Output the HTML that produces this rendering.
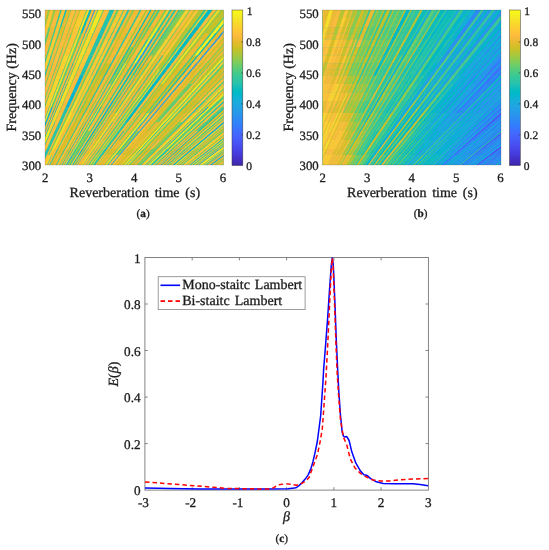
<!DOCTYPE html>
<html><head><meta charset="utf-8"><title>Figure</title>
<style>
html,body{margin:0;padding:0;background:#fff;}
svg{display:block;font-family:"Liberation Serif",serif;fill:#1c1c1c;}
text{stroke:#1c1c1c;stroke-width:0.3px;text-rendering:geometricPrecision}
.t{font-size:12.8px}
.t2{font-size:13.2px}
.tc{font-size:11.5px}
.l{font-size:14px}
.cap{font-size:11.2px}
.cap tspan{font-weight:bold}
</style></head><body>
<svg width="549" height="550" viewBox="0 0 549 550">
<defs>
<linearGradient id="pg" x1="0" y1="1" x2="0" y2="0">
<stop offset="0.0000" stop-color="#3e26a8"/>
<stop offset="0.0159" stop-color="#402ab4"/>
<stop offset="0.0317" stop-color="#422ec0"/>
<stop offset="0.0476" stop-color="#4332cb"/>
<stop offset="0.0635" stop-color="#4537d5"/>
<stop offset="0.0794" stop-color="#463cde"/>
<stop offset="0.0952" stop-color="#4741e5"/>
<stop offset="0.1111" stop-color="#4747eb"/>
<stop offset="0.1270" stop-color="#484df0"/>
<stop offset="0.1429" stop-color="#4852f4"/>
<stop offset="0.1587" stop-color="#4758f8"/>
<stop offset="0.1746" stop-color="#465efb"/>
<stop offset="0.1905" stop-color="#4563fd"/>
<stop offset="0.2063" stop-color="#4269fe"/>
<stop offset="0.2222" stop-color="#3e6fff"/>
<stop offset="0.2381" stop-color="#3875fe"/>
<stop offset="0.2540" stop-color="#327cfc"/>
<stop offset="0.2698" stop-color="#2f81fa"/>
<stop offset="0.2857" stop-color="#2e87f7"/>
<stop offset="0.3016" stop-color="#2d8cf3"/>
<stop offset="0.3175" stop-color="#2b91ef"/>
<stop offset="0.3333" stop-color="#2797eb"/>
<stop offset="0.3492" stop-color="#259be8"/>
<stop offset="0.3651" stop-color="#23a0e5"/>
<stop offset="0.3810" stop-color="#20a5e3"/>
<stop offset="0.3968" stop-color="#1ca9df"/>
<stop offset="0.4127" stop-color="#18addb"/>
<stop offset="0.4286" stop-color="#12b1d6"/>
<stop offset="0.4444" stop-color="#08b5d0"/>
<stop offset="0.4603" stop-color="#01b8ca"/>
<stop offset="0.4762" stop-color="#02bac3"/>
<stop offset="0.4921" stop-color="#0bbdbd"/>
<stop offset="0.5079" stop-color="#19bfb6"/>
<stop offset="0.5238" stop-color="#24c1ae"/>
<stop offset="0.5397" stop-color="#2cc4a7"/>
<stop offset="0.5556" stop-color="#31c69f"/>
<stop offset="0.5714" stop-color="#37c897"/>
<stop offset="0.5873" stop-color="#3fca8e"/>
<stop offset="0.6032" stop-color="#4acb84"/>
<stop offset="0.6190" stop-color="#57cc7a"/>
<stop offset="0.6349" stop-color="#64cd6f"/>
<stop offset="0.6508" stop-color="#72cd64"/>
<stop offset="0.6667" stop-color="#81cc59"/>
<stop offset="0.6825" stop-color="#8fcb4e"/>
<stop offset="0.6984" stop-color="#9dc943"/>
<stop offset="0.7143" stop-color="#abc739"/>
<stop offset="0.7302" stop-color="#b9c431"/>
<stop offset="0.7460" stop-color="#c5c22a"/>
<stop offset="0.7619" stop-color="#d1bf27"/>
<stop offset="0.7778" stop-color="#dcbd29"/>
<stop offset="0.7937" stop-color="#e6bb2d"/>
<stop offset="0.8095" stop-color="#f0ba36"/>
<stop offset="0.8254" stop-color="#f8ba3d"/>
<stop offset="0.8413" stop-color="#febe3c"/>
<stop offset="0.8571" stop-color="#fec338"/>
<stop offset="0.8730" stop-color="#fec934"/>
<stop offset="0.8889" stop-color="#fccf30"/>
<stop offset="0.9048" stop-color="#fad62d"/>
<stop offset="0.9206" stop-color="#f7dc2a"/>
<stop offset="0.9365" stop-color="#f5e327"/>
<stop offset="0.9524" stop-color="#f5e924"/>
<stop offset="0.9683" stop-color="#f6ef20"/>
<stop offset="0.9841" stop-color="#f7f51b"/>
<stop offset="1.0000" stop-color="#f9fb15"/>
</linearGradient>
<filter id="bl" x="-5%" y="-5%" width="110%" height="110%"><feGaussianBlur stdDeviation="0.55"/></filter>
<clipPath id="c1"><rect x="45.0" y="10" width="178.5" height="155.0"/></clipPath>
<clipPath id="c2"><rect x="322.5" y="10" width="178.5" height="155.0"/></clipPath>
</defs>
<rect width="549" height="550" fill="#fff"/>
<rect x="45.0" y="10.0" width="178.5" height="155.0" fill="#c8c129"/>
<g clip-path="url(#c1)" filter="url(#bl)">
<path fill="#f6f020" d="M232.1 8.0L236.0 8.0L227.8 18.3L224.0 18.3z"/>
<path fill="#5ccc76" d="M230.0 8.0L232.5 8.0L224.4 18.3L221.9 18.3z"/>
<path fill="#c0c32d" d="M224.2 8.0L230.4 8.0L222.3 18.3L216.3 18.3z"/>
<path fill="#9ec942" d="M221.3 8.0L224.6 8.0L216.7 18.3L213.5 18.3z"/>
<path fill="#f8da2b" d="M218.9 8.0L221.7 8.0L213.9 18.3L211.2 18.3z"/>
<path fill="#7bcc5d" d="M217.3 8.0L219.3 8.0L211.6 18.3L209.6 18.3z"/>
<path fill="#f7ba3d" d="M213.5 8.0L217.7 8.0L210.0 18.3L206.0 18.3z"/>
<path fill="#02bac4" d="M208.9 8.0L213.9 8.0L206.4 18.3L201.5 18.3z"/>
<path fill="#fdce31" d="M207.4 8.0L209.3 8.0L201.9 18.3L200.0 18.3z"/>
<path fill="#3fca8e" d="M204.6 8.0L207.8 8.0L200.4 18.3L197.3 18.3z"/>
<path fill="#c8c129" d="M202.6 8.0L205.0 8.0L197.7 18.3L195.3 18.3z"/>
<path fill="#aac73a" d="M199.8 8.0L203.0 8.0L195.7 18.3L192.6 18.3z"/>
<path fill="#fec438" d="M196.8 8.0L200.2 8.0L193.0 18.3L189.7 18.3z"/>
<path fill="#c2c22c" d="M195.1 8.0L197.2 8.0L190.1 18.3L188.1 18.3z"/>
<path fill="#fcbc3d" d="M191.6 8.0L195.5 8.0L188.5 18.3L184.7 18.3z"/>
<path fill="#7ecc5b" d="M190.2 8.0L192.0 8.0L185.1 18.3L183.4 18.3z"/>
<path fill="#fcd030" d="M186.7 8.0L190.6 8.0L183.8 18.3L179.9 18.3z"/>
<path fill="#85cb55" d="M184.8 8.0L187.1 8.0L180.3 18.3L178.1 18.3z"/>
<path fill="#70cd65" d="M180.6 8.0L185.2 8.0L178.5 18.3L174.0 18.3z"/>
<path fill="#05bbc1" d="M179.6 8.0L181.0 8.0L174.4 18.3L173.1 18.3z"/>
<path fill="#f8ba3d" d="M177.2 8.0L180.0 8.0L173.5 18.3L170.7 18.3z"/>
<path fill="#34c79c" d="M174.8 8.0L177.6 8.0L171.1 18.3L168.4 18.3z"/>
<path fill="#f6ba3b" d="M172.7 8.0L175.2 8.0L168.8 18.3L166.3 18.3z"/>
<path fill="#32c69f" d="M170.3 8.0L173.1 8.0L166.7 18.3L164.0 18.3z"/>
<path fill="#fdce31" d="M167.7 8.0L170.7 8.0L164.4 18.3L161.5 18.3z"/>
<path fill="#87cb54" d="M165.6 8.0L168.1 8.0L161.9 18.3L159.4 18.3z"/>
<path fill="#eeba34" d="M161.0 8.0L166.0 8.0L159.8 18.3L155.0 18.3z"/>
<path fill="#41ca8c" d="M158.8 8.0L161.4 8.0L155.4 18.3L152.9 18.3z"/>
<path fill="#d5be28" d="M156.9 8.0L159.2 8.0L153.3 18.3L151.0 18.3z"/>
<path fill="#31c6a0" d="M155.6 8.0L157.3 8.0L151.4 18.3L149.7 18.3z"/>
<path fill="#e8bb2e" d="M152.2 8.0L156.0 8.0L150.1 18.3L146.5 18.3z"/>
<path fill="#05bbc1" d="M150.7 8.0L152.6 8.0L146.9 18.3L144.9 18.3z"/>
<path fill="#febd3c" d="M148.3 8.0L151.1 8.0L145.3 18.3L142.7 18.3z"/>
<path fill="#a7c73c" d="M146.4 8.0L148.7 8.0L143.1 18.3L140.8 18.3z"/>
<path fill="#fec03b" d="M142.1 8.0L146.8 8.0L141.2 18.3L136.7 18.3z"/>
<path fill="#33c69e" d="M140.3 8.0L142.5 8.0L137.1 18.3L134.9 18.3z"/>
<path fill="#f0ba36" d="M135.0 8.0L140.7 8.0L135.3 18.3L129.7 18.3z"/>
<path fill="#94ca4a" d="M132.7 8.0L135.4 8.0L130.1 18.3L127.5 18.3z"/>
<path fill="#f4ba3a" d="M130.2 8.0L133.1 8.0L127.9 18.3L125.1 18.3z"/>
<path fill="#2cc4a7" d="M128.0 8.0L130.6 8.0L125.5 18.3L123.0 18.3z"/>
<path fill="#fec13a" d="M124.8 8.0L128.4 8.0L123.4 18.3L119.8 18.3z"/>
<path fill="#41ca8d" d="M123.8 8.0L125.2 8.0L120.2 18.3L118.8 18.3z"/>
<path fill="#fec636" d="M119.5 8.0L124.2 8.0L119.2 18.3L114.7 18.3z"/>
<path fill="#69cd6b" d="M117.1 8.0L119.9 8.0L115.1 18.3L112.4 18.3z"/>
<path fill="#fdbd3d" d="M114.8 8.0L117.5 8.0L112.8 18.3L110.2 18.3z"/>
<path fill="#22c1b0" d="M109.9 8.0L115.2 8.0L110.6 18.3L105.4 18.3z"/>
<path fill="#fdbd3d" d="M104.4 8.0L110.3 8.0L105.8 18.3L100.0 18.3z"/>
<path fill="#4ccb82" d="M103.4 8.0L104.8 8.0L100.4 18.3L99.1 18.3z"/>
<path fill="#f5e227" d="M98.9 8.0L103.8 8.0L99.5 18.3L94.7 18.3z"/>
<path fill="#54cc7c" d="M97.8 8.0L99.3 8.0L95.1 18.3L93.7 18.3z"/>
<path fill="#fec735" d="M95.7 8.0L98.2 8.0L94.1 18.3L91.6 18.3z"/>
<path fill="#2994ed" d="M94.6 8.0L96.1 8.0L92.0 18.3L90.6 18.3z"/>
<path fill="#f9ba3d" d="M92.0 8.0L95.0 8.0L91.0 18.3L88.0 18.3z"/>
<path fill="#01bac5" d="M89.8 8.0L92.4 8.0L88.4 18.3L85.8 18.3z"/>
<path fill="#f7db2a" d="M87.5 8.0L90.2 8.0L86.2 18.3L83.7 18.3z"/>
<path fill="#60cd72" d="M86.6 8.0L87.9 8.0L84.1 18.3L82.7 18.3z"/>
<path fill="#fec735" d="M81.0 8.0L87.0 8.0L83.1 18.3L77.3 18.3z"/>
<path fill="#bbc430" d="M79.7 8.0L81.4 8.0L77.7 18.3L76.1 18.3z"/>
<path fill="#f9ba3d" d="M76.8 8.0L80.1 8.0L76.5 18.3L73.3 18.3z"/>
<path fill="#87cb54" d="M75.9 8.0L77.2 8.0L73.7 18.3L72.4 18.3z"/>
<path fill="#fdbd3d" d="M71.4 8.0L76.3 8.0L72.8 18.3L68.1 18.3z"/>
<path fill="#73cd62" d="M70.5 8.0L71.8 8.0L68.5 18.3L67.1 18.3z"/>
<path fill="#e5bb2d" d="M67.1 8.0L70.9 8.0L67.5 18.3L63.8 18.3z"/>
<path fill="#10beba" d="M65.5 8.0L67.5 8.0L64.2 18.3L62.3 18.3z"/>
<path fill="#fec338" d="M62.0 8.0L65.9 8.0L62.7 18.3L58.9 18.3z"/>
<path fill="#37c897" d="M60.4 8.0L62.4 8.0L59.3 18.3L57.3 18.3z"/>
<path fill="#f3ba39" d="M55.8 8.0L60.8 8.0L57.7 18.3L52.9 18.3z"/>
<path fill="#95ca49" d="M53.6 8.0L56.2 8.0L53.3 18.3L50.8 18.3z"/>
<path fill="#fec437" d="M50.1 8.0L54.0 8.0L51.2 18.3L47.4 18.3z"/>
<path fill="#98ca47" d="M48.0 8.0L50.5 8.0L47.8 18.3L45.3 18.3z"/>
<path fill="#fabb3d" d="M45.6 8.0L48.4 8.0L45.7 18.3L43.0 18.3z"/>
<path fill="#9ec942" d="M44.4 8.0L46.0 8.0L43.4 18.3L41.8 18.3z"/>
<path fill="#fec339" d="M40.2 8.0L44.8 8.0L42.2 18.3L37.7 18.3z"/>
<path fill="#249fe5" d="M233.7 18.0L236.2 18.0L228.1 27.8L225.8 27.8z"/>
<path fill="#fec537" d="M229.4 18.0L234.1 18.0L226.2 27.8L221.5 27.8z"/>
<path fill="#31c6a0" d="M227.4 18.0L229.8 18.0L221.9 27.8L219.6 27.8z"/>
<path fill="#f6f020" d="M224.0 18.0L227.8 18.0L220.0 27.8L216.3 27.8z"/>
<path fill="#65cd6e" d="M221.9 18.0L224.4 18.0L216.7 27.8L214.3 27.8z"/>
<path fill="#c8c129" d="M216.3 18.0L222.3 18.0L214.7 27.8L208.8 27.8z"/>
<path fill="#a8c73b" d="M213.5 18.0L216.7 18.0L209.2 27.8L206.1 27.8z"/>
<path fill="#f6df29" d="M211.2 18.0L213.9 18.0L206.5 27.8L203.9 27.8z"/>
<path fill="#86cb55" d="M209.6 18.0L211.6 18.0L204.3 27.8L202.3 27.8z"/>
<path fill="#fcbc3d" d="M206.0 18.0L210.0 18.0L202.7 27.8L198.8 27.8z"/>
<path fill="#07bcbf" d="M201.5 18.0L206.4 18.0L199.2 27.8L194.4 27.8z"/>
<path fill="#fbd32f" d="M200.0 18.0L201.9 18.0L194.8 27.8L192.9 27.8z"/>
<path fill="#46cb87" d="M197.3 18.0L200.4 18.0L193.3 27.8L190.3 27.8z"/>
<path fill="#d1bf27" d="M195.3 18.0L197.7 18.0L190.7 27.8L188.5 27.8z"/>
<path fill="#b4c534" d="M192.6 18.0L195.7 18.0L188.9 27.8L185.8 27.8z"/>
<path fill="#fec835" d="M189.7 18.0L193.0 18.0L186.2 27.8L183.0 27.8z"/>
<path fill="#cbc129" d="M188.1 18.0L190.1 18.0L183.4 27.8L181.4 27.8z"/>
<path fill="#febf3b" d="M184.7 18.0L188.5 18.0L181.8 27.8L178.1 27.8z"/>
<path fill="#88cb53" d="M183.4 18.0L185.1 18.0L178.5 27.8L176.8 27.8z"/>
<path fill="#fad52e" d="M179.9 18.0L183.8 18.0L177.2 27.8L173.5 27.8z"/>
<path fill="#8fca4d" d="M178.1 18.0L180.3 18.0L173.9 27.8L171.7 27.8z"/>
<path fill="#7acc5d" d="M174.0 18.0L178.5 18.0L172.1 27.8L167.8 27.8z"/>
<path fill="#0bbdbc" d="M173.1 18.0L174.4 18.0L168.2 27.8L166.8 27.8z"/>
<path fill="#fcbd3d" d="M170.7 18.0L173.5 18.0L167.2 27.8L164.5 27.8z"/>
<path fill="#38c896" d="M168.4 18.0L171.1 18.0L164.9 27.8L162.3 27.8z"/>
<path fill="#fabc3d" d="M166.3 18.0L168.8 18.0L162.7 27.8L160.3 27.8z"/>
<path fill="#36c799" d="M164.0 18.0L166.7 18.0L160.7 27.8L158.0 27.8z"/>
<path fill="#fbd22f" d="M161.5 18.0L164.4 18.0L158.4 27.8L155.6 27.8z"/>
<path fill="#91ca4c" d="M159.4 18.0L161.9 18.0L156.0 27.8L153.6 27.8z"/>
<path fill="#f4ba39" d="M155.0 18.0L159.8 18.0L154.0 27.8L149.3 27.8z"/>
<path fill="#49cb86" d="M152.9 18.0L155.4 18.0L149.7 27.8L147.2 27.8z"/>
<path fill="#ddbd29" d="M151.0 18.0L153.3 18.0L147.6 27.8L145.4 27.8z"/>
<path fill="#35c79a" d="M149.7 18.0L151.4 18.0L145.8 27.8L144.1 27.8z"/>
<path fill="#eeba34" d="M146.5 18.0L150.1 18.0L144.5 27.8L141.0 27.8z"/>
<path fill="#0cbdbc" d="M144.9 18.0L146.9 18.0L141.4 27.8L139.5 27.8z"/>
<path fill="#fec13a" d="M142.7 18.0L145.3 18.0L139.9 27.8L137.3 27.8z"/>
<path fill="#b1c636" d="M140.8 18.0L143.1 18.0L137.7 27.8L135.5 27.8z"/>
<path fill="#fec438" d="M136.7 18.0L141.2 18.0L135.9 27.8L131.5 27.8z"/>
<path fill="#37c898" d="M134.9 18.0L137.1 18.0L131.9 27.8L129.7 27.8z"/>
<path fill="#f6ba3b" d="M129.7 18.0L135.3 18.0L130.1 27.8L124.7 27.8z"/>
<path fill="#9ec942" d="M127.5 18.0L130.1 18.0L125.1 27.8L122.6 27.8z"/>
<path fill="#fabb3d" d="M125.1 18.0L127.9 18.0L123.0 27.8L120.3 27.8z"/>
<path fill="#30c5a2" d="M123.0 18.0L125.5 18.0L120.7 27.8L118.2 27.8z"/>
<path fill="#fec537" d="M119.8 18.0L123.4 18.0L118.6 27.8L115.1 27.8z"/>
<path fill="#48cb86" d="M118.8 18.0L120.2 18.0L115.5 27.8L114.2 27.8z"/>
<path fill="#feca33" d="M114.7 18.0L119.2 18.0L114.6 27.8L110.2 27.8z"/>
<path fill="#73cd63" d="M112.4 18.0L115.1 18.0L110.6 27.8L107.9 27.8z"/>
<path fill="#fec13a" d="M110.2 18.0L112.8 18.0L108.3 27.8L105.7 27.8z"/>
<path fill="#28c3aa" d="M105.4 18.0L110.6 18.0L106.1 27.8L101.1 27.8z"/>
<path fill="#fec13a" d="M100.0 18.0L105.8 18.0L101.5 27.8L95.9 27.8z"/>
<path fill="#55cc7b" d="M99.1 18.0L100.4 18.0L96.3 27.8L95.0 27.8z"/>
<path fill="#f5e625" d="M94.7 18.0L99.5 18.0L95.4 27.8L90.7 27.8z"/>
<path fill="#5dcc74" d="M93.7 18.0L95.1 18.0L91.1 27.8L89.7 27.8z"/>
<path fill="#fdcb32" d="M91.6 18.0L94.1 18.0L90.1 27.8L87.7 27.8z"/>
<path fill="#2797ea" d="M90.6 18.0L92.0 18.0L88.1 27.8L86.7 27.8z"/>
<path fill="#fdbd3d" d="M88.0 18.0L91.0 18.0L87.1 27.8L84.2 27.8z"/>
<path fill="#06bcc0" d="M85.8 18.0L88.4 18.0L84.6 27.8L82.1 27.8z"/>
<path fill="#f6e028" d="M83.7 18.0L86.2 18.0L82.5 27.8L80.0 27.8z"/>
<path fill="#6acd6a" d="M82.7 18.0L84.1 18.0L80.4 27.8L79.1 27.8z"/>
<path fill="#fdcb33" d="M77.3 18.0L83.1 18.0L79.5 27.8L73.8 27.8z"/>
<path fill="#c4c22b" d="M76.1 18.0L77.7 18.0L74.2 27.8L72.6 27.8z"/>
<path fill="#fdbd3d" d="M73.3 18.0L76.5 18.0L73.0 27.8L69.9 27.8z"/>
<path fill="#91ca4c" d="M72.4 18.0L73.7 18.0L70.3 27.8L69.1 27.8z"/>
<path fill="#fec03a" d="M68.1 18.0L72.8 18.0L69.5 27.8L64.8 27.8z"/>
<path fill="#7ecc5b" d="M67.1 18.0L68.5 18.0L65.2 27.8L63.9 27.8z"/>
<path fill="#ebba32" d="M63.8 18.0L67.5 18.0L64.3 27.8L60.7 27.8z"/>
<path fill="#19bfb5" d="M62.3 18.0L64.2 18.0L61.1 27.8L59.2 27.8z"/>
<path fill="#fec735" d="M58.9 18.0L62.7 18.0L59.6 27.8L55.9 27.8z"/>
<path fill="#3dc990" d="M57.3 18.0L59.3 18.0L56.3 27.8L54.4 27.8z"/>
<path fill="#f9ba3d" d="M52.9 18.0L57.7 18.0L54.8 27.8L50.1 27.8z"/>
<path fill="#9fc942" d="M50.8 18.0L53.3 18.0L50.5 27.8L48.0 27.8z"/>
<path fill="#fec934" d="M47.4 18.0L51.2 18.0L48.4 27.8L44.7 27.8z"/>
<path fill="#a2c840" d="M45.3 18.0L47.8 18.0L45.1 27.8L42.8 27.8z"/>
<path fill="#febe3c" d="M43.0 18.0L45.7 18.0L43.2 27.8L40.5 27.8z"/>
<path fill="#a8c73b" d="M41.8 18.0L43.4 18.0L40.9 27.8L39.4 27.8z"/>
<path fill="#fec736" d="M37.7 18.0L42.2 18.0L39.8 27.8L35.3 27.8z"/>
<path fill="#c1c32c" d="M231.2 27.5L233.9 27.5L228.7 33.8L226.0 33.8z"/>
<path fill="#fabb3d" d="M227.7 27.5L231.6 27.5L226.4 33.8L222.7 33.8z"/>
<path fill="#259be8" d="M225.8 27.5L228.1 27.5L223.1 33.8L220.7 33.8z"/>
<path fill="#eabb30" d="M221.5 27.5L226.2 27.5L221.1 33.8L216.5 33.8z"/>
<path fill="#2cc4a7" d="M219.6 27.5L221.9 27.5L216.9 33.8L214.7 33.8z"/>
<path fill="#f6f020" d="M216.3 27.5L220.0 27.5L215.1 33.8L211.4 33.8z"/>
<path fill="#59cc78" d="M214.3 27.5L216.7 27.5L211.8 33.8L209.5 33.8z"/>
<path fill="#bdc32f" d="M208.8 27.5L214.7 27.5L209.9 33.8L204.1 33.8z"/>
<path fill="#9bc945" d="M206.1 27.5L209.2 27.5L204.5 33.8L201.4 33.8z"/>
<path fill="#f6df29" d="M203.9 27.5L206.5 27.5L201.8 33.8L199.2 33.8z"/>
<path fill="#78cc5f" d="M202.3 27.5L204.3 27.5L199.6 33.8L197.7 33.8z"/>
<path fill="#f6ba3b" d="M198.8 27.5L202.7 27.5L198.1 33.8L194.2 33.8z"/>
<path fill="#01b9c6" d="M194.4 27.5L199.2 27.5L194.6 33.8L189.9 33.8z"/>
<path fill="#fdcd32" d="M192.9 27.5L194.8 27.5L190.3 33.8L188.5 33.8z"/>
<path fill="#3dc990" d="M190.3 27.5L193.3 27.5L188.9 33.8L185.9 33.8z"/>
<path fill="#c6c22a" d="M188.5 27.5L190.7 27.5L186.3 33.8L184.1 33.8z"/>
<path fill="#a7c73c" d="M185.8 27.5L188.9 27.5L184.5 33.8L181.5 33.8z"/>
<path fill="#fec339" d="M183.0 27.5L186.2 27.5L181.9 33.8L178.7 33.8z"/>
<path fill="#bfc32d" d="M181.4 27.5L183.4 27.5L179.1 33.8L177.2 33.8z"/>
<path fill="#fabb3d" d="M178.1 27.5L181.8 27.5L177.6 33.8L173.9 33.8z"/>
<path fill="#7bcc5d" d="M176.8 27.5L178.5 27.5L174.3 33.8L172.7 33.8z"/>
<path fill="#feca33" d="M173.5 27.5L177.2 27.5L173.1 33.8L169.4 33.8z"/>
<path fill="#82cc58" d="M171.7 27.5L173.9 27.5L169.8 33.8L167.7 33.8z"/>
<path fill="#6dcd68" d="M167.8 27.5L172.1 27.5L168.1 33.8L163.8 33.8z"/>
<path fill="#03bbc3" d="M166.8 27.5L168.2 27.5L164.2 33.8L162.9 33.8z"/>
<path fill="#f6ba3c" d="M164.5 27.5L167.2 27.5L163.3 33.8L160.6 33.8z"/>
<path fill="#32c69e" d="M162.3 27.5L164.9 27.5L161.0 33.8L158.4 33.8z"/>
<path fill="#f4ba39" d="M160.3 27.5L162.7 27.5L158.8 33.8L156.5 33.8z"/>
<path fill="#30c5a1" d="M158.0 27.5L160.7 27.5L156.9 33.8L154.2 33.8z"/>
<path fill="#f5eb23" d="M155.6 27.5L158.4 27.5L154.6 33.8L151.9 33.8z"/>
<path fill="#84cc56" d="M153.6 27.5L156.0 27.5L152.3 33.8L149.9 33.8z"/>
<path fill="#ecba32" d="M149.3 27.5L154.0 27.5L150.3 33.8L145.7 33.8z"/>
<path fill="#6bcd69" d="M147.2 27.5L149.7 27.5L146.1 33.8L143.6 33.8z"/>
<path fill="#d3bf27" d="M145.4 27.5L147.6 27.5L144.0 33.8L141.8 33.8z"/>
<path fill="#30c5a2" d="M144.1 27.5L145.8 27.5L142.2 33.8L140.6 33.8z"/>
<path fill="#e6bb2d" d="M141.0 27.5L144.5 27.5L141.0 33.8L137.5 33.8z"/>
<path fill="#03bbc2" d="M139.5 27.5L141.4 27.5L137.9 33.8L136.1 33.8z"/>
<path fill="#fcbd3d" d="M137.3 27.5L139.9 27.5L136.5 33.8L133.9 33.8z"/>
<path fill="#a4c83e" d="M135.5 27.5L137.7 27.5L134.3 33.8L132.1 33.8z"/>
<path fill="#febf3c" d="M131.5 27.5L135.9 27.5L132.5 33.8L128.2 33.8z"/>
<path fill="#31c69f" d="M129.7 27.5L131.9 27.5L128.6 33.8L126.5 33.8z"/>
<path fill="#eeba34" d="M124.7 27.5L130.1 27.5L126.9 33.8L121.6 33.8z"/>
<path fill="#c8c129" d="M122.6 27.5L125.1 27.5L122.0 33.8L119.5 33.8z"/>
<path fill="#f2ba38" d="M120.3 27.5L123.0 27.5L119.9 33.8L117.2 33.8z"/>
<path fill="#2ac3a9" d="M118.2 27.5L120.7 27.5L117.6 33.8L115.1 33.8z"/>
<path fill="#fec03b" d="M115.1 27.5L118.6 27.5L115.5 33.8L112.2 33.8z"/>
<path fill="#3eca8f" d="M114.2 27.5L115.5 27.5L112.6 33.8L111.2 33.8z"/>
<path fill="#fec537" d="M110.2 27.5L114.6 27.5L111.6 33.8L107.3 33.8z"/>
<path fill="#66cd6d" d="M107.9 27.5L110.6 27.5L107.7 33.8L105.1 33.8z"/>
<path fill="#fcbc3d" d="M105.7 27.5L108.3 27.5L105.5 33.8L102.9 33.8z"/>
<path fill="#20c1b1" d="M101.1 27.5L106.1 27.5L103.3 33.8L98.4 33.8z"/>
<path fill="#fcbc3d" d="M95.9 27.5L101.5 27.5L98.8 33.8L93.3 33.8z"/>
<path fill="#4acb85" d="M95.0 27.5L96.3 27.5L93.7 33.8L92.4 33.8z"/>
<path fill="#f6e128" d="M90.7 27.5L95.4 27.5L92.8 33.8L88.2 33.8z"/>
<path fill="#52cc7e" d="M89.7 27.5L91.1 27.5L88.6 33.8L87.2 33.8z"/>
<path fill="#fec636" d="M87.7 27.5L90.1 27.5L87.6 33.8L85.2 33.8z"/>
<path fill="#2a93ee" d="M86.7 27.5L88.1 27.5L85.6 33.8L84.3 33.8z"/>
<path fill="#f7ba3c" d="M84.2 27.5L87.1 27.5L84.7 33.8L81.8 33.8z"/>
<path fill="#01b9c7" d="M82.1 27.5L84.6 27.5L82.2 33.8L79.8 33.8z"/>
<path fill="#f8da2b" d="M80.0 27.5L82.5 27.5L80.2 33.8L77.7 33.8z"/>
<path fill="#5dcc75" d="M79.1 27.5L80.4 27.5L78.1 33.8L76.8 33.8z"/>
<path fill="#fec636" d="M73.8 27.5L79.5 27.5L77.2 33.8L71.6 33.8z"/>
<path fill="#b8c431" d="M72.6 27.5L74.2 27.5L72.0 33.8L70.4 33.8z"/>
<path fill="#f7ba3c" d="M69.9 27.5L73.0 27.5L70.8 33.8L67.8 33.8z"/>
<path fill="#84cc57" d="M69.1 27.5L70.3 27.5L68.2 33.8L67.0 33.8z"/>
<path fill="#fabb3d" d="M64.8 27.5L69.5 27.5L67.4 33.8L62.8 33.8z"/>
<path fill="#70cd65" d="M63.9 27.5L65.2 27.5L63.2 33.8L61.9 33.8z"/>
<path fill="#e3bc2c" d="M60.7 27.5L64.3 27.5L62.3 33.8L58.8 33.8z"/>
<path fill="#52cc7e" d="M59.2 27.5L61.1 27.5L59.2 33.8L57.3 33.8z"/>
<path fill="#fec239" d="M55.9 27.5L59.6 27.5L57.7 33.8L54.0 33.8z"/>
<path fill="#3fca8f" d="M54.4 27.5L56.3 27.5L54.4 33.8L52.6 33.8z"/>
<path fill="#f1ba37" d="M50.1 27.5L54.8 27.5L53.0 33.8L48.3 33.8z"/>
<path fill="#5dcc75" d="M48.0 27.5L50.5 27.5L48.7 33.8L46.3 33.8z"/>
<path fill="#fec338" d="M44.7 27.5L48.4 27.5L46.7 33.8L43.1 33.8z"/>
<path fill="#95ca49" d="M42.8 27.5L45.1 27.5L43.5 33.8L41.1 33.8z"/>
<path fill="#f9ba3d" d="M40.5 27.5L43.2 27.5L41.5 33.8L38.9 33.8z"/>
<path fill="#9bc945" d="M39.4 27.5L40.9 27.5L39.3 33.8L37.8 33.8z"/>
<path fill="#7bcc5d" d="M231.6 33.5L234.1 33.5L228.8 39.8L226.3 39.8z"/>
<path fill="#e5bb2d" d="M228.3 33.5L232.0 33.5L226.7 39.8L223.1 39.8z"/>
<path fill="#bac430" d="M226.0 33.5L228.7 33.5L223.5 39.8L220.9 39.8z"/>
<path fill="#f8ba3d" d="M222.7 33.5L226.4 33.5L221.3 39.8L217.6 39.8z"/>
<path fill="#2699e9" d="M220.7 33.5L223.1 33.5L218.0 39.8L215.7 39.8z"/>
<path fill="#e6bb2d" d="M216.5 33.5L221.1 33.5L216.1 39.8L211.6 39.8z"/>
<path fill="#01b8c8" d="M214.7 33.5L216.9 33.5L212.0 39.8L209.7 39.8z"/>
<path fill="#f6f020" d="M211.4 33.5L215.1 33.5L210.1 39.8L206.6 39.8z"/>
<path fill="#34c79b" d="M209.5 33.5L211.8 33.5L207.0 39.8L204.6 39.8z"/>
<path fill="#e3bb2c" d="M204.1 33.5L209.9 33.5L205.0 39.8L199.3 39.8z"/>
<path fill="#96ca49" d="M201.4 33.5L204.5 33.5L199.7 39.8L196.8 39.8z"/>
<path fill="#f7dd2a" d="M199.2 33.5L201.8 33.5L197.2 39.8L194.6 39.8z"/>
<path fill="#73cd63" d="M197.7 33.5L199.6 33.5L195.0 39.8L193.1 39.8z"/>
<path fill="#f2ba38" d="M194.2 33.5L198.1 33.5L193.5 39.8L189.7 39.8z"/>
<path fill="#01b8c8" d="M189.9 33.5L194.6 33.5L190.1 39.8L185.5 39.8z"/>
<path fill="#fdcb33" d="M188.5 33.5L190.3 33.5L185.9 39.8L184.1 39.8z"/>
<path fill="#3ac994" d="M185.9 33.5L188.9 33.5L184.5 39.8L181.6 39.8z"/>
<path fill="#c1c32c" d="M184.1 33.5L186.3 33.5L182.0 39.8L179.8 39.8z"/>
<path fill="#a4c83e" d="M181.5 33.5L184.5 33.5L180.2 39.8L177.2 39.8z"/>
<path fill="#fec13a" d="M178.7 33.5L181.9 33.5L177.6 39.8L174.5 39.8z"/>
<path fill="#bbc430" d="M177.2 33.5L179.1 33.5L174.9 39.8L173.0 39.8z"/>
<path fill="#f8ba3d" d="M173.9 33.5L177.6 33.5L173.4 39.8L169.8 39.8z"/>
<path fill="#75cc61" d="M172.7 33.5L174.3 33.5L170.2 39.8L168.6 39.8z"/>
<path fill="#fec835" d="M169.4 33.5L173.1 33.5L169.0 39.8L165.4 39.8z"/>
<path fill="#7dcc5c" d="M167.7 33.5L169.8 33.5L165.8 39.8L163.6 39.8z"/>
<path fill="#68cd6c" d="M163.8 33.5L168.1 33.5L164.0 39.8L159.8 39.8z"/>
<path fill="#02bac5" d="M162.9 33.5L164.2 33.5L160.2 39.8L158.9 39.8z"/>
<path fill="#f3ba39" d="M160.6 33.5L163.3 33.5L159.3 39.8L156.7 39.8z"/>
<path fill="#30c5a1" d="M158.4 33.5L161.0 33.5L157.1 39.8L154.6 39.8z"/>
<path fill="#f1ba37" d="M156.5 33.5L158.8 33.5L155.0 39.8L152.6 39.8z"/>
<path fill="#2ec5a4" d="M154.2 33.5L156.9 33.5L153.0 39.8L150.4 39.8z"/>
<path fill="#f5e924" d="M151.9 33.5L154.6 33.5L150.8 39.8L148.1 39.8z"/>
<path fill="#7fcc5a" d="M149.9 33.5L152.3 33.5L148.5 39.8L146.2 39.8z"/>
<path fill="#eeba35" d="M145.7 33.5L150.3 33.5L146.6 39.8L142.1 39.8z"/>
<path fill="#66cd6d" d="M143.6 33.5L146.1 33.5L142.5 39.8L140.1 39.8z"/>
<path fill="#cec028" d="M141.8 33.5L144.0 33.5L140.5 39.8L138.3 39.8z"/>
<path fill="#2dc4a5" d="M140.6 33.5L142.2 33.5L138.7 39.8L137.1 39.8z"/>
<path fill="#e2bc2b" d="M137.5 33.5L141.0 33.5L137.5 39.8L134.1 39.8z"/>
<path fill="#02bac5" d="M136.1 33.5L137.9 33.5L134.5 39.8L132.7 39.8z"/>
<path fill="#fabb3d" d="M133.9 33.5L136.5 33.5L133.1 39.8L130.5 39.8z"/>
<path fill="#9fc942" d="M132.1 33.5L134.3 33.5L130.9 39.8L128.7 39.8z"/>
<path fill="#fdbd3d" d="M128.2 33.5L132.5 33.5L129.1 39.8L124.9 39.8z"/>
<path fill="#2fc5a2" d="M126.5 33.5L128.6 33.5L125.3 39.8L123.2 39.8z"/>
<path fill="#e8bb2f" d="M121.6 33.5L126.9 33.5L123.6 39.8L118.4 39.8z"/>
<path fill="#c3c22b" d="M119.5 33.5L122.0 33.5L118.8 39.8L116.4 39.8z"/>
<path fill="#efba35" d="M117.2 33.5L119.9 33.5L116.8 39.8L114.1 39.8z"/>
<path fill="#3cc991" d="M115.1 33.5L117.6 33.5L114.5 39.8L112.1 39.8z"/>
<path fill="#febe3c" d="M112.2 33.5L115.5 33.5L112.5 39.8L109.2 39.8z"/>
<path fill="#3bc992" d="M111.2 33.5L112.6 33.5L109.6 39.8L108.2 39.8z"/>
<path fill="#fec239" d="M107.3 33.5L111.6 33.5L108.6 39.8L104.4 39.8z"/>
<path fill="#61cd71" d="M105.1 33.5L107.7 33.5L104.8 39.8L102.2 39.8z"/>
<path fill="#fabb3d" d="M102.9 33.5L105.5 33.5L102.6 39.8L100.1 39.8z"/>
<path fill="#1cc0b4" d="M98.4 33.5L103.3 33.5L100.5 39.8L95.7 39.8z"/>
<path fill="#fabb3d" d="M93.3 33.5L98.8 33.5L96.1 39.8L90.6 39.8z"/>
<path fill="#46cb88" d="M92.4 33.5L93.7 33.5L91.0 39.8L89.8 39.8z"/>
<path fill="#fad52d" d="M88.2 33.5L92.8 33.5L90.2 39.8L85.7 39.8z"/>
<path fill="#4dcc82" d="M87.2 33.5L88.6 33.5L86.1 39.8L84.7 39.8z"/>
<path fill="#fec438" d="M85.2 33.5L87.6 33.5L85.1 39.8L82.7 39.8z"/>
<path fill="#0bbdbd" d="M84.3 33.5L85.6 33.5L83.1 39.8L81.8 39.8z"/>
<path fill="#f4ba39" d="M81.8 33.5L84.7 33.5L82.2 39.8L79.4 39.8z"/>
<path fill="#55cc7c" d="M79.8 33.5L82.2 33.5L79.8 39.8L77.4 39.8z"/>
<path fill="#f9d82c" d="M77.7 33.5L80.2 33.5L77.8 39.8L75.4 39.8z"/>
<path fill="#59cc79" d="M76.8 33.5L78.1 33.5L75.8 39.8L74.5 39.8z"/>
<path fill="#fec438" d="M71.6 33.5L77.2 33.5L74.9 39.8L69.4 39.8z"/>
<path fill="#65cd6e" d="M70.4 33.5L72.0 33.5L69.8 39.8L68.3 39.8z"/>
<path fill="#f4ba3a" d="M67.8 33.5L70.8 33.5L68.7 39.8L65.7 39.8z"/>
<path fill="#adc638" d="M67.0 33.5L68.2 33.5L66.1 39.8L64.8 39.8z"/>
<path fill="#f7ba3c" d="M62.8 33.5L67.4 33.5L65.2 39.8L60.8 39.8z"/>
<path fill="#6bcd69" d="M61.9 33.5L63.2 33.5L61.2 39.8L59.9 39.8z"/>
<path fill="#ebba31" d="M58.8 33.5L62.3 33.5L60.3 39.8L56.8 39.8z"/>
<path fill="#4ecc81" d="M57.3 33.5L59.2 33.5L57.2 39.8L55.4 39.8z"/>
<path fill="#fec03b" d="M54.0 33.5L57.7 33.5L55.8 39.8L52.2 39.8z"/>
<path fill="#3cc992" d="M52.6 33.5L54.4 33.5L52.6 39.8L50.7 39.8z"/>
<path fill="#eeba34" d="M48.3 33.5L53.0 33.5L51.1 39.8L46.6 39.8z"/>
<path fill="#58cc79" d="M46.3 33.5L48.7 33.5L47.0 39.8L44.6 39.8z"/>
<path fill="#fec13a" d="M43.1 33.5L46.7 33.5L45.0 39.8L41.4 39.8z"/>
<path fill="#8fca4d" d="M41.1 33.5L43.5 33.5L41.8 39.8L39.5 39.8z"/>
<path fill="#fec338" d="M38.9 33.5L41.5 33.5L39.9 39.8L37.3 39.8z"/>
<path fill="#96ca49" d="M37.8 33.5L39.3 33.5L37.7 39.8L36.2 39.8z"/>
<path fill="#fabb3d" d="M232.3 39.5L235.2 39.5L228.0 47.8L225.1 47.8z"/>
<path fill="#78cc5f" d="M231.1 39.5L232.7 39.5L225.5 47.8L224.0 47.8z"/>
<path fill="#edba33" d="M228.4 39.5L231.5 39.5L224.4 47.8L221.3 47.8z"/>
<path fill="#8acb52" d="M226.3 39.5L228.8 39.5L221.7 47.8L219.3 47.8z"/>
<path fill="#eeba34" d="M223.1 39.5L226.7 39.5L219.7 47.8L216.2 47.8z"/>
<path fill="#c6c22a" d="M220.9 39.5L223.5 39.5L216.6 47.8L214.0 47.8z"/>
<path fill="#febe3c" d="M217.6 39.5L221.3 39.5L214.4 47.8L210.8 47.8z"/>
<path fill="#249ee6" d="M215.7 39.5L218.0 39.5L211.2 47.8L208.9 47.8z"/>
<path fill="#f0ba36" d="M211.6 39.5L216.1 39.5L209.3 47.8L204.9 47.8z"/>
<path fill="#04bbc2" d="M209.7 39.5L212.0 39.5L205.3 47.8L203.2 47.8z"/>
<path fill="#f6f020" d="M206.6 39.5L210.1 39.5L203.6 47.8L200.1 47.8z"/>
<path fill="#3bc993" d="M204.6 39.5L207.0 39.5L200.5 47.8L198.2 47.8z"/>
<path fill="#edba33" d="M199.3 39.5L205.0 39.5L198.6 47.8L193.0 47.8z"/>
<path fill="#a4c83e" d="M196.8 39.5L199.7 39.5L193.4 47.8L190.5 47.8z"/>
<path fill="#f5e427" d="M194.6 39.5L197.2 39.5L190.9 47.8L188.4 47.8z"/>
<path fill="#82cc58" d="M193.1 39.5L195.0 39.5L188.8 47.8L187.0 47.8z"/>
<path fill="#fabb3d" d="M189.7 39.5L193.5 39.5L187.4 47.8L183.6 47.8z"/>
<path fill="#05bbc1" d="M185.5 39.5L190.1 39.5L184.0 47.8L179.5 47.8z"/>
<path fill="#fcd12f" d="M184.1 39.5L185.9 39.5L179.9 47.8L178.2 47.8z"/>
<path fill="#43ca8a" d="M181.6 39.5L184.5 39.5L178.6 47.8L175.7 47.8z"/>
<path fill="#cdc028" d="M179.8 39.5L182.0 39.5L176.1 47.8L174.0 47.8z"/>
<path fill="#b1c635" d="M177.2 39.5L180.2 39.5L174.4 47.8L171.5 47.8z"/>
<path fill="#fec736" d="M174.5 39.5L177.6 39.5L171.9 47.8L168.8 47.8z"/>
<path fill="#c7c129" d="M173.0 39.5L174.9 39.5L169.2 47.8L167.4 47.8z"/>
<path fill="#febe3c" d="M169.8 39.5L173.4 39.5L167.8 47.8L164.2 47.8z"/>
<path fill="#84cb56" d="M168.6 39.5L170.2 39.5L164.6 47.8L163.0 47.8z"/>
<path fill="#fdce31" d="M165.4 39.5L169.0 39.5L163.4 47.8L159.9 47.8z"/>
<path fill="#8bcb50" d="M163.6 39.5L165.8 39.5L160.3 47.8L158.3 47.8z"/>
<path fill="#76cc60" d="M159.8 39.5L164.0 39.5L158.7 47.8L154.6 47.8z"/>
<path fill="#09bcbe" d="M158.9 39.5L160.2 39.5L155.0 47.8L153.7 47.8z"/>
<path fill="#fbbc3d" d="M156.7 39.5L159.3 39.5L154.1 47.8L151.5 47.8z"/>
<path fill="#36c898" d="M154.6 39.5L157.1 39.5L151.9 47.8L149.4 47.8z"/>
<path fill="#f4ba3a" d="M152.6 39.5L155.0 39.5L149.8 47.8L147.6 47.8z"/>
<path fill="#249fe5" d="M150.4 39.5L153.0 39.5L148.0 47.8L145.4 47.8z"/>
<path fill="#f6ef20" d="M148.1 39.5L150.8 39.5L145.8 47.8L143.2 47.8z"/>
<path fill="#31c6a0" d="M146.2 39.5L148.5 39.5L143.6 47.8L141.3 47.8z"/>
<path fill="#f7ba3c" d="M142.1 39.5L146.6 39.5L141.7 47.8L137.2 47.8z"/>
<path fill="#91ca4d" d="M140.1 39.5L142.5 39.5L137.6 47.8L135.3 47.8z"/>
<path fill="#dabd28" d="M138.3 39.5L140.5 39.5L135.7 47.8L133.6 47.8z"/>
<path fill="#33c69d" d="M137.1 39.5L138.7 39.5L134.0 47.8L132.4 47.8z"/>
<path fill="#ecba32" d="M134.1 39.5L137.5 39.5L132.8 47.8L129.5 47.8z"/>
<path fill="#09bcbe" d="M132.7 39.5L134.5 39.5L129.9 47.8L128.1 47.8z"/>
<path fill="#fec03b" d="M130.5 39.5L133.1 39.5L128.5 47.8L126.0 47.8z"/>
<path fill="#adc638" d="M128.7 39.5L130.9 39.5L126.4 47.8L124.3 47.8z"/>
<path fill="#fec239" d="M124.9 39.5L129.1 39.5L124.7 47.8L120.5 47.8z"/>
<path fill="#29c3aa" d="M123.2 39.5L125.3 39.5L120.9 47.8L118.9 47.8z"/>
<path fill="#f1ba37" d="M118.4 39.5L123.6 39.5L119.3 47.8L114.2 47.8z"/>
<path fill="#cfc028" d="M116.4 39.5L118.8 39.5L114.6 47.8L112.2 47.8z"/>
<path fill="#f8ba3d" d="M114.1 39.5L116.8 39.5L112.6 47.8L110.0 47.8z"/>
<path fill="#47cb87" d="M112.1 39.5L114.5 39.5L110.4 47.8L108.1 47.8z"/>
<path fill="#fec338" d="M109.2 39.5L112.5 39.5L108.5 47.8L105.2 47.8z"/>
<path fill="#45cb88" d="M108.2 39.5L109.6 39.5L105.6 47.8L104.3 47.8z"/>
<path fill="#fec934" d="M104.4 39.5L108.6 39.5L104.7 47.8L100.6 47.8z"/>
<path fill="#6fcd66" d="M102.2 39.5L104.8 39.5L101.0 47.8L98.4 47.8z"/>
<path fill="#febe3c" d="M100.1 39.5L102.6 39.5L98.8 47.8L96.4 47.8z"/>
<path fill="#26c2ac" d="M95.7 39.5L100.5 39.5L96.8 47.8L92.0 47.8z"/>
<path fill="#febf3b" d="M90.6 39.5L96.1 39.5L92.4 47.8L87.2 47.8z"/>
<path fill="#52cc7e" d="M89.8 39.5L91.0 39.5L87.6 47.8L86.3 47.8z"/>
<path fill="#f7dc2a" d="M85.7 39.5L90.2 39.5L86.7 47.8L82.3 47.8z"/>
<path fill="#5acc77" d="M84.7 39.5L86.1 39.5L82.7 47.8L81.4 47.8z"/>
<path fill="#feca33" d="M82.7 39.5L85.1 39.5L81.8 47.8L79.5 47.8z"/>
<path fill="#19bfb5" d="M81.8 39.5L83.1 39.5L79.9 47.8L78.6 47.8z"/>
<path fill="#fbbc3d" d="M79.4 39.5L82.2 39.5L79.0 47.8L76.3 47.8z"/>
<path fill="#62cd70" d="M77.4 39.5L79.8 39.5L76.7 47.8L74.3 47.8z"/>
<path fill="#f6de29" d="M75.4 39.5L77.8 39.5L74.7 47.8L72.3 47.8z"/>
<path fill="#66cd6d" d="M74.5 39.5L75.8 39.5L72.7 47.8L71.4 47.8z"/>
<path fill="#fec438" d="M69.4 39.5L74.9 39.5L71.8 47.8L66.5 47.8z"/>
<path fill="#73cd63" d="M68.3 39.5L69.8 39.5L66.9 47.8L65.4 47.8z"/>
<path fill="#fbbc3d" d="M65.7 39.5L68.7 39.5L65.8 47.8L62.8 47.8z"/>
<path fill="#bac430" d="M64.8 39.5L66.1 39.5L63.2 47.8L62.0 47.8z"/>
<path fill="#fdbd3d" d="M60.8 39.5L65.2 39.5L62.4 47.8L58.1 47.8z"/>
<path fill="#7acc5e" d="M59.9 39.5L61.2 39.5L58.5 47.8L57.2 47.8z"/>
<path fill="#f4ba39" d="M56.8 39.5L60.3 39.5L57.6 47.8L54.2 47.8z"/>
<path fill="#5bcc77" d="M55.4 39.5L57.2 39.5L54.6 47.8L52.8 47.8z"/>
<path fill="#fdca33" d="M52.2 39.5L55.8 39.5L53.2 47.8L49.7 47.8z"/>
<path fill="#46cb88" d="M50.7 39.5L52.6 39.5L50.1 47.8L48.3 47.8z"/>
<path fill="#f8ba3d" d="M46.6 39.5L51.1 39.5L48.7 47.8L44.2 47.8z"/>
<path fill="#66cd6e" d="M44.6 39.5L47.0 39.5L44.6 47.8L42.3 47.8z"/>
<path fill="#fec735" d="M41.4 39.5L45.0 39.5L42.7 47.8L39.2 47.8z"/>
<path fill="#9ec942" d="M39.5 39.5L41.8 39.5L39.6 47.8L37.4 47.8z"/>
<path fill="#fec934" d="M37.3 39.5L39.9 39.5L37.8 47.8L35.2 47.8z"/>
<path fill="#35c79b" d="M233.8 47.5L235.6 47.5L228.2 55.8L226.4 55.8z"/>
<path fill="#f5e924" d="M231.2 47.5L234.2 47.5L226.8 55.8L223.9 55.8z"/>
<path fill="#bec32e" d="M227.6 47.5L231.6 47.5L224.3 55.8L220.3 55.8z"/>
<path fill="#fcbc3d" d="M225.1 47.5L228.0 47.5L220.7 55.8L218.0 55.8z"/>
<path fill="#7dcc5c" d="M224.0 47.5L225.5 47.5L218.4 55.8L216.9 55.8z"/>
<path fill="#e2bc2b" d="M221.3 47.5L224.4 47.5L217.3 55.8L214.2 55.8z"/>
<path fill="#8fcb4e" d="M219.3 47.5L221.7 47.5L214.6 55.8L212.3 55.8z"/>
<path fill="#f1ba37" d="M216.2 47.5L219.7 47.5L212.7 55.8L209.3 55.8z"/>
<path fill="#cac129" d="M214.0 47.5L216.6 47.5L209.7 55.8L207.2 55.8z"/>
<path fill="#fec03b" d="M210.8 47.5L214.4 47.5L207.6 55.8L204.0 55.8z"/>
<path fill="#23a0e5" d="M208.9 47.5L211.2 47.5L204.4 55.8L202.2 55.8z"/>
<path fill="#f2ba38" d="M204.9 47.5L209.3 47.5L202.6 55.8L198.3 55.8z"/>
<path fill="#07bcbf" d="M203.2 47.5L205.3 47.5L198.7 55.8L196.6 55.8z"/>
<path fill="#f6f020" d="M200.1 47.5L203.6 47.5L197.0 55.8L193.6 55.8z"/>
<path fill="#4acb84" d="M198.2 47.5L200.5 47.5L194.0 55.8L191.8 55.8z"/>
<path fill="#f0ba36" d="M193.0 47.5L198.6 47.5L192.2 55.8L186.7 55.8z"/>
<path fill="#a9c73b" d="M190.5 47.5L193.4 47.5L187.1 55.8L184.3 55.8z"/>
<path fill="#f5e626" d="M188.4 47.5L190.9 47.5L184.7 55.8L182.2 55.8z"/>
<path fill="#87cb54" d="M187.0 47.5L188.8 47.5L182.6 55.8L180.8 55.8z"/>
<path fill="#fcbd3d" d="M183.6 47.5L187.4 47.5L181.2 55.8L177.6 55.8z"/>
<path fill="#08bcbf" d="M179.5 47.5L184.0 47.5L178.0 55.8L173.6 55.8z"/>
<path fill="#fbd32e" d="M178.2 47.5L179.9 47.5L174.0 55.8L172.3 55.8z"/>
<path fill="#47cb87" d="M175.7 47.5L178.6 47.5L172.7 55.8L169.9 55.8z"/>
<path fill="#d1bf27" d="M174.0 47.5L176.1 47.5L170.3 55.8L168.2 55.8z"/>
<path fill="#b6c532" d="M171.5 47.5L174.4 47.5L168.6 55.8L165.8 55.8z"/>
<path fill="#fec934" d="M168.8 47.5L171.9 47.5L166.2 55.8L163.2 55.8z"/>
<path fill="#ccc028" d="M167.4 47.5L169.2 47.5L163.6 55.8L161.8 55.8z"/>
<path fill="#fec03b" d="M164.2 47.5L167.8 47.5L162.2 55.8L158.7 55.8z"/>
<path fill="#89cb52" d="M163.0 47.5L164.6 47.5L159.1 55.8L157.5 55.8z"/>
<path fill="#fcd130" d="M159.9 47.5L163.4 47.5L157.9 55.8L154.5 55.8z"/>
<path fill="#90ca4d" d="M158.3 47.5L160.3 47.5L154.9 55.8L152.9 55.8z"/>
<path fill="#7bcc5d" d="M154.6 47.5L158.7 47.5L153.3 55.8L149.3 55.8z"/>
<path fill="#0cbdbc" d="M153.7 47.5L155.0 47.5L149.7 55.8L148.4 55.8z"/>
<path fill="#f0ba36" d="M151.5 47.5L154.1 47.5L148.8 55.8L146.3 55.8z"/>
<path fill="#39c895" d="M149.4 47.5L151.9 47.5L146.7 55.8L144.3 55.8z"/>
<path fill="#f7ba3c" d="M147.6 47.5L149.8 47.5L144.7 55.8L142.5 55.8z"/>
<path fill="#23a1e4" d="M145.4 47.5L148.0 47.5L142.9 55.8L140.4 55.8z"/>
<path fill="#f6f020" d="M143.2 47.5L145.8 47.5L140.8 55.8L138.2 55.8z"/>
<path fill="#33c69e" d="M141.3 47.5L143.6 47.5L138.6 55.8L136.3 55.8z"/>
<path fill="#f9bb3d" d="M137.2 47.5L141.7 47.5L136.7 55.8L132.4 55.8z"/>
<path fill="#96ca49" d="M135.3 47.5L137.6 47.5L132.8 55.8L130.5 55.8z"/>
<path fill="#ddbd29" d="M133.6 47.5L135.7 47.5L130.9 55.8L128.8 55.8z"/>
<path fill="#35c79a" d="M132.4 47.5L134.0 47.5L129.2 55.8L127.7 55.8z"/>
<path fill="#92ca4b" d="M129.5 47.5L132.8 47.5L128.1 55.8L124.8 55.8z"/>
<path fill="#0dbdbc" d="M128.1 47.5L129.9 47.5L125.2 55.8L123.5 55.8z"/>
<path fill="#fec239" d="M126.0 47.5L128.5 47.5L123.9 55.8L121.5 55.8z"/>
<path fill="#b2c635" d="M124.3 47.5L126.4 47.5L121.9 55.8L119.8 55.8z"/>
<path fill="#fec437" d="M120.5 47.5L124.7 47.5L120.2 55.8L116.2 55.8z"/>
<path fill="#2cc4a7" d="M118.9 47.5L120.9 47.5L116.6 55.8L114.6 55.8z"/>
<path fill="#f4ba39" d="M114.2 47.5L119.3 47.5L115.0 55.8L110.0 55.8z"/>
<path fill="#abc739" d="M112.2 47.5L114.6 47.5L110.4 55.8L108.1 55.8z"/>
<path fill="#fabb3d" d="M110.0 47.5L112.6 47.5L108.5 55.8L105.9 55.8z"/>
<path fill="#4bcb84" d="M108.1 47.5L110.4 47.5L106.3 55.8L104.0 55.8z"/>
<path fill="#fec537" d="M105.2 47.5L108.5 47.5L104.4 55.8L101.2 55.8z"/>
<path fill="#49cb85" d="M104.3 47.5L105.6 47.5L101.6 55.8L100.4 55.8z"/>
<path fill="#fdcb33" d="M100.6 47.5L104.7 47.5L100.8 55.8L96.7 55.8z"/>
<path fill="#74cc62" d="M98.4 47.5L101.0 47.5L97.1 55.8L94.7 55.8z"/>
<path fill="#fec03b" d="M96.4 47.5L98.8 47.5L95.1 55.8L92.7 55.8z"/>
<path fill="#29c3aa" d="M92.0 47.5L96.8 47.5L93.1 55.8L88.4 55.8z"/>
<path fill="#fec835" d="M87.2 47.5L92.4 47.5L88.8 55.8L83.7 55.8z"/>
<path fill="#56cc7b" d="M86.3 47.5L87.6 47.5L84.1 55.8L82.9 55.8z"/>
<path fill="#f6de29" d="M82.3 47.5L86.7 47.5L83.3 55.8L79.0 55.8z"/>
<path fill="#68cd6b" d="M81.4 47.5L82.7 47.5L79.4 55.8L78.1 55.8z"/>
<path fill="#fdcc32" d="M79.5 47.5L81.8 47.5L78.5 55.8L76.2 55.8z"/>
<path fill="#1dc0b3" d="M78.6 47.5L79.9 47.5L76.6 55.8L75.3 55.8z"/>
<path fill="#fdbd3d" d="M76.3 47.5L79.0 47.5L75.7 55.8L73.1 55.8z"/>
<path fill="#67cd6d" d="M74.3 47.5L76.7 47.5L73.5 55.8L71.1 55.8z"/>
<path fill="#f6e028" d="M72.3 47.5L74.7 47.5L71.5 55.8L69.2 55.8z"/>
<path fill="#6bcd69" d="M71.4 47.5L72.7 47.5L69.6 55.8L68.4 55.8z"/>
<path fill="#fec636" d="M66.5 47.5L71.8 47.5L68.8 55.8L63.5 55.8z"/>
<path fill="#78cc5f" d="M65.4 47.5L66.9 47.5L63.9 55.8L62.4 55.8z"/>
<path fill="#f9bb3d" d="M62.8 47.5L65.8 47.5L62.8 55.8L60.0 55.8z"/>
<path fill="#4dcc82" d="M62.0 47.5L63.2 47.5L60.4 55.8L59.2 55.8z"/>
<path fill="#febf3b" d="M58.1 47.5L62.4 47.5L59.6 55.8L55.3 55.8z"/>
<path fill="#5ecd74" d="M57.2 47.5L58.5 47.5L55.7 55.8L54.5 55.8z"/>
<path fill="#f7ba3c" d="M54.2 47.5L57.6 47.5L54.9 55.8L51.6 55.8z"/>
<path fill="#5fcd73" d="M52.8 47.5L54.6 47.5L52.0 55.8L50.2 55.8z"/>
<path fill="#fdcd32" d="M49.7 47.5L53.2 47.5L50.6 55.8L47.2 55.8z"/>
<path fill="#49cb85" d="M48.3 47.5L50.1 47.5L47.6 55.8L45.8 55.8z"/>
<path fill="#fabb3d" d="M44.2 47.5L48.7 47.5L46.2 55.8L41.9 55.8z"/>
<path fill="#6acd6a" d="M42.3 47.5L44.6 47.5L42.3 55.8L40.0 55.8z"/>
<path fill="#f7ba3c" d="M39.2 47.5L42.7 47.5L40.4 55.8L37.0 55.8z"/>
<path fill="#a3c83f" d="M37.4 47.5L39.6 47.5L37.4 55.8L35.2 55.8z"/>
<path fill="#6ccd68" d="M230.4 55.5L233.8 55.5L226.2 63.8L222.9 63.8z"/>
<path fill="#fbd22f" d="M227.8 55.5L230.8 55.5L223.3 63.8L220.3 63.8z"/>
<path fill="#34c79c" d="M226.4 55.5L228.2 55.5L220.7 63.8L219.0 63.8z"/>
<path fill="#f5e825" d="M223.9 55.5L226.8 55.5L219.4 63.8L216.6 63.8z"/>
<path fill="#bdc42f" d="M220.3 55.5L224.3 55.5L217.0 63.8L213.1 63.8z"/>
<path fill="#fbbc3d" d="M218.0 55.5L220.7 55.5L213.5 63.8L210.8 63.8z"/>
<path fill="#7bcc5d" d="M216.9 55.5L218.4 55.5L211.2 63.8L209.7 63.8z"/>
<path fill="#e0bc2b" d="M214.2 55.5L217.3 55.5L210.1 63.8L207.2 63.8z"/>
<path fill="#8dcb4f" d="M212.3 55.5L214.6 55.5L207.6 63.8L205.3 63.8z"/>
<path fill="#f8ba3d" d="M209.3 55.5L212.7 55.5L205.7 63.8L202.3 63.8z"/>
<path fill="#c9c129" d="M207.2 55.5L209.7 55.5L202.7 63.8L200.3 63.8z"/>
<path fill="#f6ba3b" d="M204.0 55.5L207.6 55.5L200.7 63.8L197.2 63.8z"/>
<path fill="#249fe5" d="M202.2 55.5L204.4 55.5L197.6 63.8L195.5 63.8z"/>
<path fill="#fec13a" d="M198.3 55.5L202.6 55.5L195.9 63.8L191.7 63.8z"/>
<path fill="#06bcc0" d="M196.6 55.5L198.7 55.5L192.1 63.8L190.0 63.8z"/>
<path fill="#ccc028" d="M193.6 55.5L197.0 55.5L190.4 63.8L187.1 63.8z"/>
<path fill="#49cb85" d="M191.8 55.5L194.0 55.5L187.5 63.8L185.3 63.8z"/>
<path fill="#efba35" d="M186.7 55.5L192.2 55.5L185.7 63.8L180.4 63.8z"/>
<path fill="#b3c534" d="M184.3 55.5L187.1 55.5L180.8 63.8L178.0 63.8z"/>
<path fill="#f5e526" d="M182.2 55.5L184.7 55.5L178.4 63.8L176.0 63.8z"/>
<path fill="#85cb55" d="M180.8 55.5L182.6 55.5L176.4 63.8L174.7 63.8z"/>
<path fill="#fbbc3d" d="M177.6 55.5L181.2 55.5L175.1 63.8L171.5 63.8z"/>
<path fill="#07bcc0" d="M173.6 55.5L178.0 55.5L171.9 63.8L167.7 63.8z"/>
<path fill="#fbd22f" d="M172.3 55.5L174.0 55.5L168.1 63.8L166.4 63.8z"/>
<path fill="#63cd6f" d="M169.9 55.5L172.7 55.5L166.8 63.8L164.0 63.8z"/>
<path fill="#d0bf27" d="M168.2 55.5L170.3 55.5L164.4 63.8L162.4 63.8z"/>
<path fill="#b4c533" d="M165.8 55.5L168.6 55.5L162.8 63.8L160.0 63.8z"/>
<path fill="#fec835" d="M163.2 55.5L166.2 55.5L160.4 63.8L157.5 63.8z"/>
<path fill="#34c79b" d="M161.8 55.5L163.6 55.5L157.9 63.8L156.1 63.8z"/>
<path fill="#f0ba36" d="M158.7 55.5L162.2 55.5L156.5 63.8L153.2 63.8z"/>
<path fill="#a1c840" d="M157.5 55.5L159.1 55.5L153.6 63.8L152.0 63.8z"/>
<path fill="#fcd030" d="M154.5 55.5L157.9 55.5L152.4 63.8L149.1 63.8z"/>
<path fill="#8fcb4e" d="M152.9 55.5L154.9 55.5L149.5 63.8L147.5 63.8z"/>
<path fill="#ebba31" d="M149.3 55.5L153.3 55.5L147.9 63.8L144.0 63.8z"/>
<path fill="#0abdbd" d="M148.4 55.5L149.7 55.5L144.4 63.8L143.2 63.8z"/>
<path fill="#eeba35" d="M146.3 55.5L148.8 55.5L143.6 63.8L141.1 63.8z"/>
<path fill="#38c897" d="M144.3 55.5L146.7 55.5L141.5 63.8L139.1 63.8z"/>
<path fill="#f6ba3b" d="M142.5 55.5L144.7 55.5L139.5 63.8L137.4 63.8z"/>
<path fill="#23a0e5" d="M140.4 55.5L142.9 55.5L137.8 63.8L135.3 63.8z"/>
<path fill="#f6f020" d="M138.2 55.5L140.8 55.5L135.7 63.8L133.2 63.8z"/>
<path fill="#32c69f" d="M136.3 55.5L138.6 55.5L133.6 63.8L131.4 63.8z"/>
<path fill="#f9ba3d" d="M132.4 55.5L136.7 55.5L131.8 63.8L127.6 63.8z"/>
<path fill="#94ca4a" d="M130.5 55.5L132.8 55.5L128.0 63.8L125.8 63.8z"/>
<path fill="#dcbd29" d="M128.8 55.5L130.9 55.5L126.2 63.8L124.1 63.8z"/>
<path fill="#34c79b" d="M127.7 55.5L129.2 55.5L124.5 63.8L123.0 63.8z"/>
<path fill="#90ca4d" d="M124.8 55.5L128.1 55.5L123.4 63.8L120.2 63.8z"/>
<path fill="#0bbdbd" d="M123.5 55.5L125.2 55.5L120.6 63.8L118.9 63.8z"/>
<path fill="#febe3c" d="M121.5 55.5L123.9 55.5L119.3 63.8L117.0 63.8z"/>
<path fill="#b0c636" d="M119.8 55.5L121.9 55.5L117.4 63.8L115.3 63.8z"/>
<path fill="#f9bb3d" d="M116.2 55.5L120.2 55.5L115.7 63.8L111.8 63.8z"/>
<path fill="#2bc3a8" d="M114.6 55.5L116.6 55.5L112.2 63.8L110.2 63.8z"/>
<path fill="#f3ba38" d="M110.0 55.5L115.0 55.5L110.6 63.8L105.8 63.8z"/>
<path fill="#aac73a" d="M108.1 55.5L110.4 55.5L106.2 63.8L103.9 63.8z"/>
<path fill="#f9bb3d" d="M105.9 55.5L108.5 55.5L104.3 63.8L101.8 63.8z"/>
<path fill="#49cb85" d="M104.0 55.5L106.3 55.5L102.2 63.8L100.0 63.8z"/>
<path fill="#fec835" d="M101.2 55.5L104.4 55.5L100.4 63.8L97.3 63.8z"/>
<path fill="#48cb86" d="M100.4 55.5L101.6 55.5L97.7 63.8L96.4 63.8z"/>
<path fill="#feca33" d="M96.7 55.5L100.8 55.5L96.8 63.8L92.9 63.8z"/>
<path fill="#72cd63" d="M94.7 55.5L97.1 55.5L93.3 63.8L90.9 63.8z"/>
<path fill="#febf3b" d="M92.7 55.5L95.1 55.5L91.3 63.8L88.9 63.8z"/>
<path fill="#28c2ab" d="M88.4 55.5L93.1 55.5L89.3 63.8L84.8 63.8z"/>
<path fill="#fec735" d="M83.7 55.5L88.8 55.5L85.2 63.8L80.2 63.8z"/>
<path fill="#55cc7c" d="M82.9 55.5L84.1 55.5L80.6 63.8L79.4 63.8z"/>
<path fill="#f7dd2a" d="M79.0 55.5L83.3 55.5L79.8 63.8L75.6 63.8z"/>
<path fill="#67cd6d" d="M78.1 55.5L79.4 55.5L76.0 63.8L74.7 63.8z"/>
<path fill="#fdcb33" d="M76.2 55.5L78.5 55.5L75.1 63.8L72.9 63.8z"/>
<path fill="#1bc0b4" d="M75.3 55.5L76.6 55.5L73.3 63.8L72.1 63.8z"/>
<path fill="#fcbd3d" d="M73.1 55.5L75.7 55.5L72.5 63.8L69.9 63.8z"/>
<path fill="#65cd6e" d="M71.1 55.5L73.5 55.5L70.3 63.8L68.0 63.8z"/>
<path fill="#f6e028" d="M69.2 55.5L71.5 55.5L68.4 63.8L66.1 63.8z"/>
<path fill="#69cd6b" d="M68.4 55.5L69.6 55.5L66.5 63.8L65.3 63.8z"/>
<path fill="#fad42e" d="M63.5 55.5L68.8 55.5L65.7 63.8L60.6 63.8z"/>
<path fill="#76cc60" d="M62.4 55.5L63.9 55.5L61.0 63.8L59.5 63.8z"/>
<path fill="#f8ba3d" d="M60.0 55.5L62.8 55.5L59.9 63.8L57.2 63.8z"/>
<path fill="#4bcb83" d="M59.2 55.5L60.4 55.5L57.6 63.8L56.4 63.8z"/>
<path fill="#febe3c" d="M55.3 55.5L59.6 55.5L56.8 63.8L52.6 63.8z"/>
<path fill="#5dcc75" d="M54.5 55.5L55.7 55.5L53.0 63.8L51.8 63.8z"/>
<path fill="#f6ba3b" d="M51.6 55.5L54.9 55.5L52.2 63.8L49.0 63.8z"/>
<path fill="#30c5a1" d="M50.2 55.5L52.0 55.5L49.4 63.8L47.7 63.8z"/>
<path fill="#fcd030" d="M47.2 55.5L50.6 55.5L48.1 63.8L44.7 63.8z"/>
<path fill="#48cb86" d="M45.8 55.5L47.6 55.5L45.1 63.8L43.4 63.8z"/>
<path fill="#fabb3d" d="M41.9 55.5L46.2 55.5L43.8 63.8L39.6 63.8z"/>
<path fill="#69cd6b" d="M40.0 55.5L42.3 55.5L40.0 63.8L37.7 63.8z"/>
<path fill="#f6ba3c" d="M37.0 55.5L40.4 55.5L38.1 63.8L34.8 63.8z"/>
<path fill="#ecba32" d="M231.3 63.5L236.1 63.5L230.2 69.8L225.5 69.8z"/>
<path fill="#60cd72" d="M230.3 63.5L231.7 63.5L225.9 69.8L224.6 69.8z"/>
<path fill="#dbbd29" d="M225.8 63.5L230.7 63.5L225.0 69.8L220.1 69.8z"/>
<path fill="#61cd71" d="M222.9 63.5L226.2 63.5L220.5 69.8L217.3 69.8z"/>
<path fill="#fdcd31" d="M220.3 63.5L223.3 63.5L217.7 69.8L214.8 69.8z"/>
<path fill="#2fc5a2" d="M219.0 63.5L220.7 63.5L215.2 69.8L213.4 69.8z"/>
<path fill="#f5e327" d="M216.6 63.5L219.4 63.5L213.8 69.8L211.1 69.8z"/>
<path fill="#b2c635" d="M213.1 63.5L217.0 63.5L211.5 69.8L207.7 69.8z"/>
<path fill="#f6ba3b" d="M210.8 63.5L213.5 63.5L208.1 69.8L205.4 69.8z"/>
<path fill="#51cc7f" d="M209.7 63.5L211.2 63.5L205.8 69.8L204.4 69.8z"/>
<path fill="#d8be28" d="M207.2 63.5L210.1 63.5L204.8 69.8L201.9 69.8z"/>
<path fill="#81cc58" d="M205.3 63.5L207.6 63.5L202.3 69.8L200.1 69.8z"/>
<path fill="#f1ba37" d="M202.3 63.5L205.7 63.5L200.5 69.8L197.2 69.8z"/>
<path fill="#bfc32d" d="M200.3 63.5L202.7 63.5L197.6 69.8L195.1 69.8z"/>
<path fill="#efba35" d="M197.2 63.5L200.7 63.5L195.5 69.8L192.2 69.8z"/>
<path fill="#259be8" d="M195.5 63.5L197.6 63.5L192.6 69.8L190.4 69.8z"/>
<path fill="#fdbd3d" d="M191.7 63.5L195.9 63.5L190.8 69.8L186.7 69.8z"/>
<path fill="#01b9c6" d="M190.0 63.5L192.1 63.5L187.1 69.8L185.1 69.8z"/>
<path fill="#c2c22c" d="M187.1 63.5L190.4 63.5L185.5 69.8L182.2 69.8z"/>
<path fill="#40ca8d" d="M185.3 63.5L187.5 63.5L182.6 69.8L180.5 69.8z"/>
<path fill="#e8bb2e" d="M180.4 63.5L185.7 63.5L180.9 69.8L175.7 69.8z"/>
<path fill="#a8c73b" d="M178.0 63.5L180.8 63.5L176.1 69.8L173.4 69.8z"/>
<path fill="#f6e028" d="M176.0 63.5L178.4 63.5L173.8 69.8L171.4 69.8z"/>
<path fill="#58cc79" d="M174.7 63.5L176.4 63.5L171.8 69.8L170.1 69.8z"/>
<path fill="#f6ba3b" d="M171.5 63.5L175.1 63.5L170.5 69.8L167.0 69.8z"/>
<path fill="#01bac5" d="M167.7 63.5L171.9 63.5L167.4 69.8L163.2 69.8z"/>
<path fill="#fdcd31" d="M166.4 63.5L168.1 63.5L163.6 69.8L161.9 69.8z"/>
<path fill="#59cc78" d="M164.0 63.5L166.8 63.5L162.3 69.8L159.6 69.8z"/>
<path fill="#c6c22a" d="M162.4 63.5L164.4 63.5L160.0 69.8L158.0 69.8z"/>
<path fill="#aac73a" d="M160.0 63.5L162.8 63.5L158.4 69.8L155.7 69.8z"/>
<path fill="#fec338" d="M157.5 63.5L160.4 63.5L156.1 69.8L153.3 69.8z"/>
<path fill="#30c5a2" d="M156.1 63.5L157.9 63.5L153.7 69.8L151.9 69.8z"/>
<path fill="#e9bb2f" d="M153.2 63.5L156.5 63.5L152.3 69.8L149.0 69.8z"/>
<path fill="#96ca49" d="M152.0 63.5L153.6 63.5L149.4 69.8L147.9 69.8z"/>
<path fill="#fdcb33" d="M149.1 63.5L152.4 63.5L148.3 69.8L145.0 69.8z"/>
<path fill="#58cc79" d="M147.5 63.5L149.5 63.5L145.4 69.8L143.5 69.8z"/>
<path fill="#e3bc2c" d="M144.0 63.5L147.9 63.5L143.9 69.8L140.0 69.8z"/>
<path fill="#02bbc3" d="M143.2 63.5L144.4 63.5L140.4 69.8L139.2 69.8z"/>
<path fill="#e7bb2e" d="M141.1 63.5L143.6 63.5L139.6 69.8L137.2 69.8z"/>
<path fill="#33c69d" d="M139.1 63.5L141.5 63.5L137.6 69.8L135.3 69.8z"/>
<path fill="#efba35" d="M137.4 63.5L139.5 63.5L135.7 69.8L133.5 69.8z"/>
<path fill="#05bbc1" d="M135.3 63.5L137.8 63.5L133.9 69.8L131.5 69.8z"/>
<path fill="#fabc3d" d="M133.2 63.5L135.7 63.5L131.9 69.8L129.5 69.8z"/>
<path fill="#2dc4a5" d="M131.4 63.5L133.6 63.5L129.9 69.8L127.7 69.8z"/>
<path fill="#f2ba38" d="M127.6 63.5L131.8 63.5L128.1 69.8L124.0 69.8z"/>
<path fill="#88cb53" d="M125.8 63.5L128.0 63.5L124.4 69.8L122.2 69.8z"/>
<path fill="#f8da2b" d="M124.1 63.5L126.2 63.5L122.6 69.8L120.6 69.8z"/>
<path fill="#30c5a2" d="M123.0 63.5L124.5 63.5L121.0 69.8L119.5 69.8z"/>
<path fill="#84cb56" d="M120.2 63.5L123.4 63.5L119.9 69.8L116.8 69.8z"/>
<path fill="#04bbc2" d="M118.9 63.5L120.6 63.5L117.2 69.8L115.5 69.8z"/>
<path fill="#fabb3d" d="M117.0 63.5L119.3 63.5L115.9 69.8L113.6 69.8z"/>
<path fill="#8ecb4e" d="M115.3 63.5L117.4 63.5L114.0 69.8L112.0 69.8z"/>
<path fill="#f2ba38" d="M111.8 63.5L115.7 63.5L112.4 69.8L108.5 69.8z"/>
<path fill="#24c1ae" d="M110.2 63.5L112.2 63.5L108.9 69.8L107.0 69.8z"/>
<path fill="#ccc028" d="M105.8 63.5L110.6 63.5L107.4 69.8L102.6 69.8z"/>
<path fill="#9ec942" d="M103.9 63.5L106.2 63.5L103.0 69.8L100.8 69.8z"/>
<path fill="#f3ba39" d="M101.8 63.5L104.3 63.5L101.2 69.8L98.8 69.8z"/>
<path fill="#40ca8d" d="M100.0 63.5L102.2 63.5L99.2 69.8L97.0 69.8z"/>
<path fill="#fec338" d="M97.3 63.5L100.4 63.5L97.4 69.8L94.3 69.8z"/>
<path fill="#3fca8e" d="M96.4 63.5L97.7 63.5L94.7 69.8L93.5 69.8z"/>
<path fill="#fec835" d="M92.9 63.5L96.8 63.5L93.9 69.8L90.0 69.8z"/>
<path fill="#71cd64" d="M90.9 63.5L93.3 63.5L90.4 69.8L88.0 69.8z"/>
<path fill="#fbbc3d" d="M88.9 63.5L91.3 63.5L88.4 69.8L86.1 69.8z"/>
<path fill="#20c1b1" d="M84.8 63.5L89.3 63.5L86.5 69.8L82.1 69.8z"/>
<path fill="#fec339" d="M80.2 63.5L85.2 63.5L82.5 69.8L77.6 69.8z"/>
<path fill="#4acb84" d="M79.4 63.5L80.6 63.5L78.0 69.8L76.8 69.8z"/>
<path fill="#f9d82c" d="M75.6 63.5L79.8 63.5L77.2 69.8L73.1 69.8z"/>
<path fill="#5ccc76" d="M74.7 63.5L76.0 63.5L73.5 69.8L72.2 69.8z"/>
<path fill="#f6ba3b" d="M72.9 63.5L75.1 63.5L72.6 69.8L70.4 69.8z"/>
<path fill="#01b8c8" d="M72.1 63.5L73.3 63.5L70.8 69.8L69.6 69.8z"/>
<path fill="#f7ba3d" d="M69.9 63.5L72.5 63.5L70.0 69.8L67.5 69.8z"/>
<path fill="#5acc77" d="M68.0 63.5L70.3 63.5L67.9 69.8L65.6 69.8z"/>
<path fill="#f8da2b" d="M66.1 63.5L68.4 63.5L66.0 69.8L63.8 69.8z"/>
<path fill="#5ecd74" d="M65.3 63.5L66.5 63.5L64.2 69.8L63.0 69.8z"/>
<path fill="#fccf31" d="M60.6 63.5L65.7 63.5L63.4 69.8L58.4 69.8z"/>
<path fill="#6bcd69" d="M59.5 63.5L61.0 63.5L58.8 69.8L57.4 69.8z"/>
<path fill="#f2ba38" d="M57.2 63.5L59.9 63.5L57.8 69.8L55.0 69.8z"/>
<path fill="#42ca8b" d="M56.4 63.5L57.6 63.5L55.4 69.8L54.3 69.8z"/>
<path fill="#fabb3d" d="M52.6 63.5L56.8 63.5L54.7 69.8L50.6 69.8z"/>
<path fill="#52cc7e" d="M51.8 63.5L53.0 63.5L51.0 69.8L49.8 69.8z"/>
<path fill="#efba35" d="M49.0 63.5L52.2 63.5L50.2 69.8L47.0 69.8z"/>
<path fill="#2cc4a7" d="M47.7 63.5L49.4 63.5L47.4 69.8L45.7 69.8z"/>
<path fill="#fdcb33" d="M44.7 63.5L48.1 63.5L46.1 69.8L42.8 69.8z"/>
<path fill="#58cc79" d="M43.4 63.5L45.1 63.5L43.2 69.8L41.5 69.8z"/>
<path fill="#f3ba39" d="M39.6 63.5L43.8 63.5L41.9 69.8L37.8 69.8z"/>
<path fill="#5ecc74" d="M37.7 63.5L40.0 63.5L38.2 69.8L36.0 69.8z"/>
<path fill="#fec338" d="M231.1 69.5L234.8 69.5L228.8 75.8L225.2 75.8z"/>
<path fill="#4dcb82" d="M229.8 69.5L231.5 69.5L225.6 75.8L223.9 75.8z"/>
<path fill="#ebba31" d="M225.5 69.5L230.2 69.5L224.3 75.8L219.7 75.8z"/>
<path fill="#77cc60" d="M224.6 69.5L225.9 69.5L220.1 75.8L218.8 75.8z"/>
<path fill="#d9bd28" d="M220.1 69.5L225.0 69.5L219.2 75.8L214.5 75.8z"/>
<path fill="#5fcd73" d="M217.3 69.5L220.5 69.5L214.9 75.8L211.7 75.8z"/>
<path fill="#fec835" d="M214.8 69.5L217.7 69.5L212.1 75.8L209.2 75.8z"/>
<path fill="#2ec5a4" d="M213.4 69.5L215.2 69.5L209.6 75.8L207.9 75.8z"/>
<path fill="#f5e228" d="M211.1 69.5L213.8 69.5L208.3 75.8L205.6 75.8z"/>
<path fill="#b0c636" d="M207.7 69.5L211.5 69.5L206.0 75.8L202.3 75.8z"/>
<path fill="#fcbc3d" d="M205.4 69.5L208.1 69.5L202.7 75.8L200.1 75.8z"/>
<path fill="#4fcc81" d="M204.4 69.5L205.8 69.5L200.5 75.8L199.0 75.8z"/>
<path fill="#d6be28" d="M201.9 69.5L204.8 69.5L199.4 75.8L196.6 75.8z"/>
<path fill="#74cc62" d="M200.1 69.5L202.3 69.5L197.0 75.8L194.8 75.8z"/>
<path fill="#f0ba36" d="M197.2 69.5L200.5 69.5L195.2 75.8L192.0 75.8z"/>
<path fill="#d4bf28" d="M195.1 69.5L197.6 69.5L192.4 75.8L190.0 75.8z"/>
<path fill="#edba33" d="M192.2 69.5L195.5 69.5L190.4 75.8L187.1 75.8z"/>
<path fill="#1babde" d="M190.4 69.5L192.6 69.5L187.5 75.8L185.4 75.8z"/>
<path fill="#fcbc3d" d="M186.7 69.5L190.8 69.5L185.8 75.8L181.8 75.8z"/>
<path fill="#01b9c7" d="M185.1 69.5L187.1 69.5L182.2 75.8L180.1 75.8z"/>
<path fill="#c0c32d" d="M182.2 69.5L185.5 69.5L180.5 75.8L177.4 75.8z"/>
<path fill="#3eca8f" d="M180.5 69.5L182.6 69.5L177.8 75.8L175.6 75.8z"/>
<path fill="#dabd28" d="M175.7 69.5L180.9 69.5L176.0 75.8L171.0 75.8z"/>
<path fill="#a5c83d" d="M173.4 69.5L176.1 69.5L171.4 75.8L168.7 75.8z"/>
<path fill="#f6df29" d="M171.4 69.5L173.8 69.5L169.1 75.8L166.8 75.8z"/>
<path fill="#56cc7b" d="M170.1 69.5L171.8 69.5L167.2 75.8L165.5 75.8z"/>
<path fill="#f4ba3a" d="M167.0 69.5L170.5 69.5L165.9 75.8L162.4 75.8z"/>
<path fill="#01b8c8" d="M163.2 69.5L167.4 69.5L162.8 75.8L158.7 75.8z"/>
<path fill="#fdcc32" d="M161.9 69.5L163.6 69.5L159.1 75.8L157.5 75.8z"/>
<path fill="#58cc79" d="M159.6 69.5L162.3 69.5L157.9 75.8L155.3 75.8z"/>
<path fill="#fad52d" d="M158.0 69.5L160.0 69.5L155.7 75.8L153.7 75.8z"/>
<path fill="#a7c73c" d="M155.7 69.5L158.4 69.5L154.1 75.8L151.4 75.8z"/>
<path fill="#fec239" d="M153.3 69.5L156.1 69.5L151.8 75.8L149.0 75.8z"/>
<path fill="#2fc5a3" d="M151.9 69.5L153.7 69.5L149.4 75.8L147.7 75.8z"/>
<path fill="#e7bb2e" d="M149.0 69.5L152.3 69.5L148.1 75.8L144.9 75.8z"/>
<path fill="#93ca4b" d="M147.9 69.5L149.4 69.5L145.3 75.8L143.8 75.8z"/>
<path fill="#feca33" d="M145.0 69.5L148.3 69.5L144.2 75.8L140.9 75.8z"/>
<path fill="#56cc7b" d="M143.5 69.5L145.4 69.5L141.3 75.8L139.4 75.8z"/>
<path fill="#e1bc2b" d="M140.0 69.5L143.9 69.5L139.8 75.8L136.1 75.8z"/>
<path fill="#02bac4" d="M139.2 69.5L140.4 69.5L136.5 75.8L135.3 75.8z"/>
<path fill="#e6bb2d" d="M137.2 69.5L139.6 69.5L135.7 75.8L133.3 75.8z"/>
<path fill="#32c69f" d="M135.3 69.5L137.6 69.5L133.7 75.8L131.4 75.8z"/>
<path fill="#edba34" d="M133.5 69.5L135.7 69.5L131.8 75.8L129.7 75.8z"/>
<path fill="#04bbc2" d="M131.5 69.5L133.9 69.5L130.1 75.8L127.8 75.8z"/>
<path fill="#fabb3d" d="M129.5 69.5L131.9 69.5L128.2 75.8L125.8 75.8z"/>
<path fill="#2cc4a6" d="M127.7 69.5L129.9 69.5L126.2 75.8L124.0 75.8z"/>
<path fill="#ebba31" d="M124.0 69.5L128.1 69.5L124.4 75.8L120.4 75.8z"/>
<path fill="#86cb55" d="M122.2 69.5L124.4 69.5L120.8 75.8L118.6 75.8z"/>
<path fill="#f8d92c" d="M120.6 69.5L122.6 69.5L119.0 75.8L117.0 75.8z"/>
<path fill="#2fc5a3" d="M119.5 69.5L121.0 69.5L117.4 75.8L116.0 75.8z"/>
<path fill="#82cc58" d="M116.8 69.5L119.9 69.5L116.4 75.8L113.3 75.8z"/>
<path fill="#02bbc3" d="M115.5 69.5L117.2 69.5L113.7 75.8L112.1 75.8z"/>
<path fill="#f9ba3d" d="M113.6 69.5L115.9 69.5L112.5 75.8L110.2 75.8z"/>
<path fill="#8ccb50" d="M112.0 69.5L114.0 69.5L110.6 75.8L108.6 75.8z"/>
<path fill="#f1ba37" d="M108.5 69.5L112.4 69.5L109.0 75.8L105.2 75.8z"/>
<path fill="#23c1af" d="M107.0 69.5L108.9 69.5L105.6 75.8L103.7 75.8z"/>
<path fill="#cac129" d="M102.6 69.5L107.4 69.5L104.1 75.8L99.5 75.8z"/>
<path fill="#9cc944" d="M100.8 69.5L103.0 69.5L99.9 75.8L97.7 75.8z"/>
<path fill="#dcbd29" d="M98.8 69.5L101.2 69.5L98.1 75.8L95.7 75.8z"/>
<path fill="#3fca8e" d="M97.0 69.5L99.2 69.5L96.1 75.8L93.9 75.8z"/>
<path fill="#fec239" d="M94.3 69.5L97.4 69.5L94.3 75.8L91.3 75.8z"/>
<path fill="#3eca90" d="M93.5 69.5L94.7 69.5L91.7 75.8L90.5 75.8z"/>
<path fill="#fec735" d="M90.0 69.5L93.9 69.5L90.9 75.8L87.1 75.8z"/>
<path fill="#6fcd66" d="M88.0 69.5L90.4 69.5L87.5 75.8L85.2 75.8z"/>
<path fill="#e9bb30" d="M86.1 69.5L88.4 69.5L85.6 75.8L83.3 75.8z"/>
<path fill="#1fc0b2" d="M82.1 69.5L86.5 69.5L83.7 75.8L79.4 75.8z"/>
<path fill="#f6ba3c" d="M77.6 69.5L82.5 69.5L79.8 75.8L75.0 75.8z"/>
<path fill="#71cd64" d="M76.8 69.5L78.0 69.5L75.4 75.8L74.2 75.8z"/>
<path fill="#f9d72d" d="M73.1 69.5L77.2 69.5L74.6 75.8L70.6 75.8z"/>
<path fill="#5acc78" d="M72.2 69.5L73.5 69.5L71.0 75.8L69.7 75.8z"/>
<path fill="#f5ba3a" d="M70.4 69.5L72.6 69.5L70.1 75.8L68.0 75.8z"/>
<path fill="#01b8c9" d="M69.6 69.5L70.8 69.5L68.4 75.8L67.2 75.8z"/>
<path fill="#f4ba3a" d="M67.5 69.5L70.0 69.5L67.6 75.8L65.1 75.8z"/>
<path fill="#53cc7d" d="M65.6 69.5L67.9 69.5L65.5 75.8L63.3 75.8z"/>
<path fill="#f8d92b" d="M63.8 69.5L66.0 69.5L63.7 75.8L61.5 75.8z"/>
<path fill="#2ac3a9" d="M63.0 69.5L64.2 69.5L61.9 75.8L60.7 75.8z"/>
<path fill="#fdce31" d="M58.4 69.5L63.4 69.5L61.1 75.8L56.2 75.8z"/>
<path fill="#68cd6b" d="M57.4 69.5L58.8 69.5L56.6 75.8L55.2 75.8z"/>
<path fill="#f0ba36" d="M55.0 69.5L57.8 69.5L55.6 75.8L52.9 75.8z"/>
<path fill="#40ca8d" d="M54.3 69.5L55.4 69.5L53.3 75.8L52.2 75.8z"/>
<path fill="#f9bb3d" d="M50.6 69.5L54.7 69.5L52.6 75.8L48.6 75.8z"/>
<path fill="#50cc7f" d="M49.8 69.5L51.0 69.5L49.0 75.8L47.8 75.8z"/>
<path fill="#edba34" d="M47.0 69.5L50.2 69.5L48.2 75.8L45.1 75.8z"/>
<path fill="#2ac3a8" d="M45.7 69.5L47.4 69.5L45.5 75.8L43.8 75.8z"/>
<path fill="#feca33" d="M42.8 69.5L46.1 69.5L44.2 75.8L41.0 75.8z"/>
<path fill="#56cc7b" d="M41.5 69.5L43.2 69.5L41.4 75.8L39.7 75.8z"/>
<path fill="#f2ba38" d="M37.8 69.5L41.9 69.5L40.1 75.8L36.0 75.8z"/>
<path fill="#fbd32f" d="M233.2 75.5L236.3 75.5L227.6 84.3L224.6 84.3z"/>
<path fill="#93ca4a" d="M232.3 75.5L233.6 75.5L225.0 84.3L223.7 84.3z"/>
<path fill="#febd3c" d="M230.7 75.5L232.7 75.5L224.1 84.3L222.1 84.3z"/>
<path fill="#4ecc81" d="M228.4 75.5L231.1 75.5L222.5 84.3L219.9 84.3z"/>
<path fill="#fec13a" d="M225.2 75.5L228.8 75.5L220.3 84.3L216.8 84.3z"/>
<path fill="#54cc7c" d="M223.9 75.5L225.6 75.5L217.2 84.3L215.6 84.3z"/>
<path fill="#e1bc2b" d="M219.7 75.5L224.3 75.5L216.0 84.3L211.5 84.3z"/>
<path fill="#7fcc5a" d="M218.8 75.5L220.1 75.5L211.9 84.3L210.6 84.3z"/>
<path fill="#dfbc2a" d="M214.5 75.5L219.2 75.5L211.0 84.3L206.4 84.3z"/>
<path fill="#67cd6d" d="M211.7 75.5L214.9 75.5L206.8 84.3L203.7 84.3z"/>
<path fill="#fdcb32" d="M209.2 75.5L212.1 75.5L204.1 84.3L201.3 84.3z"/>
<path fill="#32c69f" d="M207.9 75.5L209.6 75.5L201.7 84.3L200.1 84.3z"/>
<path fill="#f5e626" d="M205.6 75.5L208.3 75.5L200.5 84.3L197.8 84.3z"/>
<path fill="#b6c533" d="M202.3 75.5L206.0 75.5L198.2 84.3L194.6 84.3z"/>
<path fill="#febf3c" d="M200.1 75.5L202.7 75.5L195.0 84.3L192.5 84.3z"/>
<path fill="#56cc7b" d="M199.0 75.5L200.5 75.5L192.9 84.3L191.5 84.3z"/>
<path fill="#dcbd29" d="M196.6 75.5L199.4 75.5L191.9 84.3L189.1 84.3z"/>
<path fill="#7dcc5c" d="M194.8 75.5L197.0 75.5L189.5 84.3L187.4 84.3z"/>
<path fill="#eabb30" d="M192.0 75.5L195.2 75.5L187.8 84.3L184.6 84.3z"/>
<path fill="#dabd28" d="M190.0 75.5L192.4 75.5L185.0 84.3L182.7 84.3z"/>
<path fill="#f2ba38" d="M187.1 75.5L190.4 75.5L183.1 84.3L179.9 84.3z"/>
<path fill="#18addb" d="M185.4 75.5L187.5 75.5L180.3 84.3L178.2 84.3z"/>
<path fill="#febf3b" d="M181.8 75.5L185.8 75.5L178.6 84.3L174.7 84.3z"/>
<path fill="#02bbc3" d="M180.1 75.5L182.2 75.5L175.1 84.3L173.2 84.3z"/>
<path fill="#c8c129" d="M177.4 75.5L180.5 75.5L173.6 84.3L170.5 84.3z"/>
<path fill="#44cb89" d="M175.6 75.5L177.8 75.5L170.9 84.3L168.8 84.3z"/>
<path fill="#e0bc2a" d="M171.0 75.5L176.0 75.5L169.2 84.3L164.3 84.3z"/>
<path fill="#adc638" d="M168.7 75.5L171.4 75.5L164.7 84.3L162.1 84.3z"/>
<path fill="#f5e227" d="M166.8 75.5L169.1 75.5L162.5 84.3L160.2 84.3z"/>
<path fill="#5dcc75" d="M165.5 75.5L167.2 75.5L160.6 84.3L159.0 84.3z"/>
<path fill="#f9bb3d" d="M162.4 75.5L165.9 75.5L159.4 84.3L156.0 84.3z"/>
<path fill="#02bac5" d="M158.7 75.5L162.8 75.5L156.4 84.3L152.4 84.3z"/>
<path fill="#fbd22f" d="M157.5 75.5L159.1 75.5L152.8 84.3L151.2 84.3z"/>
<path fill="#60cd72" d="M155.3 75.5L157.9 75.5L151.6 84.3L149.1 84.3z"/>
<path fill="#f8d92c" d="M153.7 75.5L155.7 75.5L149.5 84.3L147.5 84.3z"/>
<path fill="#afc636" d="M151.4 75.5L154.1 75.5L147.9 84.3L145.4 84.3z"/>
<path fill="#f3ba39" d="M149.0 75.5L151.8 75.5L145.8 84.3L143.0 84.3z"/>
<path fill="#32c69f" d="M147.7 75.5L149.4 75.5L143.4 84.3L141.7 84.3z"/>
<path fill="#edba33" d="M144.9 75.5L148.1 75.5L142.1 84.3L139.0 84.3z"/>
<path fill="#9bc944" d="M143.8 75.5L145.3 75.5L139.4 84.3L137.9 84.3z"/>
<path fill="#fdcd31" d="M140.9 75.5L144.2 75.5L138.3 84.3L135.2 84.3z"/>
<path fill="#5dcc74" d="M139.4 75.5L141.3 75.5L135.6 84.3L133.7 84.3z"/>
<path fill="#e7bb2e" d="M136.1 75.5L139.8 75.5L134.1 84.3L130.5 84.3z"/>
<path fill="#06bcc0" d="M135.3 75.5L136.5 75.5L130.9 84.3L129.7 84.3z"/>
<path fill="#f6ba3b" d="M133.3 75.5L135.7 75.5L130.1 84.3L127.8 84.3z"/>
<path fill="#53cc7d" d="M131.4 75.5L133.7 75.5L128.2 84.3L125.9 84.3z"/>
<path fill="#f3ba38" d="M129.7 75.5L131.8 75.5L126.3 84.3L124.3 84.3z"/>
<path fill="#09bcbe" d="M127.8 75.5L130.1 75.5L124.7 84.3L122.4 84.3z"/>
<path fill="#fdbd3d" d="M125.8 75.5L128.2 75.5L122.8 84.3L120.5 84.3z"/>
<path fill="#30c5a2" d="M124.0 75.5L126.2 75.5L120.9 84.3L118.8 84.3z"/>
<path fill="#f0ba36" d="M120.4 75.5L124.4 75.5L119.2 84.3L115.3 84.3z"/>
<path fill="#8ecb4e" d="M118.6 75.5L120.8 75.5L115.7 84.3L113.5 84.3z"/>
<path fill="#f7dd2a" d="M117.0 75.5L119.0 75.5L113.9 84.3L112.0 84.3z"/>
<path fill="#23c1af" d="M116.0 75.5L117.4 75.5L112.4 84.3L111.0 84.3z"/>
<path fill="#8bcb51" d="M113.3 75.5L116.4 75.5L111.4 84.3L108.4 84.3z"/>
<path fill="#29c3aa" d="M112.1 75.5L113.7 75.5L108.8 84.3L107.2 84.3z"/>
<path fill="#fcbc3d" d="M110.2 75.5L112.5 75.5L107.6 84.3L105.4 84.3z"/>
<path fill="#86cb55" d="M108.6 75.5L110.6 75.5L105.8 84.3L103.9 84.3z"/>
<path fill="#f6ba3b" d="M105.2 75.5L109.0 75.5L104.3 84.3L100.6 84.3z"/>
<path fill="#28c2ab" d="M103.7 75.5L105.6 75.5L101.0 84.3L99.1 84.3z"/>
<path fill="#dbbd29" d="M99.5 75.5L104.1 75.5L99.5 84.3L95.0 84.3z"/>
<path fill="#a4c83e" d="M97.7 75.5L99.9 75.5L95.4 84.3L93.3 84.3z"/>
<path fill="#e2bc2b" d="M95.7 75.5L98.1 75.5L93.7 84.3L91.3 84.3z"/>
<path fill="#45cb89" d="M93.9 75.5L96.1 75.5L91.7 84.3L89.6 84.3z"/>
<path fill="#fec636" d="M91.3 75.5L94.3 75.5L90.0 84.3L87.1 84.3z"/>
<path fill="#80cc5a" d="M90.5 75.5L91.7 75.5L87.5 84.3L86.3 84.3z"/>
<path fill="#fdcb33" d="M87.1 75.5L90.9 75.5L86.7 84.3L83.0 84.3z"/>
<path fill="#77cc60" d="M85.2 75.5L87.5 75.5L83.4 84.3L81.2 84.3z"/>
<path fill="#eeba34" d="M83.3 75.5L85.6 75.5L81.6 84.3L79.4 84.3z"/>
<path fill="#08b4d0" d="M79.4 75.5L83.7 75.5L79.8 84.3L75.5 84.3z"/>
<path fill="#fabb3d" d="M75.0 75.5L79.8 75.5L75.9 84.3L71.3 84.3z"/>
<path fill="#7acc5e" d="M74.2 75.5L75.4 75.5L71.7 84.3L70.5 84.3z"/>
<path fill="#f8da2b" d="M70.6 75.5L74.6 75.5L70.9 84.3L67.0 84.3z"/>
<path fill="#61cd71" d="M69.7 75.5L71.0 75.5L67.4 84.3L66.2 84.3z"/>
<path fill="#fcbd3d" d="M68.0 75.5L70.1 75.5L66.6 84.3L64.5 84.3z"/>
<path fill="#01bac5" d="M67.2 75.5L68.4 75.5L64.9 84.3L63.7 84.3z"/>
<path fill="#f9bb3d" d="M65.1 75.5L67.6 75.5L64.1 84.3L61.7 84.3z"/>
<path fill="#5bcc77" d="M63.3 75.5L65.5 75.5L62.1 84.3L59.9 84.3z"/>
<path fill="#f6e028" d="M61.5 75.5L63.7 75.5L60.3 84.3L58.2 84.3z"/>
<path fill="#2ec4a4" d="M60.7 75.5L61.9 75.5L58.6 84.3L57.4 84.3z"/>
<path fill="#fbd12f" d="M56.2 75.5L61.1 75.5L57.8 84.3L53.1 84.3z"/>
<path fill="#71cd65" d="M55.2 75.5L56.6 75.5L53.5 84.3L52.1 84.3z"/>
<path fill="#f5ba3b" d="M52.9 75.5L55.6 75.5L52.5 84.3L49.9 84.3z"/>
<path fill="#47cb87" d="M52.2 75.5L53.3 75.5L50.3 84.3L49.2 84.3z"/>
<path fill="#fcbd3d" d="M48.6 75.5L52.6 75.5L49.6 84.3L45.7 84.3z"/>
<path fill="#58cc79" d="M47.8 75.5L49.0 75.5L46.1 84.3L44.9 84.3z"/>
<path fill="#f2ba38" d="M45.1 75.5L48.2 75.5L45.3 84.3L42.3 84.3z"/>
<path fill="#2ec4a4" d="M43.8 75.5L45.5 75.5L42.7 84.3L41.1 84.3z"/>
<path fill="#fec537" d="M41.0 75.5L44.2 75.5L41.5 84.3L38.3 84.3z"/>
<path fill="#5dcc75" d="M39.7 75.5L41.4 75.5L38.7 84.3L37.1 84.3z"/>
<path fill="#f5e327" d="M232.5 84.0L235.5 84.0L226.5 92.8L223.7 92.8z"/>
<path fill="#cfc028" d="M230.9 84.0L232.9 84.0L224.1 92.8L222.0 92.8z"/>
<path fill="#fdbd3d" d="M228.9 84.0L231.3 84.0L222.4 92.8L220.1 92.8z"/>
<path fill="#53cc7d" d="M227.2 84.0L229.3 84.0L220.5 92.8L218.4 92.8z"/>
<path fill="#fad42e" d="M224.6 84.0L227.6 84.0L218.8 92.8L215.9 92.8z"/>
<path fill="#96ca48" d="M223.7 84.0L225.0 84.0L216.3 92.8L215.0 92.8z"/>
<path fill="#febe3c" d="M222.1 84.0L224.1 84.0L215.4 92.8L213.5 92.8z"/>
<path fill="#50cc7f" d="M219.9 84.0L222.5 84.0L213.9 92.8L211.4 92.8z"/>
<path fill="#fec239" d="M216.8 84.0L220.3 84.0L211.8 92.8L208.4 92.8z"/>
<path fill="#56cc7b" d="M215.6 84.0L217.2 84.0L208.8 92.8L207.2 92.8z"/>
<path fill="#e3bc2c" d="M211.5 84.0L216.0 84.0L207.6 92.8L203.2 92.8z"/>
<path fill="#82cc58" d="M210.6 84.0L211.9 84.0L203.6 92.8L202.4 92.8z"/>
<path fill="#e1bc2b" d="M206.4 84.0L211.0 84.0L202.8 92.8L198.3 92.8z"/>
<path fill="#69cd6b" d="M203.7 84.0L206.8 84.0L198.7 92.8L195.7 92.8z"/>
<path fill="#fdcc32" d="M201.3 84.0L204.1 84.0L196.1 92.8L193.4 92.8z"/>
<path fill="#33c69e" d="M200.1 84.0L201.7 84.0L193.8 92.8L192.2 92.8z"/>
<path fill="#f5e725" d="M197.8 84.0L200.5 84.0L192.6 92.8L190.0 92.8z"/>
<path fill="#b8c431" d="M194.6 84.0L198.2 84.0L190.4 92.8L186.9 92.8z"/>
<path fill="#fec03b" d="M192.5 84.0L195.0 84.0L187.3 92.8L184.9 92.8z"/>
<path fill="#58cc79" d="M191.5 84.0L192.9 84.0L185.3 92.8L183.9 92.8z"/>
<path fill="#69cd6b" d="M189.1 84.0L191.9 84.0L184.3 92.8L181.6 92.8z"/>
<path fill="#7fcc5a" d="M187.4 84.0L189.5 84.0L182.0 92.8L179.9 92.8z"/>
<path fill="#ebba32" d="M184.6 84.0L187.8 84.0L180.3 92.8L177.3 92.8z"/>
<path fill="#dcbd29" d="M182.7 84.0L185.0 84.0L177.7 92.8L175.4 92.8z"/>
<path fill="#f4ba39" d="M179.9 84.0L183.1 84.0L175.8 92.8L172.7 92.8z"/>
<path fill="#17aeda" d="M178.2 84.0L180.3 84.0L173.1 92.8L171.1 92.8z"/>
<path fill="#fec03b" d="M174.7 84.0L178.6 84.0L171.5 92.8L167.7 92.8z"/>
<path fill="#04bbc2" d="M173.2 84.0L175.1 84.0L168.1 92.8L166.2 92.8z"/>
<path fill="#cac129" d="M170.5 84.0L173.6 84.0L166.6 92.8L163.6 92.8z"/>
<path fill="#46cb87" d="M168.8 84.0L170.9 84.0L164.0 92.8L162.0 92.8z"/>
<path fill="#e2bc2b" d="M164.3 84.0L169.2 84.0L162.4 92.8L157.6 92.8z"/>
<path fill="#b0c636" d="M162.1 84.0L164.7 84.0L158.0 92.8L155.4 92.8z"/>
<path fill="#debc2a" d="M160.2 84.0L162.5 84.0L155.8 92.8L153.6 92.8z"/>
<path fill="#60cd73" d="M159.0 84.0L160.6 84.0L154.0 92.8L152.4 92.8z"/>
<path fill="#fcbd3d" d="M156.0 84.0L159.4 84.0L152.8 92.8L149.6 92.8z"/>
<path fill="#02bac3" d="M152.4 84.0L156.4 84.0L150.0 92.8L146.1 92.8z"/>
<path fill="#fbd42e" d="M151.2 84.0L152.8 84.0L146.5 92.8L144.9 92.8z"/>
<path fill="#62cd70" d="M149.1 84.0L151.6 84.0L145.3 92.8L142.8 92.8z"/>
<path fill="#f8da2b" d="M147.5 84.0L149.5 84.0L143.2 92.8L141.4 92.8z"/>
<path fill="#91ca4c" d="M145.4 84.0L147.9 84.0L141.8 92.8L139.3 92.8z"/>
<path fill="#f5ba3a" d="M143.0 84.0L145.8 84.0L139.7 92.8L137.0 92.8z"/>
<path fill="#33c69d" d="M141.7 84.0L143.4 84.0L137.4 92.8L135.8 92.8z"/>
<path fill="#eeba34" d="M139.0 84.0L142.1 84.0L136.2 92.8L133.1 92.8z"/>
<path fill="#9ec942" d="M137.9 84.0L139.4 84.0L133.5 92.8L132.1 92.8z"/>
<path fill="#fdce31" d="M135.2 84.0L138.3 84.0L132.5 92.8L129.4 92.8z"/>
<path fill="#50cc80" d="M133.7 84.0L135.6 84.0L129.8 92.8L128.0 92.8z"/>
<path fill="#e9bb30" d="M130.5 84.0L134.1 84.0L128.4 92.8L124.9 92.8z"/>
<path fill="#08bcbf" d="M129.7 84.0L130.9 84.0L125.3 92.8L124.1 92.8z"/>
<path fill="#f8ba3d" d="M127.8 84.0L130.1 84.0L124.5 92.8L122.3 92.8z"/>
<path fill="#55cc7b" d="M125.9 84.0L128.2 84.0L122.7 92.8L120.5 92.8z"/>
<path fill="#f4ba3a" d="M124.3 84.0L126.3 84.0L120.9 92.8L118.9 92.8z"/>
<path fill="#0bbdbd" d="M122.4 84.0L124.7 84.0L119.3 92.8L117.1 92.8z"/>
<path fill="#febe3c" d="M120.5 84.0L122.8 84.0L117.5 92.8L115.2 92.8z"/>
<path fill="#38c897" d="M118.8 84.0L120.9 84.0L115.6 92.8L113.6 92.8z"/>
<path fill="#f2ba37" d="M115.3 84.0L119.2 84.0L114.0 92.8L110.1 92.8z"/>
<path fill="#91ca4d" d="M113.5 84.0L115.7 84.0L110.5 92.8L108.5 92.8z"/>
<path fill="#f6de29" d="M112.0 84.0L113.9 84.0L108.9 92.8L107.0 92.8z"/>
<path fill="#25c2ae" d="M111.0 84.0L112.4 84.0L107.4 92.8L106.0 92.8z"/>
<path fill="#f4ba3a" d="M108.4 84.0L111.4 84.0L106.4 92.8L103.5 92.8z"/>
<path fill="#2bc3a8" d="M107.2 84.0L108.8 84.0L103.9 92.8L102.3 92.8z"/>
<path fill="#fdbd3d" d="M105.4 84.0L107.6 84.0L102.7 92.8L100.6 92.8z"/>
<path fill="#89cb53" d="M103.9 84.0L105.8 84.0L101.0 92.8L99.1 92.8z"/>
<path fill="#f7ba3c" d="M100.6 84.0L104.3 84.0L99.5 92.8L95.9 92.8z"/>
<path fill="#29c3aa" d="M99.1 84.0L101.0 84.0L96.3 92.8L94.5 92.8z"/>
<path fill="#ddbd29" d="M95.0 84.0L99.5 84.0L94.9 92.8L90.5 92.8z"/>
<path fill="#a7c73c" d="M93.3 84.0L95.4 84.0L90.9 92.8L88.9 92.8z"/>
<path fill="#e4bb2c" d="M91.3 84.0L93.7 84.0L89.3 92.8L87.0 92.8z"/>
<path fill="#59cc79" d="M89.6 84.0L91.7 84.0L87.4 92.8L85.3 92.8z"/>
<path fill="#fec736" d="M87.1 84.0L90.0 84.0L85.7 92.8L82.9 92.8z"/>
<path fill="#82cc58" d="M86.3 84.0L87.5 84.0L83.3 92.8L82.1 92.8z"/>
<path fill="#fdcc32" d="M83.0 84.0L86.7 84.0L82.5 92.8L78.9 92.8z"/>
<path fill="#7acc5e" d="M81.2 84.0L83.4 84.0L79.3 92.8L77.1 92.8z"/>
<path fill="#f0ba36" d="M79.4 84.0L81.6 84.0L77.5 92.8L75.4 92.8z"/>
<path fill="#07b5cf" d="M75.5 84.0L79.8 84.0L75.8 92.8L71.7 92.8z"/>
<path fill="#fbbc3d" d="M71.3 84.0L75.9 84.0L72.1 92.8L67.6 92.8z"/>
<path fill="#7ccc5c" d="M70.5 84.0L71.7 84.0L68.0 92.8L66.9 92.8z"/>
<path fill="#f7dc2a" d="M67.0 84.0L70.9 84.0L67.3 92.8L63.4 92.8z"/>
<path fill="#02bac4" d="M66.2 84.0L67.4 84.0L63.8 92.8L62.7 92.8z"/>
<path fill="#febd3c" d="M64.5 84.0L66.6 84.0L63.1 92.8L61.0 92.8z"/>
<path fill="#02bac4" d="M63.7 84.0L64.9 84.0L61.4 92.8L60.3 92.8z"/>
<path fill="#fabb3d" d="M61.7 84.0L64.1 84.0L60.7 92.8L58.3 92.8z"/>
<path fill="#5dcc75" d="M59.9 84.0L62.1 84.0L58.7 92.8L56.6 92.8z"/>
<path fill="#f5e128" d="M58.2 84.0L60.3 84.0L57.0 92.8L54.9 92.8z"/>
<path fill="#2fc5a3" d="M57.4 84.0L58.6 84.0L55.3 92.8L54.2 92.8z"/>
<path fill="#fbd22f" d="M53.1 84.0L57.8 84.0L54.6 92.8L50.0 92.8z"/>
<path fill="#73cd63" d="M52.1 84.0L53.5 84.0L50.4 92.8L49.0 92.8z"/>
<path fill="#f7ba3c" d="M49.9 84.0L52.5 84.0L49.4 92.8L46.9 92.8z"/>
<path fill="#49cb86" d="M49.2 84.0L50.3 84.0L47.3 92.8L46.2 92.8z"/>
<path fill="#fdbd3d" d="M45.7 84.0L49.6 84.0L46.6 92.8L42.8 92.8z"/>
<path fill="#5acc78" d="M44.9 84.0L46.1 84.0L43.2 92.8L42.1 92.8z"/>
<path fill="#f4ba39" d="M42.3 84.0L45.3 84.0L42.5 92.8L39.5 92.8z"/>
<path fill="#2fc5a3" d="M41.1 84.0L42.7 84.0L39.9 92.8L38.3 92.8z"/>
<path fill="#fec636" d="M38.3 84.0L41.5 84.0L38.7 92.8L35.7 92.8z"/>
<path fill="#fec03a" d="M234.2 92.5L237.7 92.5L228.3 101.3L225.0 101.3z"/>
<path fill="#20c1b1" d="M232.2 92.5L234.6 92.5L225.4 101.3L223.1 101.3z"/>
<path fill="#fcd030" d="M229.9 92.5L232.6 92.5L223.5 101.3L220.8 101.3z"/>
<path fill="#5bcc76" d="M226.1 92.5L230.3 92.5L221.2 101.3L217.1 101.3z"/>
<path fill="#f5e427" d="M223.7 92.5L226.5 92.5L217.5 101.3L214.8 101.3z"/>
<path fill="#d1bf27" d="M222.0 92.5L224.1 92.5L215.2 101.3L213.2 101.3z"/>
<path fill="#f9bb3d" d="M220.1 92.5L222.4 92.5L213.6 101.3L211.3 101.3z"/>
<path fill="#71cd65" d="M218.4 92.5L220.5 92.5L211.7 101.3L209.7 101.3z"/>
<path fill="#fad52e" d="M215.9 92.5L218.8 92.5L210.1 101.3L207.3 101.3z"/>
<path fill="#98c947" d="M215.0 92.5L216.3 92.5L207.7 101.3L206.4 101.3z"/>
<path fill="#febd3c" d="M213.5 92.5L215.4 92.5L206.8 101.3L205.0 101.3z"/>
<path fill="#52cc7e" d="M211.4 92.5L213.9 92.5L205.4 101.3L202.9 101.3z"/>
<path fill="#fec338" d="M208.4 92.5L211.8 92.5L203.3 101.3L200.0 101.3z"/>
<path fill="#58cc79" d="M207.2 92.5L208.8 92.5L200.4 101.3L198.9 101.3z"/>
<path fill="#e5bb2d" d="M203.2 92.5L207.6 92.5L199.3 101.3L195.0 101.3z"/>
<path fill="#84cb56" d="M202.4 92.5L203.6 92.5L195.4 101.3L194.2 101.3z"/>
<path fill="#e3bc2c" d="M198.3 92.5L202.8 92.5L194.6 101.3L190.3 101.3z"/>
<path fill="#6bcd69" d="M195.7 92.5L198.7 92.5L190.7 101.3L187.8 101.3z"/>
<path fill="#fdcd31" d="M193.4 92.5L196.1 92.5L188.2 101.3L185.5 101.3z"/>
<path fill="#33c79c" d="M192.2 92.5L193.8 92.5L185.9 101.3L184.4 101.3z"/>
<path fill="#f5e825" d="M190.0 92.5L192.6 92.5L184.8 101.3L182.3 101.3z"/>
<path fill="#bac430" d="M186.9 92.5L190.4 92.5L182.7 101.3L179.2 101.3z"/>
<path fill="#fec13a" d="M184.9 92.5L187.3 92.5L179.6 101.3L177.2 101.3z"/>
<path fill="#5acc77" d="M183.9 92.5L185.3 92.5L177.6 101.3L176.3 101.3z"/>
<path fill="#6bcd69" d="M181.6 92.5L184.3 92.5L176.7 101.3L174.1 101.3z"/>
<path fill="#82cc58" d="M179.9 92.5L182.0 92.5L174.5 101.3L172.5 101.3z"/>
<path fill="#edba33" d="M177.3 92.5L180.3 92.5L172.9 101.3L169.9 101.3z"/>
<path fill="#debd29" d="M175.4 92.5L177.7 92.5L170.3 101.3L168.1 101.3z"/>
<path fill="#f5ba3a" d="M172.7 92.5L175.8 92.5L168.5 101.3L165.5 101.3z"/>
<path fill="#16afda" d="M171.1 92.5L173.1 92.5L165.9 101.3L163.9 101.3z"/>
<path fill="#f8ba3d" d="M167.7 92.5L171.5 92.5L164.3 101.3L160.7 101.3z"/>
<path fill="#12b1d7" d="M166.2 92.5L168.1 92.5L161.1 101.3L159.2 101.3z"/>
<path fill="#cbc029" d="M163.6 92.5L166.6 92.5L159.6 101.3L156.7 101.3z"/>
<path fill="#48cb86" d="M162.0 92.5L164.0 92.5L157.1 101.3L155.1 101.3z"/>
<path fill="#e3bc2c" d="M157.6 92.5L162.4 92.5L155.5 101.3L150.9 101.3z"/>
<path fill="#b2c635" d="M155.4 92.5L158.0 92.5L151.3 101.3L148.8 101.3z"/>
<path fill="#e0bc2a" d="M153.6 92.5L155.8 92.5L149.2 101.3L147.1 101.3z"/>
<path fill="#62cd71" d="M152.4 92.5L154.0 92.5L147.5 101.3L145.9 101.3z"/>
<path fill="#fdbd3d" d="M149.6 92.5L152.8 92.5L146.3 101.3L143.2 101.3z"/>
<path fill="#03bbc2" d="M146.1 92.5L150.0 92.5L143.6 101.3L139.8 101.3z"/>
<path fill="#fad52e" d="M144.9 92.5L146.5 92.5L140.2 101.3L138.7 101.3z"/>
<path fill="#64cd6f" d="M142.8 92.5L145.3 92.5L139.1 101.3L136.6 101.3z"/>
<path fill="#f7db2b" d="M141.4 92.5L143.2 92.5L137.0 101.3L135.2 101.3z"/>
<path fill="#94ca4a" d="M139.3 92.5L141.8 92.5L135.6 101.3L133.2 101.3z"/>
<path fill="#f6ba3b" d="M137.0 92.5L139.7 92.5L133.6 101.3L131.0 101.3z"/>
<path fill="#34c79c" d="M135.8 92.5L137.4 92.5L131.4 101.3L129.8 101.3z"/>
<path fill="#f0ba36" d="M133.1 92.5L136.2 92.5L130.2 101.3L127.2 101.3z"/>
<path fill="#86cb54" d="M132.1 92.5L133.5 92.5L127.6 101.3L126.2 101.3z"/>
<path fill="#fccf30" d="M129.4 92.5L132.5 92.5L126.6 101.3L123.7 101.3z"/>
<path fill="#51cc7e" d="M128.0 92.5L129.8 92.5L124.1 101.3L122.3 101.3z"/>
<path fill="#eeba35" d="M124.9 92.5L128.4 92.5L122.7 101.3L119.3 101.3z"/>
<path fill="#09bcbe" d="M124.1 92.5L125.3 92.5L119.7 101.3L118.5 101.3z"/>
<path fill="#f9ba3d" d="M122.3 92.5L124.5 92.5L118.9 101.3L116.7 101.3z"/>
<path fill="#57cc7a" d="M120.5 92.5L122.7 92.5L117.1 101.3L115.0 101.3z"/>
<path fill="#ebba31" d="M118.9 92.5L120.9 92.5L115.4 101.3L113.5 101.3z"/>
<path fill="#0dbdbc" d="M117.1 92.5L119.3 92.5L113.9 101.3L111.7 101.3z"/>
<path fill="#febf3c" d="M115.2 92.5L117.5 92.5L112.1 101.3L109.9 101.3z"/>
<path fill="#39c895" d="M113.6 92.5L115.6 92.5L110.3 101.3L108.3 101.3z"/>
<path fill="#f3ba38" d="M110.1 92.5L114.0 92.5L108.7 101.3L105.0 101.3z"/>
<path fill="#93ca4b" d="M108.5 92.5L110.5 92.5L105.4 101.3L103.4 101.3z"/>
<path fill="#f6df29" d="M107.0 92.5L108.9 92.5L103.8 101.3L102.0 101.3z"/>
<path fill="#26c2ad" d="M106.0 92.5L107.4 92.5L102.4 101.3L101.0 101.3z"/>
<path fill="#f5ba3b" d="M103.5 92.5L106.4 92.5L101.4 101.3L98.6 101.3z"/>
<path fill="#2cc4a7" d="M102.3 92.5L103.9 92.5L99.0 101.3L97.5 101.3z"/>
<path fill="#febe3c" d="M100.6 92.5L102.7 92.5L97.9 101.3L95.8 101.3z"/>
<path fill="#a3c83f" d="M99.1 92.5L101.0 92.5L96.2 101.3L94.4 101.3z"/>
<path fill="#f9ba3d" d="M95.9 92.5L99.5 92.5L94.8 101.3L91.3 101.3z"/>
<path fill="#2ac3a9" d="M94.5 92.5L96.3 92.5L91.7 101.3L89.9 101.3z"/>
<path fill="#dfbc2a" d="M90.5 92.5L94.9 92.5L90.3 101.3L86.1 101.3z"/>
<path fill="#a9c73b" d="M88.9 92.5L90.9 92.5L86.5 101.3L84.5 101.3z"/>
<path fill="#e6bb2d" d="M87.0 92.5L89.3 92.5L84.9 101.3L82.6 101.3z"/>
<path fill="#5bcc77" d="M85.3 92.5L87.4 92.5L83.0 101.3L81.0 101.3z"/>
<path fill="#fec835" d="M82.9 92.5L85.7 92.5L81.4 101.3L78.7 101.3z"/>
<path fill="#84cb56" d="M82.1 92.5L83.3 92.5L79.1 101.3L77.9 101.3z"/>
<path fill="#fdcd32" d="M78.9 92.5L82.5 92.5L78.3 101.3L74.9 101.3z"/>
<path fill="#7ccc5c" d="M77.1 92.5L79.3 92.5L75.3 101.3L73.1 101.3z"/>
<path fill="#f1ba37" d="M75.4 92.5L77.5 92.5L73.5 101.3L71.5 101.3z"/>
<path fill="#06b6ce" d="M71.7 92.5L75.8 92.5L71.9 101.3L67.9 101.3z"/>
<path fill="#fcbd3d" d="M67.6 92.5L72.1 92.5L68.3 101.3L63.8 101.3z"/>
<path fill="#7fcc5a" d="M66.9 92.5L68.0 92.5L64.2 101.3L63.2 101.3z"/>
<path fill="#f7dd2a" d="M63.4 92.5L67.3 92.5L63.6 101.3L59.9 101.3z"/>
<path fill="#02bbc3" d="M62.7 92.5L63.8 92.5L60.3 101.3L59.1 101.3z"/>
<path fill="#febe3c" d="M61.0 92.5L63.1 92.5L59.5 101.3L57.5 101.3z"/>
<path fill="#02bbc3" d="M60.3 92.5L61.4 92.5L57.9 101.3L56.8 101.3z"/>
<path fill="#fbbc3d" d="M58.3 92.5L60.7 92.5L57.2 101.3L54.9 101.3z"/>
<path fill="#5fcd73" d="M56.6 92.5L58.7 92.5L55.3 101.3L53.3 101.3z"/>
<path fill="#f5e227" d="M54.9 92.5L57.0 92.5L53.7 101.3L51.6 101.3z"/>
<path fill="#30c5a2" d="M54.2 92.5L55.3 92.5L52.0 101.3L50.9 101.3z"/>
<path fill="#fbd32e" d="M50.0 92.5L54.6 92.5L51.3 101.3L46.9 101.3z"/>
<path fill="#75cc61" d="M49.0 92.5L50.4 92.5L47.3 101.3L45.9 101.3z"/>
<path fill="#f8ba3d" d="M46.9 92.5L49.4 92.5L46.3 101.3L43.9 101.3z"/>
<path fill="#4acb84" d="M46.2 92.5L47.3 92.5L44.3 101.3L43.2 101.3z"/>
<path fill="#fec437" d="M42.8 92.5L46.6 92.5L43.6 101.3L39.9 101.3z"/>
<path fill="#5ccc76" d="M42.1 92.5L43.2 92.5L40.3 101.3L39.2 101.3z"/>
<path fill="#f5ba3b" d="M39.5 92.5L42.5 92.5L39.6 101.3L36.8 101.3z"/>
<path fill="#30c5a2" d="M38.3 92.5L39.9 92.5L37.2 101.3L35.6 101.3z"/>
<path fill="#d4bf28" d="M232.6 101.0L236.2 101.0L229.4 107.3L225.9 107.3z"/>
<path fill="#01b9c6" d="M231.0 101.0L233.0 101.0L226.3 107.3L224.4 107.3z"/>
<path fill="#e4bb2c" d="M228.8 101.0L231.4 101.0L224.8 107.3L222.1 107.3z"/>
<path fill="#3ac994" d="M227.9 101.0L229.2 101.0L222.5 107.3L221.3 107.3z"/>
<path fill="#fbbc3d" d="M225.0 101.0L228.3 101.0L221.7 107.3L218.5 107.3z"/>
<path fill="#14beb8" d="M223.1 101.0L225.4 101.0L218.9 107.3L216.6 107.3z"/>
<path fill="#feca33" d="M220.8 101.0L223.5 101.0L217.0 107.3L214.4 107.3z"/>
<path fill="#4ecc81" d="M217.1 101.0L221.2 101.0L214.8 107.3L210.8 107.3z"/>
<path fill="#f6de29" d="M214.8 101.0L217.5 101.0L211.2 107.3L208.5 107.3z"/>
<path fill="#c5c22a" d="M213.2 101.0L215.2 101.0L208.9 107.3L206.9 107.3z"/>
<path fill="#f2ba37" d="M211.3 101.0L213.6 101.0L207.3 107.3L205.1 107.3z"/>
<path fill="#63cd70" d="M209.7 101.0L211.7 101.0L205.5 107.3L203.6 107.3z"/>
<path fill="#fdce31" d="M207.3 101.0L210.1 101.0L204.0 107.3L201.2 107.3z"/>
<path fill="#8acb52" d="M206.4 101.0L207.7 101.0L201.6 107.3L200.4 107.3z"/>
<path fill="#f8ba3d" d="M205.0 101.0L206.8 101.0L200.8 107.3L198.9 107.3z"/>
<path fill="#2fc5a3" d="M202.9 101.0L205.4 101.0L199.3 107.3L196.9 107.3z"/>
<path fill="#fdbd3d" d="M200.0 101.0L203.3 101.0L197.3 107.3L194.1 107.3z"/>
<path fill="#4bcb83" d="M198.9 101.0L200.4 101.0L194.5 107.3L193.0 107.3z"/>
<path fill="#dabd28" d="M195.0 101.0L199.3 101.0L193.4 107.3L189.2 107.3z"/>
<path fill="#75cc61" d="M194.2 101.0L195.4 101.0L189.6 107.3L188.4 107.3z"/>
<path fill="#d8be28" d="M190.3 101.0L194.6 101.0L188.8 107.3L184.6 107.3z"/>
<path fill="#5ecc74" d="M187.8 101.0L190.7 101.0L185.0 107.3L182.1 107.3z"/>
<path fill="#fbd32e" d="M185.5 101.0L188.2 101.0L182.5 107.3L180.0 107.3z"/>
<path fill="#35c79a" d="M184.4 101.0L185.9 101.0L180.4 107.3L178.8 107.3z"/>
<path fill="#f6e128" d="M182.3 101.0L184.8 101.0L179.2 107.3L176.8 107.3z"/>
<path fill="#adc638" d="M179.2 101.0L182.7 101.0L177.2 107.3L173.8 107.3z"/>
<path fill="#fbbc3d" d="M177.2 101.0L179.6 101.0L174.2 107.3L171.9 107.3z"/>
<path fill="#4ecc82" d="M176.3 101.0L177.6 101.0L172.3 107.3L171.0 107.3z"/>
<path fill="#5dcc75" d="M174.1 101.0L176.7 101.0L171.4 107.3L168.8 107.3z"/>
<path fill="#72cd63" d="M172.5 101.0L174.5 101.0L169.2 107.3L167.2 107.3z"/>
<path fill="#e3bc2c" d="M169.9 101.0L172.9 101.0L167.6 107.3L164.7 107.3z"/>
<path fill="#d3bf27" d="M168.1 101.0L170.3 101.0L165.1 107.3L163.0 107.3z"/>
<path fill="#ecba33" d="M165.5 101.0L168.5 101.0L163.4 107.3L160.4 107.3z"/>
<path fill="#23a1e5" d="M163.9 101.0L165.9 101.0L160.8 107.3L158.9 107.3z"/>
<path fill="#f0ba36" d="M160.7 101.0L164.3 101.0L159.3 107.3L155.7 107.3z"/>
<path fill="#19addc" d="M159.2 101.0L161.1 101.0L156.1 107.3L154.3 107.3z"/>
<path fill="#bfc32d" d="M156.7 101.0L159.6 101.0L154.7 107.3L151.8 107.3z"/>
<path fill="#51cc7f" d="M155.1 101.0L157.1 101.0L152.2 107.3L150.3 107.3z"/>
<path fill="#d9be28" d="M150.9 101.0L155.5 101.0L150.7 107.3L146.1 107.3z"/>
<path fill="#a4c83e" d="M148.8 101.0L151.3 101.0L146.5 107.3L144.1 107.3z"/>
<path fill="#d5be28" d="M147.1 101.0L149.2 101.0L144.5 107.3L142.4 107.3z"/>
<path fill="#55cc7c" d="M145.9 101.0L147.5 101.0L142.8 107.3L141.3 107.3z"/>
<path fill="#f7ba3c" d="M143.2 101.0L146.3 101.0L141.7 107.3L138.6 107.3z"/>
<path fill="#01b8c9" d="M139.8 101.0L143.6 101.0L139.0 107.3L135.3 107.3z"/>
<path fill="#fdce31" d="M138.7 101.0L140.2 101.0L135.7 107.3L134.2 107.3z"/>
<path fill="#57cc7a" d="M136.6 101.0L139.1 101.0L134.6 107.3L132.2 107.3z"/>
<path fill="#fad42e" d="M135.2 101.0L137.0 101.0L132.6 107.3L130.9 107.3z"/>
<path fill="#85cb55" d="M133.2 101.0L135.6 101.0L131.3 107.3L128.9 107.3z"/>
<path fill="#eeba34" d="M131.0 101.0L133.6 101.0L129.3 107.3L126.7 107.3z"/>
<path fill="#2ec5a4" d="M129.8 101.0L131.4 101.0L127.1 107.3L125.6 107.3z"/>
<path fill="#f9bb3d" d="M127.2 101.0L130.2 101.0L126.0 107.3L123.0 107.3z"/>
<path fill="#77cc60" d="M126.2 101.0L127.6 101.0L123.4 107.3L122.1 107.3z"/>
<path fill="#fec934" d="M123.7 101.0L126.6 101.0L122.5 107.3L119.6 107.3z"/>
<path fill="#45cb88" d="M122.3 101.0L124.1 101.0L120.0 107.3L118.3 107.3z"/>
<path fill="#e5bb2d" d="M119.3 101.0L122.7 101.0L118.7 107.3L115.3 107.3z"/>
<path fill="#02bac5" d="M118.5 101.0L119.7 101.0L115.7 107.3L114.6 107.3z"/>
<path fill="#fdbd3d" d="M116.7 101.0L118.9 101.0L115.0 107.3L112.8 107.3z"/>
<path fill="#4bcb84" d="M115.0 101.0L117.1 101.0L113.2 107.3L111.2 107.3z"/>
<path fill="#e1bc2b" d="M113.5 101.0L115.4 101.0L111.6 107.3L109.7 107.3z"/>
<path fill="#08b5d0" d="M111.7 101.0L113.9 101.0L110.1 107.3L107.9 107.3z"/>
<path fill="#f9bb3d" d="M109.9 101.0L112.1 101.0L108.3 107.3L106.2 107.3z"/>
<path fill="#33c69e" d="M108.3 101.0L110.3 101.0L106.6 107.3L104.6 107.3z"/>
<path fill="#f8ba3d" d="M105.0 101.0L108.7 101.0L105.0 107.3L101.4 107.3z"/>
<path fill="#84cb56" d="M103.4 101.0L105.4 101.0L101.8 107.3L99.8 107.3z"/>
<path fill="#f8d82c" d="M102.0 101.0L103.8 101.0L100.2 107.3L98.4 107.3z"/>
<path fill="#1bc0b4" d="M101.0 101.0L102.4 101.0L98.8 107.3L97.5 107.3z"/>
<path fill="#edba33" d="M98.6 101.0L101.4 101.0L97.9 107.3L95.2 107.3z"/>
<path fill="#24c1af" d="M97.5 101.0L99.0 101.0L95.6 107.3L94.1 107.3z"/>
<path fill="#f8ba3d" d="M95.8 101.0L97.9 101.0L94.5 107.3L92.4 107.3z"/>
<path fill="#95ca49" d="M94.4 101.0L96.2 101.0L92.8 107.3L91.0 107.3z"/>
<path fill="#f0ba36" d="M91.3 101.0L94.8 101.0L91.4 107.3L88.0 107.3z"/>
<path fill="#30c5a2" d="M89.9 101.0L91.7 101.0L88.4 107.3L86.7 107.3z"/>
<path fill="#d4bf28" d="M86.1 101.0L90.3 101.0L87.1 107.3L82.9 107.3z"/>
<path fill="#78cc5f" d="M84.5 101.0L86.5 101.0L83.3 107.3L81.3 107.3z"/>
<path fill="#f4ba39" d="M82.6 101.0L84.9 101.0L81.7 107.3L79.6 107.3z"/>
<path fill="#4ecc81" d="M81.0 101.0L83.0 101.0L80.0 107.3L78.0 107.3z"/>
<path fill="#fec239" d="M78.7 101.0L81.4 101.0L78.4 107.3L75.7 107.3z"/>
<path fill="#75cc61" d="M77.9 101.0L79.1 101.0L76.1 107.3L75.0 107.3z"/>
<path fill="#fad42e" d="M74.9 101.0L78.3 101.0L75.4 107.3L72.0 107.3z"/>
<path fill="#6acd6a" d="M73.1 101.0L75.3 101.0L72.4 107.3L70.3 107.3z"/>
<path fill="#f5ba3a" d="M71.5 101.0L73.5 101.0L70.7 107.3L68.7 107.3z"/>
<path fill="#0fb2d4" d="M67.9 101.0L71.9 101.0L69.1 107.3L65.1 107.3z"/>
<path fill="#f6ba3b" d="M63.8 101.0L68.3 101.0L65.5 107.3L61.2 107.3z"/>
<path fill="#70cd65" d="M63.2 101.0L64.2 101.0L61.6 107.3L60.6 107.3z"/>
<path fill="#fbd12f" d="M59.9 101.0L63.6 101.0L61.0 107.3L57.4 107.3z"/>
<path fill="#01b8ca" d="M59.1 101.0L60.3 101.0L57.8 107.3L56.6 107.3z"/>
<path fill="#f9ba3d" d="M57.5 101.0L59.5 101.0L57.0 107.3L55.1 107.3z"/>
<path fill="#01b8ca" d="M56.8 101.0L57.9 101.0L55.5 107.3L54.4 107.3z"/>
<path fill="#f3ba39" d="M54.9 101.0L57.2 101.0L54.8 107.3L52.5 107.3z"/>
<path fill="#52cc7e" d="M53.3 101.0L55.3 101.0L52.9 107.3L50.9 107.3z"/>
<path fill="#f7dc2a" d="M51.6 101.0L53.7 101.0L51.3 107.3L49.3 107.3z"/>
<path fill="#29c3aa" d="M50.9 101.0L52.0 101.0L49.7 107.3L48.6 107.3z"/>
<path fill="#fdcd31" d="M46.9 101.0L51.3 101.0L49.0 107.3L44.7 107.3z"/>
<path fill="#5dcc75" d="M45.9 101.0L47.3 101.0L45.1 107.3L43.8 107.3z"/>
<path fill="#f0ba36" d="M43.9 101.0L46.3 101.0L44.2 107.3L41.7 107.3z"/>
<path fill="#3fca8e" d="M43.2 101.0L44.3 101.0L42.1 107.3L41.1 107.3z"/>
<path fill="#febe3c" d="M39.9 101.0L43.6 101.0L41.5 107.3L37.9 107.3z"/>
<path fill="#4fcc80" d="M39.2 101.0L40.3 101.0L38.3 107.3L37.2 107.3z"/>
<path fill="#efba35" d="M36.8 101.0L39.6 101.0L37.6 107.3L34.8 107.3z"/>
<path fill="#45cb89" d="M232.4 107.0L235.1 107.0L228.1 113.3L225.5 113.3z"/>
<path fill="#fec537" d="M230.2 107.0L232.8 107.0L225.9 113.3L223.3 113.3z"/>
<path fill="#21c1b0" d="M229.0 107.0L230.6 107.0L223.7 113.3L222.2 113.3z"/>
<path fill="#d2bf27" d="M225.9 107.0L229.4 107.0L222.6 113.3L219.1 113.3z"/>
<path fill="#01b9c7" d="M224.4 107.0L226.3 107.0L219.5 113.3L217.7 113.3z"/>
<path fill="#4dcb82" d="M222.1 107.0L224.8 107.0L218.1 113.3L215.5 113.3z"/>
<path fill="#39c895" d="M221.3 107.0L222.5 107.0L215.9 113.3L214.7 113.3z"/>
<path fill="#fabb3d" d="M218.5 107.0L221.7 107.0L215.1 113.3L211.9 113.3z"/>
<path fill="#12beb9" d="M216.6 107.0L218.9 107.0L212.3 113.3L210.1 113.3z"/>
<path fill="#fdcd32" d="M214.4 107.0L217.0 107.0L210.5 113.3L208.0 113.3z"/>
<path fill="#4ccb82" d="M210.8 107.0L214.8 107.0L208.4 113.3L204.4 113.3z"/>
<path fill="#f7dd2a" d="M208.5 107.0L211.2 107.0L204.8 113.3L202.2 113.3z"/>
<path fill="#02bbc3" d="M206.9 107.0L208.9 107.0L202.6 113.3L200.7 113.3z"/>
<path fill="#f0ba36" d="M205.1 107.0L207.3 107.0L201.1 113.3L198.9 113.3z"/>
<path fill="#61cd71" d="M203.6 107.0L205.5 107.0L199.3 113.3L197.4 113.3z"/>
<path fill="#fad52e" d="M201.2 107.0L204.0 107.0L197.8 113.3L195.1 113.3z"/>
<path fill="#88cb53" d="M200.4 107.0L201.6 107.0L195.5 113.3L194.3 113.3z"/>
<path fill="#f6ba3c" d="M198.9 107.0L200.8 107.0L194.7 113.3L192.9 113.3z"/>
<path fill="#2ec5a4" d="M196.9 107.0L199.3 107.0L193.3 113.3L190.9 113.3z"/>
<path fill="#fdbd3d" d="M194.1 107.0L197.3 107.0L191.3 113.3L188.2 113.3z"/>
<path fill="#78cc5f" d="M193.0 107.0L194.5 107.0L188.6 113.3L187.1 113.3z"/>
<path fill="#d9be28" d="M189.2 107.0L193.4 107.0L187.5 113.3L183.4 113.3z"/>
<path fill="#73cd62" d="M188.4 107.0L189.6 107.0L183.8 113.3L182.6 113.3z"/>
<path fill="#d7be28" d="M184.6 107.0L188.8 107.0L183.0 113.3L178.9 113.3z"/>
<path fill="#5ccc76" d="M182.1 107.0L185.0 107.0L179.3 113.3L176.5 113.3z"/>
<path fill="#fbd32f" d="M180.0 107.0L182.5 107.0L176.9 113.3L174.4 113.3z"/>
<path fill="#35c79b" d="M178.8 107.0L180.4 107.0L174.8 113.3L173.3 113.3z"/>
<path fill="#f6e028" d="M176.8 107.0L179.2 107.0L173.7 113.3L171.3 113.3z"/>
<path fill="#abc739" d="M173.8 107.0L177.2 107.0L171.7 113.3L168.4 113.3z"/>
<path fill="#fbbc3d" d="M171.9 107.0L174.2 107.0L168.8 113.3L166.5 113.3z"/>
<path fill="#4ccb83" d="M171.0 107.0L172.3 107.0L166.9 113.3L165.6 113.3z"/>
<path fill="#5bcc76" d="M168.8 107.0L171.4 107.0L166.0 113.3L163.5 113.3z"/>
<path fill="#71cd65" d="M167.2 107.0L169.2 107.0L163.9 113.3L162.0 113.3z"/>
<path fill="#e2bc2b" d="M164.7 107.0L167.6 107.0L162.4 113.3L159.5 113.3z"/>
<path fill="#d2bf27" d="M163.0 107.0L165.1 107.0L159.9 113.3L157.8 113.3z"/>
<path fill="#ebba32" d="M160.4 107.0L163.4 107.0L158.2 113.3L155.3 113.3z"/>
<path fill="#23a0e5" d="M158.9 107.0L160.8 107.0L155.7 113.3L153.8 113.3z"/>
<path fill="#eeba34" d="M155.7 107.0L159.3 107.0L154.2 113.3L150.7 113.3z"/>
<path fill="#19acdc" d="M154.3 107.0L156.1 107.0L151.1 113.3L149.3 113.3z"/>
<path fill="#bdc32e" d="M151.8 107.0L154.7 107.0L149.7 113.3L146.9 113.3z"/>
<path fill="#50cc80" d="M150.3 107.0L152.2 107.0L147.3 113.3L145.4 113.3z"/>
<path fill="#d7be28" d="M146.1 107.0L150.7 107.0L145.8 113.3L141.4 113.3z"/>
<path fill="#a2c83f" d="M144.1 107.0L146.5 107.0L141.8 113.3L139.4 113.3z"/>
<path fill="#d4bf27" d="M142.4 107.0L144.5 107.0L139.8 113.3L137.8 113.3z"/>
<path fill="#53cc7d" d="M141.3 107.0L142.8 107.0L138.2 113.3L136.7 113.3z"/>
<path fill="#f6ba3b" d="M138.6 107.0L141.7 107.0L137.1 113.3L134.1 113.3z"/>
<path fill="#01b8ca" d="M135.3 107.0L139.0 107.0L134.5 113.3L130.9 113.3z"/>
<path fill="#fdcd31" d="M134.2 107.0L135.7 107.0L131.3 113.3L129.8 113.3z"/>
<path fill="#55cc7b" d="M132.2 107.0L134.6 107.0L130.2 113.3L127.9 113.3z"/>
<path fill="#fbd42e" d="M130.9 107.0L132.6 107.0L128.3 113.3L126.5 113.3z"/>
<path fill="#83cc57" d="M128.9 107.0L131.3 107.0L126.9 113.3L124.6 113.3z"/>
<path fill="#ecba33" d="M126.7 107.0L129.3 107.0L125.0 113.3L122.5 113.3z"/>
<path fill="#2dc4a5" d="M125.6 107.0L127.1 107.0L122.9 113.3L121.4 113.3z"/>
<path fill="#f8ba3d" d="M123.0 107.0L126.0 107.0L121.8 113.3L118.9 113.3z"/>
<path fill="#75cc61" d="M122.1 107.0L123.4 107.0L119.3 113.3L118.0 113.3z"/>
<path fill="#fdcc32" d="M119.6 107.0L122.5 107.0L118.4 113.3L115.5 113.3z"/>
<path fill="#44cb8a" d="M118.3 107.0L120.0 107.0L115.9 113.3L114.2 113.3z"/>
<path fill="#e4bb2c" d="M115.3 107.0L118.7 107.0L114.6 113.3L111.3 113.3z"/>
<path fill="#24c2ae" d="M114.6 107.0L115.7 107.0L111.7 113.3L110.6 113.3z"/>
<path fill="#fdbd3d" d="M112.8 107.0L115.0 107.0L111.0 113.3L108.9 113.3z"/>
<path fill="#49cb85" d="M111.2 107.0L113.2 107.0L109.3 113.3L107.3 113.3z"/>
<path fill="#e0bc2a" d="M109.7 107.0L111.6 107.0L107.7 113.3L105.9 113.3z"/>
<path fill="#09b4d1" d="M107.9 107.0L110.1 107.0L106.3 113.3L104.2 113.3z"/>
<path fill="#f8ba3d" d="M106.2 107.0L108.3 107.0L104.6 113.3L102.4 113.3z"/>
<path fill="#32c69f" d="M104.6 107.0L106.6 107.0L102.8 113.3L100.9 113.3z"/>
<path fill="#f7ba3c" d="M101.4 107.0L105.0 107.0L101.3 113.3L97.8 113.3z"/>
<path fill="#33c69d" d="M99.8 107.0L101.8 107.0L98.2 113.3L96.3 113.3z"/>
<path fill="#f9d72c" d="M98.4 107.0L100.2 107.0L96.7 113.3L94.9 113.3z"/>
<path fill="#1abfb5" d="M97.5 107.0L98.8 107.0L95.3 113.3L94.0 113.3z"/>
<path fill="#e9bb2f" d="M95.2 107.0L97.9 107.0L94.4 113.3L91.7 113.3z"/>
<path fill="#22c1b0" d="M94.1 107.0L95.6 107.0L92.1 113.3L90.6 113.3z"/>
<path fill="#f7ba3c" d="M92.4 107.0L94.5 107.0L91.0 113.3L89.0 113.3z"/>
<path fill="#93ca4b" d="M91.0 107.0L92.8 107.0L89.4 113.3L87.6 113.3z"/>
<path fill="#efba35" d="M88.0 107.0L91.4 107.0L88.0 113.3L84.7 113.3z"/>
<path fill="#2fc5a3" d="M86.7 107.0L88.4 107.0L85.1 113.3L83.4 113.3z"/>
<path fill="#d2bf27" d="M82.9 107.0L87.1 107.0L83.8 113.3L79.8 113.3z"/>
<path fill="#76cc60" d="M81.3 107.0L83.3 107.0L80.2 113.3L78.2 113.3z"/>
<path fill="#f3ba38" d="M79.6 107.0L81.7 107.0L78.6 113.3L76.5 113.3z"/>
<path fill="#4ccb83" d="M78.0 107.0L80.0 107.0L76.9 113.3L75.0 113.3z"/>
<path fill="#fec13a" d="M75.7 107.0L78.4 107.0L75.4 113.3L72.7 113.3z"/>
<path fill="#73cd62" d="M75.0 107.0L76.1 107.0L73.1 113.3L72.0 113.3z"/>
<path fill="#fbd32e" d="M72.0 107.0L75.4 107.0L72.4 113.3L69.1 113.3z"/>
<path fill="#68cd6c" d="M70.3 107.0L72.4 107.0L69.5 113.3L67.4 113.3z"/>
<path fill="#f4ba39" d="M68.7 107.0L70.7 107.0L67.8 113.3L65.9 113.3z"/>
<path fill="#22c1b0" d="M65.1 107.0L69.1 107.0L66.3 113.3L62.4 113.3z"/>
<path fill="#f5ba3a" d="M61.2 107.0L65.5 107.0L62.8 113.3L58.6 113.3z"/>
<path fill="#63cd6f" d="M60.6 107.0L61.6 107.0L59.0 113.3L58.0 113.3z"/>
<path fill="#fcd130" d="M57.4 107.0L61.0 107.0L58.4 113.3L54.8 113.3z"/>
<path fill="#02b7ca" d="M56.6 107.0L57.8 107.0L55.2 113.3L54.1 113.3z"/>
<path fill="#f1ba37" d="M55.1 107.0L57.0 107.0L54.5 113.3L52.6 113.3z"/>
<path fill="#02b7ca" d="M54.4 107.0L55.5 107.0L53.0 113.3L51.9 113.3z"/>
<path fill="#f2ba38" d="M52.5 107.0L54.8 107.0L52.3 113.3L50.1 113.3z"/>
<path fill="#16afda" d="M50.9 107.0L52.9 107.0L50.5 113.3L48.5 113.3z"/>
<path fill="#f7db2a" d="M49.3 107.0L51.3 107.0L48.9 113.3L47.0 113.3z"/>
<path fill="#2fc5a3" d="M48.6 107.0L49.7 107.0L47.4 113.3L46.3 113.3z"/>
<path fill="#febe3c" d="M44.7 107.0L49.0 107.0L46.7 113.3L42.5 113.3z"/>
<path fill="#5bcc76" d="M43.8 107.0L45.1 107.0L42.9 113.3L41.6 113.3z"/>
<path fill="#f6de29" d="M41.7 107.0L44.2 107.0L42.0 113.3L39.6 113.3z"/>
<path fill="#4dcc82" d="M41.1 107.0L42.1 107.0L40.0 113.3L39.0 113.3z"/>
<path fill="#febe3c" d="M37.9 107.0L41.5 107.0L39.4 113.3L35.9 113.3z"/>
<path fill="#fbd12f" d="M235.8 113.0L238.3 113.0L227.5 122.3L225.1 122.3z"/>
<path fill="#0fb2d4" d="M233.3 113.0L236.2 113.0L225.5 122.3L222.7 122.3z"/>
<path fill="#fdbd3d" d="M230.8 113.0L233.7 113.0L223.1 122.3L220.2 122.3z"/>
<path fill="#5bcc77" d="M229.1 113.0L231.2 113.0L220.6 122.3L218.6 122.3z"/>
<path fill="#fec437" d="M227.7 113.0L229.5 113.0L219.0 122.3L217.3 122.3z"/>
<path fill="#4acb85" d="M225.5 113.0L228.1 113.0L217.7 122.3L215.2 122.3z"/>
<path fill="#fdcc32" d="M223.3 113.0L225.9 113.0L215.6 122.3L213.1 122.3z"/>
<path fill="#2bc3a8" d="M222.2 113.0L223.7 113.0L213.5 122.3L212.0 122.3z"/>
<path fill="#debc2a" d="M219.1 113.0L222.6 113.0L212.4 122.3L209.1 122.3z"/>
<path fill="#06bcc0" d="M217.7 113.0L219.5 113.0L209.5 122.3L207.7 122.3z"/>
<path fill="#5bcc77" d="M215.5 113.0L218.1 113.0L208.1 122.3L205.6 122.3z"/>
<path fill="#2fc5a3" d="M214.7 113.0L215.9 113.0L206.0 122.3L204.8 122.3z"/>
<path fill="#fec03a" d="M211.9 113.0L215.1 113.0L205.2 122.3L202.1 122.3z"/>
<path fill="#3ac994" d="M210.1 113.0L212.3 113.0L202.5 122.3L200.4 122.3z"/>
<path fill="#fad42e" d="M208.0 113.0L210.5 113.0L200.8 122.3L198.3 122.3z"/>
<path fill="#5bcc77" d="M204.4 113.0L208.4 113.0L198.7 122.3L194.9 122.3z"/>
<path fill="#f5e825" d="M202.2 113.0L204.8 113.0L195.3 122.3L192.8 122.3z"/>
<path fill="#0ebdbb" d="M200.7 113.0L202.6 113.0L193.2 122.3L191.3 122.3z"/>
<path fill="#f6ba3b" d="M198.9 113.0L201.1 113.0L191.7 122.3L189.6 122.3z"/>
<path fill="#70cd65" d="M197.4 113.0L199.3 113.0L190.0 122.3L188.2 122.3z"/>
<path fill="#f7dc2a" d="M195.1 113.0L197.8 113.0L188.6 122.3L185.9 122.3z"/>
<path fill="#f2ba38" d="M194.3 113.0L195.5 113.0L186.3 122.3L185.2 122.3z"/>
<path fill="#fdbd3d" d="M192.9 113.0L194.7 113.0L185.6 122.3L183.8 122.3z"/>
<path fill="#35c79b" d="M190.9 113.0L193.3 113.0L184.2 122.3L181.9 122.3z"/>
<path fill="#fec339" d="M188.2 113.0L191.3 113.0L182.3 122.3L179.3 122.3z"/>
<path fill="#89cb53" d="M187.1 113.0L188.6 113.0L179.7 122.3L178.2 122.3z"/>
<path fill="#e5bb2c" d="M183.4 113.0L187.5 113.0L178.6 122.3L174.7 122.3z"/>
<path fill="#84cc56" d="M182.6 113.0L183.8 113.0L175.1 122.3L174.0 122.3z"/>
<path fill="#ddbd29" d="M178.9 113.0L183.0 113.0L174.4 122.3L170.4 122.3z"/>
<path fill="#70cd65" d="M176.5 113.0L179.3 113.0L170.8 122.3L168.1 122.3z"/>
<path fill="#f8da2b" d="M174.4 113.0L176.9 113.0L168.5 122.3L166.0 122.3z"/>
<path fill="#3cc991" d="M173.3 113.0L174.8 113.0L166.4 122.3L165.0 122.3z"/>
<path fill="#f5e725" d="M171.3 113.0L173.7 113.0L165.4 122.3L163.0 122.3z"/>
<path fill="#bac430" d="M168.4 113.0L171.7 113.0L163.4 122.3L160.3 122.3z"/>
<path fill="#fec13a" d="M166.5 113.0L168.8 113.0L160.7 122.3L158.5 122.3z"/>
<path fill="#5acc77" d="M165.6 113.0L166.9 113.0L158.9 122.3L157.6 122.3z"/>
<path fill="#6acd6a" d="M163.5 113.0L166.0 113.0L158.0 122.3L155.6 122.3z"/>
<path fill="#81cc58" d="M162.0 113.0L163.9 113.0L156.0 122.3L154.1 122.3z"/>
<path fill="#ecba33" d="M159.5 113.0L162.4 113.0L154.5 122.3L151.7 122.3z"/>
<path fill="#debd29" d="M157.8 113.0L159.9 113.0L152.1 122.3L150.1 122.3z"/>
<path fill="#febf3b" d="M155.3 113.0L158.2 113.0L150.5 122.3L147.7 122.3z"/>
<path fill="#1da9e0" d="M153.8 113.0L155.7 113.0L148.1 122.3L146.3 122.3z"/>
<path fill="#f8ba3d" d="M150.7 113.0L154.2 113.0L146.7 122.3L143.3 122.3z"/>
<path fill="#13b1d7" d="M149.3 113.0L151.1 113.0L143.7 122.3L141.9 122.3z"/>
<path fill="#f5e228" d="M146.9 113.0L149.7 113.0L142.3 122.3L139.6 122.3z"/>
<path fill="#5ecc74" d="M145.4 113.0L147.3 113.0L140.0 122.3L138.2 122.3z"/>
<path fill="#f0ba36" d="M141.4 113.0L145.8 113.0L138.6 122.3L134.3 122.3z"/>
<path fill="#6ccd68" d="M139.4 113.0L141.8 113.0L134.7 122.3L132.4 122.3z"/>
<path fill="#f7ba3c" d="M137.8 113.0L139.8 113.0L132.8 122.3L130.8 122.3z"/>
<path fill="#8dcb50" d="M136.7 113.0L138.2 113.0L131.2 122.3L129.8 122.3z"/>
<path fill="#fdbd3d" d="M134.1 113.0L137.1 113.0L130.2 122.3L127.3 122.3z"/>
<path fill="#03bbc2" d="M130.9 113.0L134.5 113.0L127.7 122.3L124.2 122.3z"/>
<path fill="#fad42e" d="M129.8 113.0L131.3 113.0L124.6 122.3L123.1 122.3z"/>
<path fill="#64cd6f" d="M127.9 113.0L130.2 113.0L123.5 122.3L121.3 122.3z"/>
<path fill="#f7db2b" d="M126.5 113.0L128.3 113.0L121.7 122.3L120.0 122.3z"/>
<path fill="#5dcc75" d="M124.6 113.0L126.9 113.0L120.4 122.3L118.1 122.3z"/>
<path fill="#f6ba3b" d="M122.5 113.0L125.0 113.0L118.5 122.3L116.1 122.3z"/>
<path fill="#34c79c" d="M121.4 113.0L122.9 113.0L116.5 122.3L115.0 122.3z"/>
<path fill="#febe3c" d="M118.9 113.0L121.8 113.0L115.4 122.3L112.7 122.3z"/>
<path fill="#86cb55" d="M118.0 113.0L119.3 113.0L113.1 122.3L111.8 122.3z"/>
<path fill="#fbd32e" d="M115.5 113.0L118.4 113.0L112.2 122.3L109.4 122.3z"/>
<path fill="#a6c73c" d="M114.2 113.0L115.9 113.0L109.8 122.3L108.2 122.3z"/>
<path fill="#ecba32" d="M111.3 113.0L114.6 113.0L108.6 122.3L105.4 122.3z"/>
<path fill="#2dc4a6" d="M110.6 113.0L111.7 113.0L105.8 122.3L104.7 122.3z"/>
<path fill="#fec339" d="M108.9 113.0L111.0 113.0L105.1 122.3L103.1 122.3z"/>
<path fill="#57cc7a" d="M107.3 113.0L109.3 113.0L103.5 122.3L101.5 122.3z"/>
<path fill="#ebba31" d="M105.9 113.0L107.7 113.0L101.9 122.3L100.1 122.3z"/>
<path fill="#01b8ca" d="M104.2 113.0L106.3 113.0L100.5 122.3L98.5 122.3z"/>
<path fill="#fec13a" d="M102.4 113.0L104.6 113.0L98.9 122.3L96.8 122.3z"/>
<path fill="#39c895" d="M100.9 113.0L102.8 113.0L97.2 122.3L95.4 122.3z"/>
<path fill="#febe3c" d="M97.8 113.0L101.3 113.0L95.8 122.3L92.4 122.3z"/>
<path fill="#3ac994" d="M96.3 113.0L98.2 113.0L92.8 122.3L90.9 122.3z"/>
<path fill="#f5e327" d="M94.9 113.0L96.7 113.0L91.3 122.3L89.6 122.3z"/>
<path fill="#26c2ad" d="M94.0 113.0L95.3 113.0L90.0 122.3L88.7 122.3z"/>
<path fill="#f3ba38" d="M91.7 113.0L94.4 113.0L89.1 122.3L86.5 122.3z"/>
<path fill="#2cc4a7" d="M90.6 113.0L92.1 113.0L86.9 122.3L85.5 122.3z"/>
<path fill="#febe3c" d="M89.0 113.0L91.0 113.0L85.9 122.3L83.9 122.3z"/>
<path fill="#a3c83f" d="M87.6 113.0L89.4 113.0L84.3 122.3L82.6 122.3z"/>
<path fill="#fec13a" d="M84.7 113.0L88.0 113.0L83.0 122.3L79.8 122.3z"/>
<path fill="#35c79a" d="M83.4 113.0L85.1 113.0L80.2 122.3L78.6 122.3z"/>
<path fill="#debc2a" d="M79.8 113.0L83.8 113.0L79.0 122.3L75.0 122.3z"/>
<path fill="#87cb54" d="M78.2 113.0L80.2 113.0L75.4 122.3L73.6 122.3z"/>
<path fill="#fbbc3d" d="M76.5 113.0L78.6 113.0L74.0 122.3L71.9 122.3z"/>
<path fill="#5acc77" d="M75.0 113.0L76.9 113.0L72.3 122.3L70.4 122.3z"/>
<path fill="#fec835" d="M72.7 113.0L75.4 113.0L70.8 122.3L68.3 122.3z"/>
<path fill="#e6bb2d" d="M72.0 113.0L73.1 113.0L68.7 122.3L67.6 122.3z"/>
<path fill="#f8da2b" d="M69.1 113.0L72.4 113.0L68.0 122.3L64.8 122.3z"/>
<path fill="#78cc5f" d="M67.4 113.0L69.5 113.0L65.2 122.3L63.2 122.3z"/>
<path fill="#fbbc3d" d="M65.9 113.0L67.8 113.0L63.6 122.3L61.7 122.3z"/>
<path fill="#2cc4a7" d="M62.4 113.0L66.3 113.0L62.1 122.3L58.4 122.3z"/>
<path fill="#fcbd3d" d="M58.6 113.0L62.8 113.0L58.8 122.3L54.7 122.3z"/>
<path fill="#73cd63" d="M58.0 113.0L59.0 113.0L55.1 122.3L54.1 122.3z"/>
<path fill="#f9d82c" d="M54.8 113.0L58.4 113.0L54.5 122.3L51.1 122.3z"/>
<path fill="#02bbc3" d="M54.1 113.0L55.2 113.0L51.5 122.3L50.4 122.3z"/>
<path fill="#fabb3d" d="M52.6 113.0L54.5 113.0L50.8 122.3L48.9 122.3z"/>
<path fill="#02bbc3" d="M51.9 113.0L53.0 113.0L49.3 122.3L48.2 122.3z"/>
<path fill="#fbbc3d" d="M50.1 113.0L52.3 113.0L48.6 122.3L46.5 122.3z"/>
<path fill="#0db3d3" d="M48.5 113.0L50.5 113.0L46.9 122.3L45.0 122.3z"/>
<path fill="#f5e227" d="M47.0 113.0L48.9 113.0L45.4 122.3L43.5 122.3z"/>
<path fill="#35c79a" d="M46.3 113.0L47.4 113.0L43.9 122.3L42.9 122.3z"/>
<path fill="#fec438" d="M42.5 113.0L46.7 113.0L43.3 122.3L39.2 122.3z"/>
<path fill="#38c896" d="M41.6 113.0L42.9 113.0L39.6 122.3L38.3 122.3z"/>
<path fill="#f5e526" d="M39.6 113.0L42.0 113.0L38.7 122.3L36.4 122.3z"/>
<path fill="#5ccc76" d="M39.0 113.0L40.0 113.0L36.8 122.3L35.8 122.3z"/>
<path fill="#06b5cf" d="M233.5 122.0L235.8 122.0L224.7 131.3L222.4 131.3z"/>
<path fill="#e0bc2b" d="M232.1 122.0L233.9 122.0L222.8 131.3L221.2 131.3z"/>
<path fill="#95ca49" d="M230.4 122.0L232.5 122.0L221.6 131.3L219.4 131.3z"/>
<path fill="#f3ba39" d="M228.6 122.0L230.8 122.0L219.8 131.3L217.8 131.3z"/>
<path fill="#66cd6d" d="M227.1 122.0L229.0 122.0L218.2 131.3L216.3 131.3z"/>
<path fill="#fcd030" d="M225.1 122.0L227.5 122.0L216.7 131.3L214.4 131.3z"/>
<path fill="#11b2d5" d="M222.7 122.0L225.5 122.0L214.8 131.3L212.1 131.3z"/>
<path fill="#fcbc3d" d="M220.2 122.0L223.1 122.0L212.5 131.3L209.7 131.3z"/>
<path fill="#68cd6b" d="M218.6 122.0L220.6 122.0L210.1 131.3L208.2 131.3z"/>
<path fill="#fec338" d="M217.3 122.0L219.0 122.0L208.6 131.3L206.9 131.3z"/>
<path fill="#48cb86" d="M215.2 122.0L217.7 122.0L207.3 131.3L204.9 131.3z"/>
<path fill="#fdcb33" d="M213.1 122.0L215.6 122.0L205.3 131.3L202.9 131.3z"/>
<path fill="#29c3a9" d="M212.0 122.0L213.5 122.0L203.3 131.3L201.8 131.3z"/>
<path fill="#ddbd29" d="M209.1 122.0L212.4 122.0L202.2 131.3L199.0 131.3z"/>
<path fill="#05bbc1" d="M207.7 122.0L209.5 122.0L199.4 131.3L197.7 131.3z"/>
<path fill="#59cc79" d="M205.6 122.0L208.1 122.0L198.1 131.3L195.6 131.3z"/>
<path fill="#2ec4a4" d="M204.8 122.0L206.0 122.0L196.0 131.3L194.9 131.3z"/>
<path fill="#edba33" d="M202.1 122.0L205.2 122.0L195.3 131.3L192.3 131.3z"/>
<path fill="#38c896" d="M200.4 122.0L202.5 122.0L192.7 131.3L190.6 131.3z"/>
<path fill="#fbd32f" d="M198.3 122.0L200.8 122.0L191.0 131.3L188.7 131.3z"/>
<path fill="#58cc79" d="M194.9 122.0L198.7 122.0L189.1 131.3L185.4 131.3z"/>
<path fill="#f5e725" d="M192.8 122.0L195.3 122.0L185.8 131.3L183.3 131.3z"/>
<path fill="#0bbdbc" d="M191.3 122.0L193.2 122.0L183.7 131.3L182.0 131.3z"/>
<path fill="#f5ba3a" d="M189.6 122.0L191.7 122.0L182.4 131.3L180.3 131.3z"/>
<path fill="#6ecd67" d="M188.2 122.0L190.0 122.0L180.7 131.3L178.9 131.3z"/>
<path fill="#f7db2b" d="M185.9 122.0L188.6 122.0L179.3 131.3L176.8 131.3z"/>
<path fill="#f1ba36" d="M185.2 122.0L186.3 122.0L177.2 131.3L176.0 131.3z"/>
<path fill="#f2ba38" d="M183.8 122.0L185.6 122.0L176.4 131.3L174.8 131.3z"/>
<path fill="#34c79c" d="M181.9 122.0L184.2 122.0L175.2 131.3L172.9 131.3z"/>
<path fill="#8fcb4e" d="M179.3 122.0L182.3 122.0L173.3 131.3L170.4 131.3z"/>
<path fill="#86cb54" d="M178.2 122.0L179.7 122.0L170.8 131.3L169.4 131.3z"/>
<path fill="#e3bc2c" d="M174.7 122.0L178.6 122.0L169.8 131.3L166.0 131.3z"/>
<path fill="#81cc58" d="M174.0 122.0L175.1 122.0L166.4 131.3L165.3 131.3z"/>
<path fill="#dbbd29" d="M170.4 122.0L174.4 122.0L165.7 131.3L161.9 131.3z"/>
<path fill="#6dcd67" d="M168.1 122.0L170.8 122.0L162.3 131.3L159.6 131.3z"/>
<path fill="#f9d72d" d="M166.0 122.0L168.5 122.0L160.0 131.3L157.7 131.3z"/>
<path fill="#07bcbf" d="M165.0 122.0L166.4 122.0L158.1 131.3L156.6 131.3z"/>
<path fill="#f5e725" d="M163.0 122.0L165.4 122.0L157.0 131.3L154.8 131.3z"/>
<path fill="#b7c532" d="M160.3 122.0L163.4 122.0L155.2 131.3L152.2 131.3z"/>
<path fill="#fec03a" d="M158.5 122.0L160.7 122.0L152.6 131.3L150.4 131.3z"/>
<path fill="#afc637" d="M157.6 122.0L158.9 122.0L150.8 131.3L149.6 131.3z"/>
<path fill="#ebba31" d="M155.6 122.0L158.0 122.0L150.0 131.3L147.6 131.3z"/>
<path fill="#7ecc5a" d="M154.1 122.0L156.0 122.0L148.0 131.3L146.2 131.3z"/>
<path fill="#ebba31" d="M151.7 122.0L154.5 122.0L146.6 131.3L143.9 131.3z"/>
<path fill="#dcbd29" d="M150.1 122.0L152.1 122.0L144.3 131.3L142.4 131.3z"/>
<path fill="#febe3c" d="M147.7 122.0L150.5 122.0L142.8 131.3L140.0 131.3z"/>
<path fill="#1da8e0" d="M146.3 122.0L148.1 122.0L140.4 131.3L138.7 131.3z"/>
<path fill="#f6ba3c" d="M143.3 122.0L146.7 122.0L139.1 131.3L135.8 131.3z"/>
<path fill="#14b0d8" d="M141.9 122.0L143.7 122.0L136.2 131.3L134.5 131.3z"/>
<path fill="#f6e128" d="M139.6 122.0L142.3 122.0L134.9 131.3L132.3 131.3z"/>
<path fill="#7acc5d" d="M138.2 122.0L140.0 122.0L132.7 131.3L131.0 131.3z"/>
<path fill="#efba35" d="M134.3 122.0L138.6 122.0L131.4 131.3L127.2 131.3z"/>
<path fill="#6acd6a" d="M132.4 122.0L134.7 122.0L127.6 131.3L125.4 131.3z"/>
<path fill="#f5ba3b" d="M130.8 122.0L132.8 122.0L125.8 131.3L123.9 131.3z"/>
<path fill="#8acb52" d="M129.8 122.0L131.2 122.0L124.3 131.3L122.9 131.3z"/>
<path fill="#fcbc3d" d="M127.3 122.0L130.2 122.0L123.3 131.3L120.4 131.3z"/>
<path fill="#2ec4a5" d="M124.2 122.0L127.7 122.0L120.8 131.3L117.5 131.3z"/>
<path fill="#fbd32e" d="M123.1 122.0L124.6 122.0L117.9 131.3L116.5 131.3z"/>
<path fill="#70cd65" d="M121.3 122.0L123.5 122.0L116.9 131.3L114.7 131.3z"/>
<path fill="#fec338" d="M120.0 122.0L121.7 122.0L115.1 131.3L113.5 131.3z"/>
<path fill="#5acc77" d="M118.1 122.0L120.4 122.0L113.9 131.3L111.7 131.3z"/>
<path fill="#f5ba3a" d="M116.1 122.0L118.5 122.0L112.1 131.3L109.7 131.3z"/>
<path fill="#7ecc5b" d="M115.0 122.0L116.5 122.0L110.1 131.3L108.7 131.3z"/>
<path fill="#febd3c" d="M112.7 122.0L115.4 122.0L109.1 131.3L106.4 131.3z"/>
<path fill="#1fc0b2" d="M111.8 122.0L113.1 122.0L106.8 131.3L105.6 131.3z"/>
<path fill="#fbd22f" d="M109.4 122.0L112.2 122.0L106.0 131.3L103.3 131.3z"/>
<path fill="#a4c83e" d="M108.2 122.0L109.8 122.0L103.7 131.3L102.1 131.3z"/>
<path fill="#ebba31" d="M105.4 122.0L108.6 122.0L102.5 131.3L99.5 131.3z"/>
<path fill="#2cc4a7" d="M104.7 122.0L105.8 122.0L99.9 131.3L98.8 131.3z"/>
<path fill="#fec239" d="M103.1 122.0L105.1 122.0L99.2 131.3L97.2 131.3z"/>
<path fill="#55cc7c" d="M101.5 122.0L103.5 122.0L97.6 131.3L95.7 131.3z"/>
<path fill="#e9bb30" d="M100.1 122.0L101.9 122.0L96.1 131.3L94.4 131.3z"/>
<path fill="#02b7cb" d="M98.5 122.0L100.5 122.0L94.8 131.3L92.8 131.3z"/>
<path fill="#fec03b" d="M96.8 122.0L98.9 122.0L93.2 131.3L91.2 131.3z"/>
<path fill="#37c897" d="M95.4 122.0L97.2 122.0L91.6 131.3L89.8 131.3z"/>
<path fill="#fdbd3d" d="M92.4 122.0L95.8 122.0L90.2 131.3L86.9 131.3z"/>
<path fill="#38c895" d="M90.9 122.0L92.8 122.0L87.3 131.3L85.5 131.3z"/>
<path fill="#f5e227" d="M89.6 122.0L91.3 122.0L85.9 131.3L84.3 131.3z"/>
<path fill="#24c2ae" d="M88.7 122.0L90.0 122.0L84.7 131.3L83.4 131.3z"/>
<path fill="#f1ba37" d="M86.5 122.0L89.1 122.0L83.8 131.3L81.3 131.3z"/>
<path fill="#2ac3a9" d="M85.5 122.0L86.9 122.0L81.7 131.3L80.3 131.3z"/>
<path fill="#f5ba3b" d="M83.9 122.0L85.9 122.0L80.7 131.3L78.8 131.3z"/>
<path fill="#a0c841" d="M82.6 122.0L84.3 122.0L79.2 131.3L77.6 131.3z"/>
<path fill="#fec03a" d="M79.8 122.0L83.0 122.0L78.0 131.3L74.9 131.3z"/>
<path fill="#34c79b" d="M78.6 122.0L80.2 122.0L75.3 131.3L73.7 131.3z"/>
<path fill="#ddbd29" d="M75.0 122.0L79.0 122.0L74.1 131.3L70.3 131.3z"/>
<path fill="#cac129" d="M73.6 122.0L75.4 122.0L70.7 131.3L68.9 131.3z"/>
<path fill="#fabb3d" d="M71.9 122.0L74.0 122.0L69.3 131.3L67.3 131.3z"/>
<path fill="#58cc79" d="M70.4 122.0L72.3 122.0L67.7 131.3L65.9 131.3z"/>
<path fill="#fabc3d" d="M68.3 122.0L70.8 122.0L66.3 131.3L63.8 131.3z"/>
<path fill="#e5bb2c" d="M67.6 122.0L68.7 122.0L64.2 131.3L63.2 131.3z"/>
<path fill="#f8d92b" d="M64.8 122.0L68.0 122.0L63.6 131.3L60.5 131.3z"/>
<path fill="#75cc61" d="M63.2 122.0L65.2 122.0L60.9 131.3L58.9 131.3z"/>
<path fill="#fabc3d" d="M61.7 122.0L63.6 122.0L59.3 131.3L57.5 131.3z"/>
<path fill="#2ac3a9" d="M58.4 122.0L62.1 122.0L57.9 131.3L54.3 131.3z"/>
<path fill="#fbbc3d" d="M54.7 122.0L58.8 122.0L54.7 131.3L50.8 131.3z"/>
<path fill="#02bac4" d="M54.1 122.0L55.1 122.0L51.2 131.3L50.2 131.3z"/>
<path fill="#f9d72d" d="M51.1 122.0L54.5 122.0L50.6 131.3L47.3 131.3z"/>
<path fill="#02bac4" d="M50.4 122.0L51.5 122.0L47.7 131.3L46.6 131.3z"/>
<path fill="#f9bb3d" d="M48.9 122.0L50.8 122.0L47.0 131.3L45.2 131.3z"/>
<path fill="#02bac4" d="M48.2 122.0L49.3 122.0L45.6 131.3L44.6 131.3z"/>
<path fill="#fabb3d" d="M46.5 122.0L48.6 122.0L45.0 131.3L42.9 131.3z"/>
<path fill="#04b6cd" d="M45.0 122.0L46.9 122.0L43.3 131.3L41.5 131.3z"/>
<path fill="#f5e128" d="M43.5 122.0L45.4 122.0L41.9 131.3L40.0 131.3z"/>
<path fill="#34c79b" d="M42.9 122.0L43.9 122.0L40.4 131.3L39.4 131.3z"/>
<path fill="#fdcb32" d="M39.2 122.0L43.3 122.0L39.8 131.3L35.9 131.3z"/>
<path fill="#37c898" d="M38.3 122.0L39.6 122.0L36.3 131.3L35.0 131.3z"/>
<path fill="#34c79c" d="M235.3 131.0L237.4 131.0L225.8 140.3L223.7 140.3z"/>
<path fill="#fcd030" d="M233.5 131.0L235.7 131.0L224.1 140.3L222.0 140.3z"/>
<path fill="#09bcbe" d="M231.8 131.0L233.9 131.0L222.4 140.3L220.4 140.3z"/>
<path fill="#fec537" d="M229.7 131.0L232.2 131.0L220.8 140.3L218.4 140.3z"/>
<path fill="#8fcb4e" d="M227.8 131.0L230.1 131.0L218.8 140.3L216.5 140.3z"/>
<path fill="#feca33" d="M224.3 131.0L228.2 131.0L216.9 140.3L213.1 140.3z"/>
<path fill="#4dcc82" d="M222.4 131.0L224.7 131.0L213.5 140.3L211.4 140.3z"/>
<path fill="#e2bc2b" d="M221.2 131.0L222.8 131.0L211.8 140.3L210.2 140.3z"/>
<path fill="#98c947" d="M219.4 131.0L221.6 131.0L210.6 140.3L208.5 140.3z"/>
<path fill="#f5ba3a" d="M217.8 131.0L219.8 131.0L208.9 140.3L206.9 140.3z"/>
<path fill="#69cd6b" d="M216.3 131.0L218.2 131.0L207.3 140.3L205.6 140.3z"/>
<path fill="#fbd22f" d="M214.4 131.0L216.7 131.0L206.0 140.3L203.7 140.3z"/>
<path fill="#0fb2d4" d="M212.1 131.0L214.8 131.0L204.1 140.3L201.4 140.3z"/>
<path fill="#febf3c" d="M209.7 131.0L212.5 131.0L201.8 140.3L199.2 140.3z"/>
<path fill="#6bcd69" d="M208.2 131.0L210.1 131.0L199.6 140.3L197.7 140.3z"/>
<path fill="#f5ba3a" d="M206.9 131.0L208.6 131.0L198.1 140.3L196.5 140.3z"/>
<path fill="#4acb84" d="M204.9 131.0L207.3 131.0L196.9 140.3L194.6 140.3z"/>
<path fill="#fdcc32" d="M202.9 131.0L205.3 131.0L195.0 140.3L192.6 140.3z"/>
<path fill="#2bc3a8" d="M201.8 131.0L203.3 131.0L193.0 140.3L191.6 140.3z"/>
<path fill="#dfbc2a" d="M199.0 131.0L202.2 131.0L192.0 140.3L188.9 140.3z"/>
<path fill="#07bcc0" d="M197.7 131.0L199.4 131.0L189.3 140.3L187.6 140.3z"/>
<path fill="#fbbc3d" d="M195.6 131.0L198.1 131.0L188.0 140.3L185.7 140.3z"/>
<path fill="#2fc5a3" d="M194.9 131.0L196.0 131.0L186.1 140.3L185.0 140.3z"/>
<path fill="#efba35" d="M192.3 131.0L195.3 131.0L185.4 140.3L182.6 140.3z"/>
<path fill="#3ac994" d="M190.6 131.0L192.7 131.0L183.0 140.3L180.9 140.3z"/>
<path fill="#fad42e" d="M188.7 131.0L191.0 131.0L181.3 140.3L179.0 140.3z"/>
<path fill="#5bcc76" d="M185.4 131.0L189.1 131.0L179.4 140.3L175.9 140.3z"/>
<path fill="#f5e825" d="M183.3 131.0L185.8 131.0L176.3 140.3L173.9 140.3z"/>
<path fill="#0ebdbb" d="M182.0 131.0L183.7 131.0L174.3 140.3L172.6 140.3z"/>
<path fill="#f6ba3c" d="M180.3 131.0L182.4 131.0L173.0 140.3L171.0 140.3z"/>
<path fill="#71cd65" d="M178.9 131.0L180.7 131.0L171.4 140.3L169.7 140.3z"/>
<path fill="#f7dc2a" d="M176.8 131.0L179.3 131.0L170.1 140.3L167.6 140.3z"/>
<path fill="#f2ba38" d="M176.0 131.0L177.2 131.0L168.0 140.3L166.9 140.3z"/>
<path fill="#f4ba39" d="M174.8 131.0L176.4 131.0L167.3 140.3L165.7 140.3z"/>
<path fill="#42ca8c" d="M172.9 131.0L175.2 131.0L166.1 140.3L164.0 140.3z"/>
<path fill="#92ca4b" d="M170.4 131.0L173.3 131.0L164.4 140.3L161.5 140.3z"/>
<path fill="#89cb52" d="M169.4 131.0L170.8 131.0L161.9 140.3L160.6 140.3z"/>
<path fill="#e5bb2d" d="M166.0 131.0L169.8 131.0L161.0 140.3L157.3 140.3z"/>
<path fill="#84cb56" d="M165.3 131.0L166.4 131.0L157.7 140.3L156.6 140.3z"/>
<path fill="#ddbd29" d="M161.9 131.0L165.7 131.0L157.0 140.3L153.3 140.3z"/>
<path fill="#70cd65" d="M159.6 131.0L162.3 131.0L153.7 140.3L151.2 140.3z"/>
<path fill="#f9d82c" d="M157.7 131.0L160.0 131.0L151.6 140.3L149.3 140.3z"/>
<path fill="#09bcbe" d="M156.6 131.0L158.1 131.0L149.7 140.3L148.3 140.3z"/>
<path fill="#f5e825" d="M154.8 131.0L157.0 131.0L148.7 140.3L146.6 140.3z"/>
<path fill="#bac430" d="M152.2 131.0L155.2 131.0L147.0 140.3L144.0 140.3z"/>
<path fill="#fec239" d="M150.4 131.0L152.6 131.0L144.4 140.3L142.3 140.3z"/>
<path fill="#b2c635" d="M149.6 131.0L150.8 131.0L142.7 140.3L141.6 140.3z"/>
<path fill="#edba33" d="M147.6 131.0L150.0 131.0L142.0 140.3L139.7 140.3z"/>
<path fill="#d1bf27" d="M146.2 131.0L148.0 131.0L140.1 140.3L138.3 140.3z"/>
<path fill="#edba33" d="M143.9 131.0L146.6 131.0L138.7 140.3L136.2 140.3z"/>
<path fill="#dcbd29" d="M142.4 131.0L144.3 131.0L136.6 140.3L134.7 140.3z"/>
<path fill="#febf3b" d="M140.0 131.0L142.8 131.0L135.1 140.3L132.4 140.3z"/>
<path fill="#1da9e0" d="M138.7 131.0L140.4 131.0L132.8 140.3L131.1 140.3z"/>
<path fill="#93ca4b" d="M135.8 131.0L139.1 131.0L131.5 140.3L128.4 140.3z"/>
<path fill="#12b1d7" d="M134.5 131.0L136.2 131.0L128.8 140.3L127.1 140.3z"/>
<path fill="#f5e228" d="M132.3 131.0L134.9 131.0L127.5 140.3L125.0 140.3z"/>
<path fill="#7dcc5b" d="M131.0 131.0L132.7 131.0L125.4 140.3L123.7 140.3z"/>
<path fill="#f1ba36" d="M127.2 131.0L131.4 131.0L124.1 140.3L120.1 140.3z"/>
<path fill="#6ccd68" d="M125.4 131.0L127.6 131.0L120.5 140.3L118.4 140.3z"/>
<path fill="#f7ba3c" d="M123.9 131.0L125.8 131.0L118.8 140.3L116.9 140.3z"/>
<path fill="#0cbdbc" d="M122.9 131.0L124.3 131.0L117.3 140.3L115.9 140.3z"/>
<path fill="#f3ba39" d="M120.4 131.0L123.3 131.0L116.3 140.3L113.6 140.3z"/>
<path fill="#2fc5a3" d="M117.5 131.0L120.8 131.0L114.0 140.3L110.8 140.3z"/>
<path fill="#fad52e" d="M116.5 131.0L117.9 131.0L111.2 140.3L109.9 140.3z"/>
<path fill="#73cd63" d="M114.7 131.0L116.9 131.0L110.3 140.3L108.1 140.3z"/>
<path fill="#fec537" d="M113.5 131.0L115.1 131.0L108.5 140.3L106.9 140.3z"/>
<path fill="#5dcc75" d="M111.7 131.0L113.9 131.0L107.3 140.3L105.2 140.3z"/>
<path fill="#f6ba3b" d="M109.7 131.0L112.1 131.0L105.6 140.3L103.4 140.3z"/>
<path fill="#81cc58" d="M108.7 131.0L110.1 131.0L103.8 140.3L102.4 140.3z"/>
<path fill="#febf3c" d="M106.4 131.0L109.1 131.0L102.8 140.3L100.2 140.3z"/>
<path fill="#21c1b0" d="M105.6 131.0L106.8 131.0L100.6 140.3L99.4 140.3z"/>
<path fill="#fbd32e" d="M103.3 131.0L106.0 131.0L99.8 140.3L97.2 140.3z"/>
<path fill="#a7c73c" d="M102.1 131.0L103.7 131.0L97.6 140.3L96.1 140.3z"/>
<path fill="#ecba33" d="M99.5 131.0L102.5 131.0L96.5 140.3L93.5 140.3z"/>
<path fill="#2dc4a6" d="M98.8 131.0L99.9 131.0L93.9 140.3L92.9 140.3z"/>
<path fill="#fec338" d="M97.2 131.0L99.2 131.0L93.3 140.3L91.4 140.3z"/>
<path fill="#58cc79" d="M95.7 131.0L97.6 131.0L91.8 140.3L89.9 140.3z"/>
<path fill="#ebba31" d="M94.4 131.0L96.1 131.0L90.3 140.3L88.7 140.3z"/>
<path fill="#01b8ca" d="M92.8 131.0L94.8 131.0L89.1 140.3L87.2 140.3z"/>
<path fill="#fec13a" d="M91.2 131.0L93.2 131.0L87.6 140.3L85.6 140.3z"/>
<path fill="#39c895" d="M89.8 131.0L91.6 131.0L86.0 140.3L84.3 140.3z"/>
<path fill="#8dcb4f" d="M86.9 131.0L90.2 131.0L84.7 140.3L81.5 140.3z"/>
<path fill="#3ac994" d="M85.5 131.0L87.3 131.0L81.9 140.3L80.2 140.3z"/>
<path fill="#f5e327" d="M84.3 131.0L85.9 131.0L80.6 140.3L79.0 140.3z"/>
<path fill="#26c2ad" d="M83.4 131.0L84.7 131.0L79.4 140.3L78.2 140.3z"/>
<path fill="#f3ba39" d="M81.3 131.0L83.8 131.0L78.6 140.3L76.1 140.3z"/>
<path fill="#2cc4a7" d="M80.3 131.0L81.7 131.0L76.5 140.3L75.2 140.3z"/>
<path fill="#f7ba3c" d="M78.8 131.0L80.7 131.0L75.6 140.3L73.7 140.3z"/>
<path fill="#a3c83f" d="M77.6 131.0L79.2 131.0L74.1 140.3L72.5 140.3z"/>
<path fill="#fec139" d="M74.9 131.0L78.0 131.0L72.9 140.3L70.0 140.3z"/>
<path fill="#36c898" d="M73.7 131.0L75.3 131.0L70.4 140.3L68.8 140.3z"/>
<path fill="#dfbc2a" d="M70.3 131.0L74.1 131.0L69.2 140.3L65.6 140.3z"/>
<path fill="#cdc028" d="M68.9 131.0L70.7 131.0L66.0 140.3L64.2 140.3z"/>
<path fill="#fbbc3d" d="M67.3 131.0L69.3 131.0L64.6 140.3L62.7 140.3z"/>
<path fill="#5bcc77" d="M65.9 131.0L67.7 131.0L63.1 140.3L61.3 140.3z"/>
<path fill="#fcbc3d" d="M63.8 131.0L66.3 131.0L61.7 140.3L59.4 140.3z"/>
<path fill="#e7bb2e" d="M63.2 131.0L64.2 131.0L59.8 140.3L58.7 140.3z"/>
<path fill="#f7db2b" d="M60.5 131.0L63.6 131.0L59.1 140.3L56.1 140.3z"/>
<path fill="#78cc5f" d="M58.9 131.0L60.9 131.0L56.5 140.3L54.7 140.3z"/>
<path fill="#fcbc3d" d="M57.5 131.0L59.3 131.0L55.1 140.3L53.3 140.3z"/>
<path fill="#2cc4a7" d="M54.3 131.0L57.9 131.0L53.7 140.3L50.2 140.3z"/>
<path fill="#fcbd3d" d="M50.8 131.0L54.7 131.0L50.6 140.3L46.9 140.3z"/>
<path fill="#03bbc2" d="M50.2 131.0L51.2 131.0L47.3 140.3L46.3 140.3z"/>
<path fill="#f5e626" d="M47.3 131.0L50.6 131.0L46.7 140.3L43.5 140.3z"/>
<path fill="#02bbc3" d="M46.6 131.0L47.7 131.0L43.9 140.3L42.9 140.3z"/>
<path fill="#fabb3d" d="M45.2 131.0L47.0 131.0L43.3 140.3L41.5 140.3z"/>
<path fill="#2a93ee" d="M44.6 131.0L45.6 131.0L41.9 140.3L40.9 140.3z"/>
<path fill="#febf3c" d="M42.9 131.0L45.0 131.0L41.3 140.3L39.3 140.3z"/>
<path fill="#03b7cb" d="M41.5 131.0L43.3 131.0L39.7 140.3L37.9 140.3z"/>
<path fill="#f5e227" d="M40.0 131.0L41.9 131.0L38.3 140.3L36.6 140.3z"/>
<path fill="#37c897" d="M39.4 131.0L40.4 131.0L37.0 140.3L36.0 140.3z"/>
<path fill="#f7dc2a" d="M236.2 140.0L237.9 140.0L225.7 149.3L224.1 149.3z"/>
<path fill="#52cc7e" d="M235.2 140.0L236.6 140.0L224.5 149.3L223.1 149.3z"/>
<path fill="#f5e526" d="M231.5 140.0L235.6 140.0L223.5 149.3L219.5 149.3z"/>
<path fill="#11b1d6" d="M230.0 140.0L231.9 140.0L219.9 149.3L218.1 149.3z"/>
<path fill="#fec03b" d="M228.8 140.0L230.4 140.0L218.5 149.3L217.0 149.3z"/>
<path fill="#5ccc76" d="M226.9 140.0L229.2 140.0L217.4 149.3L215.2 149.3z"/>
<path fill="#fbd32e" d="M225.4 140.0L227.3 140.0L215.6 149.3L213.7 149.3z"/>
<path fill="#37c898" d="M223.7 140.0L225.8 140.0L214.1 149.3L212.1 149.3z"/>
<path fill="#f9d82c" d="M222.0 140.0L224.1 140.0L212.5 149.3L210.5 149.3z"/>
<path fill="#0fbebb" d="M220.4 140.0L222.4 140.0L210.9 149.3L209.0 149.3z"/>
<path fill="#fec834" d="M218.4 140.0L220.8 140.0L209.4 149.3L207.0 149.3z"/>
<path fill="#95ca49" d="M216.5 140.0L218.8 140.0L207.4 149.3L205.3 149.3z"/>
<path fill="#fdcd32" d="M213.1 140.0L216.9 140.0L205.7 149.3L202.0 149.3z"/>
<path fill="#53cc7d" d="M211.4 140.0L213.5 140.0L202.4 149.3L200.3 149.3z"/>
<path fill="#e7bb2e" d="M210.2 140.0L211.8 140.0L200.7 149.3L199.2 149.3z"/>
<path fill="#97ca48" d="M208.5 140.0L210.6 140.0L199.6 149.3L197.6 149.3z"/>
<path fill="#f9ba3d" d="M206.9 140.0L208.9 140.0L198.0 149.3L196.1 149.3z"/>
<path fill="#6fcd65" d="M205.6 140.0L207.3 140.0L196.5 149.3L194.8 149.3z"/>
<path fill="#fad52e" d="M203.7 140.0L206.0 140.0L195.2 149.3L193.0 149.3z"/>
<path fill="#05bbc1" d="M201.4 140.0L204.1 140.0L193.4 149.3L190.8 149.3z"/>
<path fill="#fec13a" d="M199.2 140.0L201.8 140.0L191.2 149.3L188.7 149.3z"/>
<path fill="#72cd64" d="M197.7 140.0L199.6 140.0L189.1 149.3L187.3 149.3z"/>
<path fill="#f9ba3d" d="M196.5 140.0L198.1 140.0L187.7 149.3L186.1 149.3z"/>
<path fill="#50cc80" d="M194.6 140.0L196.9 140.0L186.5 149.3L184.2 149.3z"/>
<path fill="#fccf30" d="M192.6 140.0L195.0 140.0L184.6 149.3L182.4 149.3z"/>
<path fill="#2ec4a4" d="M191.6 140.0L193.0 140.0L182.8 149.3L181.5 149.3z"/>
<path fill="#e4bb2c" d="M188.9 140.0L192.0 140.0L181.9 149.3L178.9 149.3z"/>
<path fill="#04bbc2" d="M187.6 140.0L189.3 140.0L179.3 149.3L177.6 149.3z"/>
<path fill="#febe3c" d="M185.7 140.0L188.0 140.0L178.0 149.3L175.8 149.3z"/>
<path fill="#27c2ab" d="M185.0 140.0L186.1 140.0L176.2 149.3L175.1 149.3z"/>
<path fill="#f3ba39" d="M182.6 140.0L185.4 140.0L175.5 149.3L172.8 149.3z"/>
<path fill="#3dca90" d="M180.9 140.0L183.0 140.0L173.2 149.3L171.2 149.3z"/>
<path fill="#fcd030" d="M179.0 140.0L181.3 140.0L171.6 149.3L169.4 149.3z"/>
<path fill="#61cd71" d="M175.9 140.0L179.4 140.0L169.8 149.3L166.4 149.3z"/>
<path fill="#f5eb23" d="M173.9 140.0L176.3 140.0L166.8 149.3L164.5 149.3z"/>
<path fill="#14bfb8" d="M172.6 140.0L174.3 140.0L164.9 149.3L163.2 149.3z"/>
<path fill="#fabb3d" d="M171.0 140.0L173.0 140.0L163.6 149.3L161.7 149.3z"/>
<path fill="#3fca8e" d="M169.7 140.0L171.4 140.0L162.1 149.3L160.4 149.3z"/>
<path fill="#f6df29" d="M167.6 140.0L170.1 140.0L160.8 149.3L158.5 149.3z"/>
<path fill="#f6ba3b" d="M166.9 140.0L168.0 140.0L158.9 149.3L157.8 149.3z"/>
<path fill="#f8ba3d" d="M165.7 140.0L167.3 140.0L158.2 149.3L156.6 149.3z"/>
<path fill="#47cb87" d="M164.0 140.0L166.1 140.0L157.0 149.3L155.0 149.3z"/>
<path fill="#99c946" d="M161.5 140.0L164.4 140.0L155.4 149.3L152.7 149.3z"/>
<path fill="#90ca4d" d="M160.6 140.0L161.9 140.0L153.1 149.3L151.7 149.3z"/>
<path fill="#f5ba3a" d="M157.3 140.0L161.0 140.0L152.1 149.3L148.6 149.3z"/>
<path fill="#45cb89" d="M156.6 140.0L157.7 140.0L149.0 149.3L148.0 149.3z"/>
<path fill="#e2bc2b" d="M153.3 140.0L157.0 140.0L148.4 149.3L144.8 149.3z"/>
<path fill="#77cc60" d="M151.2 140.0L153.7 140.0L145.2 149.3L142.8 149.3z"/>
<path fill="#f7db2a" d="M149.3 140.0L151.6 140.0L143.2 149.3L141.0 149.3z"/>
<path fill="#0fbebb" d="M148.3 140.0L149.7 140.0L141.4 149.3L140.0 149.3z"/>
<path fill="#f5eb23" d="M146.6 140.0L148.7 140.0L140.4 149.3L138.3 149.3z"/>
<path fill="#c5c22a" d="M144.0 140.0L147.0 140.0L138.7 149.3L135.9 149.3z"/>
<path fill="#fec437" d="M142.3 140.0L144.4 140.0L136.3 149.3L134.3 149.3z"/>
<path fill="#b8c431" d="M141.6 140.0L142.7 140.0L134.7 149.3L133.5 149.3z"/>
<path fill="#f1ba37" d="M139.7 140.0L142.0 140.0L133.9 149.3L131.8 149.3z"/>
<path fill="#d6be28" d="M138.3 140.0L140.1 140.0L132.2 149.3L130.4 149.3z"/>
<path fill="#f1ba37" d="M136.2 140.0L138.7 140.0L130.8 149.3L128.4 149.3z"/>
<path fill="#e1bc2b" d="M134.7 140.0L136.6 140.0L128.8 149.3L126.9 149.3z"/>
<path fill="#fec239" d="M132.4 140.0L135.1 140.0L127.3 149.3L124.8 149.3z"/>
<path fill="#1babde" d="M131.1 140.0L132.8 140.0L125.2 149.3L123.6 149.3z"/>
<path fill="#9ac945" d="M128.4 140.0L131.5 140.0L124.0 149.3L120.9 149.3z"/>
<path fill="#2cc4a7" d="M127.1 140.0L128.8 140.0L121.3 149.3L119.7 149.3z"/>
<path fill="#f5e526" d="M125.0 140.0L127.5 140.0L120.1 149.3L117.7 149.3z"/>
<path fill="#84cc56" d="M123.7 140.0L125.4 140.0L118.1 149.3L116.5 149.3z"/>
<path fill="#f2ba38" d="M120.1 140.0L124.1 140.0L116.9 149.3L113.0 149.3z"/>
<path fill="#dbbd29" d="M118.4 140.0L120.5 140.0L113.4 149.3L111.4 149.3z"/>
<path fill="#fabb3d" d="M116.9 140.0L118.8 140.0L111.8 149.3L110.0 149.3z"/>
<path fill="#12beb9" d="M115.9 140.0L117.3 140.0L110.4 149.3L109.0 149.3z"/>
<path fill="#f7ba3c" d="M113.6 140.0L116.3 140.0L109.4 149.3L106.8 149.3z"/>
<path fill="#31c69f" d="M110.8 140.0L114.0 140.0L107.2 149.3L104.1 149.3z"/>
<path fill="#f9d82c" d="M109.9 140.0L111.2 140.0L104.5 149.3L103.2 149.3z"/>
<path fill="#7acc5e" d="M108.1 140.0L110.3 140.0L103.6 149.3L101.6 149.3z"/>
<path fill="#fcd030" d="M106.9 140.0L108.5 140.0L102.0 149.3L100.4 149.3z"/>
<path fill="#63cd70" d="M105.2 140.0L107.3 140.0L100.8 149.3L98.8 149.3z"/>
<path fill="#febe3c" d="M103.4 140.0L105.6 140.0L99.2 149.3L97.0 149.3z"/>
<path fill="#88cb53" d="M102.4 140.0L103.8 140.0L97.4 149.3L96.1 149.3z"/>
<path fill="#fec13a" d="M100.2 140.0L102.8 140.0L96.5 149.3L94.0 149.3z"/>
<path fill="#7dcc5b" d="M99.4 140.0L100.6 140.0L94.4 149.3L93.2 149.3z"/>
<path fill="#f9d62d" d="M97.2 140.0L99.8 140.0L93.6 149.3L91.1 149.3z"/>
<path fill="#adc638" d="M96.1 140.0L97.6 140.0L91.5 149.3L90.0 149.3z"/>
<path fill="#fcbc3d" d="M93.5 140.0L96.5 140.0L90.4 149.3L87.6 149.3z"/>
<path fill="#30c5a2" d="M92.9 140.0L93.9 140.0L88.0 149.3L87.0 149.3z"/>
<path fill="#fec636" d="M91.4 140.0L93.3 140.0L87.4 149.3L85.5 149.3z"/>
<path fill="#5ecc74" d="M89.9 140.0L91.8 140.0L85.9 149.3L84.2 149.3z"/>
<path fill="#efba35" d="M88.7 140.0L90.3 140.0L84.6 149.3L82.9 149.3z"/>
<path fill="#01b9c7" d="M87.2 140.0L89.1 140.0L83.3 149.3L81.5 149.3z"/>
<path fill="#fec438" d="M85.6 140.0L87.6 140.0L81.9 149.3L80.0 149.3z"/>
<path fill="#3cc991" d="M84.3 140.0L86.0 140.0L80.4 149.3L78.8 149.3z"/>
<path fill="#94ca4a" d="M81.5 140.0L84.7 140.0L79.2 149.3L76.1 149.3z"/>
<path fill="#3eca8f" d="M80.2 140.0L81.9 140.0L76.5 149.3L74.8 149.3z"/>
<path fill="#f5e625" d="M79.0 140.0L80.6 140.0L75.2 149.3L73.7 149.3z"/>
<path fill="#2ac3a9" d="M78.2 140.0L79.4 140.0L74.1 149.3L72.9 149.3z"/>
<path fill="#f7ba3c" d="M76.1 140.0L78.6 140.0L73.3 149.3L70.9 149.3z"/>
<path fill="#2ec5a4" d="M75.2 140.0L76.5 140.0L71.3 149.3L70.0 149.3z"/>
<path fill="#fabb3d" d="M73.7 140.0L75.6 140.0L70.4 149.3L68.7 149.3z"/>
<path fill="#aac73a" d="M72.5 140.0L74.1 140.0L69.1 149.3L67.5 149.3z"/>
<path fill="#fec437" d="M70.0 140.0L72.9 140.0L67.9 149.3L65.0 149.3z"/>
<path fill="#3ac994" d="M68.8 140.0L70.4 140.0L65.4 149.3L64.0 149.3z"/>
<path fill="#e4bb2c" d="M65.6 140.0L69.2 140.0L64.4 149.3L60.8 149.3z"/>
<path fill="#d2bf27" d="M64.2 140.0L66.0 140.0L61.2 149.3L59.5 149.3z"/>
<path fill="#febe3c" d="M62.7 140.0L64.6 140.0L59.9 149.3L58.1 149.3z"/>
<path fill="#61cd72" d="M61.3 140.0L63.1 140.0L58.5 149.3L56.8 149.3z"/>
<path fill="#febe3c" d="M59.4 140.0L61.7 140.0L57.2 149.3L54.9 149.3z"/>
<path fill="#ebba31" d="M58.7 140.0L59.8 140.0L55.3 149.3L54.3 149.3z"/>
<path fill="#f6de29" d="M56.1 140.0L59.1 140.0L54.7 149.3L51.8 149.3z"/>
<path fill="#7fcc5a" d="M54.7 140.0L56.5 140.0L52.2 149.3L50.4 149.3z"/>
<path fill="#febe3c" d="M53.3 140.0L55.1 140.0L50.8 149.3L49.1 149.3z"/>
<path fill="#2ec5a4" d="M50.2 140.0L53.7 140.0L49.5 149.3L46.2 149.3z"/>
<path fill="#fec13a" d="M46.9 140.0L50.6 140.0L46.6 149.3L42.9 149.3z"/>
<path fill="#07bcbf" d="M46.3 140.0L47.3 140.0L43.3 149.3L42.4 149.3z"/>
<path fill="#f5e924" d="M43.5 140.0L46.7 140.0L42.8 149.3L39.7 149.3z"/>
<path fill="#07bcc0" d="M42.9 140.0L43.9 140.0L40.1 149.3L39.1 149.3z"/>
<path fill="#fdbd3d" d="M41.5 140.0L43.3 140.0L39.5 149.3L37.8 149.3z"/>
<path fill="#2895ec" d="M40.9 140.0L41.9 140.0L38.2 149.3L37.3 149.3z"/>
<path fill="#fec13a" d="M39.3 140.0L41.3 140.0L37.7 149.3L35.7 149.3z"/>
<path fill="#e2bc2b" d="M233.2 149.0L236.2 149.0L227.8 155.3L224.9 155.3z"/>
<path fill="#18addb" d="M231.0 149.0L233.6 149.0L225.3 155.3L222.8 155.3z"/>
<path fill="#dfbc2a" d="M228.5 149.0L231.4 149.0L223.2 155.3L220.3 155.3z"/>
<path fill="#70cd65" d="M227.5 149.0L228.9 149.0L220.7 155.3L219.3 155.3z"/>
<path fill="#e7bb2e" d="M226.6 149.0L227.9 149.0L219.7 155.3L218.4 155.3z"/>
<path fill="#2ec5a3" d="M225.3 149.0L227.0 149.0L218.8 155.3L217.2 155.3z"/>
<path fill="#fcd030" d="M224.1 149.0L225.7 149.0L217.6 155.3L216.0 155.3z"/>
<path fill="#3dca90" d="M223.1 149.0L224.5 149.0L216.4 155.3L215.0 155.3z"/>
<path fill="#f8d92b" d="M219.5 149.0L223.5 149.0L215.4 155.3L211.6 155.3z"/>
<path fill="#1baade" d="M218.1 149.0L219.9 149.0L212.0 155.3L210.2 155.3z"/>
<path fill="#f4ba3a" d="M217.0 149.0L218.5 149.0L210.6 155.3L209.1 155.3z"/>
<path fill="#46cb88" d="M215.2 149.0L217.4 149.0L209.5 155.3L207.4 155.3z"/>
<path fill="#fec834" d="M213.7 149.0L215.6 149.0L207.8 155.3L205.9 155.3z"/>
<path fill="#22c1b0" d="M212.1 149.0L214.1 149.0L206.3 155.3L204.4 155.3z"/>
<path fill="#fdcd32" d="M210.5 149.0L212.5 149.0L204.8 155.3L202.8 155.3z"/>
<path fill="#01b9c7" d="M209.0 149.0L210.9 149.0L203.2 155.3L201.3 155.3z"/>
<path fill="#febe3c" d="M207.0 149.0L209.4 149.0L201.7 155.3L199.5 155.3z"/>
<path fill="#7ccc5c" d="M205.3 149.0L207.4 149.0L199.9 155.3L197.8 155.3z"/>
<path fill="#fec239" d="M202.0 149.0L205.7 149.0L198.2 155.3L194.6 155.3z"/>
<path fill="#3eca8f" d="M200.3 149.0L202.4 149.0L195.0 155.3L193.0 155.3z"/>
<path fill="#efba35" d="M199.2 149.0L200.7 149.0L193.4 155.3L191.8 155.3z"/>
<path fill="#7dcc5b" d="M197.6 149.0L199.6 149.0L192.2 155.3L190.3 155.3z"/>
<path fill="#e9bb30" d="M196.1 149.0L198.0 149.0L190.7 155.3L188.8 155.3z"/>
<path fill="#58cc79" d="M194.8 149.0L196.5 149.0L189.2 155.3L187.6 155.3z"/>
<path fill="#fec934" d="M193.0 149.0L195.2 149.0L188.0 155.3L185.8 155.3z"/>
<path fill="#04b6cd" d="M190.8 149.0L193.4 149.0L186.2 155.3L183.8 155.3z"/>
<path fill="#f7ba3c" d="M188.7 149.0L191.2 149.0L184.2 155.3L181.7 155.3z"/>
<path fill="#5acc78" d="M187.3 149.0L189.1 149.0L182.1 155.3L180.3 155.3z"/>
<path fill="#f7ba3c" d="M186.1 149.0L187.7 149.0L180.7 155.3L179.2 155.3z"/>
<path fill="#3dc991" d="M184.2 149.0L186.5 149.0L179.6 155.3L177.4 155.3z"/>
<path fill="#fec437" d="M182.4 149.0L184.6 149.0L177.8 155.3L175.6 155.3z"/>
<path fill="#0ab4d2" d="M181.5 149.0L182.8 149.0L176.0 155.3L174.7 155.3z"/>
<path fill="#d0bf27" d="M178.9 149.0L181.9 149.0L175.1 155.3L172.1 155.3z"/>
<path fill="#04b6cd" d="M177.6 149.0L179.3 149.0L172.5 155.3L171.0 155.3z"/>
<path fill="#f2ba37" d="M175.8 149.0L178.0 149.0L171.4 155.3L169.2 155.3z"/>
<path fill="#14beb8" d="M175.1 149.0L176.2 149.0L169.6 155.3L168.5 155.3z"/>
<path fill="#e3bc2c" d="M172.8 149.0L175.5 149.0L168.9 155.3L166.2 155.3z"/>
<path fill="#32c69f" d="M171.2 149.0L173.2 149.0L166.6 155.3L164.7 155.3z"/>
<path fill="#fec537" d="M169.4 149.0L171.6 149.0L165.1 155.3L163.0 155.3z"/>
<path fill="#2bc3a8" d="M166.4 149.0L169.8 149.0L163.4 155.3L160.1 155.3z"/>
<path fill="#f6e028" d="M164.5 149.0L166.8 149.0L160.5 155.3L158.2 155.3z"/>
<path fill="#3cc992" d="M163.2 149.0L164.9 149.0L158.6 155.3L157.0 155.3z"/>
<path fill="#ebba31" d="M161.7 149.0L163.6 149.0L157.4 155.3L155.5 155.3z"/>
<path fill="#33c69d" d="M160.4 149.0L162.1 149.0L155.9 155.3L154.3 155.3z"/>
<path fill="#fad42e" d="M158.5 149.0L160.8 149.0L154.7 155.3L152.4 155.3z"/>
<path fill="#e6bb2d" d="M157.8 149.0L158.9 149.0L152.8 155.3L151.7 155.3z"/>
<path fill="#e8bb2f" d="M156.6 149.0L158.2 149.0L152.1 155.3L150.6 155.3z"/>
<path fill="#38c896" d="M155.0 149.0L157.0 149.0L151.0 155.3L149.0 155.3z"/>
<path fill="#7fcc5a" d="M152.7 149.0L155.4 149.0L149.4 155.3L146.7 155.3z"/>
<path fill="#41ca8c" d="M151.7 149.0L153.1 149.0L147.1 155.3L145.8 155.3z"/>
<path fill="#e5bb2d" d="M148.6 149.0L152.1 149.0L146.2 155.3L142.8 155.3z"/>
<path fill="#36c799" d="M148.0 149.0L149.0 149.0L143.2 155.3L142.2 155.3z"/>
<path fill="#cec028" d="M144.8 149.0L148.4 149.0L142.6 155.3L139.1 155.3z"/>
<path fill="#64cd6e" d="M142.8 149.0L145.2 149.0L139.5 155.3L137.1 155.3z"/>
<path fill="#fcd030" d="M141.0 149.0L143.2 149.0L137.5 155.3L135.4 155.3z"/>
<path fill="#01b9c7" d="M140.0 149.0L141.4 149.0L135.8 155.3L134.5 155.3z"/>
<path fill="#f6e028" d="M138.3 149.0L140.4 149.0L134.9 155.3L132.8 155.3z"/>
<path fill="#aec637" d="M135.9 149.0L138.7 149.0L133.2 155.3L130.5 155.3z"/>
<path fill="#fabb3d" d="M134.3 149.0L136.3 149.0L130.9 155.3L128.9 155.3z"/>
<path fill="#a0c941" d="M133.5 149.0L134.7 149.0L129.3 155.3L128.2 155.3z"/>
<path fill="#e0bc2b" d="M131.8 149.0L133.9 149.0L128.6 155.3L126.5 155.3z"/>
<path fill="#c1c32c" d="M130.4 149.0L132.2 149.0L126.9 155.3L125.2 155.3z"/>
<path fill="#e4bb2c" d="M128.4 149.0L130.8 149.0L125.6 155.3L123.2 155.3z"/>
<path fill="#cec028" d="M126.9 149.0L128.8 149.0L123.6 155.3L121.8 155.3z"/>
<path fill="#f8ba3d" d="M124.8 149.0L127.3 149.0L122.2 155.3L119.7 155.3z"/>
<path fill="#21a3e3" d="M123.6 149.0L125.2 149.0L120.1 155.3L118.5 155.3z"/>
<path fill="#80cc59" d="M120.9 149.0L124.0 149.0L118.9 155.3L116.0 155.3z"/>
<path fill="#1cc0b4" d="M119.7 149.0L121.3 149.0L116.4 155.3L114.8 155.3z"/>
<path fill="#f9d82c" d="M117.7 149.0L120.1 149.0L115.2 155.3L112.8 155.3z"/>
<path fill="#6acd6a" d="M116.5 149.0L118.1 149.0L113.2 155.3L111.6 155.3z"/>
<path fill="#e1bc2b" d="M113.0 149.0L116.9 149.0L112.0 155.3L108.3 155.3z"/>
<path fill="#c7c12a" d="M111.4 149.0L113.4 149.0L108.7 155.3L106.7 155.3z"/>
<path fill="#ecba32" d="M110.0 149.0L111.8 149.0L107.1 155.3L105.3 155.3z"/>
<path fill="#7bcc5d" d="M109.0 149.0L110.4 149.0L105.7 155.3L104.4 155.3z"/>
<path fill="#e7bb2e" d="M106.8 149.0L109.4 149.0L104.8 155.3L102.3 155.3z"/>
<path fill="#26c2ad" d="M104.1 149.0L107.2 149.0L102.7 155.3L99.6 155.3z"/>
<path fill="#f8d92c" d="M103.2 149.0L104.5 149.0L100.0 155.3L98.8 155.3z"/>
<path fill="#61cd72" d="M101.6 149.0L103.6 149.0L99.2 155.3L97.2 155.3z"/>
<path fill="#fec537" d="M100.4 149.0L102.0 149.0L97.6 155.3L96.1 155.3z"/>
<path fill="#4ccb83" d="M98.8 149.0L100.8 149.0L96.5 155.3L94.5 155.3z"/>
<path fill="#f3ba38" d="M97.0 149.0L99.2 149.0L94.9 155.3L92.8 155.3z"/>
<path fill="#6ecd67" d="M96.1 149.0L97.4 149.0L93.2 155.3L91.8 155.3z"/>
<path fill="#f7ba3c" d="M94.0 149.0L96.5 149.0L92.2 155.3L89.8 155.3z"/>
<path fill="#63cd6f" d="M93.2 149.0L94.4 149.0L90.2 155.3L89.1 155.3z"/>
<path fill="#fdcb33" d="M91.1 149.0L93.6 149.0L89.5 155.3L87.1 155.3z"/>
<path fill="#d6be28" d="M90.0 149.0L91.5 149.0L87.5 155.3L86.0 155.3z"/>
<path fill="#eeba34" d="M87.6 149.0L90.4 149.0L86.4 155.3L83.6 155.3z"/>
<path fill="#23c1af" d="M87.0 149.0L88.0 149.0L84.0 155.3L83.0 155.3z"/>
<path fill="#edba33" d="M85.5 149.0L87.4 149.0L83.4 155.3L81.6 155.3z"/>
<path fill="#47cb87" d="M84.2 149.0L85.9 149.0L82.0 155.3L80.3 155.3z"/>
<path fill="#debc2a" d="M82.9 149.0L84.6 149.0L80.7 155.3L79.1 155.3z"/>
<path fill="#0bb4d2" d="M81.5 149.0L83.3 149.0L79.5 155.3L77.7 155.3z"/>
<path fill="#fabb3d" d="M80.0 149.0L81.9 149.0L78.1 155.3L76.3 155.3z"/>
<path fill="#2bc3a8" d="M78.8 149.0L80.4 149.0L76.7 155.3L75.1 155.3z"/>
<path fill="#7acc5e" d="M76.1 149.0L79.2 149.0L75.5 155.3L72.5 155.3z"/>
<path fill="#32c69f" d="M74.8 149.0L76.5 149.0L72.9 155.3L71.2 155.3z"/>
<path fill="#f7db2a" d="M73.7 149.0L75.2 149.0L71.6 155.3L70.1 155.3z"/>
<path fill="#26c2ad" d="M72.9 149.0L74.1 149.0L70.5 155.3L69.4 155.3z"/>
<path fill="#e7bb2e" d="M70.9 149.0L73.3 149.0L69.8 155.3L67.5 155.3z"/>
<path fill="#30c5a1" d="M70.0 149.0L71.3 149.0L67.9 155.3L66.6 155.3z"/>
<path fill="#ecba32" d="M68.7 149.0L70.4 149.0L67.0 155.3L65.3 155.3z"/>
<path fill="#90ca4d" d="M67.5 149.0L69.1 149.0L65.7 155.3L64.2 155.3z"/>
<path fill="#fabb3d" d="M65.0 149.0L67.9 149.0L64.6 155.3L61.8 155.3z"/>
<path fill="#2fc5a3" d="M64.0 149.0L65.4 149.0L62.2 155.3L60.7 155.3z"/>
<path fill="#e1bc2b" d="M60.8 149.0L64.4 149.0L61.1 155.3L57.7 155.3z"/>
<path fill="#bcc42f" d="M59.5 149.0L61.2 149.0L58.1 155.3L56.4 155.3z"/>
<path fill="#f1ba37" d="M58.1 149.0L59.9 149.0L56.8 155.3L55.0 155.3z"/>
<path fill="#35c79a" d="M56.8 149.0L58.5 149.0L55.4 155.3L53.8 155.3z"/>
<path fill="#f8ba3d" d="M54.9 149.0L57.2 149.0L54.2 155.3L51.9 155.3z"/>
<path fill="#d9be28" d="M54.3 149.0L55.3 149.0L52.3 155.3L51.3 155.3z"/>
<path fill="#feca33" d="M51.8 149.0L54.7 149.0L51.7 155.3L48.9 155.3z"/>
<path fill="#65cd6e" d="M50.4 149.0L52.2 149.0L49.3 155.3L47.6 155.3z"/>
<path fill="#eeba34" d="M49.1 149.0L50.8 149.0L48.0 155.3L46.3 155.3z"/>
<path fill="#20c1b1" d="M46.2 149.0L49.5 149.0L46.7 155.3L43.5 155.3z"/>
<path fill="#f6ba3b" d="M42.9 149.0L46.6 149.0L43.9 155.3L40.3 155.3z"/>
<path fill="#02b7cb" d="M42.4 149.0L43.3 149.0L40.7 155.3L39.8 155.3z"/>
<path fill="#f6dd29" d="M39.7 149.0L42.8 149.0L40.2 155.3L37.2 155.3z"/>
<path fill="#03b7cc" d="M39.1 149.0L40.1 149.0L37.6 155.3L36.6 155.3z"/>
<path fill="#f0ba36" d="M37.8 149.0L39.5 149.0L37.0 155.3L35.4 155.3z"/>
<path fill="#fec339" d="M239.0 155.0L240.4 155.0L222.8 167.3L221.4 167.3z"/>
<path fill="#93ca4a" d="M237.3 155.0L239.4 155.0L221.8 167.3L219.8 167.3z"/>
<path fill="#f5ba3a" d="M235.6 155.0L237.7 155.0L220.2 167.3L218.2 167.3z"/>
<path fill="#77cc60" d="M234.1 155.0L236.0 155.0L218.6 167.3L216.8 167.3z"/>
<path fill="#fec03b" d="M231.0 155.0L234.5 155.0L217.2 167.3L213.9 167.3z"/>
<path fill="#86cb55" d="M229.8 155.0L231.4 155.0L214.3 167.3L212.8 167.3z"/>
<path fill="#f6ba3b" d="M229.0 155.0L230.2 155.0L213.2 167.3L212.0 167.3z"/>
<path fill="#81cc58" d="M227.4 155.0L229.4 155.0L212.4 167.3L210.5 167.3z"/>
<path fill="#edba33" d="M224.9 155.0L227.8 155.0L210.9 167.3L208.2 167.3z"/>
<path fill="#10b2d5" d="M222.8 155.0L225.3 155.0L208.6 167.3L206.2 167.3z"/>
<path fill="#f2ba38" d="M220.3 155.0L223.2 155.0L206.6 167.3L203.8 167.3z"/>
<path fill="#14beb8" d="M219.3 155.0L220.7 155.0L204.2 167.3L202.9 167.3z"/>
<path fill="#f2ba38" d="M218.4 155.0L219.7 155.0L203.3 167.3L202.1 167.3z"/>
<path fill="#35c79a" d="M217.2 155.0L218.8 155.0L202.5 167.3L201.0 167.3z"/>
<path fill="#f9d82c" d="M216.0 155.0L217.6 155.0L201.4 167.3L199.8 167.3z"/>
<path fill="#4acb84" d="M215.0 155.0L216.4 155.0L200.2 167.3L198.9 167.3z"/>
<path fill="#f5e128" d="M211.6 155.0L215.4 155.0L199.3 167.3L195.7 167.3z"/>
<path fill="#15afd9" d="M210.2 155.0L212.0 155.0L196.1 167.3L194.4 167.3z"/>
<path fill="#fcbd3d" d="M209.1 155.0L210.6 155.0L194.8 167.3L193.4 167.3z"/>
<path fill="#79cc5e" d="M207.4 155.0L209.5 155.0L193.8 167.3L191.7 167.3z"/>
<path fill="#fcd030" d="M205.9 155.0L207.8 155.0L192.1 167.3L190.4 167.3z"/>
<path fill="#2cc4a7" d="M204.4 155.0L206.3 155.0L190.8 167.3L189.0 167.3z"/>
<path fill="#fad42e" d="M202.8 155.0L204.8 155.0L189.4 167.3L187.5 167.3z"/>
<path fill="#08bcbf" d="M201.3 155.0L203.2 155.0L187.9 167.3L186.1 167.3z"/>
<path fill="#fec537" d="M199.5 155.0L201.7 155.0L186.5 167.3L184.3 167.3z"/>
<path fill="#8dcb4f" d="M197.8 155.0L199.9 155.0L184.7 167.3L182.7 167.3z"/>
<path fill="#fec934" d="M194.6 155.0L198.2 155.0L183.1 167.3L179.8 167.3z"/>
<path fill="#4ccb83" d="M193.0 155.0L195.0 155.0L180.2 167.3L178.2 167.3z"/>
<path fill="#f9bb3d" d="M191.8 155.0L193.4 155.0L178.6 167.3L177.2 167.3z"/>
<path fill="#71cd65" d="M190.3 155.0L192.2 155.0L177.6 167.3L175.8 167.3z"/>
<path fill="#f4ba39" d="M188.8 155.0L190.7 155.0L176.2 167.3L174.4 167.3z"/>
<path fill="#67cd6c" d="M187.6 155.0L189.2 155.0L174.8 167.3L173.2 167.3z"/>
<path fill="#f7db2b" d="M185.8 155.0L188.0 155.0L173.6 167.3L171.5 167.3z"/>
<path fill="#02bac5" d="M183.8 155.0L186.2 155.0L171.9 167.3L169.6 167.3z"/>
<path fill="#febe3c" d="M181.7 155.0L184.2 155.0L170.0 167.3L167.7 167.3z"/>
<path fill="#6acd6a" d="M180.3 155.0L182.1 155.0L168.1 167.3L166.4 167.3z"/>
<path fill="#febe3c" d="M179.2 155.0L180.7 155.0L166.8 167.3L165.3 167.3z"/>
<path fill="#49cb85" d="M177.4 155.0L179.6 155.0L165.7 167.3L163.6 167.3z"/>
<path fill="#f9bb3d" d="M175.6 155.0L177.8 155.0L164.0 167.3L161.9 167.3z"/>
<path fill="#01b7ca" d="M174.7 155.0L176.0 155.0L162.3 167.3L161.1 167.3z"/>
<path fill="#e8bb2f" d="M172.1 155.0L175.1 155.0L161.5 167.3L158.7 167.3z"/>
<path fill="#01bac5" d="M171.0 155.0L172.5 155.0L159.1 167.3L157.6 167.3z"/>
<path fill="#fbbc3d" d="M169.2 155.0L171.4 155.0L158.0 167.3L155.9 167.3z"/>
<path fill="#22c1b0" d="M168.5 155.0L169.6 155.0L156.3 167.3L155.3 167.3z"/>
<path fill="#eeba34" d="M166.2 155.0L168.9 155.0L155.7 167.3L153.2 167.3z"/>
<path fill="#39c895" d="M164.7 155.0L166.6 155.0L153.6 167.3L151.7 167.3z"/>
<path fill="#fdcc32" d="M163.0 155.0L165.1 155.0L152.1 167.3L150.1 167.3z"/>
<path fill="#32c69e" d="M160.1 155.0L163.4 155.0L150.5 167.3L147.4 167.3z"/>
<path fill="#f5e725" d="M158.2 155.0L160.5 155.0L147.8 167.3L145.7 167.3z"/>
<path fill="#47cb87" d="M157.0 155.0L158.6 155.0L146.1 167.3L144.5 167.3z"/>
<path fill="#f5ba3b" d="M155.5 155.0L157.4 155.0L144.9 167.3L143.2 167.3z"/>
<path fill="#3bc993" d="M154.3 155.0L155.9 155.0L143.6 167.3L142.0 167.3z"/>
<path fill="#f7db2a" d="M152.4 155.0L154.7 155.0L142.4 167.3L140.2 167.3z"/>
<path fill="#f1ba37" d="M151.7 155.0L152.8 155.0L140.6 167.3L139.6 167.3z"/>
<path fill="#f3ba39" d="M150.6 155.0L152.1 155.0L140.0 167.3L138.5 167.3z"/>
<path fill="#43ca8b" d="M149.0 155.0L151.0 155.0L138.9 167.3L137.0 167.3z"/>
<path fill="#90ca4d" d="M146.7 155.0L149.4 155.0L137.4 167.3L134.9 167.3z"/>
<path fill="#4fcc81" d="M145.8 155.0L147.1 155.0L135.3 167.3L134.0 167.3z"/>
<path fill="#f0ba36" d="M142.8 155.0L146.2 155.0L134.4 167.3L131.2 167.3z"/>
<path fill="#38c896" d="M142.2 155.0L143.2 155.0L131.6 167.3L130.6 167.3z"/>
<path fill="#dcbd29" d="M139.1 155.0L142.6 155.0L131.0 167.3L127.7 167.3z"/>
<path fill="#75cc61" d="M137.1 155.0L139.5 155.0L128.1 167.3L125.9 167.3z"/>
<path fill="#f9d72c" d="M135.4 155.0L137.5 155.0L126.3 167.3L124.2 167.3z"/>
<path fill="#28c2ab" d="M134.5 155.0L135.8 155.0L124.6 167.3L123.4 167.3z"/>
<path fill="#f5e825" d="M132.8 155.0L134.9 155.0L123.8 167.3L121.9 167.3z"/>
<path fill="#bec32e" d="M130.5 155.0L133.2 155.0L122.3 167.3L119.6 167.3z"/>
<path fill="#fec636" d="M128.9 155.0L130.9 155.0L120.0 167.3L118.2 167.3z"/>
<path fill="#b0c636" d="M128.2 155.0L129.3 155.0L118.6 167.3L117.5 167.3z"/>
<path fill="#e8bb2e" d="M126.5 155.0L128.6 155.0L117.9 167.3L115.9 167.3z"/>
<path fill="#d0c028" d="M125.2 155.0L126.9 155.0L116.3 167.3L114.7 167.3z"/>
<path fill="#efba35" d="M123.2 155.0L125.6 155.0L115.1 167.3L112.8 167.3z"/>
<path fill="#dbbd29" d="M121.8 155.0L123.6 155.0L113.2 167.3L111.5 167.3z"/>
<path fill="#fec934" d="M119.7 155.0L122.2 155.0L111.9 167.3L109.5 167.3z"/>
<path fill="#1da9e0" d="M118.5 155.0L120.1 155.0L109.9 167.3L108.4 167.3z"/>
<path fill="#febe3c" d="M116.0 155.0L118.9 155.0L108.8 167.3L106.0 167.3z"/>
<path fill="#1dc0b3" d="M114.8 155.0L116.4 155.0L106.4 167.3L104.9 167.3z"/>
<path fill="#f6e028" d="M112.8 155.0L115.2 155.0L105.3 167.3L103.1 167.3z"/>
<path fill="#7ccc5c" d="M111.6 155.0L113.2 155.0L103.5 167.3L102.0 167.3z"/>
<path fill="#edba33" d="M108.3 155.0L112.0 155.0L102.4 167.3L98.9 167.3z"/>
<path fill="#d5be28" d="M106.7 155.0L108.7 155.0L99.3 167.3L97.3 167.3z"/>
<path fill="#febe3c" d="M105.3 155.0L107.1 155.0L97.7 167.3L96.1 167.3z"/>
<path fill="#8dcb50" d="M104.4 155.0L105.7 155.0L96.5 167.3L95.2 167.3z"/>
<path fill="#f2ba38" d="M102.3 155.0L104.8 155.0L95.6 167.3L93.2 167.3z"/>
<path fill="#2ec5a4" d="M99.6 155.0L102.7 155.0L93.6 167.3L90.7 167.3z"/>
<path fill="#f6e028" d="M98.8 155.0L100.0 155.0L91.1 167.3L89.9 167.3z"/>
<path fill="#71cd64" d="M97.2 155.0L99.2 155.0L90.3 167.3L88.4 167.3z"/>
<path fill="#fad52e" d="M96.1 155.0L97.6 155.0L88.8 167.3L87.4 167.3z"/>
<path fill="#5bcc76" d="M94.5 155.0L96.5 155.0L87.8 167.3L85.9 167.3z"/>
<path fill="#fcbc3d" d="M92.8 155.0L94.9 155.0L86.3 167.3L84.3 167.3z"/>
<path fill="#67cd6c" d="M91.8 155.0L93.2 155.0L84.7 167.3L83.4 167.3z"/>
<path fill="#febe3c" d="M89.8 155.0L92.2 155.0L83.8 167.3L81.5 167.3z"/>
<path fill="#74cc62" d="M89.1 155.0L90.2 155.0L81.9 167.3L80.8 167.3z"/>
<path fill="#fcd030" d="M87.1 155.0L89.5 155.0L81.2 167.3L78.9 167.3z"/>
<path fill="#e3bc2c" d="M86.0 155.0L87.5 155.0L79.3 167.3L77.9 167.3z"/>
<path fill="#f8ba3d" d="M83.6 155.0L86.4 155.0L78.3 167.3L75.7 167.3z"/>
<path fill="#2cc4a6" d="M83.0 155.0L84.0 155.0L76.1 167.3L75.2 167.3z"/>
<path fill="#f7ba3c" d="M81.6 155.0L83.4 155.0L75.6 167.3L73.8 167.3z"/>
<path fill="#56cc7b" d="M80.3 155.0L82.0 155.0L74.2 167.3L72.6 167.3z"/>
<path fill="#eabb30" d="M79.1 155.0L80.7 155.0L73.0 167.3L71.5 167.3z"/>
<path fill="#25c2ae" d="M77.7 155.0L79.5 155.0L71.9 167.3L70.2 167.3z"/>
<path fill="#fec934" d="M76.3 155.0L78.1 155.0L70.6 167.3L68.8 167.3z"/>
<path fill="#32c69f" d="M75.1 155.0L76.7 155.0L69.2 167.3L67.7 167.3z"/>
<path fill="#8ccb50" d="M72.5 155.0L75.5 155.0L68.1 167.3L65.3 167.3z"/>
<path fill="#1ca9e0" d="M71.2 155.0L72.9 155.0L65.7 167.3L64.1 167.3z"/>
<path fill="#f5e327" d="M70.1 155.0L71.6 155.0L64.5 167.3L63.0 167.3z"/>
<path fill="#2ec5a4" d="M69.4 155.0L70.5 155.0L63.4 167.3L62.3 167.3z"/>
<path fill="#f2ba38" d="M67.5 155.0L69.8 155.0L62.7 167.3L60.6 167.3z"/>
<path fill="#37c898" d="M66.6 155.0L67.9 155.0L61.0 167.3L59.7 167.3z"/>
<path fill="#f6ba3b" d="M65.3 155.0L67.0 155.0L60.1 167.3L58.5 167.3z"/>
<path fill="#94ca4a" d="M64.2 155.0L65.7 155.0L58.9 167.3L57.4 167.3z"/>
<path fill="#fec13a" d="M61.8 155.0L64.6 155.0L57.8 167.3L55.2 167.3z"/>
<path fill="#36c799" d="M60.7 155.0L62.2 155.0L55.6 167.3L54.2 167.3z"/>
<path fill="#edba33" d="M57.7 155.0L61.1 155.0L54.6 167.3L51.4 167.3z"/>
<path fill="#cbc029" d="M56.4 155.0L58.1 155.0L51.8 167.3L50.2 167.3z"/>
<path fill="#ecba32" d="M55.0 155.0L56.8 155.0L50.6 167.3L48.9 167.3z"/>
<path fill="#3eca8f" d="M53.8 155.0L55.4 155.0L49.3 167.3L47.7 167.3z"/>
<path fill="#febf3b" d="M51.9 155.0L54.2 155.0L48.1 167.3L46.0 167.3z"/>
<path fill="#32c69e" d="M51.3 155.0L52.3 155.0L46.4 167.3L45.4 167.3z"/>
<path fill="#fcd12f" d="M48.9 155.0L51.7 155.0L45.8 167.3L43.2 167.3z"/>
<path fill="#fec239" d="M47.6 155.0L49.3 155.0L43.6 167.3L41.9 167.3z"/>
<path fill="#f8ba3d" d="M46.3 155.0L48.0 155.0L42.3 167.3L40.7 167.3z"/>
<path fill="#2bc3a8" d="M43.5 155.0L46.7 155.0L41.1 167.3L38.0 167.3z"/>
<path fill="#febd3c" d="M40.3 155.0L43.9 155.0L38.4 167.3L35.1 167.3z"/>
<path fill="#02bbc3" d="M39.8 155.0L40.7 155.0L35.5 167.3L34.6 167.3z"/>
</g>
<rect x="45.0" y="10.0" width="178.5" height="155.0" fill="none" stroke="#333" stroke-opacity="0.3" stroke-width="0.6"/>
<rect x="232.0" y="10.0" width="10.8" height="155.5" fill="url(#pg)"/>
<rect x="232.0" y="10.0" width="10.8" height="155.5" fill="none" stroke="#333" stroke-opacity="0.8" stroke-width="0.6"/>
<text class="tc" x="246.3" y="170.1">0</text>
<text class="tc" x="246.3" y="139.1">0.2</text>
<path d="M242.8 134.9h-1.6" stroke="#333" stroke-width="0.6"/>
<text class="tc" x="246.3" y="108.1">0.4</text>
<path d="M242.8 103.9h-1.6" stroke="#333" stroke-width="0.6"/>
<text class="tc" x="246.3" y="77.2">0.6</text>
<path d="M242.8 73.0h-1.6" stroke="#333" stroke-width="0.6"/>
<text class="tc" x="246.3" y="46.2">0.8</text>
<path d="M242.8 42.0h-1.6" stroke="#333" stroke-width="0.6"/>
<text class="tc" x="246.8" y="15.2">1</text>
<text class="t" x="41.2" y="170.0" text-anchor="end">300</text>
<text class="t" x="41.2" y="139.6" text-anchor="end">350</text>
<text class="t" x="41.2" y="109.2" text-anchor="end">400</text>
<text class="t" x="41.2" y="78.9" text-anchor="end">450</text>
<text class="t" x="41.2" y="48.5" text-anchor="end">500</text>
<text class="t" x="41.2" y="18.1" text-anchor="end">550</text>
<text class="t" x="45.2" y="181.7" text-anchor="middle">2</text>
<text class="t" x="89.7" y="181.7" text-anchor="middle">3</text>
<text class="t" x="134.1" y="181.7" text-anchor="middle">4</text>
<text class="t" x="178.6" y="181.7" text-anchor="middle">5</text>
<text class="t" x="223.0" y="181.7" text-anchor="middle">6</text>
<text class="l" x="69.6" y="196.8" word-spacing="2.3">Reverberation time (s)</text>
<text class="l" transform="translate(15.7 87.3) rotate(-90)" text-anchor="middle">Frequency (Hz)</text>
<text class="cap" x="143.1" y="217.4" text-anchor="middle">(<tspan>a</tspan>)</text>
<rect x="322.5" y="10.0" width="178.5" height="155.0" fill="#12beb9"/>
<g clip-path="url(#c2)" filter="url(#bl)">
<path fill="#1da8e0" d="M510.1 8.0L513.2 8.0L505.0 18.3L502.0 18.3z"/>
<path fill="#3bc993" d="M506.2 8.0L510.5 8.0L502.4 18.3L498.2 18.3z"/>
<path fill="#2993ed" d="M502.1 8.0L506.6 8.0L498.6 18.3L494.2 18.3z"/>
<path fill="#01bac5" d="M499.4 8.0L502.5 8.0L494.6 18.3L491.6 18.3z"/>
<path fill="#22a1e4" d="M496.0 8.0L499.8 8.0L492.0 18.3L488.3 18.3z"/>
<path fill="#33c69d" d="M492.9 8.0L496.4 8.0L488.7 18.3L485.3 18.3z"/>
<path fill="#2798ea" d="M489.3 8.0L493.3 8.0L485.7 18.3L481.7 18.3z"/>
<path fill="#02bbc3" d="M487.0 8.0L489.7 8.0L482.1 18.3L479.6 18.3z"/>
<path fill="#2699e9" d="M484.8 8.0L487.4 8.0L480.0 18.3L477.4 18.3z"/>
<path fill="#3dca90" d="M482.0 8.0L485.2 8.0L477.8 18.3L474.7 18.3z"/>
<path fill="#2d89f5" d="M477.2 8.0L482.4 8.0L475.1 18.3L470.0 18.3z"/>
<path fill="#14b0d8" d="M474.1 8.0L477.6 8.0L470.4 18.3L467.0 18.3z"/>
<path fill="#1ea6e1" d="M472.3 8.0L474.5 8.0L467.4 18.3L465.3 18.3z"/>
<path fill="#0ebdbb" d="M468.7 8.0L472.7 8.0L465.7 18.3L461.8 18.3z"/>
<path fill="#09b4d1" d="M464.6 8.0L469.1 8.0L462.2 18.3L457.8 18.3z"/>
<path fill="#3ac994" d="M460.8 8.0L465.0 8.0L458.2 18.3L454.1 18.3z"/>
<path fill="#1ea7e1" d="M458.6 8.0L461.2 8.0L454.5 18.3L451.9 18.3z"/>
<path fill="#15bfb8" d="M455.2 8.0L459.0 8.0L452.3 18.3L448.7 18.3z"/>
<path fill="#07bcc0" d="M453.4 8.0L455.6 8.0L449.1 18.3L447.0 18.3z"/>
<path fill="#11beba" d="M450.3 8.0L453.8 8.0L447.4 18.3L443.9 18.3z"/>
<path fill="#0bb4d2" d="M447.8 8.0L450.7 8.0L444.3 18.3L441.5 18.3z"/>
<path fill="#36c899" d="M445.8 8.0L448.2 8.0L441.9 18.3L439.6 18.3z"/>
<path fill="#04bbc2" d="M441.2 8.0L446.2 8.0L440.0 18.3L435.1 18.3z"/>
<path fill="#93ca4b" d="M439.5 8.0L441.6 8.0L435.5 18.3L433.5 18.3z"/>
<path fill="#2ec4a4" d="M436.1 8.0L439.9 8.0L433.9 18.3L430.2 18.3z"/>
<path fill="#5bcc76" d="M432.4 8.0L436.5 8.0L430.6 18.3L426.6 18.3z"/>
<path fill="#1aabdd" d="M430.0 8.0L432.8 8.0L427.0 18.3L424.3 18.3z"/>
<path fill="#32c69e" d="M428.1 8.0L430.4 8.0L424.7 18.3L422.4 18.3z"/>
<path fill="#07bcc0" d="M423.4 8.0L428.5 8.0L422.8 18.3L417.9 18.3z"/>
<path fill="#afc637" d="M420.9 8.0L423.8 8.0L418.3 18.3L415.4 18.3z"/>
<path fill="#2cc4a6" d="M416.8 8.0L421.3 8.0L415.8 18.3L411.5 18.3z"/>
<path fill="#53cc7d" d="M415.4 8.0L417.2 8.0L411.9 18.3L410.0 18.3z"/>
<path fill="#32c69f" d="M412.6 8.0L415.8 8.0L410.4 18.3L407.3 18.3z"/>
<path fill="#9fc942" d="M410.7 8.0L413.0 8.0L407.7 18.3L405.5 18.3z"/>
<path fill="#01b8c8" d="M406.8 8.0L411.1 8.0L405.9 18.3L401.7 18.3z"/>
<path fill="#cac129" d="M405.2 8.0L407.2 8.0L402.1 18.3L400.2 18.3z"/>
<path fill="#4ecc81" d="M400.3 8.0L405.6 8.0L400.6 18.3L395.4 18.3z"/>
<path fill="#a2c83f" d="M398.9 8.0L400.7 8.0L395.8 18.3L394.0 18.3z"/>
<path fill="#50cc80" d="M394.7 8.0L399.3 8.0L394.4 18.3L390.0 18.3z"/>
<path fill="#c5c22a" d="M393.3 8.0L395.1 8.0L390.4 18.3L388.6 18.3z"/>
<path fill="#33c69d" d="M390.9 8.0L393.7 8.0L389.0 18.3L386.2 18.3z"/>
<path fill="#c0c32d" d="M387.3 8.0L391.3 8.0L386.6 18.3L382.8 18.3z"/>
<path fill="#34c79c" d="M385.2 8.0L387.7 8.0L383.2 18.3L380.8 18.3z"/>
<path fill="#bcc42f" d="M383.4 8.0L385.6 8.0L381.2 18.3L379.0 18.3z"/>
<path fill="#5fcd73" d="M379.4 8.0L383.8 8.0L379.4 18.3L375.1 18.3z"/>
<path fill="#97ca48" d="M376.9 8.0L379.8 8.0L375.5 18.3L372.7 18.3z"/>
<path fill="#45cb89" d="M375.3 8.0L377.3 8.0L373.1 18.3L371.1 18.3z"/>
<path fill="#edba33" d="M371.2 8.0L375.7 8.0L371.5 18.3L367.2 18.3z"/>
<path fill="#3cc991" d="M369.1 8.0L371.6 8.0L367.6 18.3L365.2 18.3z"/>
<path fill="#cec028" d="M367.7 8.0L369.5 8.0L365.6 18.3L363.7 18.3z"/>
<path fill="#9ac945" d="M364.9 8.0L368.1 8.0L364.1 18.3L361.1 18.3z"/>
<path fill="#d4bf27" d="M361.9 8.0L365.3 8.0L361.5 18.3L358.1 18.3z"/>
<path fill="#82cc58" d="M357.7 8.0L362.3 8.0L358.5 18.3L354.1 18.3z"/>
<path fill="#d7be28" d="M356.0 8.0L358.1 8.0L354.5 18.3L352.4 18.3z"/>
<path fill="#a6c83d" d="M353.3 8.0L356.4 8.0L352.8 18.3L349.8 18.3z"/>
<path fill="#f9bb3d" d="M351.9 8.0L353.7 8.0L350.2 18.3L348.4 18.3z"/>
<path fill="#c7c129" d="M348.7 8.0L352.3 8.0L348.8 18.3L345.4 18.3z"/>
<path fill="#fec338" d="M345.3 8.0L349.1 8.0L345.8 18.3L342.0 18.3z"/>
<path fill="#b9c430" d="M341.1 8.0L345.7 8.0L342.4 18.3L338.0 18.3z"/>
<path fill="#f7ba3c" d="M337.3 8.0L341.5 8.0L338.4 18.3L334.3 18.3z"/>
<path fill="#eeba34" d="M333.1 8.0L337.7 8.0L334.7 18.3L330.2 18.3z"/>
<path fill="#f6de29" d="M329.4 8.0L333.5 8.0L330.6 18.3L326.6 18.3z"/>
<path fill="#e8bb2e" d="M325.3 8.0L329.8 8.0L327.0 18.3L322.6 18.3z"/>
<path fill="#f3ba39" d="M322.7 8.0L325.7 8.0L323.0 18.3L320.1 18.3z"/>
<path fill="#fec636" d="M320.4 8.0L323.1 8.0L320.5 18.3L317.8 18.3z"/>
<path fill="#fdcb33" d="M317.2 8.0L320.8 8.0L318.2 18.3L314.7 18.3z"/>
<path fill="#07b5cf" d="M510.7 18.0L514.8 18.0L506.7 27.8L502.7 27.8z"/>
<path fill="#23a0e5" d="M508.3 18.0L511.1 18.0L503.1 27.8L500.4 27.8z"/>
<path fill="#01b9c6" d="M504.6 18.0L508.7 18.0L500.8 27.8L496.8 27.8z"/>
<path fill="#1ea6e1" d="M502.0 18.0L505.0 18.0L497.2 27.8L494.3 27.8z"/>
<path fill="#39c994" d="M498.2 18.0L502.4 18.0L494.7 27.8L490.5 27.8z"/>
<path fill="#2994ed" d="M494.2 18.0L498.6 18.0L490.9 27.8L486.7 27.8z"/>
<path fill="#02bac4" d="M491.6 18.0L494.6 18.0L487.1 27.8L484.2 27.8z"/>
<path fill="#22a2e4" d="M488.3 18.0L492.0 18.0L484.6 27.8L481.0 27.8z"/>
<path fill="#34c79c" d="M485.3 18.0L488.7 18.0L481.4 27.8L478.0 27.8z"/>
<path fill="#2699e9" d="M481.7 18.0L485.7 18.0L478.4 27.8L474.6 27.8z"/>
<path fill="#04bbc2" d="M479.6 18.0L482.1 18.0L475.0 27.8L472.5 27.8z"/>
<path fill="#269ae8" d="M477.4 18.0L480.0 18.0L472.9 27.8L470.4 27.8z"/>
<path fill="#41ca8d" d="M474.7 18.0L477.8 18.0L470.8 27.8L467.8 27.8z"/>
<path fill="#2d8bf3" d="M470.0 18.0L475.1 18.0L468.2 27.8L463.2 27.8z"/>
<path fill="#11b1d6" d="M467.0 18.0L470.4 18.0L463.6 27.8L460.3 27.8z"/>
<path fill="#1da8e0" d="M465.3 18.0L467.4 18.0L460.7 27.8L458.6 27.8z"/>
<path fill="#13beb8" d="M461.8 18.0L465.7 18.0L459.0 27.8L455.2 27.8z"/>
<path fill="#06b5ce" d="M457.8 18.0L462.2 18.0L455.6 27.8L451.4 27.8z"/>
<path fill="#3eca90" d="M454.1 18.0L458.2 18.0L451.8 27.8L447.7 27.8z"/>
<path fill="#1caadf" d="M451.9 18.0L454.5 18.0L448.1 27.8L445.7 27.8z"/>
<path fill="#1cc0b4" d="M448.7 18.0L452.3 18.0L446.1 27.8L442.5 27.8z"/>
<path fill="#0dbdbc" d="M447.0 18.0L449.1 18.0L442.9 27.8L440.8 27.8z"/>
<path fill="#19bfb6" d="M443.9 18.0L447.4 18.0L441.2 27.8L437.9 27.8z"/>
<path fill="#06b5ce" d="M441.5 18.0L444.3 18.0L438.3 27.8L435.5 27.8z"/>
<path fill="#3ac994" d="M439.6 18.0L441.9 18.0L435.9 27.8L433.7 27.8z"/>
<path fill="#09bcbe" d="M435.1 18.0L440.0 18.0L434.1 27.8L429.3 27.8z"/>
<path fill="#9cc944" d="M433.5 18.0L435.5 18.0L429.7 27.8L427.7 27.8z"/>
<path fill="#32c69f" d="M430.2 18.0L433.9 18.0L428.1 27.8L424.5 27.8z"/>
<path fill="#65cd6e" d="M426.6 18.0L430.6 18.0L424.9 27.8L421.0 27.8z"/>
<path fill="#17aeda" d="M424.3 18.0L427.0 18.0L421.4 27.8L418.8 27.8z"/>
<path fill="#36c898" d="M422.4 18.0L424.7 18.0L419.2 27.8L417.0 27.8z"/>
<path fill="#0ebebb" d="M417.9 18.0L422.8 18.0L417.4 27.8L412.6 27.8z"/>
<path fill="#b9c431" d="M415.4 18.0L418.3 18.0L413.0 27.8L410.2 27.8z"/>
<path fill="#30c5a1" d="M411.5 18.0L415.8 18.0L410.6 27.8L406.3 27.8z"/>
<path fill="#59cc78" d="M410.0 18.0L411.9 18.0L406.7 27.8L405.0 27.8z"/>
<path fill="#34c79c" d="M407.3 18.0L410.4 18.0L405.4 27.8L402.3 27.8z"/>
<path fill="#a4c83e" d="M405.5 18.0L407.7 18.0L402.7 27.8L400.6 27.8z"/>
<path fill="#01bac5" d="M401.7 18.0L405.9 18.0L401.0 27.8L396.9 27.8z"/>
<path fill="#ccc028" d="M400.2 18.0L402.1 18.0L397.3 27.8L395.4 27.8z"/>
<path fill="#54cc7c" d="M395.4 18.0L400.6 18.0L395.8 27.8L390.7 27.8z"/>
<path fill="#a5c83d" d="M394.0 18.0L395.8 18.0L391.1 27.8L389.4 27.8z"/>
<path fill="#54cc7c" d="M390.0 18.0L394.4 18.0L389.8 27.8L385.5 27.8z"/>
<path fill="#c8c129" d="M388.6 18.0L390.4 18.0L385.9 27.8L384.2 27.8z"/>
<path fill="#35c79b" d="M386.2 18.0L389.0 18.0L384.6 27.8L381.9 27.8z"/>
<path fill="#c3c22b" d="M382.8 18.0L386.6 18.0L382.3 27.8L378.5 27.8z"/>
<path fill="#37c898" d="M380.8 18.0L383.2 18.0L378.9 27.8L376.5 27.8z"/>
<path fill="#bfc32d" d="M379.0 18.0L381.2 18.0L376.9 27.8L374.8 27.8z"/>
<path fill="#65cd6e" d="M375.1 18.0L379.4 18.0L375.2 27.8L371.0 27.8z"/>
<path fill="#9cc944" d="M372.7 18.0L375.5 18.0L371.4 27.8L368.7 27.8z"/>
<path fill="#49cb85" d="M371.1 18.0L373.1 18.0L369.1 27.8L367.1 27.8z"/>
<path fill="#eeba35" d="M367.2 18.0L371.5 18.0L367.5 27.8L363.3 27.8z"/>
<path fill="#48cb86" d="M365.2 18.0L367.6 18.0L363.7 27.8L361.4 27.8z"/>
<path fill="#d5be28" d="M363.7 18.0L365.6 18.0L361.8 27.8L360.0 27.8z"/>
<path fill="#a6c83d" d="M361.1 18.0L364.1 18.0L360.4 27.8L357.4 27.8z"/>
<path fill="#ddbd29" d="M358.1 18.0L361.5 18.0L357.8 27.8L354.5 27.8z"/>
<path fill="#8ecb4e" d="M354.1 18.0L358.5 18.0L354.9 27.8L350.6 27.8z"/>
<path fill="#e4bb2c" d="M352.4 18.0L354.5 18.0L351.0 27.8L349.0 27.8z"/>
<path fill="#bac430" d="M349.8 18.0L352.8 18.0L349.4 27.8L346.5 27.8z"/>
<path fill="#fec239" d="M348.4 18.0L350.2 18.0L346.9 27.8L345.1 27.8z"/>
<path fill="#d9be28" d="M345.4 18.0L348.8 18.0L345.5 27.8L342.1 27.8z"/>
<path fill="#fdcd32" d="M342.0 18.0L345.8 18.0L342.5 27.8L338.9 27.8z"/>
<path fill="#c6c22a" d="M338.0 18.0L342.4 18.0L339.3 27.8L335.0 27.8z"/>
<path fill="#fbbc3d" d="M334.3 18.0L338.4 18.0L335.4 27.8L331.4 27.8z"/>
<path fill="#f3ba39" d="M330.2 18.0L334.7 18.0L331.8 27.8L327.4 27.8z"/>
<path fill="#f6df29" d="M326.6 18.0L330.6 18.0L327.8 27.8L323.9 27.8z"/>
<path fill="#edba33" d="M322.6 18.0L327.0 18.0L324.3 27.8L320.1 27.8z"/>
<path fill="#f5ba3a" d="M320.1 18.0L323.0 18.0L320.5 27.8L317.6 27.8z"/>
<path fill="#fec735" d="M317.8 18.0L320.5 18.0L318.0 27.8L315.4 27.8z"/>
<path fill="#fdcc32" d="M314.7 18.0L318.2 18.0L315.8 27.8L312.4 27.8z"/>
<path fill="#13b0d8" d="M508.3 27.5L511.8 27.5L506.6 33.8L503.2 33.8z"/>
<path fill="#2d8af5" d="M506.3 27.5L508.7 27.5L503.6 33.8L501.2 33.8z"/>
<path fill="#11b1d6" d="M502.7 27.5L506.7 27.5L501.6 33.8L497.7 33.8z"/>
<path fill="#259be8" d="M500.4 27.5L503.1 27.5L498.1 33.8L495.4 33.8z"/>
<path fill="#02b7cb" d="M496.8 27.5L500.8 27.5L495.8 33.8L491.8 33.8z"/>
<path fill="#20a4e3" d="M494.3 27.5L497.2 27.5L492.2 33.8L489.4 33.8z"/>
<path fill="#36c899" d="M490.5 27.5L494.7 27.5L489.8 33.8L485.7 33.8z"/>
<path fill="#2b92ee" d="M486.7 27.5L490.9 27.5L486.1 33.8L482.0 33.8z"/>
<path fill="#01b9c8" d="M484.2 27.5L487.1 27.5L482.4 33.8L479.5 33.8z"/>
<path fill="#1babde" d="M481.0 27.5L484.6 27.5L479.9 33.8L476.3 33.8z"/>
<path fill="#32c69f" d="M478.0 27.5L481.4 27.5L476.7 33.8L473.4 33.8z"/>
<path fill="#2797eb" d="M474.6 27.5L478.4 27.5L473.8 33.8L470.1 33.8z"/>
<path fill="#02bac4" d="M472.5 27.5L475.0 27.5L470.5 33.8L468.0 33.8z"/>
<path fill="#249fe6" d="M470.4 27.5L472.9 27.5L468.4 33.8L465.9 33.8z"/>
<path fill="#3eca8f" d="M467.8 27.5L470.8 27.5L466.3 33.8L463.4 33.8z"/>
<path fill="#2d8af5" d="M463.2 27.5L468.2 27.5L463.8 33.8L458.9 33.8z"/>
<path fill="#01b9c6" d="M460.3 27.5L463.6 27.5L459.3 33.8L456.1 33.8z"/>
<path fill="#1ea7e1" d="M458.6 27.5L460.7 27.5L456.5 33.8L454.4 33.8z"/>
<path fill="#0fbeba" d="M455.2 27.5L459.0 27.5L454.8 33.8L451.1 33.8z"/>
<path fill="#07b5cf" d="M451.4 27.5L455.6 27.5L451.5 33.8L447.3 33.8z"/>
<path fill="#3cc992" d="M447.7 27.5L451.8 27.5L447.7 33.8L443.7 33.8z"/>
<path fill="#1ca9e0" d="M445.7 27.5L448.1 27.5L444.1 33.8L441.7 33.8z"/>
<path fill="#1ac0b5" d="M442.5 27.5L446.1 27.5L442.1 33.8L438.6 33.8z"/>
<path fill="#0bbdbd" d="M440.8 27.5L442.9 27.5L439.0 33.8L437.0 33.8z"/>
<path fill="#16bfb7" d="M437.9 27.5L441.2 27.5L437.4 33.8L434.1 33.8z"/>
<path fill="#06b5cf" d="M435.5 27.5L438.3 27.5L434.5 33.8L431.7 33.8z"/>
<path fill="#39c895" d="M433.7 27.5L435.9 27.5L432.1 33.8L429.9 33.8z"/>
<path fill="#08bcbe" d="M429.3 27.5L434.1 27.5L430.3 33.8L425.6 33.8z"/>
<path fill="#9cc944" d="M427.7 27.5L429.7 27.5L426.0 33.8L424.1 33.8z"/>
<path fill="#32c69f" d="M424.5 27.5L428.1 27.5L424.5 33.8L420.9 33.8z"/>
<path fill="#64cd6f" d="M421.0 27.5L424.9 27.5L421.3 33.8L417.5 33.8z"/>
<path fill="#14b0d8" d="M418.8 27.5L421.4 27.5L417.9 33.8L415.3 33.8z"/>
<path fill="#36c899" d="M417.0 27.5L419.2 27.5L415.7 33.8L413.5 33.8z"/>
<path fill="#0ebdbb" d="M412.6 27.5L417.4 27.5L413.9 33.8L409.2 33.8z"/>
<path fill="#b6c532" d="M410.2 27.5L413.0 27.5L409.6 33.8L406.9 33.8z"/>
<path fill="#2ec4a4" d="M406.3 27.5L410.6 27.5L407.3 33.8L403.1 33.8z"/>
<path fill="#54cc7c" d="M405.0 27.5L406.7 27.5L403.5 33.8L401.8 33.8z"/>
<path fill="#31c6a0" d="M402.3 27.5L405.4 27.5L402.2 33.8L399.2 33.8z"/>
<path fill="#9fc941" d="M400.6 27.5L402.7 27.5L399.6 33.8L397.5 33.8z"/>
<path fill="#01b8c8" d="M396.9 27.5L401.0 27.5L397.9 33.8L393.8 33.8z"/>
<path fill="#c2c22c" d="M395.4 27.5L397.3 27.5L394.2 33.8L392.4 33.8z"/>
<path fill="#4dcb82" d="M390.7 27.5L395.8 27.5L392.8 33.8L387.8 33.8z"/>
<path fill="#99c946" d="M389.4 27.5L391.1 27.5L388.2 33.8L386.5 33.8z"/>
<path fill="#49cb85" d="M385.5 27.5L389.8 27.5L386.9 33.8L382.7 33.8z"/>
<path fill="#bdc32e" d="M384.2 27.5L385.9 27.5L383.1 33.8L381.3 33.8z"/>
<path fill="#2fc5a2" d="M381.9 27.5L384.6 27.5L381.7 33.8L379.1 33.8z"/>
<path fill="#b4c533" d="M378.5 27.5L382.3 27.5L379.5 33.8L375.8 33.8z"/>
<path fill="#32c69f" d="M376.5 27.5L378.9 27.5L376.2 33.8L373.9 33.8z"/>
<path fill="#b0c636" d="M374.8 27.5L376.9 27.5L374.3 33.8L372.1 33.8z"/>
<path fill="#57cc7a" d="M371.0 27.5L375.2 27.5L372.5 33.8L368.4 33.8z"/>
<path fill="#8acb52" d="M368.7 27.5L371.4 27.5L368.8 33.8L366.2 33.8z"/>
<path fill="#3cc991" d="M367.1 27.5L369.1 27.5L366.6 33.8L364.6 33.8z"/>
<path fill="#e1bc2b" d="M363.3 27.5L367.5 27.5L365.0 33.8L360.9 33.8z"/>
<path fill="#41ca8c" d="M361.4 27.5L363.7 27.5L361.3 33.8L359.0 33.8z"/>
<path fill="#c9c129" d="M360.0 27.5L361.8 27.5L359.4 33.8L357.6 33.8z"/>
<path fill="#96ca48" d="M357.4 27.5L360.4 27.5L358.0 33.8L355.1 33.8z"/>
<path fill="#d0bf27" d="M354.5 27.5L357.8 27.5L355.5 33.8L352.3 33.8z"/>
<path fill="#83cc57" d="M350.6 27.5L354.9 27.5L352.7 33.8L348.4 33.8z"/>
<path fill="#ddbd29" d="M349.0 27.5L351.0 27.5L348.8 33.8L346.9 33.8z"/>
<path fill="#bbc430" d="M346.5 27.5L349.4 27.5L347.3 33.8L344.3 33.8z"/>
<path fill="#fdbd3d" d="M345.1 27.5L346.9 27.5L344.7 33.8L343.0 33.8z"/>
<path fill="#cfc028" d="M342.1 27.5L345.5 27.5L343.4 33.8L340.1 33.8z"/>
<path fill="#fec03a" d="M338.9 27.5L342.5 27.5L340.5 33.8L336.9 33.8z"/>
<path fill="#afc637" d="M335.0 27.5L339.3 27.5L337.3 33.8L333.1 33.8z"/>
<path fill="#edba33" d="M331.4 27.5L335.4 27.5L333.5 33.8L329.5 33.8z"/>
<path fill="#e1bc2b" d="M327.4 27.5L331.8 27.5L329.9 33.8L325.6 33.8z"/>
<path fill="#fcd030" d="M323.9 27.5L327.8 27.5L326.0 33.8L322.2 33.8z"/>
<path fill="#d6be28" d="M320.1 27.5L324.3 27.5L322.6 33.8L318.5 33.8z"/>
<path fill="#debd29" d="M317.6 27.5L320.5 27.5L318.9 33.8L316.0 33.8z"/>
<path fill="#f9bb3d" d="M315.4 27.5L318.0 27.5L316.4 33.8L313.9 33.8z"/>
<path fill="#1ca9df" d="M508.7 33.5L510.9 33.5L505.6 39.8L503.4 39.8z"/>
<path fill="#2798ea" d="M506.2 33.5L509.1 33.5L503.8 39.8L501.0 39.8z"/>
<path fill="#15afd9" d="M503.2 33.5L506.6 33.5L501.4 39.8L498.0 39.8z"/>
<path fill="#2d89f5" d="M501.2 33.5L503.6 33.5L498.4 39.8L496.1 39.8z"/>
<path fill="#10b2d5" d="M497.7 33.5L501.6 33.5L496.5 39.8L492.7 39.8z"/>
<path fill="#259ce7" d="M495.4 33.5L498.1 33.5L493.1 39.8L490.4 39.8z"/>
<path fill="#01b8c9" d="M491.8 33.5L495.8 33.5L490.8 39.8L486.9 39.8z"/>
<path fill="#1fa5e2" d="M489.4 33.5L492.2 33.5L487.3 39.8L484.5 39.8z"/>
<path fill="#38c897" d="M485.7 33.5L489.8 33.5L484.9 39.8L480.9 39.8z"/>
<path fill="#2a93ed" d="M482.0 33.5L486.1 33.5L481.3 39.8L477.3 39.8z"/>
<path fill="#01b9c6" d="M479.5 33.5L482.4 33.5L477.7 39.8L474.8 39.8z"/>
<path fill="#1aacdd" d="M476.3 33.5L479.9 33.5L475.2 39.8L471.7 39.8z"/>
<path fill="#34c79b" d="M473.4 33.5L476.7 33.5L472.1 39.8L468.9 39.8z"/>
<path fill="#2699e9" d="M470.1 33.5L473.8 33.5L469.3 39.8L465.6 39.8z"/>
<path fill="#05bbc1" d="M468.0 33.5L470.5 33.5L466.0 39.8L463.6 39.8z"/>
<path fill="#23a1e5" d="M465.9 33.5L468.4 33.5L464.0 39.8L461.5 39.8z"/>
<path fill="#41ca8c" d="M463.4 33.5L466.3 33.5L461.9 39.8L459.0 39.8z"/>
<path fill="#2d8cf3" d="M458.9 33.5L463.8 33.5L459.4 39.8L454.6 39.8z"/>
<path fill="#02bbc3" d="M456.1 33.5L459.3 33.5L455.0 39.8L451.8 39.8z"/>
<path fill="#1da9e0" d="M454.4 33.5L456.5 33.5L452.2 39.8L450.2 39.8z"/>
<path fill="#16bfb7" d="M451.1 33.5L454.8 33.5L450.6 39.8L446.9 39.8z"/>
<path fill="#04b6cc" d="M447.3 33.5L451.5 33.5L447.3 39.8L443.2 39.8z"/>
<path fill="#40ca8d" d="M443.7 33.5L447.7 33.5L443.6 39.8L439.7 39.8z"/>
<path fill="#1fa5e2" d="M441.7 33.5L444.1 33.5L440.1 39.8L437.7 39.8z"/>
<path fill="#1fc1b1" d="M438.6 33.5L442.1 33.5L438.1 39.8L434.7 39.8z"/>
<path fill="#11beb9" d="M437.0 33.5L439.0 33.5L435.1 39.8L433.1 39.8z"/>
<path fill="#1ec0b2" d="M434.1 33.5L437.4 33.5L433.5 39.8L430.2 39.8z"/>
<path fill="#02b7cb" d="M431.7 33.5L434.5 33.5L430.6 39.8L428.0 39.8z"/>
<path fill="#3eca90" d="M429.9 33.5L432.1 33.5L428.4 39.8L426.2 39.8z"/>
<path fill="#07bcbf" d="M425.6 33.5L430.3 33.5L426.6 39.8L421.9 39.8z"/>
<path fill="#bac430" d="M424.1 33.5L426.0 33.5L422.3 39.8L420.5 39.8z"/>
<path fill="#35c79a" d="M420.9 33.5L424.5 33.5L420.9 39.8L417.4 39.8z"/>
<path fill="#63cd70" d="M417.5 33.5L421.3 33.5L417.8 39.8L414.0 39.8z"/>
<path fill="#10b2d5" d="M415.3 33.5L417.9 33.5L414.4 39.8L411.9 39.8z"/>
<path fill="#3ac994" d="M413.5 33.5L415.7 33.5L412.3 39.8L410.1 39.8z"/>
<path fill="#13beb8" d="M409.2 33.5L413.9 33.5L410.5 39.8L405.9 39.8z"/>
<path fill="#bac430" d="M406.9 33.5L409.6 33.5L406.3 39.8L403.6 39.8z"/>
<path fill="#30c5a2" d="M403.1 33.5L407.3 33.5L404.0 39.8L399.9 39.8z"/>
<path fill="#58cc79" d="M401.8 33.5L403.5 33.5L400.3 39.8L398.6 39.8z"/>
<path fill="#33c69e" d="M399.2 33.5L402.2 33.5L399.0 39.8L396.0 39.8z"/>
<path fill="#a4c83e" d="M397.5 33.5L399.6 33.5L396.4 39.8L394.3 39.8z"/>
<path fill="#01bac5" d="M393.8 33.5L397.9 33.5L394.7 39.8L390.8 39.8z"/>
<path fill="#c4c22b" d="M392.4 33.5L394.2 33.5L391.2 39.8L389.3 39.8z"/>
<path fill="#4fcc80" d="M387.8 33.5L392.8 33.5L389.7 39.8L384.9 39.8z"/>
<path fill="#b1c635" d="M386.5 33.5L388.2 33.5L385.3 39.8L383.6 39.8z"/>
<path fill="#4dcc82" d="M382.7 33.5L386.9 33.5L384.0 39.8L379.8 39.8z"/>
<path fill="#c1c32c" d="M381.3 33.5L383.1 33.5L380.2 39.8L378.5 39.8z"/>
<path fill="#30c5a2" d="M379.1 33.5L381.7 33.5L378.9 39.8L376.3 39.8z"/>
<path fill="#b7c531" d="M375.8 33.5L379.5 33.5L376.7 39.8L373.1 39.8z"/>
<path fill="#34c79b" d="M373.9 33.5L376.2 33.5L373.5 39.8L371.2 39.8z"/>
<path fill="#b4c534" d="M372.1 33.5L374.3 33.5L371.6 39.8L369.5 39.8z"/>
<path fill="#5ccc76" d="M368.4 33.5L372.5 33.5L369.9 39.8L365.9 39.8z"/>
<path fill="#90ca4d" d="M366.2 33.5L368.8 33.5L366.3 39.8L363.7 39.8z"/>
<path fill="#45cb89" d="M364.6 33.5L366.6 33.5L364.1 39.8L362.2 39.8z"/>
<path fill="#e5bb2d" d="M360.9 33.5L365.0 33.5L362.6 39.8L358.5 39.8z"/>
<path fill="#4ecc81" d="M359.0 33.5L361.3 33.5L358.9 39.8L356.6 39.8z"/>
<path fill="#d2bf27" d="M357.6 33.5L359.4 33.5L357.0 39.8L355.3 39.8z"/>
<path fill="#80cc59" d="M355.1 33.5L358.0 33.5L355.7 39.8L352.8 39.8z"/>
<path fill="#dbbd29" d="M352.3 33.5L355.5 33.5L353.2 39.8L350.0 39.8z"/>
<path fill="#95ca49" d="M348.4 33.5L352.7 33.5L350.4 39.8L346.2 39.8z"/>
<path fill="#e9bb30" d="M346.9 33.5L348.8 33.5L346.6 39.8L344.7 39.8z"/>
<path fill="#cac129" d="M344.3 33.5L347.3 33.5L345.1 39.8L342.2 39.8z"/>
<path fill="#febf3b" d="M343.0 33.5L344.7 33.5L342.6 39.8L340.9 39.8z"/>
<path fill="#debd29" d="M340.1 33.5L343.4 33.5L341.3 39.8L338.1 39.8z"/>
<path fill="#febe3c" d="M336.9 33.5L340.5 33.5L338.5 39.8L335.0 39.8z"/>
<path fill="#b8c431" d="M333.1 33.5L337.3 33.5L335.4 39.8L331.2 39.8z"/>
<path fill="#f3ba38" d="M329.5 33.5L333.5 33.5L331.6 39.8L327.7 39.8z"/>
<path fill="#e8bb2f" d="M325.6 33.5L329.9 33.5L328.1 39.8L323.9 39.8z"/>
<path fill="#fbd22f" d="M322.2 33.5L326.0 33.5L324.3 39.8L320.5 39.8z"/>
<path fill="#dbbd29" d="M318.5 33.5L322.6 33.5L320.9 39.8L316.9 39.8z"/>
<path fill="#e2bc2b" d="M316.0 33.5L318.9 33.5L317.3 39.8L314.5 39.8z"/>
<path fill="#08b4d1" d="M508.2 39.5L511.6 39.5L504.4 47.8L501.1 47.8z"/>
<path fill="#2a93ed" d="M505.2 39.5L508.6 39.5L501.5 47.8L498.2 47.8z"/>
<path fill="#0ab4d2" d="M503.4 39.5L505.6 39.5L498.6 47.8L496.5 47.8z"/>
<path fill="#269ae8" d="M501.0 39.5L503.8 39.5L496.9 47.8L494.1 47.8z"/>
<path fill="#10b2d5" d="M498.0 39.5L501.4 39.5L494.5 47.8L491.2 47.8z"/>
<path fill="#2c8ef2" d="M496.1 39.5L498.4 39.5L491.6 47.8L489.3 47.8z"/>
<path fill="#08b5d0" d="M492.7 39.5L496.5 39.5L489.7 47.8L485.9 47.8z"/>
<path fill="#23a0e5" d="M490.4 39.5L493.1 39.5L486.3 47.8L483.7 47.8z"/>
<path fill="#02bac4" d="M486.9 39.5L490.8 39.5L484.1 47.8L480.3 47.8z"/>
<path fill="#1caadf" d="M484.5 39.5L487.3 39.5L480.7 47.8L478.0 47.8z"/>
<path fill="#3eca8f" d="M480.9 39.5L484.9 39.5L478.4 47.8L474.5 47.8z"/>
<path fill="#2798ea" d="M477.3 39.5L481.3 39.5L474.9 47.8L470.9 47.8z"/>
<path fill="#07bcbf" d="M474.8 39.5L477.7 39.5L471.3 47.8L468.5 47.8z"/>
<path fill="#14b0d8" d="M471.7 39.5L475.2 39.5L468.9 47.8L465.5 47.8z"/>
<path fill="#3dca90" d="M468.9 39.5L472.1 39.5L465.9 47.8L462.8 47.8z"/>
<path fill="#249ee6" d="M465.6 39.5L469.3 39.5L463.2 47.8L459.6 47.8z"/>
<path fill="#10beba" d="M463.6 39.5L466.0 39.5L460.0 47.8L457.6 47.8z"/>
<path fill="#1fa5e2" d="M461.5 39.5L464.0 39.5L458.0 47.8L455.6 47.8z"/>
<path fill="#4dcc82" d="M459.0 39.5L461.9 39.5L456.0 47.8L453.2 47.8z"/>
<path fill="#2b91ef" d="M454.6 39.5L459.4 39.5L453.6 47.8L448.9 47.8z"/>
<path fill="#0ebdbb" d="M451.8 39.5L455.0 39.5L449.3 47.8L446.2 47.8z"/>
<path fill="#18aedb" d="M450.2 39.5L452.2 39.5L446.6 47.8L444.6 47.8z"/>
<path fill="#24c1af" d="M446.9 39.5L450.6 39.5L445.0 47.8L441.4 47.8z"/>
<path fill="#01b9c8" d="M443.2 39.5L447.3 39.5L441.8 47.8L437.8 47.8z"/>
<path fill="#4dcc82" d="M439.7 39.5L443.6 39.5L438.2 47.8L434.4 47.8z"/>
<path fill="#1aabdd" d="M437.7 39.5L440.1 39.5L434.8 47.8L432.4 47.8z"/>
<path fill="#2ac3a9" d="M434.7 39.5L438.1 39.5L432.8 47.8L429.4 47.8z"/>
<path fill="#18bfb6" d="M433.1 39.5L435.1 39.5L429.8 47.8L427.9 47.8z"/>
<path fill="#2ac3a9" d="M430.2 39.5L433.5 39.5L428.3 47.8L425.1 47.8z"/>
<path fill="#02bbc3" d="M428.0 39.5L430.6 39.5L425.5 47.8L422.9 47.8z"/>
<path fill="#4bcb84" d="M426.2 39.5L428.4 39.5L423.3 47.8L421.2 47.8z"/>
<path fill="#17bfb6" d="M421.9 39.5L426.6 39.5L421.6 47.8L417.1 47.8z"/>
<path fill="#c7c12a" d="M420.5 39.5L422.3 39.5L417.5 47.8L415.6 47.8z"/>
<path fill="#3eca8f" d="M417.4 39.5L420.9 39.5L416.0 47.8L412.6 47.8z"/>
<path fill="#74cc62" d="M414.0 39.5L417.8 39.5L413.0 47.8L409.4 47.8z"/>
<path fill="#05b6ce" d="M411.9 39.5L414.4 39.5L409.8 47.8L407.2 47.8z"/>
<path fill="#44ca8a" d="M410.1 39.5L412.3 39.5L407.6 47.8L405.5 47.8z"/>
<path fill="#1fc0b1" d="M405.9 39.5L410.5 39.5L405.9 47.8L401.4 47.8z"/>
<path fill="#c7c12a" d="M403.6 39.5L406.3 39.5L401.8 47.8L399.2 47.8z"/>
<path fill="#35c799" d="M399.9 39.5L404.0 39.5L399.6 47.8L395.6 47.8z"/>
<path fill="#66cd6d" d="M398.6 39.5L400.3 39.5L396.0 47.8L394.3 47.8z"/>
<path fill="#3bc992" d="M396.0 39.5L399.0 39.5L394.7 47.8L391.8 47.8z"/>
<path fill="#b3c534" d="M394.3 39.5L396.4 39.5L392.2 47.8L390.2 47.8z"/>
<path fill="#0cbdbc" d="M390.8 39.5L394.7 39.5L390.6 47.8L386.7 47.8z"/>
<path fill="#d2bf27" d="M389.3 39.5L391.2 39.5L387.1 47.8L385.3 47.8z"/>
<path fill="#62cd71" d="M384.9 39.5L389.7 39.5L385.7 47.8L380.9 47.8z"/>
<path fill="#c2c22c" d="M383.6 39.5L385.3 39.5L381.3 47.8L379.7 47.8z"/>
<path fill="#69cd6a" d="M379.8 39.5L384.0 39.5L380.1 47.8L376.0 47.8z"/>
<path fill="#d4bf27" d="M378.5 39.5L380.2 39.5L376.4 47.8L374.8 47.8z"/>
<path fill="#3ac994" d="M376.3 39.5L378.9 39.5L375.2 47.8L372.6 47.8z"/>
<path fill="#cac129" d="M373.1 39.5L376.7 39.5L373.0 47.8L369.5 47.8z"/>
<path fill="#43ca8a" d="M371.2 39.5L373.5 39.5L369.9 47.8L367.6 47.8z"/>
<path fill="#bdc32f" d="M369.5 39.5L371.6 39.5L368.0 47.8L366.0 47.8z"/>
<path fill="#78cc5f" d="M365.9 39.5L369.9 39.5L366.4 47.8L362.4 47.8z"/>
<path fill="#acc738" d="M363.7 39.5L366.3 39.5L362.8 47.8L360.3 47.8z"/>
<path fill="#63cd6f" d="M362.2 39.5L364.1 39.5L360.7 47.8L358.8 47.8z"/>
<path fill="#f7ba3c" d="M358.5 39.5L362.6 39.5L359.2 47.8L355.2 47.8z"/>
<path fill="#70cd65" d="M356.6 39.5L358.9 39.5L355.6 47.8L353.4 47.8z"/>
<path fill="#febf3b" d="M355.3 39.5L357.0 39.5L353.8 47.8L352.1 47.8z"/>
<path fill="#a8c73b" d="M352.8 39.5L355.7 39.5L352.5 47.8L349.7 47.8z"/>
<path fill="#fabb3d" d="M350.0 39.5L353.2 39.5L350.1 47.8L347.0 47.8z"/>
<path fill="#c1c32c" d="M346.2 39.5L350.4 39.5L347.4 47.8L343.3 47.8z"/>
<path fill="#fec13a" d="M344.7 39.5L346.6 39.5L343.7 47.8L341.8 47.8z"/>
<path fill="#edba34" d="M342.2 39.5L345.1 39.5L342.2 47.8L339.4 47.8z"/>
<path fill="#fdcd32" d="M340.9 39.5L342.6 39.5L339.8 47.8L338.1 47.8z"/>
<path fill="#f7ba3c" d="M338.1 39.5L341.3 39.5L338.5 47.8L335.4 47.8z"/>
<path fill="#fdcc32" d="M335.0 39.5L338.5 39.5L335.8 47.8L332.3 47.8z"/>
<path fill="#dabd28" d="M331.2 39.5L335.4 39.5L332.7 47.8L328.7 47.8z"/>
<path fill="#fec537" d="M327.7 39.5L331.6 39.5L329.1 47.8L325.3 47.8z"/>
<path fill="#febf3c" d="M323.9 39.5L328.1 39.5L325.7 47.8L321.5 47.8z"/>
<path fill="#f5e427" d="M320.5 39.5L324.3 39.5L321.9 47.8L318.3 47.8z"/>
<path fill="#f5ba3a" d="M316.9 39.5L320.9 39.5L318.7 47.8L314.7 47.8z"/>
<path fill="#fabb3d" d="M314.5 39.5L317.3 39.5L315.1 47.8L312.4 47.8z"/>
<path fill="#3579fd" d="M510.8 47.5L514.0 47.5L506.6 55.8L503.5 55.8z"/>
<path fill="#259de7" d="M508.3 47.5L511.2 47.5L503.9 55.8L501.0 55.8z"/>
<path fill="#2994ed" d="M504.0 47.5L508.7 47.5L501.4 55.8L496.8 55.8z"/>
<path fill="#0fb2d5" d="M501.1 47.5L504.4 47.5L497.2 55.8L494.0 55.8z"/>
<path fill="#2b91ef" d="M498.2 47.5L501.5 47.5L494.4 55.8L491.1 55.8z"/>
<path fill="#0bb3d2" d="M496.5 47.5L498.6 47.5L491.5 55.8L489.5 55.8z"/>
<path fill="#269ae9" d="M494.1 47.5L496.9 47.5L489.9 55.8L487.1 55.8z"/>
<path fill="#11b1d6" d="M491.2 47.5L494.5 47.5L487.5 55.8L484.3 55.8z"/>
<path fill="#2d8df2" d="M489.3 47.5L491.6 47.5L484.7 55.8L482.5 55.8z"/>
<path fill="#18addb" d="M485.9 47.5L489.7 47.5L482.9 55.8L479.2 55.8z"/>
<path fill="#23a0e5" d="M483.7 47.5L486.3 47.5L479.6 55.8L477.1 55.8z"/>
<path fill="#02bac4" d="M480.3 47.5L484.1 47.5L477.5 55.8L473.8 55.8z"/>
<path fill="#1caadf" d="M478.0 47.5L480.7 47.5L474.2 55.8L471.5 55.8z"/>
<path fill="#3fca8e" d="M474.5 47.5L478.4 47.5L471.9 55.8L468.1 55.8z"/>
<path fill="#2798ea" d="M470.9 47.5L474.9 47.5L468.5 55.8L464.6 55.8z"/>
<path fill="#08bcbf" d="M468.5 47.5L471.3 47.5L465.0 55.8L462.3 55.8z"/>
<path fill="#22a2e4" d="M465.5 47.5L468.9 47.5L462.7 55.8L459.4 55.8z"/>
<path fill="#3eca8f" d="M462.8 47.5L465.9 47.5L459.8 55.8L456.7 55.8z"/>
<path fill="#249fe6" d="M459.6 47.5L463.2 47.5L457.1 55.8L453.6 55.8z"/>
<path fill="#02bac3" d="M457.6 47.5L460.0 47.5L454.0 55.8L451.7 55.8z"/>
<path fill="#22a2e4" d="M455.6 47.5L458.0 47.5L452.1 55.8L449.7 55.8z"/>
<path fill="#53cc7d" d="M453.2 47.5L456.0 47.5L450.1 55.8L447.3 55.8z"/>
<path fill="#2994ed" d="M448.9 47.5L453.6 47.5L447.7 55.8L443.2 55.8z"/>
<path fill="#11beba" d="M446.2 47.5L449.3 47.5L443.6 55.8L440.5 55.8z"/>
<path fill="#16afda" d="M444.6 47.5L446.6 47.5L440.9 55.8L439.0 55.8z"/>
<path fill="#16bfb7" d="M441.4 47.5L445.0 47.5L439.4 55.8L435.9 55.8z"/>
<path fill="#01b9c6" d="M437.8 47.5L441.8 47.5L436.3 55.8L432.3 55.8z"/>
<path fill="#50cc80" d="M434.4 47.5L438.2 47.5L432.7 55.8L429.1 55.8z"/>
<path fill="#19acdc" d="M432.4 47.5L434.8 47.5L429.5 55.8L427.1 55.8z"/>
<path fill="#2cc4a6" d="M429.4 47.5L432.8 47.5L427.5 55.8L424.2 55.8z"/>
<path fill="#1cc0b4" d="M427.9 47.5L429.8 47.5L424.6 55.8L422.7 55.8z"/>
<path fill="#29c3aa" d="M425.1 47.5L428.3 47.5L423.1 55.8L420.0 55.8z"/>
<path fill="#05bbc1" d="M422.9 47.5L425.5 47.5L420.4 55.8L417.9 55.8z"/>
<path fill="#4fcc80" d="M421.2 47.5L423.3 47.5L418.3 55.8L416.2 55.8z"/>
<path fill="#1bc0b4" d="M417.1 47.5L421.6 47.5L416.6 55.8L412.2 55.8z"/>
<path fill="#c8c129" d="M415.6 47.5L417.5 47.5L412.6 55.8L410.8 55.8z"/>
<path fill="#41ca8c" d="M412.6 47.5L416.0 47.5L411.2 55.8L407.8 55.8z"/>
<path fill="#76cc61" d="M409.4 47.5L413.0 47.5L408.2 55.8L404.7 55.8z"/>
<path fill="#06b6ce" d="M407.2 47.5L409.8 47.5L405.1 55.8L402.6 55.8z"/>
<path fill="#43ca8a" d="M405.5 47.5L407.6 47.5L403.0 55.8L401.0 55.8z"/>
<path fill="#1ec0b2" d="M401.4 47.5L405.9 47.5L401.4 55.8L396.9 55.8z"/>
<path fill="#c5c22a" d="M399.2 47.5L401.8 47.5L397.3 55.8L394.8 55.8z"/>
<path fill="#35c79b" d="M395.6 47.5L399.6 47.5L395.2 55.8L391.3 55.8z"/>
<path fill="#68cd6c" d="M394.3 47.5L396.0 47.5L391.7 55.8L390.0 55.8z"/>
<path fill="#39c994" d="M391.8 47.5L394.7 47.5L390.4 55.8L387.6 55.8z"/>
<path fill="#b0c636" d="M390.2 47.5L392.2 47.5L388.0 55.8L386.0 55.8z"/>
<path fill="#0abdbd" d="M386.7 47.5L390.6 47.5L386.4 55.8L382.6 55.8z"/>
<path fill="#cbc029" d="M385.3 47.5L387.1 47.5L383.0 55.8L381.3 55.8z"/>
<path fill="#5ecd74" d="M380.9 47.5L385.7 47.5L381.7 55.8L377.0 55.8z"/>
<path fill="#bcc42f" d="M379.7 47.5L381.3 47.5L377.4 55.8L375.8 55.8z"/>
<path fill="#64cd6f" d="M376.0 47.5L380.1 47.5L376.2 55.8L372.2 55.8z"/>
<path fill="#cec028" d="M374.8 47.5L376.4 47.5L372.6 55.8L371.0 55.8z"/>
<path fill="#36c898" d="M372.6 47.5L375.2 47.5L371.4 55.8L368.9 55.8z"/>
<path fill="#c2c22c" d="M369.5 47.5L373.0 47.5L369.3 55.8L365.8 55.8z"/>
<path fill="#40ca8d" d="M367.6 47.5L369.9 47.5L366.2 55.8L364.0 55.8z"/>
<path fill="#b6c533" d="M366.0 47.5L368.0 47.5L364.4 55.8L362.5 55.8z"/>
<path fill="#76cc60" d="M362.4 47.5L366.4 47.5L362.9 55.8L359.0 55.8z"/>
<path fill="#a5c83d" d="M360.3 47.5L362.8 47.5L359.4 55.8L356.9 55.8z"/>
<path fill="#62cd70" d="M358.8 47.5L360.7 47.5L357.3 55.8L355.5 55.8z"/>
<path fill="#d4bf27" d="M355.2 47.5L359.2 47.5L355.9 55.8L352.0 55.8z"/>
<path fill="#6fcd66" d="M353.4 47.5L355.6 47.5L352.4 55.8L350.2 55.8z"/>
<path fill="#fec13a" d="M352.1 47.5L353.8 47.5L350.6 55.8L349.0 55.8z"/>
<path fill="#adc638" d="M349.7 47.5L352.5 47.5L349.4 55.8L346.6 55.8z"/>
<path fill="#fcbc3d" d="M347.0 47.5L350.1 47.5L347.0 55.8L344.0 55.8z"/>
<path fill="#c5c22a" d="M343.3 47.5L347.4 47.5L344.4 55.8L340.4 55.8z"/>
<path fill="#fec339" d="M341.8 47.5L343.7 47.5L340.8 55.8L339.0 55.8z"/>
<path fill="#ecba32" d="M339.4 47.5L342.2 47.5L339.4 55.8L336.6 55.8z"/>
<path fill="#fec537" d="M338.1 47.5L339.8 47.5L337.0 55.8L335.4 55.8z"/>
<path fill="#f0ba36" d="M335.4 47.5L338.5 47.5L335.8 55.8L332.7 55.8z"/>
<path fill="#fec437" d="M332.3 47.5L335.8 47.5L333.1 55.8L329.7 55.8z"/>
<path fill="#d0bf27" d="M328.7 47.5L332.7 47.5L330.1 55.8L326.1 55.8z"/>
<path fill="#fec03b" d="M325.3 47.5L329.1 47.5L326.5 55.8L322.8 55.8z"/>
<path fill="#f9ba3d" d="M321.5 47.5L325.7 47.5L323.2 55.8L319.2 55.8z"/>
<path fill="#f7db2b" d="M318.3 47.5L321.9 47.5L319.6 55.8L316.0 55.8z"/>
<path fill="#e9bb2f" d="M314.7 47.5L318.7 47.5L316.4 55.8L312.5 55.8z"/>
<path fill="#3975fe" d="M509.5 55.5L513.9 55.5L506.2 63.8L501.9 63.8z"/>
<path fill="#269ae9" d="M506.2 55.5L509.9 55.5L502.3 63.8L498.7 63.8z"/>
<path fill="#3777fe" d="M503.5 55.5L506.6 55.5L499.1 63.8L496.1 63.8z"/>
<path fill="#2d8cf3" d="M501.0 55.5L503.9 55.5L496.5 63.8L493.6 63.8z"/>
<path fill="#2995ec" d="M496.8 55.5L501.4 55.5L494.0 63.8L489.6 63.8z"/>
<path fill="#0bb3d2" d="M494.0 55.5L497.2 55.5L490.0 63.8L486.8 63.8z"/>
<path fill="#2a93ed" d="M491.1 55.5L494.4 55.5L487.2 63.8L484.1 63.8z"/>
<path fill="#08b5d0" d="M489.5 55.5L491.5 55.5L484.5 63.8L482.5 63.8z"/>
<path fill="#259ce7" d="M487.1 55.5L489.9 55.5L482.9 63.8L480.2 63.8z"/>
<path fill="#0db3d3" d="M484.3 55.5L487.5 55.5L480.6 63.8L477.5 63.8z"/>
<path fill="#2895ec" d="M482.5 55.5L484.7 55.5L477.9 63.8L475.7 63.8z"/>
<path fill="#16afd9" d="M479.2 55.5L482.9 55.5L476.1 63.8L472.5 63.8z"/>
<path fill="#22a2e4" d="M477.1 55.5L479.6 55.5L472.9 63.8L470.4 63.8z"/>
<path fill="#06bcc0" d="M473.8 55.5L477.5 55.5L470.8 63.8L467.2 63.8z"/>
<path fill="#19acdc" d="M471.5 55.5L474.2 55.5L467.6 63.8L465.0 63.8z"/>
<path fill="#49cb86" d="M468.1 55.5L471.9 55.5L465.4 63.8L461.7 63.8z"/>
<path fill="#259be8" d="M464.6 55.5L468.5 55.5L462.1 63.8L458.3 63.8z"/>
<path fill="#0abdbd" d="M462.3 55.5L465.0 55.5L458.7 63.8L456.0 63.8z"/>
<path fill="#20a5e2" d="M459.4 55.5L462.7 55.5L456.4 63.8L453.2 63.8z"/>
<path fill="#44cb89" d="M456.7 55.5L459.8 55.5L453.6 63.8L450.6 63.8z"/>
<path fill="#22a2e4" d="M453.6 55.5L457.1 55.5L451.0 63.8L447.5 63.8z"/>
<path fill="#09bcbe" d="M451.7 55.5L454.0 55.5L447.9 63.8L445.7 63.8z"/>
<path fill="#1fa6e2" d="M449.7 55.5L452.1 55.5L446.1 63.8L443.8 63.8z"/>
<path fill="#5ccc75" d="M447.3 55.5L450.1 55.5L444.2 63.8L441.5 63.8z"/>
<path fill="#2797ea" d="M443.2 55.5L447.7 55.5L441.9 63.8L437.4 63.8z"/>
<path fill="#1ac0b4" d="M440.5 55.5L443.6 55.5L437.8 63.8L434.9 63.8z"/>
<path fill="#11b1d6" d="M439.0 55.5L440.9 55.5L435.3 63.8L433.4 63.8z"/>
<path fill="#1ec0b2" d="M435.9 55.5L439.4 55.5L433.8 63.8L430.4 63.8z"/>
<path fill="#05bbc1" d="M432.3 55.5L436.3 55.5L430.8 63.8L426.9 63.8z"/>
<path fill="#5bcc77" d="M429.1 55.5L432.7 55.5L427.3 63.8L423.7 63.8z"/>
<path fill="#14b0d8" d="M427.1 55.5L429.5 55.5L424.1 63.8L421.9 63.8z"/>
<path fill="#31c6a0" d="M424.2 55.5L427.5 55.5L422.3 63.8L419.0 63.8z"/>
<path fill="#25c2ad" d="M422.7 55.5L424.6 55.5L419.4 63.8L417.6 63.8z"/>
<path fill="#2ec5a4" d="M420.0 55.5L423.1 55.5L418.0 63.8L414.9 63.8z"/>
<path fill="#0ebebb" d="M417.9 55.5L420.4 55.5L415.3 63.8L412.9 63.8z"/>
<path fill="#6ecd67" d="M416.2 55.5L418.3 55.5L413.3 63.8L411.2 63.8z"/>
<path fill="#24c1ae" d="M412.2 55.5L416.6 55.5L411.6 63.8L407.3 63.8z"/>
<path fill="#cdc028" d="M410.8 55.5L412.6 55.5L407.7 63.8L405.9 63.8z"/>
<path fill="#46cb88" d="M407.8 55.5L411.2 55.5L406.3 63.8L403.1 63.8z"/>
<path fill="#7dcc5b" d="M404.7 55.5L408.2 55.5L403.5 63.8L400.0 63.8z"/>
<path fill="#02b7cb" d="M402.6 55.5L405.1 55.5L400.4 63.8L398.0 63.8z"/>
<path fill="#7bcc5d" d="M401.0 55.5L403.0 55.5L398.4 63.8L396.4 63.8z"/>
<path fill="#2bc3a8" d="M396.9 55.5L401.4 55.5L396.8 63.8L392.5 63.8z"/>
<path fill="#cbc129" d="M394.8 55.5L397.3 55.5L392.9 63.8L390.4 63.8z"/>
<path fill="#37c897" d="M391.3 55.5L395.2 55.5L390.8 63.8L386.9 63.8z"/>
<path fill="#6ecd67" d="M390.0 55.5L391.7 55.5L387.3 63.8L385.7 63.8z"/>
<path fill="#3dc990" d="M387.6 55.5L390.4 55.5L386.1 63.8L383.4 63.8z"/>
<path fill="#b6c533" d="M386.0 55.5L388.0 55.5L383.8 63.8L381.8 63.8z"/>
<path fill="#12beb9" d="M382.6 55.5L386.4 55.5L382.2 63.8L378.6 63.8z"/>
<path fill="#cfc028" d="M381.3 55.5L383.0 55.5L379.0 63.8L377.2 63.8z"/>
<path fill="#68cd6c" d="M377.0 55.5L381.7 55.5L377.6 63.8L373.1 63.8z"/>
<path fill="#c1c32c" d="M375.8 55.5L377.4 55.5L373.5 63.8L371.9 63.8z"/>
<path fill="#6ccd68" d="M372.2 55.5L376.2 55.5L372.3 63.8L368.5 63.8z"/>
<path fill="#eaba31" d="M371.0 55.5L372.6 55.5L368.9 63.8L367.3 63.8z"/>
<path fill="#3bc992" d="M368.9 55.5L371.4 55.5L367.7 63.8L365.2 63.8z"/>
<path fill="#c8c129" d="M365.8 55.5L369.3 55.5L365.6 63.8L362.2 63.8z"/>
<path fill="#52cc7e" d="M364.0 55.5L366.2 55.5L362.6 63.8L360.5 63.8z"/>
<path fill="#c5c22a" d="M362.5 55.5L364.4 55.5L360.9 63.8L358.9 63.8z"/>
<path fill="#88cb53" d="M359.0 55.5L362.9 55.5L359.3 63.8L355.6 63.8z"/>
<path fill="#afc637" d="M356.9 55.5L359.4 55.5L356.0 63.8L353.6 63.8z"/>
<path fill="#6bcd69" d="M355.5 55.5L357.3 55.5L354.0 63.8L352.2 63.8z"/>
<path fill="#dbbd29" d="M352.0 55.5L355.9 55.5L352.6 63.8L348.8 63.8z"/>
<path fill="#8acb52" d="M350.2 55.5L352.4 55.5L349.2 63.8L347.0 63.8z"/>
<path fill="#fdcc32" d="M349.0 55.5L350.6 55.5L347.4 63.8L345.8 63.8z"/>
<path fill="#c5c22a" d="M346.6 55.5L349.4 55.5L346.2 63.8L343.5 63.8z"/>
<path fill="#fec736" d="M344.0 55.5L347.0 55.5L343.9 63.8L341.0 63.8z"/>
<path fill="#dabd28" d="M340.4 55.5L344.4 55.5L341.4 63.8L337.5 63.8z"/>
<path fill="#fec636" d="M339.0 55.5L340.8 55.5L337.9 63.8L336.1 63.8z"/>
<path fill="#f4ba39" d="M336.6 55.5L339.4 55.5L336.5 63.8L333.8 63.8z"/>
<path fill="#fec537" d="M335.4 55.5L337.0 55.5L334.2 63.8L332.6 63.8z"/>
<path fill="#febd3c" d="M332.7 55.5L335.8 55.5L333.0 63.8L330.0 63.8z"/>
<path fill="#fec735" d="M329.7 55.5L333.1 55.5L330.4 63.8L327.1 63.8z"/>
<path fill="#dabd28" d="M326.1 55.5L330.1 55.5L327.5 63.8L323.6 63.8z"/>
<path fill="#fec537" d="M322.8 55.5L326.5 55.5L324.0 63.8L320.4 63.8z"/>
<path fill="#fcbc3d" d="M319.2 55.5L323.2 55.5L320.8 63.8L316.9 63.8z"/>
<path fill="#f7db2a" d="M316.0 55.5L319.6 55.5L317.3 63.8L313.8 63.8z"/>
<path fill="#307ffb" d="M507.8 63.5L511.9 63.5L506.1 69.8L502.0 69.8z"/>
<path fill="#259be8" d="M505.8 63.5L508.2 63.5L502.4 69.8L500.1 69.8z"/>
<path fill="#3f6efe" d="M501.9 63.5L506.2 63.5L500.5 69.8L496.3 69.8z"/>
<path fill="#2896eb" d="M498.7 63.5L502.3 63.5L496.7 69.8L493.1 69.8z"/>
<path fill="#3a74fe" d="M496.1 63.5L499.1 63.5L493.5 69.8L490.5 69.8z"/>
<path fill="#2d8af5" d="M493.6 63.5L496.5 63.5L490.9 69.8L488.2 69.8z"/>
<path fill="#2a93ee" d="M489.6 63.5L494.0 63.5L488.6 69.8L484.2 69.8z"/>
<path fill="#0fb2d5" d="M486.8 63.5L490.0 63.5L484.6 69.8L481.5 69.8z"/>
<path fill="#2b91ef" d="M484.1 63.5L487.2 63.5L481.9 69.8L478.8 69.8z"/>
<path fill="#0cb3d3" d="M482.5 63.5L484.5 63.5L479.2 69.8L477.2 69.8z"/>
<path fill="#2699e9" d="M480.2 63.5L482.9 63.5L477.6 69.8L475.0 69.8z"/>
<path fill="#0bb3d2" d="M477.5 63.5L480.6 63.5L475.4 69.8L472.3 69.8z"/>
<path fill="#2994ed" d="M475.7 63.5L477.9 63.5L472.7 69.8L470.6 69.8z"/>
<path fill="#17aedb" d="M472.5 63.5L476.1 63.5L471.0 69.8L467.5 69.8z"/>
<path fill="#23a1e4" d="M470.4 63.5L472.9 63.5L467.9 69.8L465.4 69.8z"/>
<path fill="#03bbc2" d="M467.2 63.5L470.8 63.5L465.8 69.8L462.3 69.8z"/>
<path fill="#1aabdd" d="M465.0 63.5L467.6 63.5L462.7 69.8L460.1 69.8z"/>
<path fill="#46cb88" d="M461.7 63.5L465.4 63.5L460.5 69.8L456.9 69.8z"/>
<path fill="#269ae9" d="M458.3 63.5L462.1 63.5L457.3 69.8L453.6 69.8z"/>
<path fill="#08bcbf" d="M456.0 63.5L458.7 63.5L454.0 69.8L451.3 69.8z"/>
<path fill="#20a4e3" d="M453.2 63.5L456.4 63.5L451.7 69.8L448.6 69.8z"/>
<path fill="#43ca8a" d="M450.6 63.5L453.6 63.5L449.0 69.8L446.0 69.8z"/>
<path fill="#22a1e4" d="M447.5 63.5L451.0 63.5L446.4 69.8L443.0 69.8z"/>
<path fill="#08bcbf" d="M445.7 63.5L447.9 63.5L443.4 69.8L441.2 69.8z"/>
<path fill="#20a5e2" d="M443.8 63.5L446.1 63.5L441.6 69.8L439.4 69.8z"/>
<path fill="#5bcc77" d="M441.5 63.5L444.2 63.5L439.8 69.8L437.1 69.8z"/>
<path fill="#1fa5e2" d="M437.4 63.5L441.9 63.5L437.5 69.8L433.1 69.8z"/>
<path fill="#02bac4" d="M434.9 63.5L437.8 63.5L433.5 69.8L430.6 69.8z"/>
<path fill="#12b1d6" d="M433.4 63.5L435.3 63.5L431.0 69.8L429.2 69.8z"/>
<path fill="#1ec0b2" d="M430.4 63.5L433.8 63.5L429.6 69.8L426.2 69.8z"/>
<path fill="#05bbc1" d="M426.9 63.5L430.8 63.5L426.6 69.8L422.8 69.8z"/>
<path fill="#5bcc77" d="M423.7 63.5L427.3 63.5L423.2 69.8L419.7 69.8z"/>
<path fill="#14b0d8" d="M421.9 63.5L424.1 63.5L420.1 69.8L417.9 69.8z"/>
<path fill="#31c6a0" d="M419.0 63.5L422.3 63.5L418.3 69.8L415.1 69.8z"/>
<path fill="#25c2ae" d="M417.6 63.5L419.4 63.5L415.5 69.8L413.7 69.8z"/>
<path fill="#2ec5a4" d="M414.9 63.5L418.0 63.5L414.1 69.8L411.1 69.8z"/>
<path fill="#0ebdbb" d="M412.9 63.5L415.3 63.5L411.5 69.8L409.1 69.8z"/>
<path fill="#6ccd69" d="M411.2 63.5L413.3 63.5L409.5 69.8L407.5 69.8z"/>
<path fill="#20c1b1" d="M407.3 63.5L411.6 63.5L407.9 69.8L403.6 69.8z"/>
<path fill="#c7c12a" d="M405.9 63.5L407.7 63.5L404.0 69.8L402.3 69.8z"/>
<path fill="#36c898" d="M403.1 63.5L406.3 63.5L402.7 69.8L399.5 69.8z"/>
<path fill="#75cc61" d="M400.0 63.5L403.5 63.5L399.9 69.8L396.5 69.8z"/>
<path fill="#07b5cf" d="M398.0 63.5L400.4 63.5L396.9 69.8L394.5 69.8z"/>
<path fill="#71cd64" d="M396.4 63.5L398.4 63.5L394.9 69.8L392.9 69.8z"/>
<path fill="#25c2ad" d="M392.5 63.5L396.8 63.5L393.3 69.8L389.1 69.8z"/>
<path fill="#c0c32d" d="M390.4 63.5L392.9 63.5L389.5 69.8L387.1 69.8z"/>
<path fill="#32c69f" d="M386.9 63.5L390.8 63.5L387.5 69.8L383.7 69.8z"/>
<path fill="#60cd72" d="M385.7 63.5L387.3 63.5L384.1 69.8L382.5 69.8z"/>
<path fill="#35c79a" d="M383.4 63.5L386.1 63.5L382.9 69.8L380.2 69.8z"/>
<path fill="#9cc944" d="M381.8 63.5L383.8 63.5L380.6 69.8L378.7 69.8z"/>
<path fill="#07bcc0" d="M378.6 63.5L382.2 63.5L379.1 69.8L375.5 69.8z"/>
<path fill="#bfc32e" d="M377.2 63.5L379.0 63.5L375.9 69.8L374.2 69.8z"/>
<path fill="#59cc78" d="M373.1 63.5L377.6 63.5L374.6 69.8L370.2 69.8z"/>
<path fill="#afc637" d="M371.9 63.5L373.5 63.5L370.6 69.8L369.0 69.8z"/>
<path fill="#5acc77" d="M368.5 63.5L372.3 63.5L369.4 69.8L365.6 69.8z"/>
<path fill="#dabd28" d="M367.3 63.5L368.9 63.5L366.0 69.8L364.4 69.8z"/>
<path fill="#2dc4a6" d="M365.2 63.5L367.7 63.5L364.8 69.8L362.4 69.8z"/>
<path fill="#b4c534" d="M362.2 63.5L365.6 63.5L362.8 69.8L359.5 69.8z"/>
<path fill="#48cb86" d="M360.5 63.5L362.6 63.5L359.9 69.8L357.8 69.8z"/>
<path fill="#b1c635" d="M358.9 63.5L360.9 63.5L358.2 69.8L356.3 69.8z"/>
<path fill="#76cc61" d="M355.6 63.5L359.3 63.5L356.7 69.8L353.0 69.8z"/>
<path fill="#99c946" d="M353.6 63.5L356.0 63.5L353.4 69.8L351.0 69.8z"/>
<path fill="#63cd70" d="M352.2 63.5L354.0 63.5L351.4 69.8L349.7 69.8z"/>
<path fill="#cec028" d="M348.8 63.5L352.6 63.5L350.1 69.8L346.3 69.8z"/>
<path fill="#7ecc5b" d="M347.0 63.5L349.2 63.5L346.7 69.8L344.7 69.8z"/>
<path fill="#fec636" d="M345.8 63.5L347.4 63.5L345.1 69.8L343.5 69.8z"/>
<path fill="#b9c431" d="M343.5 63.5L346.2 63.5L343.9 69.8L341.2 69.8z"/>
<path fill="#fabb3d" d="M341.0 63.5L343.9 63.5L341.6 69.8L338.7 69.8z"/>
<path fill="#c4c22b" d="M337.5 63.5L341.4 63.5L339.1 69.8L335.3 69.8z"/>
<path fill="#f8ba3d" d="M336.1 63.5L337.9 63.5L335.7 69.8L333.9 69.8z"/>
<path fill="#e0bc2a" d="M333.8 63.5L336.5 63.5L334.3 69.8L331.7 69.8z"/>
<path fill="#f5ba3a" d="M332.6 63.5L334.2 63.5L332.1 69.8L330.5 69.8z"/>
<path fill="#edba33" d="M330.0 63.5L333.0 63.5L330.9 69.8L327.9 69.8z"/>
<path fill="#f8ba3d" d="M327.1 63.5L330.4 63.5L328.3 69.8L325.1 69.8z"/>
<path fill="#bec32e" d="M323.6 63.5L327.5 63.5L325.5 69.8L321.7 69.8z"/>
<path fill="#f4ba3a" d="M320.4 63.5L324.0 63.5L322.1 69.8L318.6 69.8z"/>
<path fill="#e5bb2d" d="M316.9 63.5L320.8 63.5L319.0 69.8L315.1 69.8z"/>
<path fill="#2c8ff0" d="M507.9 69.5L512.3 69.5L506.3 75.8L502.0 75.8z"/>
<path fill="#06bcc0" d="M505.7 69.5L508.3 69.5L502.4 75.8L499.8 75.8z"/>
<path fill="#327cfc" d="M502.0 69.5L506.1 69.5L500.2 75.8L496.2 75.8z"/>
<path fill="#2c8ef1" d="M500.1 69.5L502.4 69.5L496.6 75.8L494.4 75.8z"/>
<path fill="#3f6eff" d="M496.3 69.5L500.5 69.5L494.8 75.8L490.6 75.8z"/>
<path fill="#2797eb" d="M493.1 69.5L496.7 69.5L491.0 75.8L487.6 75.8z"/>
<path fill="#3a74fe" d="M490.5 69.5L493.5 69.5L488.0 75.8L485.0 75.8z"/>
<path fill="#259ce7" d="M488.2 69.5L490.9 69.5L485.4 75.8L482.7 75.8z"/>
<path fill="#2a93ee" d="M484.2 69.5L488.6 69.5L483.1 75.8L478.8 75.8z"/>
<path fill="#0fb2d4" d="M481.5 69.5L484.6 69.5L479.2 75.8L476.2 75.8z"/>
<path fill="#2b92ee" d="M478.8 69.5L481.9 69.5L476.6 75.8L473.5 75.8z"/>
<path fill="#0ab4d2" d="M477.2 69.5L479.2 69.5L473.9 75.8L472.0 75.8z"/>
<path fill="#269ae8" d="M475.0 69.5L477.6 69.5L472.4 75.8L469.8 75.8z"/>
<path fill="#09b4d1" d="M472.3 69.5L475.4 69.5L470.2 75.8L467.2 75.8z"/>
<path fill="#2995ec" d="M470.6 69.5L472.7 69.5L467.6 75.8L465.5 75.8z"/>
<path fill="#16afd9" d="M467.5 69.5L471.0 69.5L465.9 75.8L462.4 75.8z"/>
<path fill="#22a2e4" d="M465.4 69.5L467.9 69.5L462.8 75.8L460.4 75.8z"/>
<path fill="#05bbc1" d="M462.3 69.5L465.8 69.5L460.8 75.8L457.4 75.8z"/>
<path fill="#19acdc" d="M460.1 69.5L462.7 69.5L457.8 75.8L455.3 75.8z"/>
<path fill="#48cb86" d="M456.9 69.5L460.5 69.5L455.7 75.8L452.1 75.8z"/>
<path fill="#249ee6" d="M453.6 69.5L457.3 69.5L452.5 75.8L448.8 75.8z"/>
<path fill="#0bbdbd" d="M451.3 69.5L454.0 69.5L449.2 75.8L446.6 75.8z"/>
<path fill="#1fa6e2" d="M448.6 69.5L451.7 69.5L447.0 75.8L443.9 75.8z"/>
<path fill="#47cb87" d="M446.0 69.5L449.0 69.5L444.3 75.8L441.4 75.8z"/>
<path fill="#21a3e3" d="M443.0 69.5L446.4 69.5L441.8 75.8L438.5 75.8z"/>
<path fill="#0bbdbd" d="M441.2 69.5L443.4 69.5L438.9 75.8L436.8 75.8z"/>
<path fill="#1ea6e1" d="M439.4 69.5L441.6 69.5L437.2 75.8L434.9 75.8z"/>
<path fill="#5fcd73" d="M437.1 69.5L439.8 69.5L435.3 75.8L432.7 75.8z"/>
<path fill="#1ea7e1" d="M433.1 69.5L437.5 69.5L433.1 75.8L428.8 75.8z"/>
<path fill="#05bbc1" d="M430.6 69.5L433.5 69.5L429.2 75.8L426.4 75.8z"/>
<path fill="#0eb2d4" d="M429.2 69.5L431.0 69.5L426.8 75.8L424.9 75.8z"/>
<path fill="#23c1af" d="M426.2 69.5L429.6 69.5L425.3 75.8L422.1 75.8z"/>
<path fill="#09bcbe" d="M422.8 69.5L426.6 69.5L422.5 75.8L418.8 75.8z"/>
<path fill="#69cd6b" d="M419.7 69.5L423.2 69.5L419.2 75.8L415.7 75.8z"/>
<path fill="#11b1d6" d="M417.9 69.5L420.1 69.5L416.1 75.8L413.9 75.8z"/>
<path fill="#2ec4a4" d="M415.1 69.5L418.3 69.5L414.3 75.8L411.2 75.8z"/>
<path fill="#28c3ab" d="M413.7 69.5L415.5 69.5L411.6 75.8L409.8 75.8z"/>
<path fill="#30c5a1" d="M411.1 69.5L414.1 69.5L410.2 75.8L407.3 75.8z"/>
<path fill="#10beba" d="M409.1 69.5L411.5 69.5L407.7 75.8L405.3 75.8z"/>
<path fill="#6dcd67" d="M407.5 69.5L409.5 69.5L405.7 75.8L403.7 75.8z"/>
<path fill="#21c1b0" d="M403.6 69.5L407.9 69.5L404.1 75.8L400.0 75.8z"/>
<path fill="#c5c22a" d="M402.3 69.5L404.0 69.5L400.4 75.8L398.7 75.8z"/>
<path fill="#36c899" d="M399.5 69.5L402.7 69.5L399.1 75.8L395.9 75.8z"/>
<path fill="#74cc62" d="M396.5 69.5L399.9 69.5L396.3 75.8L393.0 75.8z"/>
<path fill="#14b0d8" d="M394.5 69.5L396.9 69.5L393.4 75.8L391.1 75.8z"/>
<path fill="#70cd65" d="M392.9 69.5L394.9 69.5L391.5 75.8L389.5 75.8z"/>
<path fill="#24c1ae" d="M389.1 69.5L393.3 69.5L389.9 75.8L385.8 75.8z"/>
<path fill="#bdc32e" d="M387.1 69.5L389.5 69.5L386.2 75.8L383.8 75.8z"/>
<path fill="#2dc4a5" d="M383.7 69.5L387.5 69.5L384.2 75.8L380.5 75.8z"/>
<path fill="#5ccc76" d="M382.5 69.5L384.1 69.5L380.9 75.8L379.3 75.8z"/>
<path fill="#34c79b" d="M380.2 69.5L382.9 69.5L379.7 75.8L377.1 75.8z"/>
<path fill="#98c946" d="M378.7 69.5L380.6 69.5L377.5 75.8L375.6 75.8z"/>
<path fill="#06bcc0" d="M375.5 69.5L379.1 69.5L376.0 75.8L372.5 75.8z"/>
<path fill="#bac430" d="M374.2 69.5L375.9 69.5L372.9 75.8L371.2 75.8z"/>
<path fill="#58cc79" d="M370.2 69.5L374.6 69.5L371.6 75.8L367.2 75.8z"/>
<path fill="#aac73a" d="M369.0 69.5L370.6 69.5L367.6 75.8L366.1 75.8z"/>
<path fill="#5acc78" d="M365.6 69.5L369.4 69.5L366.5 75.8L362.8 75.8z"/>
<path fill="#d6be28" d="M364.4 69.5L366.0 69.5L363.2 75.8L361.6 75.8z"/>
<path fill="#2fc5a3" d="M362.4 69.5L364.8 69.5L362.0 75.8L359.7 75.8z"/>
<path fill="#afc636" d="M359.5 69.5L362.8 69.5L360.1 75.8L356.8 75.8z"/>
<path fill="#4dcc82" d="M357.8 69.5L359.9 69.5L357.2 75.8L355.1 75.8z"/>
<path fill="#aec637" d="M356.3 69.5L358.2 69.5L355.5 75.8L353.6 75.8z"/>
<path fill="#79cc5e" d="M353.0 69.5L356.7 69.5L354.0 75.8L350.4 75.8z"/>
<path fill="#9ac945" d="M351.0 69.5L353.4 69.5L350.8 75.8L348.5 75.8z"/>
<path fill="#6ecd66" d="M349.7 69.5L351.4 69.5L348.9 75.8L347.2 75.8z"/>
<path fill="#d5be28" d="M346.3 69.5L350.1 69.5L347.6 75.8L343.9 75.8z"/>
<path fill="#9ec942" d="M344.7 69.5L346.7 69.5L344.3 75.8L342.3 75.8z"/>
<path fill="#fec537" d="M343.5 69.5L345.1 69.5L342.7 75.8L341.1 75.8z"/>
<path fill="#c0c32d" d="M341.2 69.5L343.9 69.5L341.5 75.8L338.9 75.8z"/>
<path fill="#f6ba3b" d="M338.7 69.5L341.6 69.5L339.3 75.8L336.5 75.8z"/>
<path fill="#c0c32d" d="M335.3 69.5L339.1 69.5L336.9 75.8L333.1 75.8z"/>
<path fill="#f2ba38" d="M333.9 69.5L335.7 69.5L333.5 75.8L331.8 75.8z"/>
<path fill="#dcbd29" d="M331.7 69.5L334.3 69.5L332.2 75.8L329.6 75.8z"/>
<path fill="#efba35" d="M330.5 69.5L332.1 69.5L330.0 75.8L328.4 75.8z"/>
<path fill="#eabb30" d="M327.9 69.5L330.9 69.5L328.8 75.8L325.9 75.8z"/>
<path fill="#f1ba37" d="M325.1 69.5L328.3 69.5L326.3 75.8L323.2 75.8z"/>
<path fill="#c7c12a" d="M321.7 69.5L325.5 69.5L323.6 75.8L319.8 75.8z"/>
<path fill="#efba35" d="M318.6 69.5L322.1 69.5L320.2 75.8L316.8 75.8z"/>
<path fill="#aec637" d="M315.1 69.5L319.0 69.5L317.2 75.8L313.4 75.8z"/>
<path fill="#18aedb" d="M510.8 75.5L513.3 75.5L504.6 84.3L502.1 84.3z"/>
<path fill="#2c8ef1" d="M508.0 75.5L511.2 75.5L502.5 84.3L499.5 84.3z"/>
<path fill="#13b1d7" d="M505.9 75.5L508.4 75.5L499.9 84.3L497.4 84.3z"/>
<path fill="#2c90f0" d="M502.0 75.5L506.3 75.5L497.8 84.3L493.6 84.3z"/>
<path fill="#0bbdbd" d="M499.8 75.5L502.4 75.5L494.0 84.3L491.5 84.3z"/>
<path fill="#2f80fa" d="M496.2 75.5L500.2 75.5L491.9 84.3L488.0 84.3z"/>
<path fill="#2a92ee" d="M494.4 75.5L496.6 75.5L488.4 84.3L486.2 84.3z"/>
<path fill="#3a73fe" d="M490.6 75.5L494.8 75.5L486.6 84.3L482.6 84.3z"/>
<path fill="#1ea7e1" d="M487.6 75.5L491.0 75.5L483.0 84.3L479.6 84.3z"/>
<path fill="#3479fd" d="M485.0 75.5L488.0 75.5L480.0 84.3L477.2 84.3z"/>
<path fill="#23a0e5" d="M482.7 75.5L485.4 75.5L477.6 84.3L474.9 84.3z"/>
<path fill="#2797ea" d="M478.8 75.5L483.1 75.5L475.3 84.3L471.2 84.3z"/>
<path fill="#06b5ce" d="M476.2 75.5L479.2 75.5L471.6 84.3L468.6 84.3z"/>
<path fill="#2d8af5" d="M473.5 75.5L476.6 75.5L469.0 84.3L466.1 84.3z"/>
<path fill="#17aeda" d="M472.0 75.5L473.9 75.5L466.5 84.3L464.5 84.3z"/>
<path fill="#249fe5" d="M469.8 75.5L472.4 75.5L464.9 84.3L462.4 84.3z"/>
<path fill="#02b7cb" d="M467.2 75.5L470.2 75.5L462.8 84.3L459.9 84.3z"/>
<path fill="#269ae9" d="M465.5 75.5L467.6 75.5L460.3 84.3L458.3 84.3z"/>
<path fill="#0eb2d4" d="M462.4 75.5L465.9 75.5L458.7 84.3L455.3 84.3z"/>
<path fill="#1aabdd" d="M460.4 75.5L462.8 75.5L455.7 84.3L453.4 84.3z"/>
<path fill="#17bfb7" d="M457.4 75.5L460.8 75.5L453.8 84.3L450.4 84.3z"/>
<path fill="#13b0d7" d="M455.3 75.5L457.8 75.5L450.8 84.3L448.3 84.3z"/>
<path fill="#57cc7a" d="M452.1 75.5L455.7 75.5L448.7 84.3L445.3 84.3z"/>
<path fill="#20a4e3" d="M448.8 75.5L452.5 75.5L445.7 84.3L442.1 84.3z"/>
<path fill="#1ac0b4" d="M446.6 75.5L449.2 75.5L442.5 84.3L440.0 84.3z"/>
<path fill="#1babde" d="M443.9 75.5L447.0 75.5L440.4 84.3L437.4 84.3z"/>
<path fill="#55cc7c" d="M441.4 75.5L444.3 75.5L437.8 84.3L434.9 84.3z"/>
<path fill="#1da8e0" d="M438.5 75.5L441.8 75.5L435.3 84.3L432.1 84.3z"/>
<path fill="#1abfb5" d="M436.8 75.5L438.9 75.5L432.5 84.3L430.4 84.3z"/>
<path fill="#1aacdd" d="M434.9 75.5L437.2 75.5L430.8 84.3L428.7 84.3z"/>
<path fill="#6ecd67" d="M432.7 75.5L435.3 75.5L429.1 84.3L426.5 84.3z"/>
<path fill="#23a1e5" d="M428.8 75.5L433.1 75.5L426.9 84.3L422.7 84.3z"/>
<path fill="#13beb8" d="M426.4 75.5L429.2 75.5L423.1 84.3L420.4 84.3z"/>
<path fill="#07b5d0" d="M424.9 75.5L426.8 75.5L420.8 84.3L419.0 84.3z"/>
<path fill="#2dc4a6" d="M422.1 75.5L425.3 75.5L419.4 84.3L416.2 84.3z"/>
<path fill="#24c1ae" d="M418.8 75.5L422.5 75.5L416.6 84.3L413.0 84.3z"/>
<path fill="#7bcc5d" d="M415.7 75.5L419.2 75.5L413.4 84.3L410.0 84.3z"/>
<path fill="#06b6ce" d="M413.9 75.5L416.1 75.5L410.4 84.3L408.3 84.3z"/>
<path fill="#34c79b" d="M411.2 75.5L414.3 75.5L408.7 84.3L405.7 84.3z"/>
<path fill="#04bbc2" d="M409.8 75.5L411.6 75.5L406.1 84.3L404.3 84.3z"/>
<path fill="#35c79a" d="M407.3 75.5L410.2 75.5L404.7 84.3L401.9 84.3z"/>
<path fill="#1bc0b4" d="M405.3 75.5L407.7 75.5L402.3 84.3L399.9 84.3z"/>
<path fill="#79cc5e" d="M403.7 75.5L405.7 75.5L400.3 84.3L398.4 84.3z"/>
<path fill="#28c3aa" d="M400.0 75.5L404.1 75.5L398.8 84.3L394.8 84.3z"/>
<path fill="#cec028" d="M398.7 75.5L400.4 75.5L395.2 84.3L393.5 84.3z"/>
<path fill="#3dc990" d="M395.9 75.5L399.1 75.5L393.9 84.3L390.9 84.3z"/>
<path fill="#97ca48" d="M393.0 75.5L396.3 75.5L391.3 84.3L388.0 84.3z"/>
<path fill="#0cb3d3" d="M391.1 75.5L393.4 75.5L388.4 84.3L386.2 84.3z"/>
<path fill="#7ecc5a" d="M389.5 75.5L391.5 75.5L386.6 84.3L384.7 84.3z"/>
<path fill="#2cc4a7" d="M385.8 75.5L389.9 75.5L385.1 84.3L381.0 84.3z"/>
<path fill="#d8be28" d="M383.8 75.5L386.2 75.5L381.4 84.3L379.1 84.3z"/>
<path fill="#34c79c" d="M380.5 75.5L384.2 75.5L379.5 84.3L375.9 84.3z"/>
<path fill="#6ccd68" d="M379.3 75.5L380.9 75.5L376.3 84.3L374.8 84.3z"/>
<path fill="#3dc991" d="M377.1 75.5L379.7 75.5L375.2 84.3L372.6 84.3z"/>
<path fill="#a8c73b" d="M375.6 75.5L377.5 75.5L373.0 84.3L371.2 84.3z"/>
<path fill="#3cc992" d="M372.5 75.5L376.0 75.5L371.6 84.3L368.1 84.3z"/>
<path fill="#c4c22b" d="M371.2 75.5L372.9 75.5L368.5 84.3L366.9 84.3z"/>
<path fill="#6ccd68" d="M367.2 75.5L371.6 75.5L367.3 84.3L363.1 84.3z"/>
<path fill="#bfc32e" d="M366.1 75.5L367.6 75.5L363.5 84.3L362.0 84.3z"/>
<path fill="#6ccd68" d="M362.8 75.5L366.5 75.5L362.4 84.3L358.7 84.3z"/>
<path fill="#e4bb2c" d="M361.6 75.5L363.2 75.5L359.1 84.3L357.6 84.3z"/>
<path fill="#3eca8f" d="M359.7 75.5L362.0 75.5L358.0 84.3L355.7 84.3z"/>
<path fill="#c6c12a" d="M356.8 75.5L360.1 75.5L356.1 84.3L353.0 84.3z"/>
<path fill="#72cd63" d="M355.1 75.5L357.2 75.5L353.4 84.3L351.4 84.3z"/>
<path fill="#ccc028" d="M353.6 75.5L355.5 75.5L351.8 84.3L349.9 84.3z"/>
<path fill="#a4c83e" d="M350.4 75.5L354.0 75.5L350.3 84.3L346.8 84.3z"/>
<path fill="#cfc028" d="M348.5 75.5L350.8 75.5L347.2 84.3L344.9 84.3z"/>
<path fill="#9ac945" d="M347.2 75.5L348.9 75.5L345.3 84.3L343.6 84.3z"/>
<path fill="#eeba35" d="M343.9 75.5L347.6 75.5L344.0 84.3L340.5 84.3z"/>
<path fill="#c7c12a" d="M342.3 75.5L344.3 75.5L340.9 84.3L338.9 84.3z"/>
<path fill="#fccf30" d="M341.1 75.5L342.7 75.5L339.3 84.3L337.7 84.3z"/>
<path fill="#dbbd29" d="M338.9 75.5L341.5 75.5L338.1 84.3L335.6 84.3z"/>
<path fill="#fec03b" d="M336.5 75.5L339.3 75.5L336.0 84.3L333.2 84.3z"/>
<path fill="#dfbc2a" d="M333.1 75.5L336.9 75.5L333.6 84.3L330.0 84.3z"/>
<path fill="#fcbc3d" d="M331.8 75.5L333.5 75.5L330.4 84.3L328.7 84.3z"/>
<path fill="#f3ba38" d="M329.6 75.5L332.2 75.5L329.1 84.3L326.6 84.3z"/>
<path fill="#fdbd3d" d="M328.4 75.5L330.0 75.5L327.0 84.3L325.5 84.3z"/>
<path fill="#f2ba38" d="M325.9 75.5L328.8 75.5L325.9 84.3L323.0 84.3z"/>
<path fill="#fec835" d="M323.2 75.5L326.3 75.5L323.4 84.3L320.4 84.3z"/>
<path fill="#debd29" d="M319.8 75.5L323.6 75.5L320.8 84.3L317.1 84.3z"/>
<path fill="#fec338" d="M316.8 75.5L320.2 75.5L317.5 84.3L314.2 84.3z"/>
<path fill="#19acdc" d="M511.6 84.0L515.1 84.0L506.0 92.8L502.7 92.8z"/>
<path fill="#259de7" d="M510.0 84.0L512.0 84.0L503.1 92.8L501.1 92.8z"/>
<path fill="#1fa6e2" d="M507.3 84.0L510.4 84.0L501.5 92.8L498.5 92.8z"/>
<path fill="#2c8ef1" d="M504.2 84.0L507.7 84.0L498.9 92.8L495.4 92.8z"/>
<path fill="#17aeda" d="M502.1 84.0L504.6 84.0L495.8 92.8L493.5 92.8z"/>
<path fill="#2c90f0" d="M499.5 84.0L502.5 84.0L493.9 92.8L490.9 92.8z"/>
<path fill="#07b5cf" d="M497.4 84.0L499.9 84.0L491.3 92.8L488.9 92.8z"/>
<path fill="#2995ec" d="M493.6 84.0L497.8 84.0L489.3 92.8L485.3 92.8z"/>
<path fill="#17bfb6" d="M491.5 84.0L494.0 84.0L485.7 92.8L483.2 92.8z"/>
<path fill="#2e85f8" d="M488.0 84.0L491.9 84.0L483.6 92.8L479.8 92.8z"/>
<path fill="#2797eb" d="M486.2 84.0L488.4 84.0L480.2 92.8L478.1 92.8z"/>
<path fill="#3579fd" d="M482.6 84.0L486.6 84.0L478.5 92.8L474.6 92.8z"/>
<path fill="#1babde" d="M479.6 84.0L483.0 84.0L475.0 92.8L471.7 92.8z"/>
<path fill="#2f81fa" d="M477.2 84.0L480.0 84.0L472.1 92.8L469.3 92.8z"/>
<path fill="#20a4e3" d="M474.9 84.0L477.6 84.0L469.7 92.8L467.2 92.8z"/>
<path fill="#259de7" d="M471.2 84.0L475.3 84.0L467.6 92.8L463.5 92.8z"/>
<path fill="#01b9c7" d="M468.6 84.0L471.6 84.0L463.9 92.8L461.0 92.8z"/>
<path fill="#2c8ff0" d="M466.1 84.0L469.0 84.0L461.4 92.8L458.6 92.8z"/>
<path fill="#0eb2d4" d="M464.5 84.0L466.5 84.0L459.0 92.8L457.1 92.8z"/>
<path fill="#22a2e4" d="M462.4 84.0L464.9 84.0L457.5 92.8L455.1 92.8z"/>
<path fill="#01b8c9" d="M459.9 84.0L462.8 84.0L455.5 92.8L452.6 92.8z"/>
<path fill="#249fe5" d="M458.3 84.0L460.3 84.0L453.0 92.8L451.0 92.8z"/>
<path fill="#04b6cd" d="M455.3 84.0L458.7 84.0L451.4 92.8L448.2 92.8z"/>
<path fill="#13b0d7" d="M453.4 84.0L455.7 84.0L448.6 92.8L446.3 92.8z"/>
<path fill="#25c2ae" d="M450.4 84.0L453.8 84.0L446.7 92.8L443.4 92.8z"/>
<path fill="#0cb3d3" d="M448.3 84.0L450.8 84.0L443.8 92.8L441.4 92.8z"/>
<path fill="#5acc77" d="M445.3 84.0L448.7 84.0L441.8 92.8L438.5 92.8z"/>
<path fill="#1ea8e1" d="M442.1 84.0L445.7 84.0L438.9 92.8L435.4 92.8z"/>
<path fill="#27c2ab" d="M440.0 84.0L442.5 84.0L435.8 92.8L433.4 92.8z"/>
<path fill="#19addc" d="M437.4 84.0L440.4 84.0L433.8 92.8L430.8 92.8z"/>
<path fill="#63cd70" d="M434.9 84.0L437.8 84.0L431.2 92.8L428.5 92.8z"/>
<path fill="#1baade" d="M432.1 84.0L435.3 84.0L428.9 92.8L425.7 92.8z"/>
<path fill="#28c2ab" d="M430.4 84.0L432.5 84.0L426.1 92.8L424.1 92.8z"/>
<path fill="#12b1d6" d="M428.7 84.0L430.8 84.0L424.5 92.8L422.4 92.8z"/>
<path fill="#82cc58" d="M426.5 84.0L429.1 84.0L422.8 92.8L420.3 92.8z"/>
<path fill="#1ea7e1" d="M422.7 84.0L426.9 84.0L420.7 92.8L416.7 92.8z"/>
<path fill="#23c1af" d="M420.4 84.0L423.1 84.0L417.1 92.8L414.4 92.8z"/>
<path fill="#04b6cc" d="M419.0 84.0L420.8 84.0L414.8 92.8L413.0 92.8z"/>
<path fill="#34c79b" d="M416.2 84.0L419.4 84.0L413.4 92.8L410.3 92.8z"/>
<path fill="#2ec4a4" d="M413.0 84.0L416.6 84.0L410.7 92.8L407.2 92.8z"/>
<path fill="#8ccb50" d="M410.0 84.0L413.4 84.0L407.6 92.8L404.3 92.8z"/>
<path fill="#01b8c8" d="M408.3 84.0L410.4 84.0L404.7 92.8L402.7 92.8z"/>
<path fill="#3ac993" d="M405.7 84.0L408.7 84.0L403.1 92.8L400.1 92.8z"/>
<path fill="#0dbdbc" d="M404.3 84.0L406.1 84.0L400.5 92.8L398.8 92.8z"/>
<path fill="#3bc992" d="M401.9 84.0L404.7 84.0L399.2 92.8L396.5 92.8z"/>
<path fill="#25c2ae" d="M399.9 84.0L402.3 84.0L396.9 92.8L394.6 92.8z"/>
<path fill="#87cb54" d="M398.4 84.0L400.3 84.0L395.0 92.8L393.1 92.8z"/>
<path fill="#2fc5a3" d="M394.8 84.0L398.8 84.0L393.5 92.8L389.6 92.8z"/>
<path fill="#d2bf27" d="M393.5 84.0L395.2 84.0L390.0 92.8L388.4 92.8z"/>
<path fill="#47cb87" d="M390.9 84.0L393.9 84.0L388.8 92.8L385.8 92.8z"/>
<path fill="#a5c83d" d="M388.0 84.0L391.3 84.0L386.2 92.8L383.1 92.8z"/>
<path fill="#06b5cf" d="M386.2 84.0L388.4 84.0L383.5 92.8L381.3 92.8z"/>
<path fill="#8ecb4f" d="M384.7 84.0L386.6 84.0L381.7 92.8L379.8 92.8z"/>
<path fill="#32c69e" d="M381.0 84.0L385.1 84.0L380.2 92.8L376.3 92.8z"/>
<path fill="#e2bc2b" d="M379.1 84.0L381.4 84.0L376.7 92.8L374.4 92.8z"/>
<path fill="#3dc990" d="M375.9 84.0L379.5 84.0L374.8 92.8L371.3 92.8z"/>
<path fill="#7ecc5b" d="M374.8 84.0L376.3 84.0L371.7 92.8L370.2 92.8z"/>
<path fill="#4acb85" d="M372.6 84.0L375.2 84.0L370.6 92.8L368.1 92.8z"/>
<path fill="#b7c532" d="M371.2 84.0L373.0 84.0L368.5 92.8L366.8 92.8z"/>
<path fill="#4bcb83" d="M368.1 84.0L371.6 84.0L367.2 92.8L363.8 92.8z"/>
<path fill="#d2bf27" d="M366.9 84.0L368.5 84.0L364.2 92.8L362.6 92.8z"/>
<path fill="#8ccb50" d="M363.1 84.0L367.3 84.0L363.0 92.8L358.9 92.8z"/>
<path fill="#d3bf27" d="M362.0 84.0L363.5 84.0L359.3 92.8L357.8 92.8z"/>
<path fill="#8ccb50" d="M358.7 84.0L362.4 84.0L358.2 92.8L354.7 92.8z"/>
<path fill="#e1bc2b" d="M357.6 84.0L359.1 84.0L355.1 92.8L353.7 92.8z"/>
<path fill="#5bcc77" d="M355.7 84.0L358.0 84.0L354.1 92.8L351.8 92.8z"/>
<path fill="#d9bd28" d="M353.0 84.0L356.1 84.0L352.2 92.8L349.1 92.8z"/>
<path fill="#9fc942" d="M351.4 84.0L353.4 84.0L349.5 92.8L347.6 92.8z"/>
<path fill="#edba33" d="M349.9 84.0L351.8 84.0L348.0 92.8L346.2 92.8z"/>
<path fill="#d3bf27" d="M346.8 84.0L350.3 84.0L346.6 92.8L343.2 92.8z"/>
<path fill="#f0ba36" d="M344.9 84.0L347.2 84.0L343.6 92.8L341.4 92.8z"/>
<path fill="#c5c22a" d="M343.6 84.0L345.3 84.0L341.8 92.8L340.1 92.8z"/>
<path fill="#fec438" d="M340.5 84.0L344.0 84.0L340.5 92.8L337.0 92.8z"/>
<path fill="#e1bc2b" d="M338.9 84.0L340.9 84.0L337.4 92.8L335.5 92.8z"/>
<path fill="#f9d82c" d="M337.7 84.0L339.3 84.0L335.9 92.8L334.4 92.8z"/>
<path fill="#fdcc32" d="M335.6 84.0L338.1 84.0L334.8 92.8L332.3 92.8z"/>
<path fill="#fec934" d="M333.2 84.0L336.0 84.0L332.7 92.8L330.0 92.8z"/>
<path fill="#f3ba38" d="M330.0 84.0L333.6 84.0L330.4 92.8L326.9 92.8z"/>
<path fill="#fec437" d="M328.7 84.0L330.4 84.0L327.3 92.8L325.7 92.8z"/>
<path fill="#fec03a" d="M326.6 84.0L329.1 84.0L326.1 92.8L323.6 92.8z"/>
<path fill="#fec636" d="M325.5 84.0L327.0 84.0L324.0 92.8L322.5 92.8z"/>
<path fill="#fec03b" d="M323.0 84.0L325.9 84.0L322.9 92.8L320.2 92.8z"/>
<path fill="#fbd32f" d="M320.4 84.0L323.4 84.0L320.6 92.8L317.6 92.8z"/>
<path fill="#efba35" d="M317.1 84.0L320.8 84.0L318.0 92.8L314.4 92.8z"/>
<path fill="#2d88f6" d="M511.2 92.5L514.8 92.5L505.5 101.3L501.9 101.3z"/>
<path fill="#0db3d3" d="M509.4 92.5L511.6 92.5L502.3 101.3L500.3 101.3z"/>
<path fill="#2994ed" d="M505.6 92.5L509.8 92.5L500.7 101.3L496.6 101.3z"/>
<path fill="#1aacdd" d="M502.7 92.5L506.0 92.5L497.0 101.3L493.7 101.3z"/>
<path fill="#2b92ee" d="M501.1 92.5L503.1 92.5L494.1 101.3L492.2 101.3z"/>
<path fill="#1ea7e1" d="M498.5 92.5L501.5 92.5L492.6 101.3L489.7 101.3z"/>
<path fill="#2994ed" d="M495.4 92.5L498.9 92.5L490.1 101.3L486.7 101.3z"/>
<path fill="#12b1d6" d="M493.5 92.5L495.8 92.5L487.1 101.3L484.8 101.3z"/>
<path fill="#2994ed" d="M490.9 92.5L493.9 92.5L485.2 101.3L482.4 101.3z"/>
<path fill="#02b7cb" d="M488.9 92.5L491.3 92.5L482.8 101.3L480.4 101.3z"/>
<path fill="#2798ea" d="M485.3 92.5L489.3 92.5L480.8 101.3L476.9 101.3z"/>
<path fill="#1fc1b1" d="M483.2 92.5L485.7 92.5L477.3 101.3L474.9 101.3z"/>
<path fill="#2d89f5" d="M479.8 92.5L483.6 92.5L475.3 101.3L471.6 101.3z"/>
<path fill="#259be8" d="M478.1 92.5L480.2 92.5L472.0 101.3L470.0 101.3z"/>
<path fill="#317efb" d="M474.6 92.5L478.5 92.5L470.4 101.3L466.6 101.3z"/>
<path fill="#16afd9" d="M471.7 92.5L475.0 92.5L467.0 101.3L463.8 101.3z"/>
<path fill="#2e87f7" d="M469.3 92.5L472.1 92.5L464.2 101.3L461.5 101.3z"/>
<path fill="#1da9e0" d="M467.2 92.5L469.7 92.5L461.9 101.3L459.4 101.3z"/>
<path fill="#22a1e4" d="M463.5 92.5L467.6 92.5L459.8 101.3L455.9 101.3z"/>
<path fill="#05bbc1" d="M461.0 92.5L463.9 92.5L456.3 101.3L453.5 101.3z"/>
<path fill="#2994ed" d="M458.6 92.5L461.4 92.5L453.9 101.3L451.1 101.3z"/>
<path fill="#06b6ce" d="M457.1 92.5L459.0 92.5L451.5 101.3L449.7 101.3z"/>
<path fill="#1ea7e1" d="M455.1 92.5L457.5 92.5L450.1 101.3L447.7 101.3z"/>
<path fill="#03bbc2" d="M452.6 92.5L455.5 92.5L448.1 101.3L445.4 101.3z"/>
<path fill="#20a4e3" d="M451.0 92.5L453.0 92.5L445.8 101.3L443.8 101.3z"/>
<path fill="#01bac6" d="M448.2 92.5L451.4 92.5L444.2 101.3L441.0 101.3z"/>
<path fill="#09b4d1" d="M446.3 92.5L448.6 92.5L441.4 101.3L439.2 101.3z"/>
<path fill="#2dc4a5" d="M443.4 92.5L446.7 92.5L439.6 101.3L436.4 101.3z"/>
<path fill="#03b7cc" d="M441.4 92.5L443.8 92.5L436.8 101.3L434.5 101.3z"/>
<path fill="#69cd6b" d="M438.5 92.5L441.8 92.5L434.9 101.3L431.6 101.3z"/>
<path fill="#19acdc" d="M435.4 92.5L438.9 92.5L432.0 101.3L428.7 101.3z"/>
<path fill="#32c69f" d="M433.4 92.5L435.8 92.5L429.1 101.3L426.7 101.3z"/>
<path fill="#10b2d5" d="M430.8 92.5L433.8 92.5L427.1 101.3L424.3 101.3z"/>
<path fill="#75cc61" d="M428.5 92.5L431.2 92.5L424.7 101.3L422.0 101.3z"/>
<path fill="#1aabdd" d="M425.7 92.5L428.9 92.5L422.4 101.3L419.4 101.3z"/>
<path fill="#34c79b" d="M424.1 92.5L426.1 92.5L419.8 101.3L417.8 101.3z"/>
<path fill="#0eb2d4" d="M422.4 92.5L424.5 92.5L418.2 101.3L416.1 101.3z"/>
<path fill="#87cb54" d="M420.3 92.5L422.8 92.5L416.5 101.3L414.1 101.3z"/>
<path fill="#19acdc" d="M416.7 92.5L420.7 92.5L414.5 101.3L410.6 101.3z"/>
<path fill="#2dc4a6" d="M414.4 92.5L417.1 92.5L411.0 101.3L408.4 101.3z"/>
<path fill="#0fb2d4" d="M413.0 92.5L414.8 92.5L408.8 101.3L407.0 101.3z"/>
<path fill="#3bc992" d="M410.3 92.5L413.4 92.5L407.4 101.3L404.4 101.3z"/>
<path fill="#32c69e" d="M407.2 92.5L410.7 92.5L404.8 101.3L401.4 101.3z"/>
<path fill="#96ca48" d="M404.3 92.5L407.6 92.5L401.8 101.3L398.7 101.3z"/>
<path fill="#02bac3" d="M402.7 92.5L404.7 92.5L399.1 101.3L397.1 101.3z"/>
<path fill="#41ca8c" d="M400.1 92.5L403.1 92.5L397.5 101.3L394.6 101.3z"/>
<path fill="#17bfb6" d="M398.8 92.5L400.5 92.5L395.0 101.3L393.3 101.3z"/>
<path fill="#2ec5a3" d="M396.5 92.5L399.2 92.5L393.7 101.3L391.1 101.3z"/>
<path fill="#27c2ab" d="M394.6 92.5L396.9 92.5L391.5 101.3L389.2 101.3z"/>
<path fill="#92ca4b" d="M393.1 92.5L395.0 92.5L389.6 101.3L387.8 101.3z"/>
<path fill="#39c995" d="M389.6 92.5L393.5 92.5L388.2 101.3L384.4 101.3z"/>
<path fill="#d8be28" d="M388.4 92.5L390.0 92.5L384.8 101.3L383.2 101.3z"/>
<path fill="#51cc7f" d="M385.8 92.5L388.8 92.5L383.6 101.3L380.8 101.3z"/>
<path fill="#b0c636" d="M383.1 92.5L386.2 92.5L381.2 101.3L378.1 101.3z"/>
<path fill="#01b8ca" d="M381.3 92.5L383.5 92.5L378.5 101.3L376.3 101.3z"/>
<path fill="#a2c840" d="M379.8 92.5L381.7 92.5L376.7 101.3L374.9 101.3z"/>
<path fill="#37c897" d="M376.3 92.5L380.2 92.5L375.3 101.3L371.5 101.3z"/>
<path fill="#e7bb2e" d="M374.4 92.5L376.7 92.5L371.9 101.3L369.7 101.3z"/>
<path fill="#48cb86" d="M371.3 92.5L374.8 92.5L370.1 101.3L366.8 101.3z"/>
<path fill="#8bcb51" d="M370.2 92.5L371.7 92.5L367.2 101.3L365.7 101.3z"/>
<path fill="#57cc7a" d="M368.1 92.5L370.6 92.5L366.1 101.3L363.7 101.3z"/>
<path fill="#c2c22c" d="M366.8 92.5L368.5 92.5L364.1 101.3L362.3 101.3z"/>
<path fill="#61cd71" d="M363.8 92.5L367.2 92.5L362.7 101.3L359.5 101.3z"/>
<path fill="#eeba35" d="M362.6 92.5L364.2 92.5L359.9 101.3L358.3 101.3z"/>
<path fill="#aac739" d="M358.9 92.5L363.0 92.5L358.7 101.3L354.7 101.3z"/>
<path fill="#e4bb2c" d="M357.8 92.5L359.3 92.5L355.1 101.3L353.7 101.3z"/>
<path fill="#a5c83e" d="M354.7 92.5L358.2 92.5L354.1 101.3L350.7 101.3z"/>
<path fill="#eaba31" d="M353.7 92.5L355.1 92.5L351.1 101.3L349.7 101.3z"/>
<path fill="#87cb54" d="M351.8 92.5L354.1 92.5L350.1 101.3L347.9 101.3z"/>
<path fill="#f3ba38" d="M349.1 92.5L352.2 92.5L348.3 101.3L345.3 101.3z"/>
<path fill="#c0c32d" d="M347.6 92.5L349.5 92.5L345.7 101.3L343.8 101.3z"/>
<path fill="#fad62d" d="M346.2 92.5L348.0 92.5L344.2 101.3L342.4 101.3z"/>
<path fill="#eeba34" d="M343.2 92.5L346.6 92.5L342.8 101.3L339.5 101.3z"/>
<path fill="#fec239" d="M341.4 92.5L343.6 92.5L339.9 101.3L337.8 101.3z"/>
<path fill="#dfbc2a" d="M340.1 92.5L341.8 92.5L338.2 101.3L336.6 101.3z"/>
<path fill="#fdcc32" d="M337.0 92.5L340.5 92.5L337.0 101.3L333.6 101.3z"/>
<path fill="#eeba34" d="M335.5 92.5L337.4 92.5L334.0 101.3L332.1 101.3z"/>
<path fill="#fad42e" d="M334.4 92.5L335.9 92.5L332.5 101.3L331.0 101.3z"/>
<path fill="#fad52e" d="M332.3 92.5L334.8 92.5L331.4 101.3L329.0 101.3z"/>
<path fill="#fdce31" d="M330.0 92.5L332.7 92.5L329.4 101.3L326.8 101.3z"/>
<path fill="#fcbd3d" d="M326.9 92.5L330.4 92.5L327.2 101.3L323.8 101.3z"/>
<path fill="#fec934" d="M325.7 92.5L327.3 92.5L324.2 101.3L322.6 101.3z"/>
<path fill="#fec13a" d="M323.6 92.5L326.1 92.5L323.0 101.3L320.6 101.3z"/>
<path fill="#fdcb33" d="M322.5 92.5L324.0 92.5L321.0 101.3L319.6 101.3z"/>
<path fill="#fec537" d="M320.2 92.5L322.9 92.5L320.0 101.3L317.3 101.3z"/>
<path fill="#f8d82c" d="M317.6 92.5L320.6 92.5L317.7 101.3L314.8 101.3z"/>
<path fill="#f7ba3c" d="M314.4 92.5L318.0 92.5L315.2 101.3L311.8 101.3z"/>
<path fill="#2699e9" d="M511.1 101.0L513.9 101.0L507.1 107.3L504.3 107.3z"/>
<path fill="#307ffb" d="M507.6 101.0L511.5 101.0L504.7 107.3L500.9 107.3z"/>
<path fill="#2699e9" d="M505.1 101.0L508.0 101.0L501.3 107.3L498.5 107.3z"/>
<path fill="#2f81fa" d="M501.9 101.0L505.5 101.0L498.9 107.3L495.4 107.3z"/>
<path fill="#14b0d8" d="M500.3 101.0L502.3 101.0L495.8 107.3L493.8 107.3z"/>
<path fill="#2b91ef" d="M496.6 101.0L500.7 101.0L494.2 107.3L490.2 107.3z"/>
<path fill="#1baade" d="M493.7 101.0L497.0 101.0L490.6 107.3L487.4 107.3z"/>
<path fill="#2b90f0" d="M492.2 101.0L494.1 101.0L487.8 107.3L485.9 107.3z"/>
<path fill="#1fa6e2" d="M489.7 101.0L492.6 101.0L486.3 107.3L483.5 107.3z"/>
<path fill="#2b92ee" d="M486.7 101.0L490.1 101.0L483.9 107.3L480.6 107.3z"/>
<path fill="#14b0d8" d="M484.8 101.0L487.1 101.0L481.0 107.3L478.7 107.3z"/>
<path fill="#2a93ed" d="M482.4 101.0L485.2 101.0L479.1 107.3L476.3 107.3z"/>
<path fill="#04b6cd" d="M480.4 101.0L482.8 101.0L476.7 107.3L474.4 107.3z"/>
<path fill="#2b91ef" d="M476.9 101.0L480.8 101.0L474.8 107.3L471.0 107.3z"/>
<path fill="#1dc0b3" d="M474.9 101.0L477.3 101.0L471.4 107.3L469.1 107.3z"/>
<path fill="#2d89f6" d="M471.6 101.0L475.3 101.0L469.5 107.3L465.9 107.3z"/>
<path fill="#269ae8" d="M470.0 101.0L472.0 101.0L466.3 107.3L464.2 107.3z"/>
<path fill="#317dfc" d="M466.6 101.0L470.4 101.0L464.6 107.3L460.9 107.3z"/>
<path fill="#17aeda" d="M463.8 101.0L467.0 101.0L461.3 107.3L458.2 107.3z"/>
<path fill="#2e86f7" d="M461.5 101.0L464.2 101.0L458.6 107.3L456.0 107.3z"/>
<path fill="#17aeda" d="M459.4 101.0L461.9 101.0L456.4 107.3L453.9 107.3z"/>
<path fill="#23a0e5" d="M455.9 101.0L459.8 101.0L454.3 107.3L450.5 107.3z"/>
<path fill="#02bac4" d="M453.5 101.0L456.3 101.0L450.9 107.3L448.1 107.3z"/>
<path fill="#2994ed" d="M451.1 101.0L453.9 101.0L448.5 107.3L445.8 107.3z"/>
<path fill="#05b6ce" d="M449.7 101.0L451.5 101.0L446.2 107.3L444.4 107.3z"/>
<path fill="#1ea7e1" d="M447.7 101.0L450.1 101.0L444.8 107.3L442.5 107.3z"/>
<path fill="#03bbc2" d="M445.4 101.0L448.1 101.0L442.9 107.3L440.2 107.3z"/>
<path fill="#20a4e3" d="M443.8 101.0L445.8 101.0L440.6 107.3L438.7 107.3z"/>
<path fill="#01bac6" d="M441.0 101.0L444.2 101.0L439.1 107.3L436.0 107.3z"/>
<path fill="#09b4d1" d="M439.2 101.0L441.4 101.0L436.4 107.3L434.2 107.3z"/>
<path fill="#31c6a0" d="M436.4 101.0L439.6 101.0L434.6 107.3L431.5 107.3z"/>
<path fill="#07b5cf" d="M434.5 101.0L436.8 101.0L431.9 107.3L429.6 107.3z"/>
<path fill="#69cd6a" d="M431.6 101.0L434.9 101.0L430.0 107.3L426.8 107.3z"/>
<path fill="#19addc" d="M428.7 101.0L432.0 101.0L427.2 107.3L424.0 107.3z"/>
<path fill="#33c69e" d="M426.7 101.0L429.1 101.0L424.4 107.3L422.0 107.3z"/>
<path fill="#0fb2d5" d="M424.3 101.0L427.1 101.0L422.4 107.3L419.6 107.3z"/>
<path fill="#76cc60" d="M422.0 101.0L424.7 101.0L420.0 107.3L417.4 107.3z"/>
<path fill="#1aacdd" d="M419.4 101.0L422.4 101.0L417.8 107.3L414.8 107.3z"/>
<path fill="#26c2ad" d="M417.8 101.0L419.8 101.0L415.2 107.3L413.3 107.3z"/>
<path fill="#07b5cf" d="M416.1 101.0L418.2 101.0L413.7 107.3L411.7 107.3z"/>
<path fill="#b2c535" d="M414.1 101.0L416.5 101.0L412.1 107.3L409.7 107.3z"/>
<path fill="#1aacdd" d="M410.6 101.0L414.5 101.0L410.1 107.3L406.3 107.3z"/>
<path fill="#2bc3a8" d="M408.4 101.0L411.0 101.0L406.7 107.3L404.1 107.3z"/>
<path fill="#12b1d6" d="M407.0 101.0L408.8 101.0L404.5 107.3L402.8 107.3z"/>
<path fill="#38c896" d="M404.4 101.0L407.4 101.0L403.2 107.3L400.3 107.3z"/>
<path fill="#2fc5a2" d="M401.4 101.0L404.8 101.0L400.7 107.3L397.4 107.3z"/>
<path fill="#8fcb4e" d="M398.7 101.0L401.8 101.0L397.8 107.3L394.7 107.3z"/>
<path fill="#14b0d8" d="M397.1 101.0L399.1 101.0L395.1 107.3L393.1 107.3z"/>
<path fill="#3bc992" d="M394.6 101.0L397.5 101.0L393.5 107.3L390.7 107.3z"/>
<path fill="#0dbdbc" d="M393.3 101.0L395.0 101.0L391.1 107.3L389.5 107.3z"/>
<path fill="#29c3aa" d="M391.1 101.0L393.7 101.0L389.9 107.3L387.2 107.3z"/>
<path fill="#1ec0b2" d="M389.2 101.0L391.5 101.0L387.6 107.3L385.5 107.3z"/>
<path fill="#84cc56" d="M387.8 101.0L389.6 101.0L385.9 107.3L384.1 107.3z"/>
<path fill="#33c69e" d="M384.4 101.0L388.2 101.0L384.5 107.3L380.8 107.3z"/>
<path fill="#cac129" d="M383.2 101.0L384.8 101.0L381.2 107.3L379.6 107.3z"/>
<path fill="#44cb8a" d="M380.8 101.0L383.6 101.0L380.0 107.3L377.2 107.3z"/>
<path fill="#9fc942" d="M378.1 101.0L381.2 101.0L377.6 107.3L374.6 107.3z"/>
<path fill="#0ab4d2" d="M376.3 101.0L378.5 101.0L375.0 107.3L372.9 107.3z"/>
<path fill="#8fcb4e" d="M374.9 101.0L376.7 101.0L373.3 107.3L371.5 107.3z"/>
<path fill="#30c5a2" d="M371.5 101.0L375.3 101.0L371.9 107.3L368.2 107.3z"/>
<path fill="#d5be28" d="M369.7 101.0L371.9 101.0L368.6 107.3L366.4 107.3z"/>
<path fill="#3bc993" d="M366.8 101.0L370.1 101.0L366.8 107.3L363.5 107.3z"/>
<path fill="#7dcc5b" d="M365.7 101.0L367.2 101.0L363.9 107.3L362.5 107.3z"/>
<path fill="#43ca8a" d="M363.7 101.0L366.1 101.0L362.9 107.3L360.5 107.3z"/>
<path fill="#adc638" d="M362.3 101.0L364.1 101.0L360.9 107.3L359.2 107.3z"/>
<path fill="#59cc78" d="M359.5 101.0L362.7 101.0L359.6 107.3L356.4 107.3z"/>
<path fill="#e2bc2b" d="M358.3 101.0L359.9 101.0L356.8 107.3L355.3 107.3z"/>
<path fill="#97ca47" d="M354.7 101.0L358.7 101.0L355.7 107.3L351.8 107.3z"/>
<path fill="#d6be28" d="M353.7 101.0L355.1 101.0L352.2 107.3L350.8 107.3z"/>
<path fill="#9cc944" d="M350.7 101.0L354.1 101.0L351.2 107.3L347.9 107.3z"/>
<path fill="#dfbc2a" d="M349.7 101.0L351.1 101.0L348.3 107.3L346.9 107.3z"/>
<path fill="#7ecc5b" d="M347.9 101.0L350.1 101.0L347.3 107.3L345.1 107.3z"/>
<path fill="#ecba32" d="M345.3 101.0L348.3 101.0L345.5 107.3L342.6 107.3z"/>
<path fill="#b5c533" d="M343.8 101.0L345.7 101.0L343.0 107.3L341.1 107.3z"/>
<path fill="#fcd030" d="M342.4 101.0L344.2 101.0L341.5 107.3L339.8 107.3z"/>
<path fill="#e2bc2b" d="M339.5 101.0L342.8 101.0L340.2 107.3L337.0 107.3z"/>
<path fill="#f3ba39" d="M337.8 101.0L339.9 101.0L337.4 107.3L335.3 107.3z"/>
<path fill="#c5c22a" d="M336.6 101.0L338.2 101.0L335.7 107.3L334.1 107.3z"/>
<path fill="#fbbc3d" d="M333.6 101.0L337.0 101.0L334.5 107.3L331.2 107.3z"/>
<path fill="#d5be28" d="M332.1 101.0L334.0 101.0L331.6 107.3L329.7 107.3z"/>
<path fill="#fec239" d="M331.0 101.0L332.5 101.0L330.1 107.3L328.7 107.3z"/>
<path fill="#fec537" d="M329.0 101.0L331.4 101.0L329.1 107.3L326.7 107.3z"/>
<path fill="#fcbc3d" d="M326.8 101.0L329.4 101.0L327.1 107.3L324.6 107.3z"/>
<path fill="#e6bb2d" d="M323.8 101.0L327.2 101.0L325.0 107.3L321.6 107.3z"/>
<path fill="#f7ba3c" d="M322.6 101.0L324.2 101.0L322.0 107.3L320.4 107.3z"/>
<path fill="#ebba32" d="M320.6 101.0L323.0 101.0L320.8 107.3L318.5 107.3z"/>
<path fill="#f8ba3d" d="M319.6 101.0L321.0 101.0L318.9 107.3L317.5 107.3z"/>
<path fill="#f1ba37" d="M317.3 101.0L320.0 101.0L317.9 107.3L315.3 107.3z"/>
<path fill="#fcbd3d" d="M314.8 101.0L317.7 101.0L315.7 107.3L312.8 107.3z"/>
<path fill="#2f81fa" d="M509.8 107.0L512.9 107.0L505.9 113.3L502.9 113.3z"/>
<path fill="#4758f8" d="M506.7 107.0L510.2 107.0L503.3 113.3L499.9 113.3z"/>
<path fill="#2896eb" d="M504.3 107.0L507.1 107.0L500.3 113.3L497.6 113.3z"/>
<path fill="#3a74fe" d="M500.9 107.0L504.7 107.0L498.0 113.3L494.3 113.3z"/>
<path fill="#2798ea" d="M498.5 107.0L501.3 107.0L494.7 113.3L491.9 113.3z"/>
<path fill="#2f82f9" d="M495.4 107.0L498.9 107.0L492.3 113.3L488.9 113.3z"/>
<path fill="#13b0d7" d="M493.8 107.0L495.8 107.0L489.3 113.3L487.3 113.3z"/>
<path fill="#2b91ef" d="M490.2 107.0L494.2 107.0L487.7 113.3L483.8 113.3z"/>
<path fill="#1babde" d="M487.4 107.0L490.6 107.0L484.2 113.3L481.1 113.3z"/>
<path fill="#2b91ef" d="M485.9 107.0L487.8 107.0L481.5 113.3L479.6 113.3z"/>
<path fill="#1ea7e1" d="M483.5 107.0L486.3 107.0L480.0 113.3L477.3 113.3z"/>
<path fill="#2a93ee" d="M480.6 107.0L483.9 107.0L477.7 113.3L474.4 113.3z"/>
<path fill="#0fb2d4" d="M478.7 107.0L481.0 107.0L474.8 113.3L472.6 113.3z"/>
<path fill="#2995ec" d="M476.3 107.0L479.1 107.0L473.0 113.3L470.3 113.3z"/>
<path fill="#02b7cb" d="M474.4 107.0L476.7 107.0L470.7 113.3L468.4 113.3z"/>
<path fill="#2a92ee" d="M471.0 107.0L474.8 107.0L468.8 113.3L465.1 113.3z"/>
<path fill="#21c1b0" d="M469.1 107.0L471.4 107.0L465.5 113.3L463.2 113.3z"/>
<path fill="#2d8af4" d="M465.9 107.0L469.5 107.0L463.6 113.3L460.1 113.3z"/>
<path fill="#259ce7" d="M464.2 107.0L466.3 107.0L460.5 113.3L458.5 113.3z"/>
<path fill="#307ffb" d="M460.9 107.0L464.6 107.0L458.9 113.3L455.2 113.3z"/>
<path fill="#21a3e3" d="M458.2 107.0L461.3 107.0L455.6 113.3L452.6 113.3z"/>
<path fill="#2d88f6" d="M456.0 107.0L458.6 107.0L453.0 113.3L450.4 113.3z"/>
<path fill="#15afd8" d="M453.9 107.0L456.4 107.0L450.8 113.3L448.4 113.3z"/>
<path fill="#22a2e4" d="M450.5 107.0L454.3 107.0L448.8 113.3L445.1 113.3z"/>
<path fill="#05bbc1" d="M448.1 107.0L450.9 107.0L445.5 113.3L442.8 113.3z"/>
<path fill="#2796eb" d="M445.8 107.0L448.5 107.0L443.2 113.3L440.5 113.3z"/>
<path fill="#03b7cb" d="M444.4 107.0L446.2 107.0L440.9 113.3L439.2 113.3z"/>
<path fill="#1da9e0" d="M442.5 107.0L444.8 107.0L439.6 113.3L437.3 113.3z"/>
<path fill="#07bcbf" d="M440.2 107.0L442.9 107.0L437.7 113.3L435.1 113.3z"/>
<path fill="#1fa6e2" d="M438.7 107.0L440.6 107.0L435.5 113.3L433.6 113.3z"/>
<path fill="#07bcbf" d="M436.0 107.0L439.1 107.0L434.0 113.3L431.0 113.3z"/>
<path fill="#09b4d1" d="M434.2 107.0L436.4 107.0L431.4 113.3L429.2 113.3z"/>
<path fill="#34c79c" d="M431.5 107.0L434.6 107.0L429.6 113.3L426.6 113.3z"/>
<path fill="#03b7cc" d="M429.6 107.0L431.9 107.0L427.0 113.3L424.8 113.3z"/>
<path fill="#9ac946" d="M426.8 107.0L430.0 107.0L425.2 113.3L422.0 113.3z"/>
<path fill="#16afd9" d="M424.0 107.0L427.2 107.0L422.4 113.3L419.2 113.3z"/>
<path fill="#35c79a" d="M422.0 107.0L424.4 107.0L419.6 113.3L417.3 113.3z"/>
<path fill="#0ab4d2" d="M419.6 107.0L422.4 107.0L417.7 113.3L415.0 113.3z"/>
<path fill="#a2c840" d="M417.4 107.0L420.0 107.0L415.4 113.3L412.8 113.3z"/>
<path fill="#18aedb" d="M414.8 107.0L417.8 107.0L413.2 113.3L410.3 113.3z"/>
<path fill="#29c3a9" d="M413.3 107.0L415.2 107.0L410.7 113.3L408.8 113.3z"/>
<path fill="#04b6cd" d="M411.7 107.0L413.7 107.0L409.2 113.3L407.2 113.3z"/>
<path fill="#b5c533" d="M409.7 107.0L412.1 107.0L407.6 113.3L405.3 113.3z"/>
<path fill="#1ea7e1" d="M406.3 107.0L410.1 107.0L405.7 113.3L402.0 113.3z"/>
<path fill="#2ac3a9" d="M404.1 107.0L406.7 107.0L402.4 113.3L399.9 113.3z"/>
<path fill="#12b1d6" d="M402.8 107.0L404.5 107.0L400.3 113.3L398.6 113.3z"/>
<path fill="#38c896" d="M400.3 107.0L403.2 107.0L399.0 113.3L396.1 113.3z"/>
<path fill="#2fc5a3" d="M397.4 107.0L400.7 107.0L396.5 113.3L393.3 113.3z"/>
<path fill="#8dcb4f" d="M394.7 107.0L397.8 107.0L393.7 113.3L390.7 113.3z"/>
<path fill="#15afd9" d="M393.1 107.0L395.1 107.0L391.1 113.3L389.1 113.3z"/>
<path fill="#39c994" d="M390.7 107.0L393.5 107.0L389.5 113.3L386.8 113.3z"/>
<path fill="#0abdbd" d="M389.5 107.0L391.1 107.0L387.2 113.3L385.6 113.3z"/>
<path fill="#27c2ac" d="M387.2 107.0L389.9 107.0L386.0 113.3L383.4 113.3z"/>
<path fill="#1bc0b4" d="M385.5 107.0L387.6 107.0L383.8 113.3L381.7 113.3z"/>
<path fill="#7fcc5a" d="M384.1 107.0L385.9 107.0L382.1 113.3L380.3 113.3z"/>
<path fill="#31c6a0" d="M380.8 107.0L384.5 107.0L380.7 113.3L377.1 113.3z"/>
<path fill="#c5c22a" d="M379.6 107.0L381.2 107.0L377.5 113.3L376.0 113.3z"/>
<path fill="#40ca8d" d="M377.2 107.0L380.0 107.0L376.4 113.3L373.6 113.3z"/>
<path fill="#99c946" d="M374.6 107.0L377.6 107.0L374.0 113.3L371.1 113.3z"/>
<path fill="#0eb2d4" d="M372.9 107.0L375.0 107.0L371.5 113.3L369.4 113.3z"/>
<path fill="#88cb53" d="M371.5 107.0L373.3 107.0L369.8 113.3L368.1 113.3z"/>
<path fill="#2ec4a4" d="M368.2 107.0L371.9 107.0L368.5 113.3L364.9 113.3z"/>
<path fill="#cdc028" d="M366.4 107.0L368.6 107.0L365.3 113.3L363.1 113.3z"/>
<path fill="#3dca90" d="M363.5 107.0L366.8 107.0L363.5 113.3L360.3 113.3z"/>
<path fill="#7dcc5b" d="M362.5 107.0L363.9 107.0L360.7 113.3L359.3 113.3z"/>
<path fill="#45cb89" d="M360.5 107.0L362.9 107.0L359.7 113.3L357.3 113.3z"/>
<path fill="#a7c73c" d="M359.2 107.0L360.9 107.0L357.7 113.3L356.1 113.3z"/>
<path fill="#5dcc75" d="M356.4 107.0L359.6 107.0L356.5 113.3L353.4 113.3z"/>
<path fill="#e1bc2b" d="M355.3 107.0L356.8 107.0L353.8 113.3L352.3 113.3z"/>
<path fill="#9cc943" d="M351.8 107.0L355.7 107.0L352.7 113.3L348.9 113.3z"/>
<path fill="#ddbd29" d="M350.8 107.0L352.2 107.0L349.3 113.3L347.9 113.3z"/>
<path fill="#a5c83e" d="M347.9 107.0L351.2 107.0L348.3 113.3L345.0 113.3z"/>
<path fill="#e6bb2d" d="M346.9 107.0L348.3 107.0L345.4 113.3L344.0 113.3z"/>
<path fill="#86cb55" d="M345.1 107.0L347.3 107.0L344.4 113.3L342.3 113.3z"/>
<path fill="#f7ba3c" d="M342.6 107.0L345.5 107.0L342.7 113.3L339.9 113.3z"/>
<path fill="#bcc42f" d="M341.1 107.0L343.0 107.0L340.3 113.3L338.4 113.3z"/>
<path fill="#fdce31" d="M339.8 107.0L341.5 107.0L338.8 113.3L337.1 113.3z"/>
<path fill="#dfbc2a" d="M337.0 107.0L340.2 107.0L337.5 113.3L334.4 113.3z"/>
<path fill="#eeba34" d="M335.3 107.0L337.4 107.0L334.8 113.3L332.7 113.3z"/>
<path fill="#bcc42f" d="M334.1 107.0L335.7 107.0L333.1 113.3L331.6 113.3z"/>
<path fill="#f3ba39" d="M331.2 107.0L334.5 107.0L332.0 113.3L328.8 113.3z"/>
<path fill="#cdc028" d="M329.7 107.0L331.6 107.0L329.2 113.3L327.3 113.3z"/>
<path fill="#fcbc3d" d="M328.7 107.0L330.1 107.0L327.7 113.3L326.3 113.3z"/>
<path fill="#fec03a" d="M326.7 107.0L329.1 107.0L326.7 113.3L324.4 113.3z"/>
<path fill="#f4ba39" d="M324.6 107.0L327.1 107.0L324.8 113.3L322.3 113.3z"/>
<path fill="#ddbd29" d="M321.6 107.0L325.0 107.0L322.7 113.3L319.4 113.3z"/>
<path fill="#edba33" d="M320.4 107.0L322.0 107.0L319.8 113.3L318.3 113.3z"/>
<path fill="#e0bc2b" d="M318.5 107.0L320.8 107.0L318.7 113.3L316.4 113.3z"/>
<path fill="#efba35" d="M317.5 107.0L318.9 107.0L316.8 113.3L315.4 113.3z"/>
<path fill="#e7bb2e" d="M315.3 107.0L317.9 107.0L315.8 113.3L313.2 113.3z"/>
<path fill="#23a1e4" d="M512.8 113.0L515.1 113.0L504.3 122.3L502.1 122.3z"/>
<path fill="#2f80fa" d="M509.2 113.0L513.2 113.0L502.5 122.3L498.7 122.3z"/>
<path fill="#21a4e3" d="M507.0 113.0L509.6 113.0L499.1 122.3L496.6 122.3z"/>
<path fill="#3e6fff" d="M505.5 113.0L507.4 113.0L497.0 122.3L495.1 122.3z"/>
<path fill="#2e84f8" d="M502.9 113.0L505.9 113.0L495.5 122.3L492.6 122.3z"/>
<path fill="#4759f8" d="M499.9 113.0L503.3 113.0L493.0 122.3L489.7 122.3z"/>
<path fill="#259ce7" d="M497.6 113.0L500.3 113.0L490.1 122.3L487.5 122.3z"/>
<path fill="#317dfc" d="M494.3 113.0L498.0 113.0L487.9 122.3L484.3 122.3z"/>
<path fill="#249fe5" d="M491.9 113.0L494.7 113.0L484.7 122.3L482.0 122.3z"/>
<path fill="#2e83f9" d="M488.9 113.0L492.3 113.0L482.4 122.3L479.1 122.3z"/>
<path fill="#06b5cf" d="M487.3 113.0L489.3 113.0L479.5 122.3L477.6 122.3z"/>
<path fill="#2796eb" d="M483.8 113.0L487.7 113.0L478.0 122.3L474.2 122.3z"/>
<path fill="#13b1d7" d="M481.1 113.0L484.2 113.0L474.6 122.3L471.6 122.3z"/>
<path fill="#2698ea" d="M479.6 113.0L481.5 113.0L472.0 122.3L470.2 122.3z"/>
<path fill="#18addb" d="M477.3 113.0L480.0 113.0L470.6 122.3L467.9 122.3z"/>
<path fill="#269be8" d="M474.4 113.0L477.7 113.0L468.3 122.3L465.2 122.3z"/>
<path fill="#02b7ca" d="M472.6 113.0L474.8 113.0L465.6 122.3L463.5 122.3z"/>
<path fill="#259de7" d="M470.3 113.0L473.0 113.0L463.9 122.3L461.2 122.3z"/>
<path fill="#06bcc0" d="M468.4 113.0L470.7 113.0L461.6 122.3L459.4 122.3z"/>
<path fill="#269ae8" d="M465.1 113.0L468.8 113.0L459.8 122.3L456.2 122.3z"/>
<path fill="#1fc1b1" d="M463.2 113.0L465.5 113.0L456.6 122.3L454.4 122.3z"/>
<path fill="#2a93ee" d="M460.1 113.0L463.6 113.0L454.8 122.3L451.4 122.3z"/>
<path fill="#11b1d6" d="M458.5 113.0L460.5 113.0L451.8 122.3L449.9 122.3z"/>
<path fill="#269ae8" d="M455.2 113.0L458.9 113.0L450.3 122.3L446.8 122.3z"/>
<path fill="#1babde" d="M452.6 113.0L455.6 113.0L447.2 122.3L444.2 122.3z"/>
<path fill="#2995ec" d="M450.4 113.0L453.0 113.0L444.6 122.3L442.1 122.3z"/>
<path fill="#06b6ce" d="M448.4 113.0L450.8 113.0L442.5 122.3L440.2 122.3z"/>
<path fill="#1caadf" d="M445.1 113.0L448.8 113.0L440.6 122.3L437.0 122.3z"/>
<path fill="#16bfb7" d="M442.8 113.0L445.5 113.0L437.4 122.3L434.8 122.3z"/>
<path fill="#249fe6" d="M440.5 113.0L443.2 113.0L435.2 122.3L432.6 122.3z"/>
<path fill="#06bcc0" d="M439.2 113.0L440.9 113.0L433.0 122.3L431.3 122.3z"/>
<path fill="#1babde" d="M437.3 113.0L439.6 113.0L431.7 122.3L429.5 122.3z"/>
<path fill="#1cc0b3" d="M435.1 113.0L437.7 113.0L429.9 122.3L427.4 122.3z"/>
<path fill="#18aedb" d="M433.6 113.0L435.5 113.0L427.8 122.3L425.9 122.3z"/>
<path fill="#1ec0b2" d="M431.0 113.0L434.0 113.0L426.3 122.3L423.4 122.3z"/>
<path fill="#01bac5" d="M429.2 113.0L431.4 113.0L423.8 122.3L421.7 122.3z"/>
<path fill="#42ca8b" d="M426.6 113.0L429.6 113.0L422.1 122.3L419.2 122.3z"/>
<path fill="#07bcc0" d="M424.8 113.0L427.0 113.0L419.6 122.3L417.4 122.3z"/>
<path fill="#b3c534" d="M422.0 113.0L425.2 113.0L417.8 122.3L414.8 122.3z"/>
<path fill="#0eb2d4" d="M419.2 113.0L422.4 113.0L415.2 122.3L412.1 122.3z"/>
<path fill="#45cb89" d="M417.3 113.0L419.6 113.0L412.5 122.3L410.3 122.3z"/>
<path fill="#01b8c9" d="M415.0 113.0L417.7 113.0L410.7 122.3L408.1 122.3z"/>
<path fill="#b2c635" d="M412.8 113.0L415.4 113.0L408.5 122.3L406.0 122.3z"/>
<path fill="#0cb3d3" d="M410.3 113.0L413.2 113.0L406.4 122.3L403.6 122.3z"/>
<path fill="#32c69f" d="M408.8 113.0L410.7 113.0L404.0 122.3L402.1 122.3z"/>
<path fill="#02bac4" d="M407.2 113.0L409.2 113.0L402.5 122.3L400.6 122.3z"/>
<path fill="#c6c22a" d="M405.3 113.0L407.6 113.0L401.0 122.3L398.8 122.3z"/>
<path fill="#17aeda" d="M402.0 113.0L405.7 113.0L399.2 122.3L395.5 122.3z"/>
<path fill="#32c69e" d="M399.9 113.0L402.4 113.0L395.9 122.3L393.5 122.3z"/>
<path fill="#05b6ce" d="M398.6 113.0L400.3 113.0L393.9 122.3L392.3 122.3z"/>
<path fill="#3fca8e" d="M396.1 113.0L399.0 113.0L392.7 122.3L389.9 122.3z"/>
<path fill="#38c896" d="M393.3 113.0L396.5 113.0L390.3 122.3L387.2 122.3z"/>
<path fill="#bec32e" d="M390.7 113.0L393.7 113.0L387.6 122.3L384.6 122.3z"/>
<path fill="#13beb8" d="M389.1 113.0L391.1 113.0L385.0 122.3L383.2 122.3z"/>
<path fill="#49cb85" d="M386.8 113.0L389.5 113.0L383.6 122.3L380.9 122.3z"/>
<path fill="#1bc0b4" d="M385.6 113.0L387.2 113.0L381.3 122.3L379.8 122.3z"/>
<path fill="#32c69f" d="M383.4 113.0L386.0 113.0L380.2 122.3L377.7 122.3z"/>
<path fill="#2cc4a7" d="M381.7 113.0L383.8 113.0L378.1 122.3L376.0 122.3z"/>
<path fill="#9ac945" d="M380.3 113.0L382.1 113.0L376.4 122.3L374.7 122.3z"/>
<path fill="#3eca90" d="M377.1 113.0L380.7 113.0L375.1 122.3L371.6 122.3z"/>
<path fill="#dabd28" d="M376.0 113.0L377.5 113.0L372.0 122.3L370.5 122.3z"/>
<path fill="#5acc77" d="M373.6 113.0L376.4 113.0L370.9 122.3L368.3 122.3z"/>
<path fill="#b6c532" d="M371.1 113.0L374.0 113.0L368.7 122.3L365.8 122.3z"/>
<path fill="#01b9c7" d="M369.4 113.0L371.5 113.0L366.2 122.3L364.2 122.3z"/>
<path fill="#aac73a" d="M368.1 113.0L369.8 113.0L364.6 122.3L362.9 122.3z"/>
<path fill="#3bc993" d="M364.9 113.0L368.5 113.0L363.3 122.3L359.8 122.3z"/>
<path fill="#d6be28" d="M363.1 113.0L365.3 113.0L360.2 122.3L358.2 122.3z"/>
<path fill="#68cd6c" d="M360.3 113.0L363.5 113.0L358.6 122.3L355.4 122.3z"/>
<path fill="#a9c73a" d="M359.3 113.0L360.7 113.0L355.8 122.3L354.5 122.3z"/>
<path fill="#70cd65" d="M357.3 113.0L359.7 113.0L354.9 122.3L352.6 122.3z"/>
<path fill="#cac129" d="M356.1 113.0L357.7 113.0L353.0 122.3L351.4 122.3z"/>
<path fill="#91ca4c" d="M353.4 113.0L356.5 113.0L351.8 122.3L348.8 122.3z"/>
<path fill="#fec239" d="M352.3 113.0L353.8 113.0L349.2 122.3L347.7 122.3z"/>
<path fill="#d5be28" d="M348.9 113.0L352.7 113.0L348.1 122.3L344.4 122.3z"/>
<path fill="#fec13a" d="M347.9 113.0L349.3 113.0L344.8 122.3L343.5 122.3z"/>
<path fill="#dcbd29" d="M345.0 113.0L348.3 113.0L343.9 122.3L340.8 122.3z"/>
<path fill="#fec636" d="M344.0 113.0L345.4 113.0L341.2 122.3L339.8 122.3z"/>
<path fill="#d9be28" d="M342.3 113.0L344.4 113.0L340.2 122.3L338.2 122.3z"/>
<path fill="#fdcc32" d="M339.9 113.0L342.7 113.0L338.6 122.3L335.8 122.3z"/>
<path fill="#e1bc2b" d="M338.4 113.0L340.3 113.0L336.2 122.3L334.4 122.3z"/>
<path fill="#f6e028" d="M337.1 113.0L338.8 113.0L334.8 122.3L333.2 122.3z"/>
<path fill="#fcbc3d" d="M334.4 113.0L337.5 113.0L333.6 122.3L330.5 122.3z"/>
<path fill="#fec437" d="M332.7 113.0L334.8 113.0L330.9 122.3L328.9 122.3z"/>
<path fill="#e3bc2c" d="M331.6 113.0L333.1 113.0L329.3 122.3L327.8 122.3z"/>
<path fill="#fec636" d="M328.8 113.0L332.0 113.0L328.2 122.3L325.1 122.3z"/>
<path fill="#f1ba37" d="M327.3 113.0L329.2 113.0L325.5 122.3L323.7 122.3z"/>
<path fill="#fdce31" d="M326.3 113.0L327.7 113.0L324.1 122.3L322.8 122.3z"/>
<path fill="#f9d62d" d="M324.4 113.0L326.7 113.0L323.2 122.3L320.9 122.3z"/>
<path fill="#fec735" d="M322.3 113.0L324.8 113.0L321.3 122.3L318.9 122.3z"/>
<path fill="#f2ba37" d="M319.4 113.0L322.7 113.0L319.3 122.3L316.2 122.3z"/>
<path fill="#fec338" d="M318.3 113.0L319.8 113.0L316.6 122.3L315.0 122.3z"/>
<path fill="#fcbc3d" d="M316.4 113.0L318.7 113.0L315.4 122.3L313.2 122.3z"/>
<path fill="#18bfb6" d="M511.5 122.0L513.7 122.0L502.6 131.3L500.4 131.3z"/>
<path fill="#3776fe" d="M509.1 122.0L511.9 122.0L500.8 131.3L498.2 131.3z"/>
<path fill="#259de7" d="M507.8 122.0L509.5 122.0L498.6 131.3L496.9 131.3z"/>
<path fill="#4269fe" d="M506.7 122.0L508.2 122.0L497.3 131.3L495.9 131.3z"/>
<path fill="#259de7" d="M505.2 122.0L507.1 122.0L496.3 131.3L494.4 131.3z"/>
<path fill="#307efb" d="M503.9 122.0L505.6 122.0L494.8 131.3L493.1 131.3z"/>
<path fill="#23a1e4" d="M502.1 122.0L504.3 122.0L493.5 131.3L491.4 131.3z"/>
<path fill="#2f82f9" d="M498.7 122.0L502.5 122.0L491.8 131.3L488.1 131.3z"/>
<path fill="#1da9e0" d="M496.6 122.0L499.1 122.0L488.5 131.3L486.1 131.3z"/>
<path fill="#3677fe" d="M495.1 122.0L497.0 122.0L486.5 131.3L484.7 131.3z"/>
<path fill="#2d89f5" d="M492.6 122.0L495.5 122.0L485.1 131.3L482.3 131.3z"/>
<path fill="#465efb" d="M489.7 122.0L493.0 122.0L482.7 131.3L479.5 131.3z"/>
<path fill="#23a0e5" d="M487.5 122.0L490.1 122.0L479.9 131.3L477.4 131.3z"/>
<path fill="#2f82f9" d="M484.3 122.0L487.9 122.0L477.8 131.3L474.3 131.3z"/>
<path fill="#21a3e3" d="M482.0 122.0L484.7 122.0L474.7 131.3L472.1 131.3z"/>
<path fill="#2d89f5" d="M479.1 122.0L482.4 122.0L472.5 131.3L469.4 131.3z"/>
<path fill="#01b8c8" d="M477.6 122.0L479.5 122.0L469.8 131.3L467.9 131.3z"/>
<path fill="#259ce7" d="M474.2 122.0L478.0 122.0L468.3 131.3L464.7 131.3z"/>
<path fill="#12b1d7" d="M471.6 122.0L474.6 122.0L465.1 131.3L462.1 131.3z"/>
<path fill="#249ee6" d="M470.2 122.0L472.0 122.0L462.5 131.3L460.8 131.3z"/>
<path fill="#10b2d5" d="M467.9 122.0L470.6 122.0L461.2 131.3L458.6 131.3z"/>
<path fill="#23a0e5" d="M465.2 122.0L468.3 122.0L459.0 131.3L456.0 131.3z"/>
<path fill="#02bbc3" d="M463.5 122.0L465.6 122.0L456.4 131.3L454.3 131.3z"/>
<path fill="#22a2e4" d="M461.2 122.0L463.9 122.0L454.7 131.3L452.2 131.3z"/>
<path fill="#13beb8" d="M459.4 122.0L461.6 122.0L452.6 131.3L450.4 131.3z"/>
<path fill="#23a0e5" d="M456.2 122.0L459.8 122.0L450.8 131.3L447.4 131.3z"/>
<path fill="#2bc3a8" d="M454.4 122.0L456.6 122.0L447.8 131.3L445.6 131.3z"/>
<path fill="#249de6" d="M451.4 122.0L454.8 122.0L446.0 131.3L442.7 131.3z"/>
<path fill="#05b6ce" d="M449.9 122.0L451.8 122.0L443.1 131.3L441.3 131.3z"/>
<path fill="#23a1e5" d="M446.8 122.0L450.3 122.0L441.7 131.3L438.3 131.3z"/>
<path fill="#13b0d7" d="M444.2 122.0L447.2 122.0L438.7 131.3L435.8 131.3z"/>
<path fill="#259be7" d="M442.1 122.0L444.6 122.0L436.2 131.3L433.8 131.3z"/>
<path fill="#01bac6" d="M440.2 122.0L442.5 122.0L434.2 131.3L432.0 131.3z"/>
<path fill="#15afd9" d="M437.0 122.0L440.6 122.0L432.4 131.3L428.9 131.3z"/>
<path fill="#25c2ad" d="M434.8 122.0L437.4 122.0L429.3 131.3L426.8 131.3z"/>
<path fill="#1fa5e2" d="M432.6 122.0L435.2 122.0L427.2 131.3L424.7 131.3z"/>
<path fill="#18bfb6" d="M431.3 122.0L433.0 122.0L425.1 131.3L423.4 131.3z"/>
<path fill="#12b1d6" d="M429.5 122.0L431.7 122.0L423.8 131.3L421.7 131.3z"/>
<path fill="#2bc3a8" d="M427.4 122.0L429.9 122.0L422.1 131.3L419.6 131.3z"/>
<path fill="#12b1d6" d="M425.9 122.0L427.8 122.0L420.0 131.3L418.3 131.3z"/>
<path fill="#2bc3a7" d="M423.4 122.0L426.3 122.0L418.7 131.3L415.8 131.3z"/>
<path fill="#0ebdbb" d="M421.7 122.0L423.8 122.0L416.2 131.3L414.3 131.3z"/>
<path fill="#54cc7c" d="M419.2 122.0L422.1 122.0L414.7 131.3L411.8 131.3z"/>
<path fill="#18bfb6" d="M417.4 122.0L419.6 122.0L412.2 131.3L410.1 131.3z"/>
<path fill="#cdc028" d="M414.8 122.0L417.8 122.0L410.5 131.3L407.6 131.3z"/>
<path fill="#03b6cc" d="M412.1 122.0L415.2 122.0L408.0 131.3L405.0 131.3z"/>
<path fill="#64cd6f" d="M410.3 122.0L412.5 122.0L405.4 131.3L403.3 131.3z"/>
<path fill="#03bbc2" d="M408.1 122.0L410.7 122.0L403.7 131.3L401.1 131.3z"/>
<path fill="#bdc32e" d="M406.0 122.0L408.5 122.0L401.5 131.3L399.1 131.3z"/>
<path fill="#05b6cd" d="M403.6 122.0L406.4 122.0L399.5 131.3L396.8 131.3z"/>
<path fill="#37c898" d="M402.1 122.0L404.0 122.0L397.2 131.3L395.4 131.3z"/>
<path fill="#08bcbf" d="M400.6 122.0L402.5 122.0L395.8 131.3L393.9 131.3z"/>
<path fill="#d1bf27" d="M398.8 122.0L401.0 122.0L394.3 131.3L392.2 131.3z"/>
<path fill="#11b1d6" d="M395.5 122.0L399.2 122.0L392.6 131.3L389.1 131.3z"/>
<path fill="#37c897" d="M393.5 122.0L395.9 122.0L389.5 131.3L387.1 131.3z"/>
<path fill="#01b8c9" d="M392.3 122.0L393.9 122.0L387.5 131.3L386.0 131.3z"/>
<path fill="#48cb86" d="M389.9 122.0L392.7 122.0L386.4 131.3L383.7 131.3z"/>
<path fill="#3eca8f" d="M387.2 122.0L390.3 122.0L384.1 131.3L381.1 131.3z"/>
<path fill="#c8c129" d="M384.6 122.0L387.6 122.0L381.5 131.3L378.6 131.3z"/>
<path fill="#1dc0b3" d="M383.2 122.0L385.0 122.0L379.0 131.3L377.2 131.3z"/>
<path fill="#53cc7d" d="M380.9 122.0L383.6 122.0L377.6 131.3L375.1 131.3z"/>
<path fill="#24c1ae" d="M379.8 122.0L381.3 122.0L375.5 131.3L374.0 131.3z"/>
<path fill="#48cb86" d="M377.7 122.0L380.2 122.0L374.4 131.3L372.0 131.3z"/>
<path fill="#2dc4a5" d="M376.0 122.0L378.1 122.0L372.4 131.3L370.4 131.3z"/>
<path fill="#99c946" d="M374.7 122.0L376.4 122.0L370.8 131.3L369.1 131.3z"/>
<path fill="#48cb86" d="M371.6 122.0L375.1 122.0L369.5 131.3L366.1 131.3z"/>
<path fill="#e2bc2b" d="M370.5 122.0L372.0 122.0L366.5 131.3L365.1 131.3z"/>
<path fill="#67cd6c" d="M368.3 122.0L370.9 122.0L365.5 131.3L362.9 131.3z"/>
<path fill="#c7c12a" d="M365.8 122.0L368.7 122.0L363.3 131.3L360.6 131.3z"/>
<path fill="#1cc0b4" d="M364.2 122.0L366.2 122.0L361.0 131.3L359.0 131.3z"/>
<path fill="#bec32e" d="M362.9 122.0L364.6 122.0L359.4 131.3L357.8 131.3z"/>
<path fill="#55cc7c" d="M359.8 122.0L363.3 122.0L358.2 131.3L354.8 131.3z"/>
<path fill="#debc2a" d="M358.2 122.0L360.2 122.0L355.2 131.3L353.2 131.3z"/>
<path fill="#8acb52" d="M355.4 122.0L358.6 122.0L353.6 131.3L350.6 131.3z"/>
<path fill="#c5c22a" d="M354.5 122.0L355.8 122.0L351.0 131.3L349.7 131.3z"/>
<path fill="#9ac945" d="M352.6 122.0L354.9 122.0L350.1 131.3L347.9 131.3z"/>
<path fill="#ebba32" d="M351.4 122.0L353.0 122.0L348.3 131.3L346.7 131.3z"/>
<path fill="#bbc42f" d="M348.8 122.0L351.8 122.0L347.1 131.3L344.2 131.3z"/>
<path fill="#fbd22f" d="M347.7 122.0L349.2 122.0L344.6 131.3L343.2 131.3z"/>
<path fill="#f3ba39" d="M344.4 122.0L348.1 122.0L343.6 131.3L340.0 131.3z"/>
<path fill="#fcd12f" d="M343.5 122.0L344.8 122.0L340.4 131.3L339.1 131.3z"/>
<path fill="#f7ba3c" d="M340.8 122.0L343.9 122.0L339.5 131.3L336.5 131.3z"/>
<path fill="#fdcc32" d="M339.8 122.0L341.2 122.0L336.9 131.3L335.6 131.3z"/>
<path fill="#e8bb2f" d="M338.2 122.0L340.2 122.0L336.0 131.3L334.0 131.3z"/>
<path fill="#fcd030" d="M335.8 122.0L338.6 122.0L334.4 131.3L331.7 131.3z"/>
<path fill="#f1ba37" d="M334.4 122.0L336.2 122.0L332.1 131.3L330.4 131.3z"/>
<path fill="#f5e427" d="M333.2 122.0L334.8 122.0L330.8 131.3L329.2 131.3z"/>
<path fill="#fec239" d="M330.5 122.0L333.6 122.0L329.6 131.3L326.7 131.3z"/>
<path fill="#f8d92c" d="M328.9 122.0L330.9 122.0L327.1 131.3L325.1 131.3z"/>
<path fill="#efba35" d="M327.8 122.0L329.3 122.0L325.5 131.3L324.1 131.3z"/>
<path fill="#fccf30" d="M325.1 122.0L328.2 122.0L324.5 131.3L321.5 131.3z"/>
<path fill="#febf3c" d="M323.7 122.0L325.5 122.0L321.9 131.3L320.2 131.3z"/>
<path fill="#fbd22f" d="M322.8 122.0L324.1 122.0L320.6 131.3L319.2 131.3z"/>
<path fill="#f7dc2a" d="M320.9 122.0L323.2 122.0L319.6 131.3L317.5 131.3z"/>
<path fill="#fdcd31" d="M318.9 122.0L321.3 122.0L317.9 131.3L315.5 131.3z"/>
<path fill="#f7ba3d" d="M316.2 122.0L319.3 122.0L315.9 131.3L312.9 131.3z"/>
<path fill="#21a3e3" d="M513.7 131.0L515.7 131.0L504.0 140.3L502.1 140.3z"/>
<path fill="#2f82f9" d="M512.1 131.0L514.1 131.0L502.5 140.3L500.5 140.3z"/>
<path fill="#1fa6e1" d="M511.1 131.0L512.5 131.0L500.9 140.3L499.6 140.3z"/>
<path fill="#3974fe" d="M510.1 131.0L511.5 131.0L500.0 140.3L498.6 140.3z"/>
<path fill="#2b90f0" d="M508.4 131.0L510.5 131.0L499.0 140.3L497.0 140.3z"/>
<path fill="#4367fd" d="M506.7 131.0L508.8 131.0L497.4 140.3L495.4 140.3z"/>
<path fill="#2896eb" d="M505.2 131.0L507.1 131.0L495.8 140.3L493.9 140.3z"/>
<path fill="#475dfa" d="M502.2 131.0L505.6 131.0L494.3 140.3L491.1 140.3z"/>
<path fill="#19bfb5" d="M500.4 131.0L502.6 131.0L491.5 140.3L489.4 140.3z"/>
<path fill="#3578fd" d="M498.2 131.0L500.8 131.0L489.8 140.3L487.2 140.3z"/>
<path fill="#269ae8" d="M496.9 131.0L498.6 131.0L487.6 140.3L486.0 140.3z"/>
<path fill="#406dfe" d="M495.9 131.0L497.3 131.0L486.4 140.3L485.0 140.3z"/>
<path fill="#23a1e4" d="M494.4 131.0L496.3 131.0L485.4 140.3L483.6 140.3z"/>
<path fill="#2e83f9" d="M493.1 131.0L494.8 131.0L484.0 140.3L482.4 140.3z"/>
<path fill="#20a5e3" d="M491.4 131.0L493.5 131.0L482.8 140.3L480.7 140.3z"/>
<path fill="#2e87f7" d="M488.1 131.0L491.8 131.0L481.1 140.3L477.6 140.3z"/>
<path fill="#19acdc" d="M486.1 131.0L488.5 131.0L478.0 140.3L475.6 140.3z"/>
<path fill="#327cfc" d="M484.7 131.0L486.5 131.0L476.0 140.3L474.3 140.3z"/>
<path fill="#2c8ef2" d="M482.3 131.0L485.1 131.0L474.7 140.3L472.0 140.3z"/>
<path fill="#4563fd" d="M479.5 131.0L482.7 131.0L472.4 140.3L469.3 140.3z"/>
<path fill="#20a5e2" d="M477.4 131.0L479.9 131.0L469.7 140.3L467.3 140.3z"/>
<path fill="#2d88f6" d="M474.3 131.0L477.8 131.0L467.7 140.3L464.3 140.3z"/>
<path fill="#1da8e0" d="M472.1 131.0L474.7 131.0L464.7 140.3L462.2 140.3z"/>
<path fill="#2c8ef1" d="M469.4 131.0L472.5 131.0L462.6 140.3L459.6 140.3z"/>
<path fill="#05bbc1" d="M467.9 131.0L469.8 131.0L460.0 140.3L458.2 140.3z"/>
<path fill="#23a1e5" d="M464.7 131.0L468.3 131.0L458.6 140.3L455.1 140.3z"/>
<path fill="#08b4d1" d="M462.1 131.0L465.1 131.0L455.5 140.3L452.7 140.3z"/>
<path fill="#23a1e5" d="M460.8 131.0L462.5 131.0L453.1 140.3L451.4 140.3z"/>
<path fill="#06b5cf" d="M458.6 131.0L461.2 131.0L451.8 140.3L449.3 140.3z"/>
<path fill="#1fa5e2" d="M456.0 131.0L459.0 131.0L449.7 140.3L446.8 140.3z"/>
<path fill="#0ebebb" d="M454.3 131.0L456.4 131.0L447.2 140.3L445.2 140.3z"/>
<path fill="#1ea8e1" d="M452.2 131.0L454.7 131.0L445.6 140.3L443.1 140.3z"/>
<path fill="#22c1af" d="M450.4 131.0L452.6 131.0L443.5 140.3L441.4 140.3z"/>
<path fill="#1fa6e2" d="M447.4 131.0L450.8 131.0L441.8 140.3L438.5 140.3z"/>
<path fill="#32c69e" d="M445.6 131.0L447.8 131.0L438.9 140.3L436.8 140.3z"/>
<path fill="#21a3e3" d="M442.7 131.0L446.0 131.0L437.2 140.3L434.1 140.3z"/>
<path fill="#01b9c6" d="M441.3 131.0L443.1 131.0L434.5 140.3L432.7 140.3z"/>
<path fill="#1fa6e2" d="M438.3 131.0L441.7 131.0L433.1 140.3L429.8 140.3z"/>
<path fill="#01b8ca" d="M435.8 131.0L438.7 131.0L430.2 140.3L427.5 140.3z"/>
<path fill="#22a1e4" d="M433.8 131.0L436.2 131.0L427.9 140.3L425.5 140.3z"/>
<path fill="#0bbdbd" d="M432.0 131.0L434.2 131.0L425.9 140.3L423.7 140.3z"/>
<path fill="#09b4d1" d="M428.9 131.0L432.4 131.0L424.1 140.3L420.8 140.3z"/>
<path fill="#2fc5a3" d="M426.8 131.0L429.3 131.0L421.2 140.3L418.8 140.3z"/>
<path fill="#17aedb" d="M424.7 131.0L427.2 131.0L419.2 140.3L416.8 140.3z"/>
<path fill="#26c2ac" d="M423.4 131.0L425.1 131.0L417.2 140.3L415.6 140.3z"/>
<path fill="#05b6ce" d="M421.7 131.0L423.8 131.0L416.0 140.3L413.9 140.3z"/>
<path fill="#36c898" d="M419.6 131.0L422.1 131.0L414.3 140.3L411.9 140.3z"/>
<path fill="#0eb2d4" d="M418.3 131.0L420.0 131.0L412.3 140.3L410.6 140.3z"/>
<path fill="#33c69d" d="M415.8 131.0L418.7 131.0L411.0 140.3L408.3 140.3z"/>
<path fill="#25c2ae" d="M414.3 131.0L416.2 131.0L408.7 140.3L406.8 140.3z"/>
<path fill="#6dcd67" d="M411.8 131.0L414.7 131.0L407.2 140.3L404.4 140.3z"/>
<path fill="#23c1af" d="M410.1 131.0L412.2 131.0L404.8 140.3L402.8 140.3z"/>
<path fill="#d6be28" d="M407.6 131.0L410.5 131.0L403.2 140.3L400.4 140.3z"/>
<path fill="#0abdbd" d="M405.0 131.0L408.0 131.0L400.8 140.3L397.9 140.3z"/>
<path fill="#6ecd67" d="M403.3 131.0L405.4 131.0L398.3 140.3L396.2 140.3z"/>
<path fill="#09bdbe" d="M401.1 131.0L403.7 131.0L396.6 140.3L394.2 140.3z"/>
<path fill="#c5c22a" d="M399.1 131.0L401.5 131.0L394.6 140.3L392.3 140.3z"/>
<path fill="#01b8c9" d="M396.8 131.0L399.5 131.0L392.7 140.3L390.0 140.3z"/>
<path fill="#3bc992" d="M395.4 131.0L397.2 131.0L390.4 140.3L388.7 140.3z"/>
<path fill="#0fbebb" d="M393.9 131.0L395.8 131.0L389.1 140.3L387.3 140.3z"/>
<path fill="#e0bc2a" d="M392.2 131.0L394.3 131.0L387.7 140.3L385.6 140.3z"/>
<path fill="#0cb3d3" d="M389.1 131.0L392.6 131.0L386.0 140.3L382.6 140.3z"/>
<path fill="#3ac993" d="M387.1 131.0L389.5 131.0L383.0 140.3L380.8 140.3z"/>
<path fill="#01b9c6" d="M386.0 131.0L387.5 131.0L381.2 140.3L379.7 140.3z"/>
<path fill="#4dcc82" d="M383.7 131.0L386.4 131.0L380.1 140.3L377.5 140.3z"/>
<path fill="#3ac994" d="M381.1 131.0L384.1 131.0L377.9 140.3L375.0 140.3z"/>
<path fill="#cdc028" d="M378.6 131.0L381.5 131.0L375.4 140.3L372.6 140.3z"/>
<path fill="#0abdbd" d="M377.2 131.0L379.0 131.0L373.0 140.3L371.3 140.3z"/>
<path fill="#35c79b" d="M375.1 131.0L377.6 131.0L371.7 140.3L369.2 140.3z"/>
<path fill="#27c2ab" d="M374.0 131.0L375.5 131.0L369.6 140.3L368.1 140.3z"/>
<path fill="#4dcb82" d="M372.0 131.0L374.4 131.0L368.5 140.3L366.2 140.3z"/>
<path fill="#2fc5a2" d="M370.4 131.0L372.4 131.0L366.6 140.3L364.7 140.3z"/>
<path fill="#9fc942" d="M369.1 131.0L370.8 131.0L365.1 140.3L363.5 140.3z"/>
<path fill="#55cc7c" d="M366.1 131.0L369.5 131.0L363.9 140.3L360.6 140.3z"/>
<path fill="#debc2a" d="M365.1 131.0L366.5 131.0L361.0 140.3L359.6 140.3z"/>
<path fill="#8acb51" d="M362.9 131.0L365.5 131.0L360.0 140.3L357.5 140.3z"/>
<path fill="#d5be28" d="M360.6 131.0L363.3 131.0L357.9 140.3L355.3 140.3z"/>
<path fill="#2bc3a8" d="M359.0 131.0L361.0 131.0L355.7 140.3L353.8 140.3z"/>
<path fill="#c6c22a" d="M357.8 131.0L359.4 131.0L354.2 140.3L352.6 140.3z"/>
<path fill="#6ecd67" d="M354.8 131.0L358.2 131.0L353.0 140.3L349.8 140.3z"/>
<path fill="#ecba32" d="M353.2 131.0L355.2 131.0L350.2 140.3L348.3 140.3z"/>
<path fill="#b0c636" d="M350.6 131.0L353.6 131.0L348.7 140.3L345.8 140.3z"/>
<path fill="#e2bc2b" d="M349.7 131.0L351.0 131.0L346.2 140.3L344.9 140.3z"/>
<path fill="#bdc32e" d="M347.9 131.0L350.1 131.0L345.3 140.3L343.1 140.3z"/>
<path fill="#febe3c" d="M346.7 131.0L348.3 131.0L343.5 140.3L342.0 140.3z"/>
<path fill="#d9bd28" d="M344.2 131.0L347.1 131.0L342.4 140.3L339.6 140.3z"/>
<path fill="#fdcd32" d="M343.2 131.0L344.6 131.0L340.0 140.3L338.6 140.3z"/>
<path fill="#fec03b" d="M340.0 131.0L343.6 131.0L339.0 140.3L335.6 140.3z"/>
<path fill="#fcd030" d="M339.1 131.0L340.4 131.0L336.0 140.3L334.8 140.3z"/>
<path fill="#fabb3d" d="M336.5 131.0L339.5 131.0L335.2 140.3L332.2 140.3z"/>
<path fill="#fdcb33" d="M335.6 131.0L336.9 131.0L332.6 140.3L331.4 140.3z"/>
<path fill="#ecba33" d="M334.0 131.0L336.0 131.0L331.8 140.3L329.9 140.3z"/>
<path fill="#fdce31" d="M331.7 131.0L334.4 131.0L330.3 140.3L327.7 140.3z"/>
<path fill="#f4ba3a" d="M330.4 131.0L332.1 131.0L328.1 140.3L326.4 140.3z"/>
<path fill="#fec339" d="M329.2 131.0L330.8 131.0L326.8 140.3L325.3 140.3z"/>
<path fill="#fdcb32" d="M326.7 131.0L329.6 131.0L325.7 140.3L322.8 140.3z"/>
<path fill="#f8da2b" d="M325.1 131.0L327.1 131.0L323.2 140.3L321.4 140.3z"/>
<path fill="#f2ba37" d="M324.1 131.0L325.5 131.0L321.8 140.3L320.3 140.3z"/>
<path fill="#fdce31" d="M321.5 131.0L324.5 131.0L320.7 140.3L317.8 140.3z"/>
<path fill="#febe3c" d="M320.2 131.0L321.9 131.0L318.2 140.3L316.6 140.3z"/>
<path fill="#fcd030" d="M319.2 131.0L320.6 131.0L317.0 140.3L315.7 140.3z"/>
<path fill="#f8da2b" d="M317.5 131.0L319.6 131.0L316.1 140.3L314.0 140.3z"/>
<path fill="#fdcc32" d="M315.5 131.0L317.9 131.0L314.4 140.3L312.1 140.3z"/>
<path fill="#3e6fff" d="M513.3 140.0L515.5 140.0L503.3 149.3L501.2 149.3z"/>
<path fill="#2a93ee" d="M511.3 140.0L513.7 140.0L501.6 149.3L499.3 149.3z"/>
<path fill="#4854f5" d="M508.2 140.0L511.7 140.0L499.7 149.3L496.3 149.3z"/>
<path fill="#1caadf" d="M505.7 140.0L508.6 140.0L496.7 149.3L494.0 149.3z"/>
<path fill="#3777fe" d="M503.6 140.0L506.1 140.0L494.4 149.3L491.9 149.3z"/>
<path fill="#21a3e3" d="M502.1 140.0L504.0 140.0L492.3 149.3L490.4 149.3z"/>
<path fill="#2e83f9" d="M500.5 140.0L502.5 140.0L490.8 149.3L489.0 149.3z"/>
<path fill="#1da8e0" d="M499.6 140.0L500.9 140.0L489.4 149.3L488.1 149.3z"/>
<path fill="#3677fe" d="M498.6 140.0L500.0 140.0L488.5 149.3L487.2 149.3z"/>
<path fill="#2994ed" d="M497.0 140.0L499.0 140.0L487.6 149.3L485.6 149.3z"/>
<path fill="#406cfe" d="M495.4 140.0L497.4 140.0L486.0 149.3L484.1 149.3z"/>
<path fill="#259be8" d="M493.9 140.0L495.8 140.0L484.5 149.3L482.7 149.3z"/>
<path fill="#4562fc" d="M491.1 140.0L494.3 140.0L483.1 149.3L479.9 149.3z"/>
<path fill="#24c1ae" d="M489.4 140.0L491.5 140.0L480.3 149.3L478.3 149.3z"/>
<path fill="#307efb" d="M487.2 140.0L489.8 140.0L478.7 149.3L476.2 149.3z"/>
<path fill="#249fe5" d="M486.0 140.0L487.6 140.0L476.6 149.3L475.1 149.3z"/>
<path fill="#3a73fe" d="M485.0 140.0L486.4 140.0L475.5 149.3L474.1 149.3z"/>
<path fill="#20a5e2" d="M483.6 140.0L485.4 140.0L474.5 149.3L472.8 149.3z"/>
<path fill="#2d89f6" d="M482.4 140.0L484.0 140.0L473.2 149.3L471.6 149.3z"/>
<path fill="#1ca9df" d="M480.7 140.0L482.8 140.0L472.0 149.3L470.0 149.3z"/>
<path fill="#2d8df2" d="M477.6 140.0L481.1 140.0L470.4 149.3L467.0 149.3z"/>
<path fill="#12b1d7" d="M475.6 140.0L478.0 140.0L467.4 149.3L465.2 149.3z"/>
<path fill="#2e83f9" d="M474.3 140.0L476.0 140.0L465.6 149.3L463.9 149.3z"/>
<path fill="#2994ed" d="M472.0 140.0L474.7 140.0L464.3 149.3L461.7 149.3z"/>
<path fill="#416bfe" d="M469.3 140.0L472.4 140.0L462.1 149.3L459.1 149.3z"/>
<path fill="#1aacdd" d="M467.3 140.0L469.7 140.0L459.5 149.3L457.1 149.3z"/>
<path fill="#2c8ef1" d="M464.3 140.0L467.7 140.0L457.5 149.3L454.4 149.3z"/>
<path fill="#18addb" d="M462.2 140.0L464.7 140.0L454.8 149.3L452.3 149.3z"/>
<path fill="#2995ec" d="M459.6 140.0L462.6 140.0L452.7 149.3L449.8 149.3z"/>
<path fill="#13beb8" d="M458.2 140.0L460.0 140.0L450.2 149.3L448.4 149.3z"/>
<path fill="#1ea7e1" d="M455.1 140.0L458.6 140.0L448.8 149.3L445.5 149.3z"/>
<path fill="#01b9c8" d="M452.7 140.0L455.5 140.0L445.9 149.3L443.2 149.3z"/>
<path fill="#1ea7e1" d="M451.4 140.0L453.1 140.0L443.6 149.3L441.9 149.3z"/>
<path fill="#04b6cd" d="M449.3 140.0L451.8 140.0L442.3 149.3L440.0 149.3z"/>
<path fill="#1da8e0" d="M446.8 140.0L449.7 140.0L440.4 149.3L437.6 149.3z"/>
<path fill="#20c1b1" d="M445.2 140.0L447.2 140.0L438.0 149.3L436.0 149.3z"/>
<path fill="#1caadf" d="M443.1 140.0L445.6 140.0L436.4 149.3L434.0 149.3z"/>
<path fill="#2ec5a4" d="M441.4 140.0L443.5 140.0L434.4 149.3L432.5 149.3z"/>
<path fill="#1aacdd" d="M438.5 140.0L441.8 140.0L432.9 149.3L429.6 149.3z"/>
<path fill="#3bc992" d="M436.8 140.0L438.9 140.0L430.0 149.3L428.0 149.3z"/>
<path fill="#20a4e3" d="M434.1 140.0L437.2 140.0L428.4 149.3L425.4 149.3z"/>
<path fill="#0dbdbc" d="M432.7 140.0L434.5 140.0L425.8 149.3L424.0 149.3z"/>
<path fill="#19addc" d="M429.8 140.0L433.1 140.0L424.4 149.3L421.3 149.3z"/>
<path fill="#07bcbf" d="M427.5 140.0L430.2 140.0L421.7 149.3L419.1 149.3z"/>
<path fill="#1da9e0" d="M425.5 140.0L427.9 140.0L419.5 149.3L417.2 149.3z"/>
<path fill="#1fc0b2" d="M423.7 140.0L425.9 140.0L417.6 149.3L415.5 149.3z"/>
<path fill="#08bcbf" d="M420.8 140.0L424.1 140.0L415.9 149.3L412.7 149.3z"/>
<path fill="#42ca8b" d="M418.8 140.0L421.2 140.0L413.1 149.3L410.8 149.3z"/>
<path fill="#0eb2d4" d="M416.8 140.0L419.2 140.0L411.2 149.3L408.8 149.3z"/>
<path fill="#4dcc82" d="M415.6 140.0L417.2 140.0L409.2 149.3L407.7 149.3z"/>
<path fill="#02bac4" d="M413.9 140.0L416.0 140.0L408.1 149.3L406.1 149.3z"/>
<path fill="#4ecc81" d="M411.9 140.0L414.3 140.0L406.5 149.3L404.2 149.3z"/>
<path fill="#02b7ca" d="M410.6 140.0L412.3 140.0L404.6 149.3L403.0 149.3z"/>
<path fill="#39c995" d="M408.3 140.0L411.0 140.0L403.4 149.3L400.7 149.3z"/>
<path fill="#2bc3a7" d="M406.8 140.0L408.7 140.0L401.1 149.3L399.3 149.3z"/>
<path fill="#7acc5e" d="M404.4 140.0L407.2 140.0L399.7 149.3L397.0 149.3z"/>
<path fill="#30c5a1" d="M402.8 140.0L404.8 140.0L397.4 149.3L395.5 149.3z"/>
<path fill="#dfbc2a" d="M400.4 140.0L403.2 140.0L395.9 149.3L393.2 149.3z"/>
<path fill="#15bfb8" d="M397.9 140.0L400.8 140.0L393.6 149.3L390.8 149.3z"/>
<path fill="#7acc5e" d="M396.2 140.0L398.3 140.0L391.2 149.3L389.2 149.3z"/>
<path fill="#13beb8" d="M394.2 140.0L396.6 140.0L389.6 149.3L387.2 149.3z"/>
<path fill="#cec028" d="M392.3 140.0L394.6 140.0L387.6 149.3L385.4 149.3z"/>
<path fill="#06bcc0" d="M390.0 140.0L392.7 140.0L385.8 149.3L383.3 149.3z"/>
<path fill="#41ca8c" d="M388.7 140.0L390.4 140.0L383.7 149.3L382.0 149.3z"/>
<path fill="#18bfb6" d="M387.3 140.0L389.1 140.0L382.4 149.3L380.7 149.3z"/>
<path fill="#e7bb2e" d="M385.6 140.0L387.7 140.0L381.1 149.3L379.0 149.3z"/>
<path fill="#08b4d0" d="M382.6 140.0L386.0 140.0L379.4 149.3L376.2 149.3z"/>
<path fill="#40ca8d" d="M380.8 140.0L383.0 140.0L376.6 149.3L374.4 149.3z"/>
<path fill="#04bbc1" d="M379.7 140.0L381.2 140.0L374.8 149.3L373.4 149.3z"/>
<path fill="#55cc7b" d="M377.5 140.0L380.1 140.0L373.8 149.3L371.3 149.3z"/>
<path fill="#3fca8e" d="M375.0 140.0L377.9 140.0L371.7 149.3L368.9 149.3z"/>
<path fill="#d4bf28" d="M372.6 140.0L375.4 140.0L369.3 149.3L366.6 149.3z"/>
<path fill="#12beb9" d="M371.3 140.0L373.0 140.0L367.0 149.3L365.3 149.3z"/>
<path fill="#39c895" d="M369.2 140.0L371.7 140.0L365.7 149.3L363.3 149.3z"/>
<path fill="#33c69d" d="M368.1 140.0L369.6 140.0L363.7 149.3L362.3 149.3z"/>
<path fill="#5bcc76" d="M366.2 140.0L368.5 140.0L362.7 149.3L360.5 149.3z"/>
<path fill="#39c895" d="M364.7 140.0L366.6 140.0L360.9 149.3L359.0 149.3z"/>
<path fill="#aec637" d="M363.5 140.0L365.1 140.0L359.4 149.3L357.9 149.3z"/>
<path fill="#71cd65" d="M360.6 140.0L363.9 140.0L358.3 149.3L355.1 149.3z"/>
<path fill="#eeba34" d="M359.6 140.0L361.0 140.0L355.5 149.3L354.2 149.3z"/>
<path fill="#a5c83d" d="M357.5 140.0L360.0 140.0L354.6 149.3L352.2 149.3z"/>
<path fill="#ddbd29" d="M355.3 140.0L357.9 140.0L352.6 149.3L350.0 149.3z"/>
<path fill="#43ca8a" d="M353.8 140.0L355.7 140.0L350.4 149.3L348.6 149.3z"/>
<path fill="#d8be28" d="M352.6 140.0L354.2 140.0L349.0 149.3L347.5 149.3z"/>
<path fill="#a1c840" d="M349.8 140.0L353.0 140.0L347.9 149.3L344.8 149.3z"/>
<path fill="#fec13a" d="M348.3 140.0L350.2 140.0L345.2 149.3L343.3 149.3z"/>
<path fill="#d5be28" d="M345.8 140.0L348.7 140.0L343.7 149.3L340.9 149.3z"/>
<path fill="#fbbc3d" d="M344.9 140.0L346.2 140.0L341.3 149.3L340.1 149.3z"/>
<path fill="#e2bc2b" d="M343.1 140.0L345.3 140.0L340.5 149.3L338.4 149.3z"/>
<path fill="#fccf30" d="M342.0 140.0L343.5 140.0L338.8 149.3L337.3 149.3z"/>
<path fill="#eeba34" d="M339.6 140.0L342.4 140.0L337.7 149.3L335.0 149.3z"/>
<path fill="#fdcd31" d="M338.6 140.0L340.0 140.0L335.4 149.3L334.1 149.3z"/>
<path fill="#fec537" d="M335.6 140.0L339.0 140.0L334.5 149.3L331.2 149.3z"/>
<path fill="#fcd130" d="M334.8 140.0L336.0 140.0L331.6 149.3L330.4 149.3z"/>
<path fill="#fec636" d="M332.2 140.0L335.2 140.0L330.8 149.3L328.0 149.3z"/>
<path fill="#fdcc32" d="M331.4 140.0L332.6 140.0L328.4 149.3L327.1 149.3z"/>
<path fill="#f3ba39" d="M329.9 140.0L331.8 140.0L327.5 149.3L325.7 149.3z"/>
<path fill="#f5e228" d="M327.7 140.0L330.3 140.0L326.1 149.3L323.6 149.3z"/>
<path fill="#fabb3d" d="M326.4 140.0L328.1 140.0L324.0 149.3L322.4 149.3z"/>
<path fill="#fec438" d="M325.3 140.0L326.8 140.0L322.8 149.3L321.3 149.3z"/>
<path fill="#fcd030" d="M322.8 140.0L325.7 140.0L321.7 149.3L319.0 149.3z"/>
<path fill="#f7db2b" d="M321.4 140.0L323.2 140.0L319.4 149.3L317.6 149.3z"/>
<path fill="#f3ba39" d="M320.3 140.0L321.8 140.0L318.0 149.3L316.6 149.3z"/>
<path fill="#fccf30" d="M317.8 140.0L320.7 140.0L317.0 149.3L314.2 149.3z"/>
<path fill="#febf3c" d="M316.6 140.0L318.2 140.0L314.6 149.3L313.0 149.3z"/>
<path fill="#3e70ff" d="M511.3 149.0L513.2 149.0L504.8 155.3L502.9 155.3z"/>
<path fill="#269ae8" d="M509.5 149.0L511.7 149.0L503.3 155.3L501.2 155.3z"/>
<path fill="#4466fd" d="M507.3 149.0L509.9 149.0L501.6 155.3L499.1 155.3z"/>
<path fill="#2d89f5" d="M505.6 149.0L507.7 149.0L499.5 155.3L497.4 155.3z"/>
<path fill="#484cf0" d="M504.4 149.0L506.0 149.0L497.8 155.3L496.2 155.3z"/>
<path fill="#2c8ff0" d="M502.9 149.0L504.8 149.0L496.6 155.3L494.8 155.3z"/>
<path fill="#416bfe" d="M501.2 149.0L503.3 149.0L495.2 155.3L493.1 155.3z"/>
<path fill="#2d8cf3" d="M499.3 149.0L501.6 149.0L493.5 155.3L491.2 155.3z"/>
<path fill="#4853f5" d="M496.3 149.0L499.7 149.0L491.6 155.3L488.4 155.3z"/>
<path fill="#1babde" d="M494.0 149.0L496.7 149.0L488.8 155.3L486.1 155.3z"/>
<path fill="#3579fd" d="M491.9 149.0L494.4 149.0L486.5 155.3L484.2 155.3z"/>
<path fill="#20a4e3" d="M490.4 149.0L492.3 149.0L484.6 155.3L482.7 155.3z"/>
<path fill="#2e85f8" d="M489.0 149.0L490.8 149.0L483.1 155.3L481.3 155.3z"/>
<path fill="#1ca9e0" d="M488.1 149.0L489.4 149.0L481.7 155.3L480.5 155.3z"/>
<path fill="#3579fd" d="M487.2 149.0L488.5 149.0L480.9 155.3L479.5 155.3z"/>
<path fill="#2895ec" d="M485.6 149.0L487.6 149.0L479.9 155.3L478.0 155.3z"/>
<path fill="#3f6efe" d="M484.1 149.0L486.0 149.0L478.4 155.3L476.5 155.3z"/>
<path fill="#259ce7" d="M482.7 149.0L484.5 149.0L476.9 155.3L475.2 155.3z"/>
<path fill="#3f6dfe" d="M479.9 149.0L483.1 149.0L475.6 155.3L472.5 155.3z"/>
<path fill="#27c2ac" d="M478.3 149.0L480.3 149.0L472.9 155.3L470.9 155.3z"/>
<path fill="#2f81fa" d="M476.2 149.0L478.7 149.0L471.3 155.3L468.9 155.3z"/>
<path fill="#22a1e4" d="M475.1 149.0L476.6 149.0L469.3 155.3L467.8 155.3z"/>
<path fill="#3080fb" d="M474.1 149.0L475.5 149.0L468.2 155.3L466.9 155.3z"/>
<path fill="#1ea7e1" d="M472.8 149.0L474.5 149.0L467.3 155.3L465.6 155.3z"/>
<path fill="#3975fe" d="M471.6 149.0L473.2 149.0L466.0 155.3L464.4 155.3z"/>
<path fill="#1baade" d="M470.0 149.0L472.0 149.0L464.8 155.3L462.9 155.3z"/>
<path fill="#2c8ff1" d="M467.0 149.0L470.4 149.0L463.3 155.3L460.0 155.3z"/>
<path fill="#0eb3d4" d="M465.2 149.0L467.4 149.0L460.4 155.3L458.2 155.3z"/>
<path fill="#2e86f7" d="M463.9 149.0L465.6 149.0L458.6 155.3L456.9 155.3z"/>
<path fill="#2895ec" d="M461.7 149.0L464.3 149.0L457.3 155.3L454.8 155.3z"/>
<path fill="#3f6dfe" d="M459.1 149.0L462.1 149.0L455.2 155.3L452.3 155.3z"/>
<path fill="#18aedb" d="M457.1 149.0L459.5 149.0L452.7 155.3L450.4 155.3z"/>
<path fill="#2b91ef" d="M454.4 149.0L457.5 149.0L450.8 155.3L447.7 155.3z"/>
<path fill="#0bb3d2" d="M452.3 149.0L454.8 149.0L448.1 155.3L445.8 155.3z"/>
<path fill="#2797eb" d="M449.8 149.0L452.7 149.0L446.2 155.3L443.3 155.3z"/>
<path fill="#1bc0b4" d="M448.4 149.0L450.2 149.0L443.7 155.3L442.0 155.3z"/>
<path fill="#1caadf" d="M445.5 149.0L448.8 149.0L442.4 155.3L439.1 155.3z"/>
<path fill="#02bac4" d="M443.2 149.0L445.9 149.0L439.5 155.3L436.9 155.3z"/>
<path fill="#1caadf" d="M441.9 149.0L443.6 149.0L437.3 155.3L435.7 155.3z"/>
<path fill="#01b8c9" d="M440.0 149.0L442.3 149.0L436.1 155.3L433.7 155.3z"/>
<path fill="#1babde" d="M437.6 149.0L440.4 149.0L434.1 155.3L431.4 155.3z"/>
<path fill="#26c2ac" d="M436.0 149.0L438.0 149.0L431.8 155.3L429.9 155.3z"/>
<path fill="#19acdc" d="M434.0 149.0L436.4 149.0L430.3 155.3L428.0 155.3z"/>
<path fill="#32c69e" d="M432.5 149.0L434.4 149.0L428.4 155.3L426.5 155.3z"/>
<path fill="#18addb" d="M429.6 149.0L432.9 149.0L426.9 155.3L423.7 155.3z"/>
<path fill="#43ca8b" d="M428.0 149.0L430.0 149.0L424.1 155.3L422.2 155.3z"/>
<path fill="#1ea7e1" d="M425.4 149.0L428.4 149.0L422.6 155.3L419.6 155.3z"/>
<path fill="#17bfb6" d="M424.0 149.0L425.8 149.0L420.0 155.3L418.3 155.3z"/>
<path fill="#249ee6" d="M421.3 149.0L424.4 149.0L418.7 155.3L415.7 155.3z"/>
<path fill="#0fbeba" d="M419.1 149.0L421.7 149.0L416.1 155.3L413.5 155.3z"/>
<path fill="#1aacdd" d="M417.2 149.0L419.5 149.0L413.9 155.3L411.7 155.3z"/>
<path fill="#26c2ad" d="M415.5 149.0L417.6 149.0L412.1 155.3L410.0 155.3z"/>
<path fill="#0cbdbc" d="M412.7 149.0L415.9 149.0L410.4 155.3L407.3 155.3z"/>
<path fill="#48cb86" d="M410.8 149.0L413.1 149.0L407.7 155.3L405.4 155.3z"/>
<path fill="#0bb3d2" d="M408.8 149.0L411.2 149.0L405.8 155.3L403.6 155.3z"/>
<path fill="#4fcc80" d="M407.7 149.0L409.2 149.0L404.0 155.3L402.5 155.3z"/>
<path fill="#02bac4" d="M406.1 149.0L408.1 149.0L402.9 155.3L400.9 155.3z"/>
<path fill="#58cc79" d="M404.2 149.0L406.5 149.0L401.3 155.3L399.1 155.3z"/>
<path fill="#02b7ca" d="M403.0 149.0L404.6 149.0L399.5 155.3L397.9 155.3z"/>
<path fill="#39c895" d="M400.7 149.0L403.4 149.0L398.3 155.3L395.7 155.3z"/>
<path fill="#2bc3a8" d="M399.3 149.0L401.1 149.0L396.1 155.3L394.3 155.3z"/>
<path fill="#78cc5f" d="M397.0 149.0L399.7 149.0L394.7 155.3L392.1 155.3z"/>
<path fill="#2fc5a3" d="M395.5 149.0L397.4 149.0L392.5 155.3L390.6 155.3z"/>
<path fill="#dcbd29" d="M393.2 149.0L395.9 149.0L391.0 155.3L388.4 155.3z"/>
<path fill="#01b9c6" d="M390.8 149.0L393.6 149.0L388.8 155.3L386.1 155.3z"/>
<path fill="#73cd63" d="M389.2 149.0L391.2 149.0L386.5 155.3L384.5 155.3z"/>
<path fill="#0cbdbc" d="M387.2 149.0L389.6 149.0L384.9 155.3L382.6 155.3z"/>
<path fill="#c7c129" d="M385.4 149.0L387.6 149.0L383.0 155.3L380.8 155.3z"/>
<path fill="#02bac4" d="M383.3 149.0L385.8 149.0L381.2 155.3L378.8 155.3z"/>
<path fill="#57cc7a" d="M382.0 149.0L383.7 149.0L379.2 155.3L377.5 155.3z"/>
<path fill="#0ebebb" d="M380.7 149.0L382.4 149.0L377.9 155.3L376.2 155.3z"/>
<path fill="#e0bc2a" d="M379.0 149.0L381.1 149.0L376.6 155.3L374.7 155.3z"/>
<path fill="#10b2d5" d="M376.2 149.0L379.4 149.0L375.1 155.3L371.9 155.3z"/>
<path fill="#39c895" d="M374.4 149.0L376.6 149.0L372.3 155.3L370.2 155.3z"/>
<path fill="#0fbeba" d="M373.4 149.0L374.8 149.0L370.6 155.3L369.2 155.3z"/>
<path fill="#4acb85" d="M371.3 149.0L373.8 149.0L369.6 155.3L367.1 155.3z"/>
<path fill="#3eca8f" d="M368.9 149.0L371.7 149.0L367.5 155.3L364.8 155.3z"/>
<path fill="#cac129" d="M366.6 149.0L369.3 149.0L365.2 155.3L362.6 155.3z"/>
<path fill="#0bbdbc" d="M365.3 149.0L367.0 149.0L363.0 155.3L361.3 155.3z"/>
<path fill="#54cc7d" d="M363.3 149.0L365.7 149.0L361.7 155.3L359.4 155.3z"/>
<path fill="#32c69f" d="M362.3 149.0L363.7 149.0L359.8 155.3L358.4 155.3z"/>
<path fill="#57cc7a" d="M360.5 149.0L362.7 149.0L358.8 155.3L356.7 155.3z"/>
<path fill="#3ac994" d="M359.0 149.0L360.9 149.0L357.1 155.3L355.2 155.3z"/>
<path fill="#a3c83f" d="M357.9 149.0L359.4 149.0L355.6 155.3L354.1 155.3z"/>
<path fill="#70cd65" d="M355.1 149.0L358.3 149.0L354.5 155.3L351.5 155.3z"/>
<path fill="#ecba32" d="M354.2 149.0L355.5 149.0L351.9 155.3L350.5 155.3z"/>
<path fill="#a8c73b" d="M352.2 149.0L354.6 149.0L350.9 155.3L348.6 155.3z"/>
<path fill="#cbc129" d="M350.0 149.0L352.6 149.0L349.0 155.3L346.5 155.3z"/>
<path fill="#61cd71" d="M348.6 149.0L350.4 149.0L346.9 155.3L345.2 155.3z"/>
<path fill="#d4bf27" d="M347.5 149.0L349.0 149.0L345.6 155.3L344.1 155.3z"/>
<path fill="#aac73a" d="M344.8 149.0L347.9 149.0L344.5 155.3L341.4 155.3z"/>
<path fill="#fcbd3d" d="M343.3 149.0L345.2 149.0L341.8 155.3L340.0 155.3z"/>
<path fill="#dbbd29" d="M340.9 149.0L343.7 149.0L340.4 155.3L337.7 155.3z"/>
<path fill="#fabb3d" d="M340.1 149.0L341.3 149.0L338.1 155.3L336.9 155.3z"/>
<path fill="#d8be28" d="M338.4 149.0L340.5 149.0L337.3 155.3L335.3 155.3z"/>
<path fill="#fec239" d="M337.3 149.0L338.8 149.0L335.7 155.3L334.2 155.3z"/>
<path fill="#dfbc2a" d="M335.0 149.0L337.7 149.0L334.6 155.3L332.0 155.3z"/>
<path fill="#fec03a" d="M334.1 149.0L335.4 149.0L332.4 155.3L331.1 155.3z"/>
<path fill="#fcbc3d" d="M331.2 149.0L334.5 149.0L331.5 155.3L328.3 155.3z"/>
<path fill="#fdbd3d" d="M330.4 149.0L331.6 149.0L328.7 155.3L327.5 155.3z"/>
<path fill="#fcbc3d" d="M328.0 149.0L330.8 149.0L327.9 155.3L325.1 155.3z"/>
<path fill="#febe3c" d="M327.1 149.0L328.4 149.0L325.5 155.3L324.3 155.3z"/>
<path fill="#e3bc2c" d="M325.7 149.0L327.5 149.0L324.7 155.3L322.9 155.3z"/>
<path fill="#fbd22f" d="M323.6 149.0L326.1 149.0L323.3 155.3L320.9 155.3z"/>
<path fill="#e3bc2c" d="M322.4 149.0L324.0 149.0L321.3 155.3L319.7 155.3z"/>
<path fill="#f5ba3a" d="M321.3 149.0L322.8 149.0L320.1 155.3L318.7 155.3z"/>
<path fill="#fec13a" d="M319.0 149.0L321.7 149.0L319.1 155.3L316.4 155.3z"/>
<path fill="#fdcb32" d="M317.6 149.0L319.4 149.0L316.8 155.3L315.0 155.3z"/>
<path fill="#e7bb2d" d="M316.6 149.0L318.0 149.0L315.4 155.3L314.1 155.3z"/>
<path fill="#2d8cf3" d="M515.3 155.0L517.9 155.0L500.3 167.3L497.8 167.3z"/>
<path fill="#406dfe" d="M512.5 155.0L515.7 155.0L498.2 167.3L495.2 167.3z"/>
<path fill="#1da8e0" d="M511.6 155.0L512.9 155.0L495.6 167.3L494.4 167.3z"/>
<path fill="#406cfe" d="M510.6 155.0L512.0 155.0L494.8 167.3L493.4 167.3z"/>
<path fill="#10beba" d="M508.5 155.0L511.0 155.0L493.8 167.3L491.5 167.3z"/>
<path fill="#3777fe" d="M506.2 155.0L508.9 155.0L491.9 167.3L489.2 167.3z"/>
<path fill="#259be7" d="M504.4 155.0L506.6 155.0L489.6 167.3L487.5 167.3z"/>
<path fill="#3974fe" d="M502.9 155.0L504.8 155.0L487.9 167.3L486.1 167.3z"/>
<path fill="#249fe6" d="M501.2 155.0L503.3 155.0L486.5 167.3L484.5 167.3z"/>
<path fill="#406dfe" d="M499.1 155.0L501.6 155.0L484.9 167.3L482.6 167.3z"/>
<path fill="#2b91ef" d="M497.4 155.0L499.5 155.0L483.0 167.3L481.0 167.3z"/>
<path fill="#4759f8" d="M496.2 155.0L497.8 155.0L481.4 167.3L479.9 167.3z"/>
<path fill="#19addc" d="M494.8 155.0L496.6 155.0L480.3 167.3L478.6 167.3z"/>
<path fill="#3875fe" d="M493.1 155.0L495.2 155.0L479.0 167.3L477.0 167.3z"/>
<path fill="#2994ed" d="M491.2 155.0L493.5 155.0L477.4 167.3L475.2 167.3z"/>
<path fill="#475cfa" d="M488.4 155.0L491.6 155.0L475.6 167.3L472.5 167.3z"/>
<path fill="#12b1d6" d="M486.1 155.0L488.8 155.0L472.9 167.3L470.4 167.3z"/>
<path fill="#2f81fa" d="M484.2 155.0L486.5 155.0L470.8 167.3L468.6 167.3z"/>
<path fill="#1aacdd" d="M482.7 155.0L484.6 155.0L469.0 167.3L467.2 167.3z"/>
<path fill="#2c8ef2" d="M481.3 155.0L483.1 155.0L467.6 167.3L465.9 167.3z"/>
<path fill="#19acdc" d="M480.5 155.0L481.7 155.0L466.3 167.3L465.1 167.3z"/>
<path fill="#2e84f9" d="M479.5 155.0L480.9 155.0L465.5 167.3L464.2 167.3z"/>
<path fill="#259be8" d="M478.0 155.0L479.9 155.0L464.6 167.3L462.8 167.3z"/>
<path fill="#3479fd" d="M476.5 155.0L478.4 155.0L463.2 167.3L461.4 167.3z"/>
<path fill="#1fa5e2" d="M475.2 155.0L476.9 155.0L461.8 167.3L460.2 167.3z"/>
<path fill="#3479fd" d="M472.5 155.0L475.6 155.0L460.6 167.3L457.6 167.3z"/>
<path fill="#33c79d" d="M470.9 155.0L472.9 155.0L458.0 167.3L456.2 167.3z"/>
<path fill="#2d8bf4" d="M468.9 155.0L471.3 155.0L456.6 167.3L454.3 167.3z"/>
<path fill="#1caadf" d="M467.8 155.0L469.3 155.0L454.7 167.3L453.2 167.3z"/>
<path fill="#2d8af4" d="M466.9 155.0L468.2 155.0L453.6 167.3L452.4 167.3z"/>
<path fill="#15afd9" d="M465.6 155.0L467.3 155.0L452.8 167.3L451.2 167.3z"/>
<path fill="#2f80fa" d="M464.4 155.0L466.0 155.0L451.6 167.3L450.1 167.3z"/>
<path fill="#10b2d5" d="M462.9 155.0L464.8 155.0L450.5 167.3L448.6 167.3z"/>
<path fill="#2699e9" d="M460.0 155.0L463.3 155.0L449.0 167.3L445.9 167.3z"/>
<path fill="#01b9c7" d="M458.2 155.0L460.4 155.0L446.3 167.3L444.2 167.3z"/>
<path fill="#2b91ef" d="M456.9 155.0L458.6 155.0L444.6 167.3L443.1 167.3z"/>
<path fill="#249fe5" d="M454.8 155.0L457.3 155.0L443.5 167.3L441.0 167.3z"/>
<path fill="#337afd" d="M452.3 155.0L455.2 155.0L441.4 167.3L438.7 167.3z"/>
<path fill="#06b5cf" d="M450.4 155.0L452.7 155.0L439.1 167.3L436.9 167.3z"/>
<path fill="#259ce7" d="M447.7 155.0L450.8 155.0L437.3 167.3L434.4 167.3z"/>
<path fill="#02bac5" d="M445.8 155.0L448.1 155.0L434.8 167.3L432.6 167.3z"/>
<path fill="#23a1e5" d="M443.3 155.0L446.2 155.0L433.0 167.3L430.3 167.3z"/>
<path fill="#31c69f" d="M442.0 155.0L443.7 155.0L430.7 167.3L429.0 167.3z"/>
<path fill="#10b2d5" d="M439.1 155.0L442.4 155.0L429.4 167.3L426.3 167.3z"/>
<path fill="#19bfb5" d="M436.9 155.0L439.5 155.0L426.7 167.3L424.2 167.3z"/>
<path fill="#0eb2d4" d="M435.7 155.0L437.3 155.0L424.6 167.3L423.1 167.3z"/>
<path fill="#10beba" d="M433.7 155.0L436.1 155.0L423.5 167.3L421.3 167.3z"/>
<path fill="#0cb3d3" d="M431.4 155.0L434.1 155.0L421.7 167.3L419.1 167.3z"/>
<path fill="#35c79b" d="M429.9 155.0L431.8 155.0L419.5 167.3L417.7 167.3z"/>
<path fill="#07b5d0" d="M428.0 155.0L430.3 155.0L418.1 167.3L415.9 167.3z"/>
<path fill="#52cc7e" d="M426.5 155.0L428.4 155.0L416.3 167.3L414.5 167.3z"/>
<path fill="#0eb2d4" d="M423.7 155.0L426.9 155.0L414.9 167.3L411.9 167.3z"/>
<path fill="#7ccc5c" d="M422.2 155.0L424.1 155.0L412.3 167.3L410.5 167.3z"/>
<path fill="#13b0d7" d="M419.6 155.0L422.6 155.0L410.9 167.3L408.1 167.3z"/>
<path fill="#2cc4a7" d="M418.3 155.0L420.0 155.0L408.5 167.3L406.8 167.3z"/>
<path fill="#1ea7e1" d="M415.7 155.0L418.7 155.0L407.2 167.3L404.3 167.3z"/>
<path fill="#26c2ad" d="M413.5 155.0L416.1 155.0L404.7 167.3L402.3 167.3z"/>
<path fill="#0eb2d4" d="M411.7 155.0L413.9 155.0L402.7 167.3L400.6 167.3z"/>
<path fill="#31c6a1" d="M410.0 155.0L412.1 155.0L401.0 167.3L399.1 167.3z"/>
<path fill="#1ec0b2" d="M407.3 155.0L410.4 155.0L399.5 167.3L396.5 167.3z"/>
<path fill="#59cc78" d="M405.4 155.0L407.7 155.0L396.9 167.3L394.7 167.3z"/>
<path fill="#0bbdbd" d="M403.6 155.0L405.8 155.0L395.1 167.3L393.0 167.3z"/>
<path fill="#57cc7a" d="M402.5 155.0L404.0 155.0L393.4 167.3L392.0 167.3z"/>
<path fill="#10beba" d="M400.9 155.0L402.9 155.0L392.4 167.3L390.5 167.3z"/>
<path fill="#6bcd69" d="M399.1 155.0L401.3 155.0L390.9 167.3L388.8 167.3z"/>
<path fill="#0cbdbc" d="M397.9 155.0L399.5 155.0L389.2 167.3L387.7 167.3z"/>
<path fill="#46cb88" d="M395.7 155.0L398.3 155.0L388.1 167.3L385.6 167.3z"/>
<path fill="#33c69d" d="M394.3 155.0L396.1 155.0L386.0 167.3L384.3 167.3z"/>
<path fill="#8ccb50" d="M392.1 155.0L394.7 155.0L384.7 167.3L382.3 167.3z"/>
<path fill="#37c897" d="M390.6 155.0L392.5 155.0L382.7 167.3L380.9 167.3z"/>
<path fill="#eaba31" d="M388.4 155.0L391.0 155.0L381.3 167.3L378.8 167.3z"/>
<path fill="#0bbdbd" d="M386.1 155.0L388.8 155.0L379.2 167.3L376.6 167.3z"/>
<path fill="#88cb53" d="M384.5 155.0L386.5 155.0L377.0 167.3L375.1 167.3z"/>
<path fill="#2bc3a8" d="M382.6 155.0L384.9 155.0L375.5 167.3L373.3 167.3z"/>
<path fill="#dcbd29" d="M380.8 155.0L383.0 155.0L373.7 167.3L371.7 167.3z"/>
<path fill="#10beba" d="M378.8 155.0L381.2 155.0L372.1 167.3L369.7 167.3z"/>
<path fill="#6ccd68" d="M377.5 155.0L379.2 155.0L370.1 167.3L368.6 167.3z"/>
<path fill="#22c1b0" d="M376.2 155.0L377.9 155.0L369.0 167.3L367.4 167.3z"/>
<path fill="#efba35" d="M374.7 155.0L376.6 155.0L367.8 167.3L365.9 167.3z"/>
<path fill="#02b7cb" d="M371.9 155.0L375.1 155.0L366.3 167.3L363.3 167.3z"/>
<path fill="#45cb89" d="M370.2 155.0L372.3 155.0L363.7 167.3L361.7 167.3z"/>
<path fill="#26c2ac" d="M369.2 155.0L370.6 155.0L362.1 167.3L360.7 167.3z"/>
<path fill="#67cd6c" d="M367.1 155.0L369.6 155.0L361.1 167.3L358.8 167.3z"/>
<path fill="#62cd71" d="M364.8 155.0L367.5 155.0L359.2 167.3L356.6 167.3z"/>
<path fill="#d2bf27" d="M362.6 155.0L365.2 155.0L357.0 167.3L354.6 167.3z"/>
<path fill="#30c5a1" d="M361.3 155.0L363.0 155.0L355.0 167.3L353.4 167.3z"/>
<path fill="#7ccc5c" d="M359.4 155.0L361.7 155.0L353.8 167.3L351.6 167.3z"/>
<path fill="#4fcc80" d="M358.4 155.0L359.8 155.0L352.0 167.3L350.7 167.3z"/>
<path fill="#89cb52" d="M356.7 155.0L358.8 155.0L351.1 167.3L349.0 167.3z"/>
<path fill="#6ccd68" d="M355.2 155.0L357.1 155.0L349.4 167.3L347.7 167.3z"/>
<path fill="#ccc028" d="M354.1 155.0L355.6 155.0L348.1 167.3L346.6 167.3z"/>
<path fill="#b0c636" d="M351.5 155.0L354.5 155.0L347.0 167.3L344.2 167.3z"/>
<path fill="#fdca33" d="M350.5 155.0L351.9 155.0L344.6 167.3L343.3 167.3z"/>
<path fill="#e2bc2b" d="M348.6 155.0L350.9 155.0L343.7 167.3L341.5 167.3z"/>
<path fill="#f4ba39" d="M346.5 155.0L349.0 155.0L341.9 167.3L339.5 167.3z"/>
<path fill="#a6c83d" d="M345.2 155.0L346.9 155.0L339.9 167.3L338.2 167.3z"/>
<path fill="#febe3c" d="M344.1 155.0L345.6 155.0L338.6 167.3L337.2 167.3z"/>
<path fill="#debd29" d="M341.4 155.0L344.5 155.0L337.6 167.3L334.7 167.3z"/>
<path fill="#fec537" d="M340.0 155.0L341.8 155.0L335.1 167.3L333.4 167.3z"/>
<path fill="#f2ba38" d="M337.7 155.0L340.4 155.0L333.8 167.3L331.2 167.3z"/>
<path fill="#fec735" d="M336.9 155.0L338.1 155.0L331.6 167.3L330.4 167.3z"/>
<path fill="#f0ba36" d="M335.3 155.0L337.3 155.0L330.8 167.3L328.9 167.3z"/>
<path fill="#fec13a" d="M334.2 155.0L335.7 155.0L329.3 167.3L328.0 167.3z"/>
<path fill="#f6ba3b" d="M332.0 155.0L334.6 155.0L328.4 167.3L325.9 167.3z"/>
<path fill="#fdcb33" d="M331.1 155.0L332.4 155.0L326.3 167.3L325.0 167.3z"/>
<path fill="#feca33" d="M328.3 155.0L331.5 155.0L325.4 167.3L322.4 167.3z"/>
<path fill="#fec835" d="M327.5 155.0L328.7 155.0L322.8 167.3L321.6 167.3z"/>
<path fill="#feca33" d="M325.1 155.0L327.9 155.0L322.0 167.3L319.4 167.3z"/>
<path fill="#feca33" d="M324.3 155.0L325.5 155.0L319.8 167.3L318.7 167.3z"/>
<path fill="#f8ba3d" d="M322.9 155.0L324.7 155.0L319.1 167.3L317.4 167.3z"/>
<path fill="#f6df29" d="M320.9 155.0L323.3 155.0L317.8 167.3L315.5 167.3z"/>
<path fill="#f5ba3b" d="M319.7 155.0L321.3 155.0L315.9 167.3L314.4 167.3z"/>
<path fill="#fec13a" d="M318.7 155.0L320.1 155.0L314.8 167.3L313.4 167.3z"/>
<path fill="#fdce31" d="M316.4 155.0L319.1 155.0L313.8 167.3L311.3 167.3z"/>
</g>
<rect x="322.5" y="10.0" width="178.5" height="155.0" fill="none" stroke="#333" stroke-opacity="0.3" stroke-width="0.6"/>
<rect x="509.5" y="10.0" width="10.8" height="155.5" fill="url(#pg)"/>
<rect x="509.5" y="10.0" width="10.8" height="155.5" fill="none" stroke="#333" stroke-opacity="0.8" stroke-width="0.6"/>
<text class="tc" x="523.8" y="170.1">0</text>
<text class="tc" x="523.8" y="139.1">0.2</text>
<path d="M520.3 134.9h-1.6" stroke="#333" stroke-width="0.6"/>
<text class="tc" x="523.8" y="108.1">0.4</text>
<path d="M520.3 103.9h-1.6" stroke="#333" stroke-width="0.6"/>
<text class="tc" x="523.8" y="77.2">0.6</text>
<path d="M520.3 73.0h-1.6" stroke="#333" stroke-width="0.6"/>
<text class="tc" x="523.8" y="46.2">0.8</text>
<path d="M520.3 42.0h-1.6" stroke="#333" stroke-width="0.6"/>
<text class="tc" x="524.3" y="15.2">1</text>
<text class="t" x="318.7" y="170.0" text-anchor="end">300</text>
<text class="t" x="318.7" y="139.6" text-anchor="end">350</text>
<text class="t" x="318.7" y="109.2" text-anchor="end">400</text>
<text class="t" x="318.7" y="78.9" text-anchor="end">450</text>
<text class="t" x="318.7" y="48.5" text-anchor="end">500</text>
<text class="t" x="318.7" y="18.1" text-anchor="end">550</text>
<text class="t" x="322.7" y="181.7" text-anchor="middle">2</text>
<text class="t" x="367.1" y="181.7" text-anchor="middle">3</text>
<text class="t" x="411.6" y="181.7" text-anchor="middle">4</text>
<text class="t" x="456.1" y="181.7" text-anchor="middle">5</text>
<text class="t" x="500.5" y="181.7" text-anchor="middle">6</text>
<text class="l" x="347.1" y="196.8" word-spacing="2.3">Reverberation time (s)</text>
<text class="l" transform="translate(293.2 87.3) rotate(-90)" text-anchor="middle">Frequency (Hz)</text>
<text class="cap" x="420.6" y="217.4" text-anchor="middle">(<tspan>b</tspan>)</text>
<g fill="none" stroke="#777" stroke-width="0.9">
<rect x="144.9" y="257.5" width="283.5" height="232.6"/>
<path d="M192.2 490.1v-2.9M192.2 257.5v2.9M239.4 490.1v-2.9M239.4 257.5v2.9M286.6 490.1v-2.9M286.6 257.5v2.9M333.9 490.1v-2.9M333.9 257.5v2.9M381.1 490.1v-2.9M381.1 257.5v2.9M144.9 443.6h2.9M428.4 443.6h-2.9M144.9 397.1h2.9M428.4 397.1h-2.9M144.9 350.5h2.9M428.4 350.5h-2.9M144.9 304.0h2.9M428.4 304.0h-2.9"/>
</g>
<path d="M145.0 488.0 L170.0 488.4 L200.0 489.0 L240.0 489.1 L270.0 489.0 L288.0 488.7 L294.5 488.1 L296.5 487.5 L299.1 485.6 L301.9 482.8 L305.6 478.6 L308.3 474.6 L311.0 468.2 L312.9 461.9 L315.0 452.8 L317.4 441.0 L320.7 415.5 L323.0 381.4 L323.6 370.0 L325.9 341.0 L327.5 320.0 L329.5 290.0 L331.3 265.0 L332.3 258.0 L333.3 265.0 L334.8 300.0 L336.3 340.0 L337.7 370.0 L338.9 392.7 L340.5 415.5 L342.2 432.0 L343.4 436.0 L344.5 437.0 L346.8 436.6 L349.1 440.5 L351.8 451.8 L355.9 463.2 L360.5 471.1 L363.9 474.8 L367.3 475.6 L370.7 478.6 L376.4 481.8 L383.2 483.4 L394.6 483.7 L412.9 483.7 L420.1 484.6 L428.0 485.7" fill="none" stroke="#0000ff" stroke-width="1.5" stroke-linejoin="round"/>
<path d="M145.0 481.9 L185.0 485.0 L227.0 488.4 L250.0 488.8 L269.0 489.0 L273.7 487.7 L278.3 484.8 L285.5 483.8 L292.8 484.6 L296.5 485.3 L301.9 483.3 L306.5 480.4 L309.2 477.3 L311.4 471.0 L314.7 461.9 L317.4 454.6 L320.1 441.8 L322.3 429.1 L324.1 404.1 L325.7 381.4 L326.4 370.0 L328.2 335.0 L330.0 295.0 L331.5 266.0 L332.3 258.0 L333.1 266.0 L334.4 300.0 L335.8 340.0 L337.0 370.0 L338.4 392.7 L340.5 420.0 L343.4 437.0 L346.8 445.0 L350.2 458.6 L354.8 467.7 L360.5 473.4 L366.1 476.8 L373.0 480.0 L380.9 481.0 L390.0 480.9 L398.3 480.0 L412.9 479.1 L428.0 478.6" fill="none" stroke="#ff0000" stroke-width="1.5" stroke-dasharray="4.5 3" stroke-linejoin="round"/>
<text class="t2" x="143.4" y="506.9" text-anchor="middle">-3</text>
<text class="t2" x="190.7" y="506.9" text-anchor="middle">-2</text>
<text class="t2" x="237.9" y="506.9" text-anchor="middle">-1</text>
<text class="t2" x="286.6" y="506.9" text-anchor="middle">0</text>
<text class="t2" x="333.9" y="506.9" text-anchor="middle">1</text>
<text class="t2" x="381.1" y="506.9" text-anchor="middle">2</text>
<text class="t2" x="428.4" y="506.9" text-anchor="middle">3</text>
<text class="t2" x="140.6" y="495.1" text-anchor="end">0</text>
<text class="t2" x="140.6" y="448.6" text-anchor="end">0.2</text>
<text class="t2" x="140.6" y="402.1" text-anchor="end">0.4</text>
<text class="t2" x="140.6" y="355.5" text-anchor="end">0.6</text>
<text class="t2" x="140.6" y="309.0" text-anchor="end">0.8</text>
<text class="t2" x="140.6" y="262.5" text-anchor="end">1</text>
<text class="l" x="286.4" y="520.5" text-anchor="middle" font-style="italic">β</text>
<text class="l" transform="translate(117.8 374) rotate(-90)" text-anchor="middle"><tspan font-style="italic">E</tspan>(<tspan font-style="italic">β</tspan>)</text>
<rect x="158.2" y="276.7" width="146.9" height="32.9" fill="#fff" stroke="#333" stroke-opacity="0.6" stroke-width="0.8"/>
<path d="M160.5 285.3H180.1" stroke="#0000ff" stroke-width="1.6"/>
<path d="M160.5 301.1H180.1" stroke="#ff0000" stroke-width="1.6" stroke-dasharray="4.5 3"/>
<text class="l" x="182.2" y="289.2" word-spacing="1.5">Mono-staitc Lambert</text>
<text class="l" x="182.2" y="304.6" word-spacing="1.7">Bi-staitc Lambert</text>
<text class="cap" x="281.8" y="541.8" text-anchor="middle">(<tspan>c</tspan>)</text>
</svg></body></html>
